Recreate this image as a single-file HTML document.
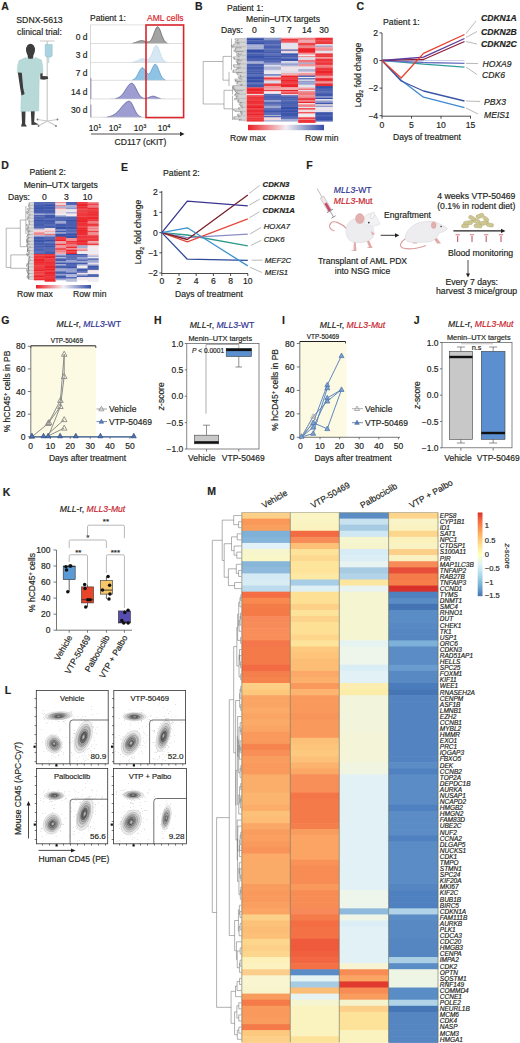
<!DOCTYPE html>
<html><head><meta charset="utf-8"><style>
html,body{margin:0;padding:0;background:#fff;width:520px;height:1043px;overflow:hidden}
svg{display:block;font-family:"Liberation Sans",sans-serif}
text{stroke-width:0.18px;paint-order:stroke}
</style></head><body>
<svg width="520" height="1043" viewBox="0 0 520 1043">
<text x="1.30" y="9.98" font-size="10.5" font-weight="bold" fill="#231f20" stroke="#231f20">A</text>
<text x="39.50" y="22.93" font-size="8.7" text-anchor="middle" fill="#231f20" stroke="#231f20">SDNX-5613</text>
<text x="39.50" y="34.63" font-size="8.7" text-anchor="middle" fill="#231f20" stroke="#231f20">clinical trial:</text>
<line x1="47.20" y1="41.00" x2="47.20" y2="121.00" stroke="#c9c9c9" stroke-width="1.2"/>
<line x1="40.00" y1="41.00" x2="54.50" y2="41.00" stroke="#c9c9c9" stroke-width="1.0"/>
<path d="M45.2,44.5 L52.2,44.5 L52.2,56 Q48.7,59 45.2,56 Z" fill="#a9d3e0" stroke="#8fbccb" stroke-width="0.5"/>
<line x1="48.70" y1="58.00" x2="48.70" y2="63.00" stroke="#9cc8d5" stroke-width="0.8"/>
<line x1="47.20" y1="121.00" x2="37.50" y2="119.50" stroke="#c9c9c9" stroke-width="1.1"/>
<circle cx="37.5" cy="119.5" r="0.9" fill="#777"/>
<line x1="47.20" y1="121.00" x2="57.50" y2="119.50" stroke="#c9c9c9" stroke-width="1.1"/>
<circle cx="57.5" cy="119.5" r="0.9" fill="#777"/>
<line x1="47.20" y1="121.00" x2="38.50" y2="126.00" stroke="#c9c9c9" stroke-width="1.1"/>
<circle cx="38.5" cy="126" r="0.9" fill="#777"/>
<line x1="47.20" y1="121.00" x2="56.00" y2="126.00" stroke="#c9c9c9" stroke-width="1.1"/>
<circle cx="56" cy="126" r="0.9" fill="#777"/>
<path d="M21.5,110 L25.5,110 L25.2,124 L27,126.5 L21,126.5 L22,123 Z" fill="#3d3d3d" stroke="none" stroke-width="0.8"/>
<path d="M30.8,110 L34.8,110 L34.2,122 L39,124.5 L31.5,125 Z" fill="#3d3d3d" stroke="none" stroke-width="0.8"/>
<path d="M27.5,54 L33.5,54 L33,59 L28,59 Z" fill="#3d3d3d" stroke="none" stroke-width="0.8"/>
<ellipse cx="30.5" cy="50" rx="4.5" ry="6.2" fill="#3d3d3d"/>
<path d="M25.5,57.5 Q30.5,60.5 35.5,57.5 L41.5,60 Q43.3,66 43,72.8 L39.8,73.5 L39.2,80 L38.8,111 L20.8,111.5 L21.5,80 L21.8,73 L17.3,72.5 Q16.8,66 19,60.5 Z" fill="#b7d9d8" stroke="#a5cccb" stroke-width="0.4"/>
<path d="M17.8,72.6 L21.8,72.8 L23.2,88 L24.6,94 L21.6,95.5 L20.3,89 Z" fill="#3d3d3d" stroke="none" stroke-width="0.8"/>
<path d="M40.2,73.5 L42.8,73.2 L42.5,76 L47.5,76.3 L48.3,78.8 L44,79.8 L40.3,79.2 Z" fill="#3d3d3d" stroke="none" stroke-width="0.8"/>
<text x="90.00" y="21.06" font-size="8.5" fill="#231f20" stroke="#231f20">Patient 1:</text>
<text x="147.00" y="21.06" font-size="8.5" fill="#d9262c" stroke="#d9262c">AML cells</text>
<text x="87.50" y="40.06" font-size="8.5" text-anchor="end" fill="#231f20" stroke="#231f20">0 d</text>
<text x="87.50" y="57.86" font-size="8.5" text-anchor="end" fill="#231f20" stroke="#231f20">3 d</text>
<text x="87.50" y="75.86" font-size="8.5" text-anchor="end" fill="#231f20" stroke="#231f20">7 d</text>
<text x="87.50" y="95.06" font-size="8.5" text-anchor="end" fill="#231f20" stroke="#231f20">14 d</text>
<text x="87.50" y="113.26" font-size="8.5" text-anchor="end" fill="#231f20" stroke="#231f20">30 d</text>
<line x1="90.50" y1="24.90" x2="183.60" y2="24.90" stroke="#cfcfcf" stroke-width="0.6"/>
<path d="M91,43.5 L91.00,43.50 L91.38,43.50 L91.77,43.50 L92.15,43.50 L92.53,43.50 L92.92,43.50 L93.30,43.50 L93.68,43.50 L94.07,43.50 L94.45,43.50 L94.83,43.50 L95.22,43.50 L95.60,43.50 L95.98,43.50 L96.37,43.50 L96.75,43.50 L97.13,43.50 L97.52,43.50 L97.90,43.50 L98.28,43.50 L98.67,43.50 L99.05,43.50 L99.43,43.50 L99.82,43.50 L100.20,43.50 L100.58,43.50 L100.97,43.50 L101.35,43.50 L101.73,43.50 L102.12,43.50 L102.50,43.50 L102.88,43.50 L103.27,43.50 L103.65,43.50 L104.03,43.50 L104.42,43.50 L104.80,43.50 L105.18,43.50 L105.57,43.50 L105.95,43.50 L106.33,43.50 L106.72,43.50 L107.10,43.50 L107.48,43.50 L107.87,43.50 L108.25,43.50 L108.63,43.50 L109.02,43.50 L109.40,43.50 L109.78,43.50 L110.17,43.50 L110.55,43.50 L110.93,43.50 L111.32,43.50 L111.70,43.50 L112.08,43.50 L112.47,43.50 L112.85,43.50 L113.23,43.50 L113.62,43.50 L114.00,43.50 L114.38,43.50 L114.77,43.50 L115.15,43.50 L115.53,43.50 L115.92,43.50 L116.30,43.50 L116.68,43.50 L117.07,43.50 L117.45,43.50 L117.83,43.50 L118.22,43.50 L118.60,43.50 L118.98,43.50 L119.37,43.50 L119.75,43.50 L120.13,43.50 L120.52,43.50 L120.90,43.50 L121.28,43.50 L121.67,43.50 L122.05,43.50 L122.43,43.50 L122.82,43.50 L123.20,43.50 L123.58,43.50 L123.97,43.50 L124.35,43.50 L124.73,43.50 L125.12,43.50 L125.50,43.50 L125.88,43.49 L126.27,43.49 L126.65,43.49 L127.03,43.49 L127.42,43.48 L127.80,43.48 L128.18,43.47 L128.57,43.46 L128.95,43.45 L129.33,43.44 L129.72,43.42 L130.10,43.40 L130.48,43.38 L130.87,43.35 L131.25,43.31 L131.63,43.27 L132.02,43.23 L132.40,43.17 L132.78,43.11 L133.17,43.04 L133.55,42.96 L133.93,42.87 L134.32,42.77 L134.70,42.66 L135.08,42.55 L135.47,42.42 L135.85,42.29 L136.23,42.15 L136.62,42.01 L137.00,41.86 L137.38,41.71 L137.77,41.56 L138.15,41.41 L138.53,41.27 L138.92,41.14 L139.30,41.01 L139.68,40.90 L140.07,40.81 L140.45,40.73 L140.83,40.67 L141.22,40.62 L141.60,40.60 L141.98,40.60 L142.37,40.62 L142.75,40.66 L143.13,40.72 L143.52,40.80 L143.90,40.89 L144.28,40.99 L144.67,41.11 L145.05,41.23 L145.43,41.35 L145.82,41.47 L146.20,41.59 L146.58,41.70 L146.97,41.79 L147.35,41.85 L147.73,41.89 L148.12,41.90 L148.50,41.86 L148.88,41.77 L149.27,41.62 L149.65,41.41 L150.03,41.12 L150.42,40.76 L150.80,40.30 L151.18,39.76 L151.57,39.12 L151.95,38.40 L152.33,37.59 L152.72,36.69 L153.10,35.73 L153.48,34.72 L153.87,33.67 L154.25,32.61 L154.63,31.56 L155.02,30.55 L155.40,29.61 L155.78,28.77 L156.17,28.05 L156.55,27.48 L156.93,27.07 L157.32,26.84 L157.70,26.80 L158.08,26.95 L158.47,27.27 L158.85,27.77 L159.23,28.43 L159.62,29.22 L160.00,30.13 L160.38,31.11 L160.77,32.16 L161.15,33.23 L161.53,34.31 L161.92,35.36 L162.30,36.38 L162.68,37.34 L163.07,38.23 L163.45,39.04 L163.83,39.77 L164.22,40.42 L164.60,40.98 L164.98,41.46 L165.37,41.87 L165.75,42.21 L166.13,42.49 L166.52,42.72 L166.90,42.91 L167.28,43.05 L167.67,43.17 L168.05,43.25 L168.43,43.32 L168.82,43.37 L169.20,43.41 L169.58,43.43 L169.97,43.45 L170.35,43.47 L170.73,43.48 L171.12,43.49 L171.50,43.49 L171.88,43.49 L172.27,43.50 L172.65,43.50 L173.03,43.50 L173.42,43.50 L173.80,43.50 L174.18,43.50 L174.57,43.50 L174.95,43.50 L175.33,43.50 L175.72,43.50 L176.10,43.50 L176.48,43.50 L176.87,43.50 L177.25,43.50 L177.63,43.50 L178.02,43.50 L178.40,43.50 L178.78,43.50 L179.17,43.50 L179.55,43.50 L179.93,43.50 L180.32,43.50 L180.70,43.50 L181.08,43.50 L181.47,43.50 L181.85,43.50 L182.23,43.50 L182.62,43.50 L183.00,43.50 L183,43.5 Z" fill="#a3a3a3" stroke="none" stroke-width="0.8"/>
<path d="M132.78,43.11 L133.17,43.04 L133.55,42.96 L133.93,42.87 L134.32,42.77 L134.70,42.66 L135.08,42.55 L135.47,42.42 L135.85,42.29 L136.23,42.15 L136.62,42.01 L137.00,41.86 L137.38,41.71 L137.77,41.56 L138.15,41.41 L138.53,41.27 L138.92,41.14 L139.30,41.01 L139.68,40.90 L140.07,40.81 L140.45,40.73 L140.83,40.67 L141.22,40.62 L141.60,40.60 L141.98,40.60 L142.37,40.62 L142.75,40.66 L143.13,40.72 L143.52,40.80 L143.90,40.89 L144.28,40.99 L144.67,41.11 L145.05,41.23 L145.43,41.35 L145.82,41.47 L146.20,41.59 L146.58,41.70 L146.97,41.79 L147.35,41.85 L147.73,41.89 L148.12,41.90 L148.50,41.86 L148.88,41.77 L149.27,41.62 L149.65,41.41 L150.03,41.12 L150.42,40.76 L150.80,40.30 L151.18,39.76 L151.57,39.12 L151.95,38.40 L152.33,37.59 L152.72,36.69 L153.10,35.73 L153.48,34.72 L153.87,33.67 L154.25,32.61 L154.63,31.56 L155.02,30.55 L155.40,29.61 L155.78,28.77 L156.17,28.05 L156.55,27.48 L156.93,27.07 L157.32,26.84 L157.70,26.80 L158.08,26.95 L158.47,27.27 L158.85,27.77 L159.23,28.43 L159.62,29.22 L160.00,30.13 L160.38,31.11 L160.77,32.16 L161.15,33.23 L161.53,34.31 L161.92,35.36 L162.30,36.38 L162.68,37.34 L163.07,38.23 L163.45,39.04 L163.83,39.77 L164.22,40.42 L164.60,40.98 L164.98,41.46 L165.37,41.87 L165.75,42.21 L166.13,42.49 L166.52,42.72 L166.90,42.91 L167.28,43.05" fill="none" stroke="#555555" stroke-width="0.7"/>
<line x1="90.50" y1="43.50" x2="183.60" y2="43.50" stroke="#c8c8c8" stroke-width="0.6"/>
<path d="M91,62.4 L91.00,62.40 L91.38,62.40 L91.77,62.40 L92.15,62.40 L92.53,62.40 L92.92,62.40 L93.30,62.40 L93.68,62.40 L94.07,62.40 L94.45,62.40 L94.83,62.40 L95.22,62.40 L95.60,62.40 L95.98,62.40 L96.37,62.40 L96.75,62.40 L97.13,62.40 L97.52,62.40 L97.90,62.40 L98.28,62.40 L98.67,62.40 L99.05,62.40 L99.43,62.40 L99.82,62.40 L100.20,62.40 L100.58,62.40 L100.97,62.40 L101.35,62.40 L101.73,62.40 L102.12,62.40 L102.50,62.40 L102.88,62.40 L103.27,62.40 L103.65,62.40 L104.03,62.40 L104.42,62.40 L104.80,62.40 L105.18,62.40 L105.57,62.40 L105.95,62.40 L106.33,62.40 L106.72,62.40 L107.10,62.40 L107.48,62.40 L107.87,62.40 L108.25,62.40 L108.63,62.40 L109.02,62.40 L109.40,62.40 L109.78,62.40 L110.17,62.40 L110.55,62.40 L110.93,62.40 L111.32,62.40 L111.70,62.40 L112.08,62.40 L112.47,62.40 L112.85,62.40 L113.23,62.40 L113.62,62.40 L114.00,62.40 L114.38,62.40 L114.77,62.40 L115.15,62.40 L115.53,62.40 L115.92,62.40 L116.30,62.40 L116.68,62.40 L117.07,62.40 L117.45,62.40 L117.83,62.40 L118.22,62.40 L118.60,62.40 L118.98,62.40 L119.37,62.40 L119.75,62.40 L120.13,62.40 L120.52,62.40 L120.90,62.40 L121.28,62.40 L121.67,62.40 L122.05,62.40 L122.43,62.40 L122.82,62.40 L123.20,62.40 L123.58,62.40 L123.97,62.40 L124.35,62.40 L124.73,62.40 L125.12,62.40 L125.50,62.40 L125.88,62.40 L126.27,62.40 L126.65,62.39 L127.03,62.39 L127.42,62.39 L127.80,62.39 L128.18,62.38 L128.57,62.38 L128.95,62.37 L129.33,62.36 L129.72,62.35 L130.10,62.33 L130.48,62.31 L130.87,62.29 L131.25,62.27 L131.63,62.23 L132.02,62.20 L132.40,62.15 L132.78,62.10 L133.17,62.04 L133.55,61.96 L133.93,61.88 L134.32,61.79 L134.70,61.69 L135.08,61.57 L135.47,61.45 L135.85,61.31 L136.23,61.16 L136.62,61.00 L137.00,60.83 L137.38,60.66 L137.77,60.47 L138.15,60.29 L138.53,60.10 L138.92,59.92 L139.30,59.74 L139.68,59.57 L140.07,59.41 L140.45,59.26 L140.83,59.13 L141.22,59.01 L141.60,58.92 L141.98,58.85 L142.37,58.81 L142.75,58.79 L143.13,58.79 L143.52,58.81 L143.90,58.86 L144.28,58.93 L144.67,59.01 L145.05,59.09 L145.43,59.19 L145.82,59.28 L146.20,59.36 L146.58,59.43 L146.97,59.47 L147.35,59.47 L147.73,59.43 L148.12,59.33 L148.50,59.17 L148.88,58.93 L149.27,58.61 L149.65,58.20 L150.03,57.70 L150.42,57.09 L150.80,56.40 L151.18,55.61 L151.57,54.74 L151.95,53.80 L152.33,52.81 L152.72,51.78 L153.10,50.75 L153.48,49.74 L153.87,48.78 L154.25,47.89 L154.63,47.10 L155.02,46.45 L155.40,45.95 L155.78,45.62 L156.17,45.47 L156.55,45.51 L156.93,45.73 L157.32,46.14 L157.70,46.72 L158.08,47.44 L158.47,48.29 L158.85,49.24 L159.23,50.27 L159.62,51.34 L160.00,52.43 L160.38,53.52 L160.77,54.57 L161.15,55.58 L161.53,56.52 L161.92,57.40 L162.30,58.19 L162.68,58.89 L163.07,59.51 L163.45,60.05 L163.83,60.51 L164.22,60.89 L164.60,61.22 L164.98,61.48 L165.37,61.69 L165.75,61.86 L166.13,61.99 L166.52,62.10 L166.90,62.18 L167.28,62.24 L167.67,62.28 L168.05,62.32 L168.43,62.34 L168.82,62.36 L169.20,62.37 L169.58,62.38 L169.97,62.39 L170.35,62.39 L170.73,62.39 L171.12,62.40 L171.50,62.40 L171.88,62.40 L172.27,62.40 L172.65,62.40 L173.03,62.40 L173.42,62.40 L173.80,62.40 L174.18,62.40 L174.57,62.40 L174.95,62.40 L175.33,62.40 L175.72,62.40 L176.10,62.40 L176.48,62.40 L176.87,62.40 L177.25,62.40 L177.63,62.40 L178.02,62.40 L178.40,62.40 L178.78,62.40 L179.17,62.40 L179.55,62.40 L179.93,62.40 L180.32,62.40 L180.70,62.40 L181.08,62.40 L181.47,62.40 L181.85,62.40 L182.23,62.40 L182.62,62.40 L183.00,62.40 L183,62.4 Z" fill="#d7e8f4" stroke="none" stroke-width="0.8"/>
<path d="M133.17,62.04 L133.55,61.96 L133.93,61.88 L134.32,61.79 L134.70,61.69 L135.08,61.57 L135.47,61.45 L135.85,61.31 L136.23,61.16 L136.62,61.00 L137.00,60.83 L137.38,60.66 L137.77,60.47 L138.15,60.29 L138.53,60.10 L138.92,59.92 L139.30,59.74 L139.68,59.57 L140.07,59.41 L140.45,59.26 L140.83,59.13 L141.22,59.01 L141.60,58.92 L141.98,58.85 L142.37,58.81 L142.75,58.79 L143.13,58.79 L143.52,58.81 L143.90,58.86 L144.28,58.93 L144.67,59.01 L145.05,59.09 L145.43,59.19 L145.82,59.28 L146.20,59.36 L146.58,59.43 L146.97,59.47 L147.35,59.47 L147.73,59.43 L148.12,59.33 L148.50,59.17 L148.88,58.93 L149.27,58.61 L149.65,58.20 L150.03,57.70 L150.42,57.09 L150.80,56.40 L151.18,55.61 L151.57,54.74 L151.95,53.80 L152.33,52.81 L152.72,51.78 L153.10,50.75 L153.48,49.74 L153.87,48.78 L154.25,47.89 L154.63,47.10 L155.02,46.45 L155.40,45.95 L155.78,45.62 L156.17,45.47 L156.55,45.51 L156.93,45.73 L157.32,46.14 L157.70,46.72 L158.08,47.44 L158.47,48.29 L158.85,49.24 L159.23,50.27 L159.62,51.34 L160.00,52.43 L160.38,53.52 L160.77,54.57 L161.15,55.58 L161.53,56.52 L161.92,57.40 L162.30,58.19 L162.68,58.89 L163.07,59.51 L163.45,60.05 L163.83,60.51 L164.22,60.89 L164.60,61.22 L164.98,61.48 L165.37,61.69 L165.75,61.86 L166.13,61.99" fill="none" stroke="#b9d4e8" stroke-width="0.7"/>
<line x1="90.50" y1="62.40" x2="183.60" y2="62.40" stroke="#c8c8c8" stroke-width="0.6"/>
<path d="M91,80.3 L91.00,80.30 L91.38,80.30 L91.77,80.30 L92.15,80.30 L92.53,80.30 L92.92,80.30 L93.30,80.30 L93.68,80.30 L94.07,80.30 L94.45,80.30 L94.83,80.30 L95.22,80.30 L95.60,80.30 L95.98,80.30 L96.37,80.30 L96.75,80.30 L97.13,80.30 L97.52,80.30 L97.90,80.30 L98.28,80.30 L98.67,80.30 L99.05,80.30 L99.43,80.30 L99.82,80.30 L100.20,80.30 L100.58,80.30 L100.97,80.30 L101.35,80.30 L101.73,80.30 L102.12,80.30 L102.50,80.30 L102.88,80.30 L103.27,80.30 L103.65,80.30 L104.03,80.30 L104.42,80.30 L104.80,80.30 L105.18,80.30 L105.57,80.30 L105.95,80.30 L106.33,80.30 L106.72,80.30 L107.10,80.30 L107.48,80.30 L107.87,80.30 L108.25,80.30 L108.63,80.30 L109.02,80.30 L109.40,80.30 L109.78,80.30 L110.17,80.30 L110.55,80.30 L110.93,80.30 L111.32,80.30 L111.70,80.30 L112.08,80.30 L112.47,80.30 L112.85,80.30 L113.23,80.30 L113.62,80.30 L114.00,80.30 L114.38,80.30 L114.77,80.30 L115.15,80.30 L115.53,80.30 L115.92,80.30 L116.30,80.30 L116.68,80.30 L117.07,80.30 L117.45,80.30 L117.83,80.30 L118.22,80.30 L118.60,80.30 L118.98,80.30 L119.37,80.30 L119.75,80.30 L120.13,80.30 L120.52,80.30 L120.90,80.30 L121.28,80.30 L121.67,80.30 L122.05,80.30 L122.43,80.30 L122.82,80.30 L123.20,80.30 L123.58,80.30 L123.97,80.30 L124.35,80.30 L124.73,80.30 L125.12,80.30 L125.50,80.30 L125.88,80.30 L126.27,80.30 L126.65,80.30 L127.03,80.30 L127.42,80.29 L127.80,80.29 L128.18,80.29 L128.57,80.28 L128.95,80.28 L129.33,80.27 L129.72,80.25 L130.10,80.23 L130.48,80.21 L130.87,80.18 L131.25,80.13 L131.63,80.07 L132.02,80.00 L132.40,79.91 L132.78,79.79 L133.17,79.65 L133.55,79.47 L133.93,79.26 L134.32,79.00 L134.70,78.70 L135.08,78.34 L135.47,77.93 L135.85,77.47 L136.23,76.95 L136.62,76.37 L137.00,75.75 L137.38,75.07 L137.77,74.36 L138.15,73.61 L138.53,72.85 L138.92,72.09 L139.30,71.34 L139.68,70.62 L140.07,69.94 L140.45,69.34 L140.83,68.81 L141.22,68.38 L141.60,68.06 L141.98,67.85 L142.37,67.76 L142.75,67.80 L143.13,67.96 L143.52,68.23 L143.90,68.60 L144.28,69.05 L144.67,69.58 L145.05,70.15 L145.43,70.75 L145.82,71.36 L146.20,71.94 L146.58,72.48 L146.97,72.96 L147.35,73.36 L147.73,73.65 L148.12,73.84 L148.50,73.90 L148.88,73.83 L149.27,73.62 L149.65,73.29 L150.03,72.83 L150.42,72.25 L150.80,71.58 L151.18,70.82 L151.57,70.00 L151.95,69.15 L152.33,68.29 L152.72,67.45 L153.10,66.66 L153.48,65.94 L153.87,65.32 L154.25,64.83 L154.63,64.49 L155.02,64.30 L155.40,64.27 L155.78,64.41 L156.17,64.72 L156.55,65.18 L156.93,65.78 L157.32,66.50 L157.70,67.33 L158.08,68.24 L158.47,69.21 L158.85,70.20 L159.23,71.21 L159.62,72.20 L160.00,73.16 L160.38,74.07 L160.77,74.93 L161.15,75.72 L161.53,76.43 L161.92,77.07 L162.30,77.63 L162.68,78.12 L163.07,78.53 L163.45,78.89 L163.83,79.18 L164.22,79.42 L164.60,79.62 L164.98,79.78 L165.37,79.90 L165.75,80.00 L166.13,80.08 L166.52,80.14 L166.90,80.18 L167.28,80.22 L167.67,80.24 L168.05,80.26 L168.43,80.27 L168.82,80.28 L169.20,80.29 L169.58,80.29 L169.97,80.29 L170.35,80.30 L170.73,80.30 L171.12,80.30 L171.50,80.30 L171.88,80.30 L172.27,80.30 L172.65,80.30 L173.03,80.30 L173.42,80.30 L173.80,80.30 L174.18,80.30 L174.57,80.30 L174.95,80.30 L175.33,80.30 L175.72,80.30 L176.10,80.30 L176.48,80.30 L176.87,80.30 L177.25,80.30 L177.63,80.30 L178.02,80.30 L178.40,80.30 L178.78,80.30 L179.17,80.30 L179.55,80.30 L179.93,80.30 L180.32,80.30 L180.70,80.30 L181.08,80.30 L181.47,80.30 L181.85,80.30 L182.23,80.30 L182.62,80.30 L183.00,80.30 L183,80.3 Z" fill="#8ec3e6" stroke="none" stroke-width="0.8"/>
<path d="M132.40,79.91 L132.78,79.79 L133.17,79.65 L133.55,79.47 L133.93,79.26 L134.32,79.00 L134.70,78.70 L135.08,78.34 L135.47,77.93 L135.85,77.47 L136.23,76.95 L136.62,76.37 L137.00,75.75 L137.38,75.07 L137.77,74.36 L138.15,73.61 L138.53,72.85 L138.92,72.09 L139.30,71.34 L139.68,70.62 L140.07,69.94 L140.45,69.34 L140.83,68.81 L141.22,68.38 L141.60,68.06 L141.98,67.85 L142.37,67.76 L142.75,67.80 L143.13,67.96 L143.52,68.23 L143.90,68.60 L144.28,69.05 L144.67,69.58 L145.05,70.15 L145.43,70.75 L145.82,71.36 L146.20,71.94 L146.58,72.48 L146.97,72.96 L147.35,73.36 L147.73,73.65 L148.12,73.84 L148.50,73.90 L148.88,73.83 L149.27,73.62 L149.65,73.29 L150.03,72.83 L150.42,72.25 L150.80,71.58 L151.18,70.82 L151.57,70.00 L151.95,69.15 L152.33,68.29 L152.72,67.45 L153.10,66.66 L153.48,65.94 L153.87,65.32 L154.25,64.83 L154.63,64.49 L155.02,64.30 L155.40,64.27 L155.78,64.41 L156.17,64.72 L156.55,65.18 L156.93,65.78 L157.32,66.50 L157.70,67.33 L158.08,68.24 L158.47,69.21 L158.85,70.20 L159.23,71.21 L159.62,72.20 L160.00,73.16 L160.38,74.07 L160.77,74.93 L161.15,75.72 L161.53,76.43 L161.92,77.07 L162.30,77.63 L162.68,78.12 L163.07,78.53 L163.45,78.89 L163.83,79.18 L164.22,79.42 L164.60,79.62 L164.98,79.78 L165.37,79.90" fill="none" stroke="#4f8fc0" stroke-width="0.7"/>
<line x1="90.50" y1="80.30" x2="183.60" y2="80.30" stroke="#c8c8c8" stroke-width="0.6"/>
<path d="M91,98.9 L91.00,98.90 L91.38,98.90 L91.77,98.90 L92.15,98.90 L92.53,98.90 L92.92,98.90 L93.30,98.90 L93.68,98.90 L94.07,98.90 L94.45,98.90 L94.83,98.90 L95.22,98.90 L95.60,98.90 L95.98,98.90 L96.37,98.90 L96.75,98.90 L97.13,98.90 L97.52,98.90 L97.90,98.90 L98.28,98.90 L98.67,98.90 L99.05,98.90 L99.43,98.90 L99.82,98.90 L100.20,98.90 L100.58,98.90 L100.97,98.90 L101.35,98.90 L101.73,98.90 L102.12,98.90 L102.50,98.90 L102.88,98.90 L103.27,98.90 L103.65,98.90 L104.03,98.90 L104.42,98.90 L104.80,98.90 L105.18,98.90 L105.57,98.90 L105.95,98.90 L106.33,98.90 L106.72,98.90 L107.10,98.90 L107.48,98.90 L107.87,98.89 L108.25,98.89 L108.63,98.89 L109.02,98.89 L109.40,98.89 L109.78,98.88 L110.17,98.88 L110.55,98.87 L110.93,98.86 L111.32,98.85 L111.70,98.84 L112.08,98.83 L112.47,98.81 L112.85,98.79 L113.23,98.77 L113.62,98.74 L114.00,98.71 L114.38,98.67 L114.77,98.62 L115.15,98.57 L115.53,98.50 L115.92,98.43 L116.30,98.34 L116.68,98.24 L117.07,98.13 L117.45,98.00 L117.83,97.85 L118.22,97.69 L118.60,97.50 L118.98,97.30 L119.37,97.07 L119.75,96.81 L120.13,96.53 L120.52,96.22 L120.90,95.89 L121.28,95.52 L121.67,95.13 L122.05,94.71 L122.43,94.26 L122.82,93.78 L123.20,93.28 L123.58,92.75 L123.97,92.20 L124.35,91.64 L124.73,91.05 L125.12,90.46 L125.50,89.85 L125.88,89.25 L126.27,88.64 L126.65,88.04 L127.03,87.45 L127.42,86.88 L127.80,86.33 L128.18,85.81 L128.57,85.32 L128.95,84.87 L129.33,84.47 L129.72,84.12 L130.10,83.82 L130.48,83.57 L130.87,83.39 L131.25,83.27 L131.63,83.21 L132.02,83.22 L132.40,83.33 L132.78,83.55 L133.17,83.88 L133.55,84.30 L133.93,84.80 L134.32,85.38 L134.70,86.03 L135.08,86.73 L135.47,87.47 L135.85,88.24 L136.23,89.03 L136.62,89.83 L137.00,90.61 L137.38,91.38 L137.77,92.13 L138.15,92.84 L138.53,93.52 L138.92,94.15 L139.30,94.74 L139.68,95.28 L140.07,95.77 L140.45,96.21 L140.83,96.60 L141.22,96.95 L141.60,97.25 L141.98,97.51 L142.37,97.72 L142.75,97.91 L143.13,98.05 L143.52,98.17 L143.90,98.25 L144.28,98.31 L144.67,98.34 L145.05,98.35 L145.43,98.33 L145.82,98.30 L146.20,98.24 L146.58,98.16 L146.97,98.07 L147.35,97.95 L147.73,97.83 L148.12,97.69 L148.50,97.54 L148.88,97.38 L149.27,97.22 L149.65,97.06 L150.03,96.90 L150.42,96.75 L150.80,96.61 L151.18,96.49 L151.57,96.38 L151.95,96.30 L152.33,96.24 L152.72,96.21 L153.10,96.20 L153.48,96.22 L153.87,96.27 L154.25,96.34 L154.63,96.44 L155.02,96.55 L155.40,96.69 L155.78,96.84 L156.17,96.99 L156.55,97.15 L156.93,97.32 L157.32,97.48 L157.70,97.64 L158.08,97.80 L158.47,97.94 L158.85,98.07 L159.23,98.20 L159.62,98.31 L160.00,98.41 L160.38,98.49 L160.77,98.57 L161.15,98.63 L161.53,98.68 L161.92,98.73 L162.30,98.76 L162.68,98.79 L163.07,98.82 L163.45,98.84 L163.83,98.85 L164.22,98.87 L164.60,98.87 L164.98,98.88 L165.37,98.89 L165.75,98.89 L166.13,98.89 L166.52,98.90 L166.90,98.90 L167.28,98.90 L167.67,98.90 L168.05,98.90 L168.43,98.90 L168.82,98.90 L169.20,98.90 L169.58,98.90 L169.97,98.90 L170.35,98.90 L170.73,98.90 L171.12,98.90 L171.50,98.90 L171.88,98.90 L172.27,98.90 L172.65,98.90 L173.03,98.90 L173.42,98.90 L173.80,98.90 L174.18,98.90 L174.57,98.90 L174.95,98.90 L175.33,98.90 L175.72,98.90 L176.10,98.90 L176.48,98.90 L176.87,98.90 L177.25,98.90 L177.63,98.90 L178.02,98.90 L178.40,98.90 L178.78,98.90 L179.17,98.90 L179.55,98.90 L179.93,98.90 L180.32,98.90 L180.70,98.90 L181.08,98.90 L181.47,98.90 L181.85,98.90 L182.23,98.90 L182.62,98.90 L183.00,98.90 L183,98.9 Z" fill="#9d9dd2" stroke="none" stroke-width="0.8"/>
<path d="M115.53,98.50 L115.92,98.43 L116.30,98.34 L116.68,98.24 L117.07,98.13 L117.45,98.00 L117.83,97.85 L118.22,97.69 L118.60,97.50 L118.98,97.30 L119.37,97.07 L119.75,96.81 L120.13,96.53 L120.52,96.22 L120.90,95.89 L121.28,95.52 L121.67,95.13 L122.05,94.71 L122.43,94.26 L122.82,93.78 L123.20,93.28 L123.58,92.75 L123.97,92.20 L124.35,91.64 L124.73,91.05 L125.12,90.46 L125.50,89.85 L125.88,89.25 L126.27,88.64 L126.65,88.04 L127.03,87.45 L127.42,86.88 L127.80,86.33 L128.18,85.81 L128.57,85.32 L128.95,84.87 L129.33,84.47 L129.72,84.12 L130.10,83.82 L130.48,83.57 L130.87,83.39 L131.25,83.27 L131.63,83.21 L132.02,83.22 L132.40,83.33 L132.78,83.55 L133.17,83.88 L133.55,84.30 L133.93,84.80 L134.32,85.38 L134.70,86.03 L135.08,86.73 L135.47,87.47 L135.85,88.24 L136.23,89.03 L136.62,89.83 L137.00,90.61 L137.38,91.38 L137.77,92.13 L138.15,92.84 L138.53,93.52 L138.92,94.15 L139.30,94.74 L139.68,95.28 L140.07,95.77 L140.45,96.21 L140.83,96.60 L141.22,96.95 L141.60,97.25 L141.98,97.51 L142.37,97.72 L142.75,97.91 L143.13,98.05 L143.52,98.17 L143.90,98.25 L144.28,98.31 L144.67,98.34 L145.05,98.35 L145.43,98.33 L145.82,98.30 L146.20,98.24 L146.58,98.16 L146.97,98.07 L147.35,97.95 L147.73,97.83 L148.12,97.69 L148.50,97.54 L148.88,97.38 L149.27,97.22 L149.65,97.06 L150.03,96.90 L150.42,96.75 L150.80,96.61 L151.18,96.49 L151.57,96.38 L151.95,96.30 L152.33,96.24 L152.72,96.21 L153.10,96.20 L153.48,96.22 L153.87,96.27 L154.25,96.34 L154.63,96.44 L155.02,96.55 L155.40,96.69 L155.78,96.84 L156.17,96.99 L156.55,97.15 L156.93,97.32 L157.32,97.48 L157.70,97.64 L158.08,97.80 L158.47,97.94 L158.85,98.07 L159.23,98.20 L159.62,98.31 L160.00,98.41 L160.38,98.49" fill="none" stroke="#4b4b8f" stroke-width="0.7"/>
<line x1="90.50" y1="98.90" x2="183.60" y2="98.90" stroke="#c8c8c8" stroke-width="0.6"/>
<path d="M91,117.2 L91.00,117.20 L91.38,117.20 L91.77,117.20 L92.15,117.20 L92.53,117.20 L92.92,117.20 L93.30,117.20 L93.68,117.20 L94.07,117.20 L94.45,117.20 L94.83,117.20 L95.22,117.20 L95.60,117.20 L95.98,117.20 L96.37,117.20 L96.75,117.20 L97.13,117.20 L97.52,117.19 L97.90,117.19 L98.28,117.19 L98.67,117.19 L99.05,117.19 L99.43,117.18 L99.82,117.18 L100.20,117.18 L100.58,117.17 L100.97,117.17 L101.35,117.16 L101.73,117.16 L102.12,117.15 L102.50,117.14 L102.88,117.13 L103.27,117.12 L103.65,117.11 L104.03,117.09 L104.42,117.07 L104.80,117.05 L105.18,117.03 L105.57,117.00 L105.95,116.97 L106.33,116.94 L106.72,116.90 L107.10,116.86 L107.48,116.81 L107.87,116.76 L108.25,116.70 L108.63,116.63 L109.02,116.56 L109.40,116.47 L109.78,116.38 L110.17,116.28 L110.55,116.17 L110.93,116.05 L111.32,115.92 L111.70,115.78 L112.08,115.62 L112.47,115.45 L112.85,115.27 L113.23,115.07 L113.62,114.86 L114.00,114.63 L114.38,114.39 L114.77,114.13 L115.15,113.85 L115.53,113.56 L115.92,113.25 L116.30,112.93 L116.68,112.59 L117.07,112.23 L117.45,111.86 L117.83,111.47 L118.22,111.07 L118.60,110.66 L118.98,110.23 L119.37,109.80 L119.75,109.35 L120.13,108.90 L120.52,108.44 L120.90,107.98 L121.28,107.52 L121.67,107.05 L122.05,106.59 L122.43,106.13 L122.82,105.68 L123.20,105.24 L123.58,104.81 L123.97,104.39 L124.35,103.99 L124.73,103.61 L125.12,103.24 L125.50,102.91 L125.88,102.59 L126.27,102.31 L126.65,102.05 L127.03,101.83 L127.42,101.64 L127.80,101.48 L128.18,101.36 L128.57,101.27 L128.95,101.22 L129.33,101.20 L129.72,101.27 L130.10,101.46 L130.48,101.77 L130.87,102.18 L131.25,102.70 L131.63,103.30 L132.02,103.98 L132.40,104.72 L132.78,105.50 L133.17,106.33 L133.55,107.16 L133.93,108.01 L134.32,108.85 L134.70,109.67 L135.08,110.46 L135.47,111.21 L135.85,111.92 L136.23,112.58 L136.62,113.19 L137.00,113.74 L137.38,114.24 L137.77,114.69 L138.15,115.08 L138.53,115.43 L138.92,115.73 L139.30,115.99 L139.68,116.21 L140.07,116.40 L140.45,116.55 L140.83,116.68 L141.22,116.79 L141.60,116.88 L141.98,116.95 L142.37,117.01 L142.75,117.05 L143.13,117.09 L143.52,117.11 L143.90,117.13 L144.28,117.15 L144.67,117.16 L145.05,117.17 L145.43,117.18 L145.82,117.19 L146.20,117.19 L146.58,117.19 L146.97,117.19 L147.35,117.20 L147.73,117.20 L148.12,117.20 L148.50,117.20 L148.88,117.20 L149.27,117.20 L149.65,117.20 L150.03,117.20 L150.42,117.20 L150.80,117.20 L151.18,117.20 L151.57,117.20 L151.95,117.20 L152.33,117.20 L152.72,117.20 L153.10,117.20 L153.48,117.20 L153.87,117.20 L154.25,117.20 L154.63,117.20 L155.02,117.20 L155.40,117.20 L155.78,117.20 L156.17,117.20 L156.55,117.20 L156.93,117.20 L157.32,117.20 L157.70,117.20 L158.08,117.20 L158.47,117.20 L158.85,117.20 L159.23,117.20 L159.62,117.20 L160.00,117.20 L160.38,117.20 L160.77,117.20 L161.15,117.20 L161.53,117.20 L161.92,117.20 L162.30,117.20 L162.68,117.20 L163.07,117.20 L163.45,117.20 L163.83,117.20 L164.22,117.20 L164.60,117.20 L164.98,117.20 L165.37,117.20 L165.75,117.20 L166.13,117.20 L166.52,117.20 L166.90,117.20 L167.28,117.20 L167.67,117.20 L168.05,117.20 L168.43,117.20 L168.82,117.20 L169.20,117.20 L169.58,117.20 L169.97,117.20 L170.35,117.20 L170.73,117.20 L171.12,117.20 L171.50,117.20 L171.88,117.20 L172.27,117.20 L172.65,117.20 L173.03,117.20 L173.42,117.20 L173.80,117.20 L174.18,117.20 L174.57,117.20 L174.95,117.20 L175.33,117.20 L175.72,117.20 L176.10,117.20 L176.48,117.20 L176.87,117.20 L177.25,117.20 L177.63,117.20 L178.02,117.20 L178.40,117.20 L178.78,117.20 L179.17,117.20 L179.55,117.20 L179.93,117.20 L180.32,117.20 L180.70,117.20 L181.08,117.20 L181.47,117.20 L181.85,117.20 L182.23,117.20 L182.62,117.20 L183.00,117.20 L183,117.2 Z" fill="#9d9dd2" stroke="none" stroke-width="0.8"/>
<path d="M107.48,116.81 L107.87,116.76 L108.25,116.70 L108.63,116.63 L109.02,116.56 L109.40,116.47 L109.78,116.38 L110.17,116.28 L110.55,116.17 L110.93,116.05 L111.32,115.92 L111.70,115.78 L112.08,115.62 L112.47,115.45 L112.85,115.27 L113.23,115.07 L113.62,114.86 L114.00,114.63 L114.38,114.39 L114.77,114.13 L115.15,113.85 L115.53,113.56 L115.92,113.25 L116.30,112.93 L116.68,112.59 L117.07,112.23 L117.45,111.86 L117.83,111.47 L118.22,111.07 L118.60,110.66 L118.98,110.23 L119.37,109.80 L119.75,109.35 L120.13,108.90 L120.52,108.44 L120.90,107.98 L121.28,107.52 L121.67,107.05 L122.05,106.59 L122.43,106.13 L122.82,105.68 L123.20,105.24 L123.58,104.81 L123.97,104.39 L124.35,103.99 L124.73,103.61 L125.12,103.24 L125.50,102.91 L125.88,102.59 L126.27,102.31 L126.65,102.05 L127.03,101.83 L127.42,101.64 L127.80,101.48 L128.18,101.36 L128.57,101.27 L128.95,101.22 L129.33,101.20 L129.72,101.27 L130.10,101.46 L130.48,101.77 L130.87,102.18 L131.25,102.70 L131.63,103.30 L132.02,103.98 L132.40,104.72 L132.78,105.50 L133.17,106.33 L133.55,107.16 L133.93,108.01 L134.32,108.85 L134.70,109.67 L135.08,110.46 L135.47,111.21 L135.85,111.92 L136.23,112.58 L136.62,113.19 L137.00,113.74 L137.38,114.24 L137.77,114.69 L138.15,115.08 L138.53,115.43 L138.92,115.73 L139.30,115.99 L139.68,116.21 L140.07,116.40 L140.45,116.55 L140.83,116.68 L141.22,116.79" fill="none" stroke="#4b4b8f" stroke-width="0.7"/>
<line x1="90.50" y1="117.20" x2="183.60" y2="117.20" stroke="#c8c8c8" stroke-width="0.6"/>
<rect x="90.20" y="78.00" width="1.10" height="20.90" fill="#6b6bb0" stroke="none" stroke-width="0.8"/>
<rect x="90.20" y="104.70" width="1.10" height="12.50" fill="#6b6bb0" stroke="none" stroke-width="0.8"/>
<line x1="90.50" y1="24.90" x2="90.50" y2="117.60" stroke="#bdbdbd" stroke-width="0.6"/>
<rect x="146.00" y="25.00" width="37.60" height="92.60" fill="none" stroke="#d9262c" stroke-width="1.6"/>
<text x="95.00" y="130.5" font-size="8.4" fill="#231f20" stroke="#231f20" text-anchor="middle">10<tspan font-size="5.5" dy="-3">1</tspan></text>
<text x="115.00" y="130.5" font-size="8.4" fill="#231f20" stroke="#231f20" text-anchor="middle">10<tspan font-size="5.5" dy="-3">2</tspan></text>
<text x="140.00" y="130.5" font-size="8.4" fill="#231f20" stroke="#231f20" text-anchor="middle">10<tspan font-size="5.5" dy="-3">3</tspan></text>
<text x="164.00" y="130.5" font-size="8.4" fill="#231f20" stroke="#231f20" text-anchor="middle">10<tspan font-size="5.5" dy="-3">4</tspan></text>
<line x1="91.00" y1="134.00" x2="181.00" y2="134.00" stroke="#231f20" stroke-width="0.8"/>
<path d="M184.5,134 L180,131.8 L180,136.2 Z" fill="#231f20" stroke="none" stroke-width="0.8"/>
<text x="140.50" y="144.60" font-size="8.6" text-anchor="middle" fill="#231f20" stroke="#231f20">CD117 (cKIT)</text>
<text x="195.00" y="9.58" font-size="10.5" font-weight="bold" fill="#231f20" stroke="#231f20">B</text>
<text x="227.00" y="10.60" font-size="8.6" fill="#231f20" stroke="#231f20">Patient 1:</text>
<text x="246.00" y="21.60" font-size="8.6" fill="#231f20" stroke="#231f20">Menin–UTX targets</text>
<text x="221.00" y="33.10" font-size="8.6" fill="#231f20" stroke="#231f20">Days:</text>
<text x="254.50" y="33.10" font-size="8.6" text-anchor="middle" fill="#231f20" stroke="#231f20">0</text>
<text x="272.50" y="33.10" font-size="8.6" text-anchor="middle" fill="#231f20" stroke="#231f20">3</text>
<text x="289.50" y="33.10" font-size="8.6" text-anchor="middle" fill="#231f20" stroke="#231f20">7</text>
<text x="306.80" y="33.10" font-size="8.6" text-anchor="middle" fill="#231f20" stroke="#231f20">14</text>
<text x="324.00" y="33.10" font-size="8.6" text-anchor="middle" fill="#231f20" stroke="#231f20">30</text>
<rect x="246.70" y="37.70" width="17.46" height="1.61" fill="#586cb6" stroke="none" stroke-width="0.8"/>
<rect x="246.70" y="39.01" width="17.46" height="1.61" fill="#3750a9" stroke="none" stroke-width="0.8"/>
<rect x="246.70" y="40.31" width="17.46" height="2.91" fill="#4a61b1" stroke="none" stroke-width="0.8"/>
<rect x="246.70" y="42.93" width="17.46" height="1.61" fill="#354fa9" stroke="none" stroke-width="0.8"/>
<rect x="246.70" y="44.23" width="17.46" height="1.61" fill="#8e9acb" stroke="none" stroke-width="0.8"/>
<rect x="246.70" y="45.54" width="17.46" height="1.61" fill="#afb6d8" stroke="none" stroke-width="0.8"/>
<rect x="246.70" y="46.84" width="17.46" height="1.61" fill="#a4acd4" stroke="none" stroke-width="0.8"/>
<rect x="246.70" y="48.15" width="17.46" height="1.61" fill="#a1aad2" stroke="none" stroke-width="0.8"/>
<rect x="246.70" y="49.46" width="17.46" height="2.91" fill="#364fa9" stroke="none" stroke-width="0.8"/>
<rect x="246.70" y="52.07" width="17.46" height="1.61" fill="#445bae" stroke="none" stroke-width="0.8"/>
<rect x="246.70" y="53.38" width="17.46" height="1.61" fill="#4960b0" stroke="none" stroke-width="0.8"/>
<rect x="246.70" y="54.68" width="17.46" height="1.61" fill="#4a61b1" stroke="none" stroke-width="0.8"/>
<rect x="246.70" y="55.99" width="17.46" height="2.91" fill="#3851a9" stroke="none" stroke-width="0.8"/>
<rect x="246.70" y="58.60" width="17.46" height="1.61" fill="#4c62b1" stroke="none" stroke-width="0.8"/>
<rect x="246.70" y="59.91" width="17.46" height="1.61" fill="#5267b4" stroke="none" stroke-width="0.8"/>
<rect x="246.70" y="61.21" width="17.46" height="1.61" fill="#959fce" stroke="none" stroke-width="0.8"/>
<rect x="246.70" y="62.52" width="17.46" height="1.61" fill="#a8b0d5" stroke="none" stroke-width="0.8"/>
<rect x="246.70" y="63.83" width="17.46" height="2.91" fill="#485fb0" stroke="none" stroke-width="0.8"/>
<rect x="246.70" y="66.44" width="17.46" height="2.91" fill="#3f57ac" stroke="none" stroke-width="0.8"/>
<rect x="246.70" y="69.05" width="17.46" height="1.61" fill="#475eb0" stroke="none" stroke-width="0.8"/>
<rect x="246.70" y="70.36" width="17.46" height="1.61" fill="#3a53aa" stroke="none" stroke-width="0.8"/>
<rect x="246.70" y="71.66" width="17.46" height="1.61" fill="#596db6" stroke="none" stroke-width="0.8"/>
<rect x="246.70" y="72.97" width="17.46" height="1.61" fill="#4159ad" stroke="none" stroke-width="0.8"/>
<rect x="246.70" y="74.28" width="17.46" height="1.61" fill="#4a61b1" stroke="none" stroke-width="0.8"/>
<rect x="246.70" y="75.58" width="17.46" height="1.61" fill="#586cb6" stroke="none" stroke-width="0.8"/>
<rect x="246.70" y="76.89" width="17.46" height="2.91" fill="#3650a9" stroke="none" stroke-width="0.8"/>
<rect x="246.70" y="79.50" width="17.46" height="1.61" fill="#3f57ac" stroke="none" stroke-width="0.8"/>
<rect x="246.70" y="80.81" width="17.46" height="1.61" fill="#354fa8" stroke="none" stroke-width="0.8"/>
<rect x="246.70" y="82.11" width="17.46" height="1.61" fill="#4b62b1" stroke="none" stroke-width="0.8"/>
<rect x="246.70" y="83.42" width="17.46" height="1.61" fill="#5167b3" stroke="none" stroke-width="0.8"/>
<rect x="246.70" y="84.72" width="17.46" height="2.91" fill="#435bae" stroke="none" stroke-width="0.8"/>
<rect x="246.70" y="87.34" width="17.46" height="1.61" fill="#ed4046" stroke="none" stroke-width="0.8"/>
<rect x="246.70" y="88.64" width="17.46" height="2.91" fill="#ec2228" stroke="none" stroke-width="0.8"/>
<rect x="246.70" y="91.26" width="17.46" height="2.91" fill="#ec292f" stroke="none" stroke-width="0.8"/>
<rect x="246.70" y="93.87" width="17.46" height="1.61" fill="#f1d7db" stroke="none" stroke-width="0.8"/>
<rect x="246.70" y="95.17" width="17.46" height="1.61" fill="#ed3e43" stroke="none" stroke-width="0.8"/>
<rect x="246.70" y="96.48" width="17.46" height="1.61" fill="#ed3137" stroke="none" stroke-width="0.8"/>
<rect x="246.70" y="97.79" width="17.46" height="1.61" fill="#ed393f" stroke="none" stroke-width="0.8"/>
<rect x="246.70" y="99.09" width="17.46" height="1.61" fill="#ec2d32" stroke="none" stroke-width="0.8"/>
<rect x="246.70" y="100.40" width="17.46" height="1.61" fill="#ec2a2f" stroke="none" stroke-width="0.8"/>
<rect x="246.70" y="101.71" width="17.46" height="2.91" fill="#ed3238" stroke="none" stroke-width="0.8"/>
<rect x="246.70" y="104.32" width="17.46" height="1.61" fill="#ed353a" stroke="none" stroke-width="0.8"/>
<rect x="246.70" y="105.62" width="17.46" height="1.61" fill="#ec2c32" stroke="none" stroke-width="0.8"/>
<rect x="246.70" y="106.93" width="17.46" height="1.61" fill="#ec1f25" stroke="none" stroke-width="0.8"/>
<rect x="246.70" y="108.24" width="17.46" height="1.61" fill="#ed373c" stroke="none" stroke-width="0.8"/>
<rect x="246.70" y="109.54" width="17.46" height="1.61" fill="#ec2e34" stroke="none" stroke-width="0.8"/>
<rect x="246.70" y="110.85" width="17.46" height="1.61" fill="#ec2c32" stroke="none" stroke-width="0.8"/>
<rect x="246.70" y="112.16" width="17.46" height="1.61" fill="#ec2c32" stroke="none" stroke-width="0.8"/>
<rect x="246.70" y="113.46" width="17.46" height="1.61" fill="#ec2026" stroke="none" stroke-width="0.8"/>
<rect x="246.70" y="114.77" width="17.46" height="2.91" fill="#ed3f45" stroke="none" stroke-width="0.8"/>
<rect x="246.70" y="117.38" width="17.46" height="1.61" fill="#ed3137" stroke="none" stroke-width="0.8"/>
<rect x="246.70" y="118.69" width="17.46" height="1.61" fill="#ed4045" stroke="none" stroke-width="0.8"/>
<rect x="246.70" y="119.99" width="17.46" height="1.61" fill="#ed3237" stroke="none" stroke-width="0.8"/>
<rect x="263.86" y="37.70" width="17.46" height="2.91" fill="#8c98ca" stroke="none" stroke-width="0.8"/>
<rect x="263.86" y="40.31" width="17.46" height="1.61" fill="#3a53aa" stroke="none" stroke-width="0.8"/>
<rect x="263.86" y="41.62" width="17.46" height="1.61" fill="#5166b3" stroke="none" stroke-width="0.8"/>
<rect x="263.86" y="42.93" width="17.46" height="1.61" fill="#4e64b2" stroke="none" stroke-width="0.8"/>
<rect x="263.86" y="44.23" width="17.46" height="1.61" fill="#576bb5" stroke="none" stroke-width="0.8"/>
<rect x="263.86" y="45.54" width="17.46" height="2.91" fill="#485fb0" stroke="none" stroke-width="0.8"/>
<rect x="263.86" y="48.15" width="17.46" height="1.61" fill="#4c62b1" stroke="none" stroke-width="0.8"/>
<rect x="263.86" y="49.46" width="17.46" height="2.91" fill="#5368b4" stroke="none" stroke-width="0.8"/>
<rect x="263.86" y="52.07" width="17.46" height="1.61" fill="#3c54ab" stroke="none" stroke-width="0.8"/>
<rect x="263.86" y="53.38" width="17.46" height="2.91" fill="#5a6eb7" stroke="none" stroke-width="0.8"/>
<rect x="263.86" y="55.99" width="17.46" height="1.61" fill="#3e56ac" stroke="none" stroke-width="0.8"/>
<rect x="263.86" y="57.29" width="17.46" height="2.91" fill="#455caf" stroke="none" stroke-width="0.8"/>
<rect x="263.86" y="59.91" width="17.46" height="1.61" fill="#586db6" stroke="none" stroke-width="0.8"/>
<rect x="263.86" y="61.21" width="17.46" height="1.61" fill="#3851aa" stroke="none" stroke-width="0.8"/>
<rect x="263.86" y="62.52" width="17.46" height="1.61" fill="#8c98ca" stroke="none" stroke-width="0.8"/>
<rect x="263.86" y="63.83" width="17.46" height="1.61" fill="#9ba5d0" stroke="none" stroke-width="0.8"/>
<rect x="263.86" y="65.13" width="17.46" height="1.61" fill="#dfdeeb" stroke="none" stroke-width="0.8"/>
<rect x="263.86" y="66.44" width="17.46" height="2.91" fill="#adb4d7" stroke="none" stroke-width="0.8"/>
<rect x="263.86" y="69.05" width="17.46" height="1.61" fill="#b3b9d9" stroke="none" stroke-width="0.8"/>
<rect x="263.86" y="70.36" width="17.46" height="2.91" fill="#eae8ef" stroke="none" stroke-width="0.8"/>
<rect x="263.86" y="72.97" width="17.46" height="1.61" fill="#edeaf0" stroke="none" stroke-width="0.8"/>
<rect x="263.86" y="74.28" width="17.46" height="1.61" fill="#5065b3" stroke="none" stroke-width="0.8"/>
<rect x="263.86" y="75.58" width="17.46" height="1.61" fill="#dcdcea" stroke="none" stroke-width="0.8"/>
<rect x="263.86" y="76.89" width="17.46" height="1.61" fill="#ef7d82" stroke="none" stroke-width="0.8"/>
<rect x="263.86" y="78.19" width="17.46" height="1.61" fill="#ec1f25" stroke="none" stroke-width="0.8"/>
<rect x="263.86" y="79.50" width="17.46" height="1.61" fill="#f0a6ab" stroke="none" stroke-width="0.8"/>
<rect x="263.86" y="80.81" width="17.46" height="2.91" fill="#dcdbe9" stroke="none" stroke-width="0.8"/>
<rect x="263.86" y="83.42" width="17.46" height="2.91" fill="#ed4045" stroke="none" stroke-width="0.8"/>
<rect x="263.86" y="86.03" width="17.46" height="2.91" fill="#ef9599" stroke="none" stroke-width="0.8"/>
<rect x="263.86" y="88.64" width="17.46" height="1.61" fill="#f0aeb2" stroke="none" stroke-width="0.8"/>
<rect x="263.86" y="89.95" width="17.46" height="1.61" fill="#ed3a40" stroke="none" stroke-width="0.8"/>
<rect x="263.86" y="91.26" width="17.46" height="2.91" fill="#f2ecf0" stroke="none" stroke-width="0.8"/>
<rect x="263.86" y="93.87" width="17.46" height="1.61" fill="#576bb5" stroke="none" stroke-width="0.8"/>
<rect x="263.86" y="95.17" width="17.46" height="2.91" fill="#4d63b2" stroke="none" stroke-width="0.8"/>
<rect x="263.86" y="97.79" width="17.46" height="2.91" fill="#5368b4" stroke="none" stroke-width="0.8"/>
<rect x="263.86" y="100.40" width="17.46" height="1.61" fill="#9ea8d1" stroke="none" stroke-width="0.8"/>
<rect x="263.86" y="101.71" width="17.46" height="2.91" fill="#556ab5" stroke="none" stroke-width="0.8"/>
<rect x="263.86" y="104.32" width="17.46" height="1.61" fill="#5167b3" stroke="none" stroke-width="0.8"/>
<rect x="263.86" y="105.62" width="17.46" height="2.91" fill="#9ba5d0" stroke="none" stroke-width="0.8"/>
<rect x="263.86" y="108.24" width="17.46" height="1.61" fill="#4058ad" stroke="none" stroke-width="0.8"/>
<rect x="263.86" y="109.54" width="17.46" height="1.61" fill="#5267b4" stroke="none" stroke-width="0.8"/>
<rect x="263.86" y="110.85" width="17.46" height="1.61" fill="#3d56ac" stroke="none" stroke-width="0.8"/>
<rect x="263.86" y="112.16" width="17.46" height="1.61" fill="#475eb0" stroke="none" stroke-width="0.8"/>
<rect x="263.86" y="113.46" width="17.46" height="1.61" fill="#455caf" stroke="none" stroke-width="0.8"/>
<rect x="263.86" y="114.77" width="17.46" height="1.61" fill="#a7afd5" stroke="none" stroke-width="0.8"/>
<rect x="263.86" y="116.08" width="17.46" height="1.61" fill="#475eb0" stroke="none" stroke-width="0.8"/>
<rect x="263.86" y="117.38" width="17.46" height="2.91" fill="#f1d9dd" stroke="none" stroke-width="0.8"/>
<rect x="263.86" y="119.99" width="17.46" height="1.61" fill="#b0b6d8" stroke="none" stroke-width="0.8"/>
<rect x="281.02" y="37.70" width="17.46" height="1.61" fill="#ef979c" stroke="none" stroke-width="0.8"/>
<rect x="281.02" y="39.01" width="17.46" height="1.61" fill="#ed3a40" stroke="none" stroke-width="0.8"/>
<rect x="281.02" y="40.31" width="17.46" height="1.61" fill="#ed383e" stroke="none" stroke-width="0.8"/>
<rect x="281.02" y="41.62" width="17.46" height="1.61" fill="#ef757a" stroke="none" stroke-width="0.8"/>
<rect x="281.02" y="42.93" width="17.46" height="2.91" fill="#e2e0ec" stroke="none" stroke-width="0.8"/>
<rect x="281.02" y="45.54" width="17.46" height="2.91" fill="#e5e3ed" stroke="none" stroke-width="0.8"/>
<rect x="281.02" y="48.15" width="17.46" height="1.61" fill="#f1dbdf" stroke="none" stroke-width="0.8"/>
<rect x="281.02" y="49.46" width="17.46" height="1.61" fill="#5469b4" stroke="none" stroke-width="0.8"/>
<rect x="281.02" y="50.76" width="17.46" height="1.61" fill="#f1d5da" stroke="none" stroke-width="0.8"/>
<rect x="281.02" y="52.07" width="17.46" height="1.61" fill="#e4e2ed" stroke="none" stroke-width="0.8"/>
<rect x="281.02" y="53.38" width="17.46" height="1.61" fill="#354fa8" stroke="none" stroke-width="0.8"/>
<rect x="281.02" y="54.68" width="17.46" height="1.61" fill="#4f65b2" stroke="none" stroke-width="0.8"/>
<rect x="281.02" y="55.99" width="17.46" height="1.61" fill="#475eb0" stroke="none" stroke-width="0.8"/>
<rect x="281.02" y="57.29" width="17.46" height="1.61" fill="#596db6" stroke="none" stroke-width="0.8"/>
<rect x="281.02" y="58.60" width="17.46" height="2.91" fill="#3e57ac" stroke="none" stroke-width="0.8"/>
<rect x="281.02" y="61.21" width="17.46" height="1.61" fill="#e8e5ee" stroke="none" stroke-width="0.8"/>
<rect x="281.02" y="62.52" width="17.46" height="1.61" fill="#b0b7d8" stroke="none" stroke-width="0.8"/>
<rect x="281.02" y="63.83" width="17.46" height="1.61" fill="#97a1cf" stroke="none" stroke-width="0.8"/>
<rect x="281.02" y="65.13" width="17.46" height="1.61" fill="#a8b0d5" stroke="none" stroke-width="0.8"/>
<rect x="281.02" y="66.44" width="17.46" height="1.61" fill="#f2dfe3" stroke="none" stroke-width="0.8"/>
<rect x="281.02" y="67.74" width="17.46" height="1.61" fill="#e7e5ee" stroke="none" stroke-width="0.8"/>
<rect x="281.02" y="69.05" width="17.46" height="1.61" fill="#f2dfe3" stroke="none" stroke-width="0.8"/>
<rect x="281.02" y="70.36" width="17.46" height="2.91" fill="#deddea" stroke="none" stroke-width="0.8"/>
<rect x="281.02" y="72.97" width="17.46" height="2.91" fill="#f0afb3" stroke="none" stroke-width="0.8"/>
<rect x="281.02" y="75.58" width="17.46" height="1.61" fill="#ec2127" stroke="none" stroke-width="0.8"/>
<rect x="281.02" y="76.89" width="17.46" height="2.91" fill="#ed4247" stroke="none" stroke-width="0.8"/>
<rect x="281.02" y="79.50" width="17.46" height="1.61" fill="#ec1f25" stroke="none" stroke-width="0.8"/>
<rect x="281.02" y="80.81" width="17.46" height="1.61" fill="#ed3c42" stroke="none" stroke-width="0.8"/>
<rect x="281.02" y="82.11" width="17.46" height="1.61" fill="#ed3035" stroke="none" stroke-width="0.8"/>
<rect x="281.02" y="83.42" width="17.46" height="1.61" fill="#ed3137" stroke="none" stroke-width="0.8"/>
<rect x="281.02" y="84.72" width="17.46" height="2.91" fill="#ec252b" stroke="none" stroke-width="0.8"/>
<rect x="281.02" y="87.34" width="17.46" height="2.91" fill="#f0afb3" stroke="none" stroke-width="0.8"/>
<rect x="281.02" y="89.95" width="17.46" height="1.61" fill="#ec1f25" stroke="none" stroke-width="0.8"/>
<rect x="281.02" y="91.26" width="17.46" height="1.61" fill="#ef757a" stroke="none" stroke-width="0.8"/>
<rect x="281.02" y="92.56" width="17.46" height="1.61" fill="#ed3339" stroke="none" stroke-width="0.8"/>
<rect x="281.02" y="93.87" width="17.46" height="1.61" fill="#f1d7db" stroke="none" stroke-width="0.8"/>
<rect x="281.02" y="95.17" width="17.46" height="1.61" fill="#596db7" stroke="none" stroke-width="0.8"/>
<rect x="281.02" y="96.48" width="17.46" height="1.61" fill="#435bae" stroke="none" stroke-width="0.8"/>
<rect x="281.02" y="97.79" width="17.46" height="1.61" fill="#5469b4" stroke="none" stroke-width="0.8"/>
<rect x="281.02" y="99.09" width="17.46" height="1.61" fill="#445cae" stroke="none" stroke-width="0.8"/>
<rect x="281.02" y="100.40" width="17.46" height="1.61" fill="#556ab5" stroke="none" stroke-width="0.8"/>
<rect x="281.02" y="101.71" width="17.46" height="1.61" fill="#4b61b1" stroke="none" stroke-width="0.8"/>
<rect x="281.02" y="103.01" width="17.46" height="1.61" fill="#455daf" stroke="none" stroke-width="0.8"/>
<rect x="281.02" y="104.32" width="17.46" height="1.61" fill="#344ea8" stroke="none" stroke-width="0.8"/>
<rect x="281.02" y="105.62" width="17.46" height="1.61" fill="#596db6" stroke="none" stroke-width="0.8"/>
<rect x="281.02" y="106.93" width="17.46" height="2.91" fill="#354fa9" stroke="none" stroke-width="0.8"/>
<rect x="281.02" y="109.54" width="17.46" height="1.61" fill="#4259ad" stroke="none" stroke-width="0.8"/>
<rect x="281.02" y="110.85" width="17.46" height="1.61" fill="#3751a9" stroke="none" stroke-width="0.8"/>
<rect x="281.02" y="112.16" width="17.46" height="2.91" fill="#3d56ac" stroke="none" stroke-width="0.8"/>
<rect x="281.02" y="114.77" width="17.46" height="1.61" fill="#3e56ac" stroke="none" stroke-width="0.8"/>
<rect x="281.02" y="116.08" width="17.46" height="1.61" fill="#4a61b1" stroke="none" stroke-width="0.8"/>
<rect x="281.02" y="117.38" width="17.46" height="1.61" fill="#4058ad" stroke="none" stroke-width="0.8"/>
<rect x="281.02" y="118.69" width="17.46" height="2.91" fill="#a5aed4" stroke="none" stroke-width="0.8"/>
<rect x="298.18" y="37.70" width="17.46" height="2.91" fill="#ef8085" stroke="none" stroke-width="0.8"/>
<rect x="298.18" y="40.31" width="17.46" height="2.91" fill="#f0a6ab" stroke="none" stroke-width="0.8"/>
<rect x="298.18" y="42.93" width="17.46" height="2.91" fill="#ed4247" stroke="none" stroke-width="0.8"/>
<rect x="298.18" y="45.54" width="17.46" height="2.91" fill="#ef8287" stroke="none" stroke-width="0.8"/>
<rect x="298.18" y="48.15" width="17.46" height="2.91" fill="#ec2127" stroke="none" stroke-width="0.8"/>
<rect x="298.18" y="50.76" width="17.46" height="1.61" fill="#ec242a" stroke="none" stroke-width="0.8"/>
<rect x="298.18" y="52.07" width="17.46" height="1.61" fill="#ed4046" stroke="none" stroke-width="0.8"/>
<rect x="298.18" y="53.38" width="17.46" height="1.61" fill="#f0999e" stroke="none" stroke-width="0.8"/>
<rect x="298.18" y="54.68" width="17.46" height="1.61" fill="#f2ebef" stroke="none" stroke-width="0.8"/>
<rect x="298.18" y="55.99" width="17.46" height="1.61" fill="#ef8e93" stroke="none" stroke-width="0.8"/>
<rect x="298.18" y="57.29" width="17.46" height="2.91" fill="#dbdbe9" stroke="none" stroke-width="0.8"/>
<rect x="298.18" y="59.91" width="17.46" height="2.91" fill="#ef757b" stroke="none" stroke-width="0.8"/>
<rect x="298.18" y="62.52" width="17.46" height="1.61" fill="#a6aed4" stroke="none" stroke-width="0.8"/>
<rect x="298.18" y="63.83" width="17.46" height="2.91" fill="#ef9297" stroke="none" stroke-width="0.8"/>
<rect x="298.18" y="66.44" width="17.46" height="2.91" fill="#e6e4ed" stroke="none" stroke-width="0.8"/>
<rect x="298.18" y="69.05" width="17.46" height="2.91" fill="#aab2d6" stroke="none" stroke-width="0.8"/>
<rect x="298.18" y="71.66" width="17.46" height="1.61" fill="#f2dde1" stroke="none" stroke-width="0.8"/>
<rect x="298.18" y="72.97" width="17.46" height="1.61" fill="#f09ea2" stroke="none" stroke-width="0.8"/>
<rect x="298.18" y="74.28" width="17.46" height="1.61" fill="#ef878c" stroke="none" stroke-width="0.8"/>
<rect x="298.18" y="75.58" width="17.46" height="1.61" fill="#4159ad" stroke="none" stroke-width="0.8"/>
<rect x="298.18" y="76.89" width="17.46" height="1.61" fill="#e9e6ef" stroke="none" stroke-width="0.8"/>
<rect x="298.18" y="78.19" width="17.46" height="1.61" fill="#465daf" stroke="none" stroke-width="0.8"/>
<rect x="298.18" y="79.50" width="17.46" height="1.61" fill="#e0dfeb" stroke="none" stroke-width="0.8"/>
<rect x="298.18" y="80.81" width="17.46" height="1.61" fill="#919ccc" stroke="none" stroke-width="0.8"/>
<rect x="298.18" y="82.11" width="17.46" height="2.91" fill="#9ba4d0" stroke="none" stroke-width="0.8"/>
<rect x="298.18" y="84.72" width="17.46" height="2.91" fill="#e4e2ed" stroke="none" stroke-width="0.8"/>
<rect x="298.18" y="87.34" width="17.46" height="1.61" fill="#f0afb3" stroke="none" stroke-width="0.8"/>
<rect x="298.18" y="88.64" width="17.46" height="1.61" fill="#ee7277" stroke="none" stroke-width="0.8"/>
<rect x="298.18" y="89.95" width="17.46" height="1.61" fill="#dfdeea" stroke="none" stroke-width="0.8"/>
<rect x="298.18" y="91.26" width="17.46" height="1.61" fill="#ee7479" stroke="none" stroke-width="0.8"/>
<rect x="298.18" y="92.56" width="17.46" height="2.91" fill="#ef787d" stroke="none" stroke-width="0.8"/>
<rect x="298.18" y="95.17" width="17.46" height="2.91" fill="#ef9195" stroke="none" stroke-width="0.8"/>
<rect x="298.18" y="97.79" width="17.46" height="1.61" fill="#ed4348" stroke="none" stroke-width="0.8"/>
<rect x="298.18" y="99.09" width="17.46" height="1.61" fill="#ec2a30" stroke="none" stroke-width="0.8"/>
<rect x="298.18" y="100.40" width="17.46" height="1.61" fill="#ef969a" stroke="none" stroke-width="0.8"/>
<rect x="298.18" y="101.71" width="17.46" height="1.61" fill="#ec242a" stroke="none" stroke-width="0.8"/>
<rect x="298.18" y="103.01" width="17.46" height="1.61" fill="#f2dde1" stroke="none" stroke-width="0.8"/>
<rect x="298.18" y="104.32" width="17.46" height="2.91" fill="#ef8388" stroke="none" stroke-width="0.8"/>
<rect x="298.18" y="106.93" width="17.46" height="1.61" fill="#e7e5ee" stroke="none" stroke-width="0.8"/>
<rect x="298.18" y="108.24" width="17.46" height="1.61" fill="#ec1e24" stroke="none" stroke-width="0.8"/>
<rect x="298.18" y="109.54" width="17.46" height="2.91" fill="#f1d9dd" stroke="none" stroke-width="0.8"/>
<rect x="298.18" y="112.16" width="17.46" height="1.61" fill="#ed393f" stroke="none" stroke-width="0.8"/>
<rect x="298.18" y="113.46" width="17.46" height="1.61" fill="#f2e7eb" stroke="none" stroke-width="0.8"/>
<rect x="298.18" y="114.77" width="17.46" height="1.61" fill="#efecf1" stroke="none" stroke-width="0.8"/>
<rect x="298.18" y="116.08" width="17.46" height="1.61" fill="#f2e0e4" stroke="none" stroke-width="0.8"/>
<rect x="298.18" y="117.38" width="17.46" height="1.61" fill="#ec252b" stroke="none" stroke-width="0.8"/>
<rect x="298.18" y="118.69" width="17.46" height="1.61" fill="#ef8388" stroke="none" stroke-width="0.8"/>
<rect x="298.18" y="119.99" width="17.46" height="2.91" fill="#ed3338" stroke="none" stroke-width="0.8"/>
<rect x="315.34" y="37.70" width="17.46" height="2.91" fill="#ed3137" stroke="none" stroke-width="0.8"/>
<rect x="315.34" y="40.31" width="17.46" height="1.61" fill="#ed3d43" stroke="none" stroke-width="0.8"/>
<rect x="315.34" y="41.62" width="17.46" height="2.91" fill="#ed383e" stroke="none" stroke-width="0.8"/>
<rect x="315.34" y="44.23" width="17.46" height="1.61" fill="#e7e5ee" stroke="none" stroke-width="0.8"/>
<rect x="315.34" y="45.54" width="17.46" height="1.61" fill="#9ca5d0" stroke="none" stroke-width="0.8"/>
<rect x="315.34" y="46.84" width="17.46" height="1.61" fill="#f0a5aa" stroke="none" stroke-width="0.8"/>
<rect x="315.34" y="48.15" width="17.46" height="2.91" fill="#ef9095" stroke="none" stroke-width="0.8"/>
<rect x="315.34" y="50.76" width="17.46" height="2.91" fill="#e5e3ed" stroke="none" stroke-width="0.8"/>
<rect x="315.34" y="53.38" width="17.46" height="1.61" fill="#ed3339" stroke="none" stroke-width="0.8"/>
<rect x="315.34" y="54.68" width="17.46" height="1.61" fill="#ed4046" stroke="none" stroke-width="0.8"/>
<rect x="315.34" y="55.99" width="17.46" height="1.61" fill="#ed373d" stroke="none" stroke-width="0.8"/>
<rect x="315.34" y="57.29" width="17.46" height="1.61" fill="#f0a3a8" stroke="none" stroke-width="0.8"/>
<rect x="315.34" y="58.60" width="17.46" height="2.91" fill="#ed353b" stroke="none" stroke-width="0.8"/>
<rect x="315.34" y="61.21" width="17.46" height="1.61" fill="#ed353b" stroke="none" stroke-width="0.8"/>
<rect x="315.34" y="62.52" width="17.46" height="1.61" fill="#ed3137" stroke="none" stroke-width="0.8"/>
<rect x="315.34" y="63.83" width="17.46" height="1.61" fill="#ed3f44" stroke="none" stroke-width="0.8"/>
<rect x="315.34" y="65.13" width="17.46" height="2.91" fill="#ef7e83" stroke="none" stroke-width="0.8"/>
<rect x="315.34" y="67.74" width="17.46" height="1.61" fill="#ed393f" stroke="none" stroke-width="0.8"/>
<rect x="315.34" y="69.05" width="17.46" height="1.61" fill="#ec2b31" stroke="none" stroke-width="0.8"/>
<rect x="315.34" y="70.36" width="17.46" height="2.91" fill="#ec242a" stroke="none" stroke-width="0.8"/>
<rect x="315.34" y="72.97" width="17.46" height="1.61" fill="#ed3f44" stroke="none" stroke-width="0.8"/>
<rect x="315.34" y="74.28" width="17.46" height="1.61" fill="#ec1f25" stroke="none" stroke-width="0.8"/>
<rect x="315.34" y="75.58" width="17.46" height="2.91" fill="#ef979c" stroke="none" stroke-width="0.8"/>
<rect x="315.34" y="78.19" width="17.46" height="2.91" fill="#ec2329" stroke="none" stroke-width="0.8"/>
<rect x="315.34" y="80.81" width="17.46" height="1.61" fill="#ef7f84" stroke="none" stroke-width="0.8"/>
<rect x="315.34" y="82.11" width="17.46" height="1.61" fill="#ef8f94" stroke="none" stroke-width="0.8"/>
<rect x="315.34" y="83.42" width="17.46" height="2.91" fill="#ec292f" stroke="none" stroke-width="0.8"/>
<rect x="315.34" y="86.03" width="17.46" height="2.91" fill="#3751a9" stroke="none" stroke-width="0.8"/>
<rect x="315.34" y="88.64" width="17.46" height="1.61" fill="#5267b4" stroke="none" stroke-width="0.8"/>
<rect x="315.34" y="89.95" width="17.46" height="1.61" fill="#4d63b2" stroke="none" stroke-width="0.8"/>
<rect x="315.34" y="91.26" width="17.46" height="1.61" fill="#4c62b1" stroke="none" stroke-width="0.8"/>
<rect x="315.34" y="92.56" width="17.46" height="1.61" fill="#4f64b2" stroke="none" stroke-width="0.8"/>
<rect x="315.34" y="93.87" width="17.46" height="2.91" fill="#3f58ac" stroke="none" stroke-width="0.8"/>
<rect x="315.34" y="96.48" width="17.46" height="1.61" fill="#96a1ce" stroke="none" stroke-width="0.8"/>
<rect x="315.34" y="97.79" width="17.46" height="1.61" fill="#344ea8" stroke="none" stroke-width="0.8"/>
<rect x="315.34" y="99.09" width="17.46" height="1.61" fill="#e8e5ee" stroke="none" stroke-width="0.8"/>
<rect x="315.34" y="100.40" width="17.46" height="1.61" fill="#9ba5d0" stroke="none" stroke-width="0.8"/>
<rect x="315.34" y="101.71" width="17.46" height="1.61" fill="#828fc6" stroke="none" stroke-width="0.8"/>
<rect x="315.34" y="103.01" width="17.46" height="1.61" fill="#4058ad" stroke="none" stroke-width="0.8"/>
<rect x="315.34" y="104.32" width="17.46" height="1.61" fill="#f1dbdf" stroke="none" stroke-width="0.8"/>
<rect x="315.34" y="105.62" width="17.46" height="1.61" fill="#8f9acb" stroke="none" stroke-width="0.8"/>
<rect x="315.34" y="106.93" width="17.46" height="1.61" fill="#e6e4ed" stroke="none" stroke-width="0.8"/>
<rect x="315.34" y="108.24" width="17.46" height="1.61" fill="#f2e3e7" stroke="none" stroke-width="0.8"/>
<rect x="315.34" y="109.54" width="17.46" height="2.91" fill="#e4e2ed" stroke="none" stroke-width="0.8"/>
<rect x="315.34" y="112.16" width="17.46" height="2.91" fill="#3c55ab" stroke="none" stroke-width="0.8"/>
<rect x="315.34" y="114.77" width="17.46" height="1.61" fill="#5167b3" stroke="none" stroke-width="0.8"/>
<rect x="315.34" y="116.08" width="17.46" height="2.91" fill="#3c55ab" stroke="none" stroke-width="0.8"/>
<rect x="315.34" y="118.69" width="17.46" height="1.61" fill="#3851aa" stroke="none" stroke-width="0.8"/>
<rect x="315.34" y="119.99" width="17.46" height="1.61" fill="#566bb5" stroke="none" stroke-width="0.8"/>
<defs><linearGradient id="cb1" x1="0" y1="0" x2="1" y2="0"><stop offset="0" stop-color="#ec1e24"/><stop offset="0.5" stop-color="#f2eef2"/><stop offset="1" stop-color="#344ea8"/></linearGradient></defs>
<rect x="248.00" y="124.80" width="76.00" height="5.40" fill="url(#cb1)" stroke="none" stroke-width="0.8"/>
<text x="230.00" y="140.60" font-size="8.6" fill="#231f20" stroke="#231f20">Row max</text>
<text x="305.00" y="140.60" font-size="8.6" fill="#231f20" stroke="#231f20">Row min</text>
<line x1="203.20" y1="61.50" x2="203.20" y2="104.00" stroke="#6d6d6d" stroke-width="0.5"/>
<line x1="203.20" y1="61.50" x2="223.00" y2="61.50" stroke="#6d6d6d" stroke-width="0.5"/>
<line x1="203.20" y1="104.00" x2="224.00" y2="104.00" stroke="#6d6d6d" stroke-width="0.5"/>
<line x1="223.00" y1="56.40" x2="223.00" y2="80.20" stroke="#6d6d6d" stroke-width="0.5"/>
<line x1="223.00" y1="56.40" x2="231.50" y2="56.40" stroke="#6d6d6d" stroke-width="0.5"/>
<line x1="223.00" y1="80.20" x2="229.00" y2="80.20" stroke="#6d6d6d" stroke-width="0.5"/>
<line x1="231.50" y1="38.50" x2="231.50" y2="70.00" stroke="#6d6d6d" stroke-width="0.5"/>
<line x1="229.00" y1="72.00" x2="229.00" y2="86.00" stroke="#6d6d6d" stroke-width="0.5"/>
<line x1="224.00" y1="90.30" x2="224.00" y2="108.80" stroke="#6d6d6d" stroke-width="0.5"/>
<line x1="224.00" y1="90.30" x2="232.50" y2="90.30" stroke="#6d6d6d" stroke-width="0.5"/>
<line x1="224.00" y1="108.80" x2="232.50" y2="108.80" stroke="#6d6d6d" stroke-width="0.5"/>
<line x1="232.50" y1="86.50" x2="232.50" y2="94.50" stroke="#6d6d6d" stroke-width="0.5"/>
<line x1="232.50" y1="95.60" x2="232.50" y2="120.00" stroke="#6d6d6d" stroke-width="0.5"/>
<line x1="235.86" y1="38.65" x2="246.40" y2="38.65" stroke="#707070" stroke-width="0.45"/>
<line x1="235.14" y1="38.65" x2="235.14" y2="39.95" stroke="#555" stroke-width="0.45"/>
<line x1="235.14" y1="38.65" x2="235.86" y2="38.65" stroke="#707070" stroke-width="0.45"/>
<line x1="235.14" y1="39.95" x2="238.89" y2="39.95" stroke="#707070" stroke-width="0.45"/>
<line x1="238.89" y1="39.95" x2="246.40" y2="39.95" stroke="#707070" stroke-width="0.45"/>
<line x1="237.00" y1="39.95" x2="237.00" y2="41.25" stroke="#555" stroke-width="0.45"/>
<line x1="237.00" y1="39.95" x2="238.89" y2="39.95" stroke="#707070" stroke-width="0.45"/>
<line x1="237.00" y1="41.25" x2="237.16" y2="41.25" stroke="#707070" stroke-width="0.45"/>
<line x1="237.16" y1="41.25" x2="246.40" y2="41.25" stroke="#707070" stroke-width="0.45"/>
<line x1="235.03" y1="41.25" x2="235.03" y2="42.56" stroke="#555" stroke-width="0.45"/>
<line x1="235.03" y1="41.25" x2="237.16" y2="41.25" stroke="#707070" stroke-width="0.45"/>
<line x1="235.03" y1="42.56" x2="239.48" y2="42.56" stroke="#707070" stroke-width="0.45"/>
<line x1="239.48" y1="42.56" x2="246.40" y2="42.56" stroke="#707070" stroke-width="0.45"/>
<line x1="237.00" y1="42.56" x2="237.00" y2="43.86" stroke="#555" stroke-width="0.45"/>
<line x1="237.00" y1="42.56" x2="239.48" y2="42.56" stroke="#707070" stroke-width="0.45"/>
<line x1="237.00" y1="43.86" x2="239.69" y2="43.86" stroke="#707070" stroke-width="0.45"/>
<line x1="239.69" y1="43.86" x2="246.40" y2="43.86" stroke="#707070" stroke-width="0.45"/>
<line x1="233.93" y1="43.86" x2="233.93" y2="45.16" stroke="#555" stroke-width="0.45"/>
<line x1="233.93" y1="43.86" x2="239.69" y2="43.86" stroke="#707070" stroke-width="0.45"/>
<line x1="233.93" y1="45.16" x2="234.15" y2="45.16" stroke="#707070" stroke-width="0.45"/>
<line x1="234.15" y1="45.16" x2="246.40" y2="45.16" stroke="#707070" stroke-width="0.45"/>
<line x1="231.63" y1="45.16" x2="231.63" y2="46.46" stroke="#555" stroke-width="0.45"/>
<line x1="231.63" y1="45.16" x2="234.15" y2="45.16" stroke="#707070" stroke-width="0.45"/>
<line x1="231.63" y1="46.46" x2="233.63" y2="46.46" stroke="#707070" stroke-width="0.45"/>
<line x1="233.63" y1="46.46" x2="246.40" y2="46.46" stroke="#707070" stroke-width="0.45"/>
<line x1="232.60" y1="46.46" x2="232.60" y2="47.76" stroke="#555" stroke-width="0.45"/>
<line x1="232.60" y1="46.46" x2="233.63" y2="46.46" stroke="#707070" stroke-width="0.45"/>
<line x1="232.60" y1="47.76" x2="241.79" y2="47.76" stroke="#707070" stroke-width="0.45"/>
<line x1="241.79" y1="47.76" x2="246.40" y2="47.76" stroke="#707070" stroke-width="0.45"/>
<line x1="235.69" y1="47.76" x2="235.69" y2="49.06" stroke="#555" stroke-width="0.45"/>
<line x1="235.69" y1="47.76" x2="241.79" y2="47.76" stroke="#707070" stroke-width="0.45"/>
<line x1="235.69" y1="49.06" x2="236.07" y2="49.06" stroke="#707070" stroke-width="0.45"/>
<line x1="236.07" y1="49.06" x2="246.40" y2="49.06" stroke="#707070" stroke-width="0.45"/>
<line x1="235.09" y1="49.06" x2="235.09" y2="50.36" stroke="#555" stroke-width="0.45"/>
<line x1="235.09" y1="49.06" x2="236.07" y2="49.06" stroke="#707070" stroke-width="0.45"/>
<line x1="235.09" y1="50.36" x2="235.82" y2="50.36" stroke="#707070" stroke-width="0.45"/>
<line x1="235.82" y1="50.36" x2="246.40" y2="50.36" stroke="#707070" stroke-width="0.45"/>
<line x1="233.90" y1="50.36" x2="233.90" y2="51.67" stroke="#555" stroke-width="0.45"/>
<line x1="233.90" y1="50.36" x2="235.82" y2="50.36" stroke="#707070" stroke-width="0.45"/>
<line x1="233.90" y1="51.67" x2="243.36" y2="51.67" stroke="#707070" stroke-width="0.45"/>
<line x1="243.36" y1="51.67" x2="246.40" y2="51.67" stroke="#707070" stroke-width="0.45"/>
<line x1="235.97" y1="51.67" x2="235.97" y2="52.97" stroke="#555" stroke-width="0.45"/>
<line x1="235.97" y1="51.67" x2="243.36" y2="51.67" stroke="#707070" stroke-width="0.45"/>
<line x1="235.97" y1="52.97" x2="238.16" y2="52.97" stroke="#707070" stroke-width="0.45"/>
<line x1="238.16" y1="52.97" x2="246.40" y2="52.97" stroke="#707070" stroke-width="0.45"/>
<line x1="238.05" y1="52.97" x2="238.05" y2="54.27" stroke="#555" stroke-width="0.45"/>
<line x1="238.05" y1="52.97" x2="238.16" y2="52.97" stroke="#707070" stroke-width="0.45"/>
<line x1="238.05" y1="54.27" x2="241.78" y2="54.27" stroke="#707070" stroke-width="0.45"/>
<line x1="241.78" y1="54.27" x2="246.40" y2="54.27" stroke="#707070" stroke-width="0.45"/>
<line x1="236.68" y1="54.27" x2="236.68" y2="55.57" stroke="#555" stroke-width="0.45"/>
<line x1="236.68" y1="54.27" x2="241.78" y2="54.27" stroke="#707070" stroke-width="0.45"/>
<line x1="236.68" y1="55.57" x2="238.22" y2="55.57" stroke="#707070" stroke-width="0.45"/>
<line x1="238.22" y1="55.57" x2="246.40" y2="55.57" stroke="#707070" stroke-width="0.45"/>
<line x1="238.10" y1="55.57" x2="238.10" y2="56.87" stroke="#555" stroke-width="0.45"/>
<line x1="238.10" y1="55.57" x2="238.22" y2="55.57" stroke="#707070" stroke-width="0.45"/>
<line x1="238.10" y1="56.87" x2="239.83" y2="56.87" stroke="#707070" stroke-width="0.45"/>
<line x1="239.83" y1="56.87" x2="246.40" y2="56.87" stroke="#707070" stroke-width="0.45"/>
<line x1="233.20" y1="56.87" x2="233.20" y2="58.17" stroke="#555" stroke-width="0.45"/>
<line x1="233.20" y1="56.87" x2="239.83" y2="56.87" stroke="#707070" stroke-width="0.45"/>
<line x1="233.20" y1="58.17" x2="234.99" y2="58.17" stroke="#707070" stroke-width="0.45"/>
<line x1="234.99" y1="58.17" x2="246.40" y2="58.17" stroke="#707070" stroke-width="0.45"/>
<line x1="234.16" y1="58.17" x2="234.16" y2="59.48" stroke="#555" stroke-width="0.45"/>
<line x1="234.16" y1="58.17" x2="234.99" y2="58.17" stroke="#707070" stroke-width="0.45"/>
<line x1="234.16" y1="59.48" x2="239.79" y2="59.48" stroke="#707070" stroke-width="0.45"/>
<line x1="239.79" y1="59.48" x2="246.40" y2="59.48" stroke="#707070" stroke-width="0.45"/>
<line x1="237.58" y1="59.48" x2="237.58" y2="60.78" stroke="#555" stroke-width="0.45"/>
<line x1="237.58" y1="59.48" x2="239.79" y2="59.48" stroke="#707070" stroke-width="0.45"/>
<line x1="237.58" y1="60.78" x2="242.09" y2="60.78" stroke="#707070" stroke-width="0.45"/>
<line x1="242.09" y1="60.78" x2="246.40" y2="60.78" stroke="#707070" stroke-width="0.45"/>
<line x1="236.23" y1="60.78" x2="236.23" y2="62.08" stroke="#555" stroke-width="0.45"/>
<line x1="236.23" y1="60.78" x2="242.09" y2="60.78" stroke="#707070" stroke-width="0.45"/>
<line x1="236.23" y1="62.08" x2="238.68" y2="62.08" stroke="#707070" stroke-width="0.45"/>
<line x1="238.68" y1="62.08" x2="246.40" y2="62.08" stroke="#707070" stroke-width="0.45"/>
<line x1="237.42" y1="62.08" x2="237.42" y2="63.38" stroke="#555" stroke-width="0.45"/>
<line x1="237.42" y1="62.08" x2="238.68" y2="62.08" stroke="#707070" stroke-width="0.45"/>
<line x1="237.42" y1="63.38" x2="240.84" y2="63.38" stroke="#707070" stroke-width="0.45"/>
<line x1="240.84" y1="63.38" x2="246.40" y2="63.38" stroke="#707070" stroke-width="0.45"/>
<line x1="237.65" y1="63.38" x2="237.65" y2="64.68" stroke="#555" stroke-width="0.45"/>
<line x1="237.65" y1="63.38" x2="240.84" y2="63.38" stroke="#707070" stroke-width="0.45"/>
<line x1="237.65" y1="64.68" x2="240.15" y2="64.68" stroke="#707070" stroke-width="0.45"/>
<line x1="240.15" y1="64.68" x2="246.40" y2="64.68" stroke="#707070" stroke-width="0.45"/>
<line x1="233.36" y1="64.68" x2="233.36" y2="65.98" stroke="#555" stroke-width="0.45"/>
<line x1="233.36" y1="64.68" x2="240.15" y2="64.68" stroke="#707070" stroke-width="0.45"/>
<line x1="233.36" y1="65.98" x2="234.13" y2="65.98" stroke="#707070" stroke-width="0.45"/>
<line x1="234.13" y1="65.98" x2="246.40" y2="65.98" stroke="#707070" stroke-width="0.45"/>
<line x1="233.94" y1="65.98" x2="233.94" y2="67.29" stroke="#555" stroke-width="0.45"/>
<line x1="233.94" y1="65.98" x2="234.13" y2="65.98" stroke="#707070" stroke-width="0.45"/>
<line x1="233.94" y1="67.29" x2="241.01" y2="67.29" stroke="#707070" stroke-width="0.45"/>
<line x1="241.01" y1="67.29" x2="246.40" y2="67.29" stroke="#707070" stroke-width="0.45"/>
<line x1="237.85" y1="67.29" x2="237.85" y2="68.59" stroke="#555" stroke-width="0.45"/>
<line x1="237.85" y1="67.29" x2="241.01" y2="67.29" stroke="#707070" stroke-width="0.45"/>
<line x1="237.85" y1="68.59" x2="239.35" y2="68.59" stroke="#707070" stroke-width="0.45"/>
<line x1="239.35" y1="68.59" x2="246.40" y2="68.59" stroke="#707070" stroke-width="0.45"/>
<line x1="236.40" y1="68.59" x2="236.40" y2="69.89" stroke="#555" stroke-width="0.45"/>
<line x1="236.40" y1="68.59" x2="239.35" y2="68.59" stroke="#707070" stroke-width="0.45"/>
<line x1="236.40" y1="69.89" x2="236.48" y2="69.89" stroke="#707070" stroke-width="0.45"/>
<line x1="236.48" y1="69.89" x2="246.40" y2="69.89" stroke="#707070" stroke-width="0.45"/>
<line x1="233.31" y1="69.89" x2="233.31" y2="71.19" stroke="#555" stroke-width="0.45"/>
<line x1="233.31" y1="69.89" x2="236.48" y2="69.89" stroke="#707070" stroke-width="0.45"/>
<line x1="233.31" y1="71.19" x2="233.81" y2="71.19" stroke="#707070" stroke-width="0.45"/>
<line x1="233.81" y1="71.19" x2="246.40" y2="71.19" stroke="#707070" stroke-width="0.45"/>
<line x1="232.79" y1="71.19" x2="232.79" y2="72.49" stroke="#555" stroke-width="0.45"/>
<line x1="232.79" y1="71.19" x2="233.81" y2="71.19" stroke="#707070" stroke-width="0.45"/>
<line x1="232.79" y1="72.49" x2="242.07" y2="72.49" stroke="#707070" stroke-width="0.45"/>
<line x1="242.07" y1="72.49" x2="246.40" y2="72.49" stroke="#707070" stroke-width="0.45"/>
<line x1="236.65" y1="72.49" x2="236.65" y2="73.79" stroke="#555" stroke-width="0.45"/>
<line x1="236.65" y1="72.49" x2="242.07" y2="72.49" stroke="#707070" stroke-width="0.45"/>
<line x1="236.65" y1="73.79" x2="238.18" y2="73.79" stroke="#707070" stroke-width="0.45"/>
<line x1="238.18" y1="73.79" x2="246.40" y2="73.79" stroke="#707070" stroke-width="0.45"/>
<line x1="237.79" y1="73.79" x2="237.79" y2="75.09" stroke="#555" stroke-width="0.45"/>
<line x1="237.79" y1="73.79" x2="238.18" y2="73.79" stroke="#707070" stroke-width="0.45"/>
<line x1="237.79" y1="75.09" x2="240.62" y2="75.09" stroke="#707070" stroke-width="0.45"/>
<line x1="240.62" y1="75.09" x2="246.40" y2="75.09" stroke="#707070" stroke-width="0.45"/>
<line x1="240.51" y1="75.09" x2="240.51" y2="76.40" stroke="#555" stroke-width="0.45"/>
<line x1="240.51" y1="75.09" x2="240.62" y2="75.09" stroke="#707070" stroke-width="0.45"/>
<line x1="240.51" y1="76.40" x2="242.20" y2="76.40" stroke="#707070" stroke-width="0.45"/>
<line x1="242.20" y1="76.40" x2="246.40" y2="76.40" stroke="#707070" stroke-width="0.45"/>
<line x1="238.40" y1="76.40" x2="238.40" y2="77.70" stroke="#555" stroke-width="0.45"/>
<line x1="238.40" y1="76.40" x2="242.20" y2="76.40" stroke="#707070" stroke-width="0.45"/>
<line x1="238.40" y1="77.70" x2="240.57" y2="77.70" stroke="#707070" stroke-width="0.45"/>
<line x1="240.57" y1="77.70" x2="246.40" y2="77.70" stroke="#707070" stroke-width="0.45"/>
<line x1="239.79" y1="77.70" x2="239.79" y2="79.00" stroke="#555" stroke-width="0.45"/>
<line x1="239.79" y1="77.70" x2="240.57" y2="77.70" stroke="#707070" stroke-width="0.45"/>
<line x1="239.79" y1="79.00" x2="242.62" y2="79.00" stroke="#707070" stroke-width="0.45"/>
<line x1="242.62" y1="79.00" x2="246.40" y2="79.00" stroke="#707070" stroke-width="0.45"/>
<line x1="235.01" y1="79.00" x2="235.01" y2="80.30" stroke="#555" stroke-width="0.45"/>
<line x1="235.01" y1="79.00" x2="242.62" y2="79.00" stroke="#707070" stroke-width="0.45"/>
<line x1="235.01" y1="80.30" x2="237.41" y2="80.30" stroke="#707070" stroke-width="0.45"/>
<line x1="237.41" y1="80.30" x2="246.40" y2="80.30" stroke="#707070" stroke-width="0.45"/>
<line x1="235.17" y1="80.30" x2="235.17" y2="81.60" stroke="#555" stroke-width="0.45"/>
<line x1="235.17" y1="80.30" x2="237.41" y2="80.30" stroke="#707070" stroke-width="0.45"/>
<line x1="235.17" y1="81.60" x2="241.43" y2="81.60" stroke="#707070" stroke-width="0.45"/>
<line x1="241.43" y1="81.60" x2="246.40" y2="81.60" stroke="#707070" stroke-width="0.45"/>
<line x1="236.96" y1="81.60" x2="236.96" y2="82.90" stroke="#555" stroke-width="0.45"/>
<line x1="236.96" y1="81.60" x2="241.43" y2="81.60" stroke="#707070" stroke-width="0.45"/>
<line x1="236.96" y1="82.90" x2="237.90" y2="82.90" stroke="#707070" stroke-width="0.45"/>
<line x1="237.90" y1="82.90" x2="246.40" y2="82.90" stroke="#707070" stroke-width="0.45"/>
<line x1="236.75" y1="82.90" x2="236.75" y2="84.21" stroke="#555" stroke-width="0.45"/>
<line x1="236.75" y1="82.90" x2="237.90" y2="82.90" stroke="#707070" stroke-width="0.45"/>
<line x1="236.75" y1="84.21" x2="242.76" y2="84.21" stroke="#707070" stroke-width="0.45"/>
<line x1="242.76" y1="84.21" x2="246.40" y2="84.21" stroke="#707070" stroke-width="0.45"/>
<line x1="240.90" y1="84.21" x2="240.90" y2="85.51" stroke="#555" stroke-width="0.45"/>
<line x1="240.90" y1="84.21" x2="242.76" y2="84.21" stroke="#707070" stroke-width="0.45"/>
<line x1="240.90" y1="85.51" x2="242.20" y2="85.51" stroke="#707070" stroke-width="0.45"/>
<line x1="242.20" y1="85.51" x2="246.40" y2="85.51" stroke="#707070" stroke-width="0.45"/>
<line x1="232.86" y1="85.51" x2="232.86" y2="86.81" stroke="#555" stroke-width="0.45"/>
<line x1="232.86" y1="85.51" x2="242.20" y2="85.51" stroke="#707070" stroke-width="0.45"/>
<line x1="232.86" y1="86.81" x2="234.46" y2="86.81" stroke="#707070" stroke-width="0.45"/>
<line x1="234.46" y1="86.81" x2="246.40" y2="86.81" stroke="#707070" stroke-width="0.45"/>
<line x1="232.98" y1="86.81" x2="232.98" y2="88.11" stroke="#555" stroke-width="0.45"/>
<line x1="232.98" y1="86.81" x2="234.46" y2="86.81" stroke="#707070" stroke-width="0.45"/>
<line x1="232.98" y1="88.11" x2="234.85" y2="88.11" stroke="#707070" stroke-width="0.45"/>
<line x1="234.85" y1="88.11" x2="246.40" y2="88.11" stroke="#707070" stroke-width="0.45"/>
<line x1="233.45" y1="88.11" x2="233.45" y2="89.41" stroke="#555" stroke-width="0.45"/>
<line x1="233.45" y1="88.11" x2="234.85" y2="88.11" stroke="#707070" stroke-width="0.45"/>
<line x1="233.45" y1="89.41" x2="235.65" y2="89.41" stroke="#707070" stroke-width="0.45"/>
<line x1="235.65" y1="89.41" x2="246.40" y2="89.41" stroke="#707070" stroke-width="0.45"/>
<line x1="234.10" y1="89.41" x2="234.10" y2="90.71" stroke="#555" stroke-width="0.45"/>
<line x1="234.10" y1="89.41" x2="235.65" y2="89.41" stroke="#707070" stroke-width="0.45"/>
<line x1="234.10" y1="90.71" x2="243.06" y2="90.71" stroke="#707070" stroke-width="0.45"/>
<line x1="243.06" y1="90.71" x2="246.40" y2="90.71" stroke="#707070" stroke-width="0.45"/>
<line x1="235.47" y1="90.71" x2="235.47" y2="92.01" stroke="#555" stroke-width="0.45"/>
<line x1="235.47" y1="90.71" x2="243.06" y2="90.71" stroke="#707070" stroke-width="0.45"/>
<line x1="235.47" y1="92.01" x2="237.82" y2="92.01" stroke="#707070" stroke-width="0.45"/>
<line x1="237.82" y1="92.01" x2="246.40" y2="92.01" stroke="#707070" stroke-width="0.45"/>
<line x1="236.55" y1="92.01" x2="236.55" y2="93.32" stroke="#555" stroke-width="0.45"/>
<line x1="236.55" y1="92.01" x2="237.82" y2="92.01" stroke="#707070" stroke-width="0.45"/>
<line x1="236.55" y1="93.32" x2="239.70" y2="93.32" stroke="#707070" stroke-width="0.45"/>
<line x1="239.70" y1="93.32" x2="246.40" y2="93.32" stroke="#707070" stroke-width="0.45"/>
<line x1="235.40" y1="93.32" x2="235.40" y2="94.62" stroke="#555" stroke-width="0.45"/>
<line x1="235.40" y1="93.32" x2="239.70" y2="93.32" stroke="#707070" stroke-width="0.45"/>
<line x1="235.40" y1="94.62" x2="236.48" y2="94.62" stroke="#707070" stroke-width="0.45"/>
<line x1="236.48" y1="94.62" x2="246.40" y2="94.62" stroke="#707070" stroke-width="0.45"/>
<line x1="234.68" y1="94.62" x2="234.68" y2="95.92" stroke="#555" stroke-width="0.45"/>
<line x1="234.68" y1="94.62" x2="236.48" y2="94.62" stroke="#707070" stroke-width="0.45"/>
<line x1="234.68" y1="95.92" x2="238.52" y2="95.92" stroke="#707070" stroke-width="0.45"/>
<line x1="238.52" y1="95.92" x2="246.40" y2="95.92" stroke="#707070" stroke-width="0.45"/>
<line x1="236.73" y1="95.92" x2="236.73" y2="97.22" stroke="#555" stroke-width="0.45"/>
<line x1="236.73" y1="95.92" x2="238.52" y2="95.92" stroke="#707070" stroke-width="0.45"/>
<line x1="236.73" y1="97.22" x2="237.32" y2="97.22" stroke="#707070" stroke-width="0.45"/>
<line x1="237.32" y1="97.22" x2="246.40" y2="97.22" stroke="#707070" stroke-width="0.45"/>
<line x1="236.22" y1="97.22" x2="236.22" y2="98.52" stroke="#555" stroke-width="0.45"/>
<line x1="236.22" y1="97.22" x2="237.32" y2="97.22" stroke="#707070" stroke-width="0.45"/>
<line x1="236.22" y1="98.52" x2="236.97" y2="98.52" stroke="#707070" stroke-width="0.45"/>
<line x1="236.97" y1="98.52" x2="246.40" y2="98.52" stroke="#707070" stroke-width="0.45"/>
<line x1="234.53" y1="98.52" x2="234.53" y2="99.82" stroke="#555" stroke-width="0.45"/>
<line x1="234.53" y1="98.52" x2="236.97" y2="98.52" stroke="#707070" stroke-width="0.45"/>
<line x1="234.53" y1="99.82" x2="239.29" y2="99.82" stroke="#707070" stroke-width="0.45"/>
<line x1="239.29" y1="99.82" x2="246.40" y2="99.82" stroke="#707070" stroke-width="0.45"/>
<line x1="237.98" y1="99.82" x2="237.98" y2="101.13" stroke="#555" stroke-width="0.45"/>
<line x1="237.98" y1="99.82" x2="239.29" y2="99.82" stroke="#707070" stroke-width="0.45"/>
<line x1="237.98" y1="101.13" x2="239.28" y2="101.13" stroke="#707070" stroke-width="0.45"/>
<line x1="239.28" y1="101.13" x2="246.40" y2="101.13" stroke="#707070" stroke-width="0.45"/>
<line x1="237.91" y1="101.13" x2="237.91" y2="102.43" stroke="#555" stroke-width="0.45"/>
<line x1="237.91" y1="101.13" x2="239.28" y2="101.13" stroke="#707070" stroke-width="0.45"/>
<line x1="237.91" y1="102.43" x2="242.45" y2="102.43" stroke="#707070" stroke-width="0.45"/>
<line x1="242.45" y1="102.43" x2="246.40" y2="102.43" stroke="#707070" stroke-width="0.45"/>
<line x1="240.22" y1="102.43" x2="240.22" y2="103.73" stroke="#555" stroke-width="0.45"/>
<line x1="240.22" y1="102.43" x2="242.45" y2="102.43" stroke="#707070" stroke-width="0.45"/>
<line x1="240.22" y1="103.73" x2="240.25" y2="103.73" stroke="#707070" stroke-width="0.45"/>
<line x1="240.25" y1="103.73" x2="246.40" y2="103.73" stroke="#707070" stroke-width="0.45"/>
<line x1="239.21" y1="103.73" x2="239.21" y2="105.03" stroke="#555" stroke-width="0.45"/>
<line x1="239.21" y1="103.73" x2="240.25" y2="103.73" stroke="#707070" stroke-width="0.45"/>
<line x1="239.21" y1="105.03" x2="242.70" y2="105.03" stroke="#707070" stroke-width="0.45"/>
<line x1="242.70" y1="105.03" x2="246.40" y2="105.03" stroke="#707070" stroke-width="0.45"/>
<line x1="240.53" y1="105.03" x2="240.53" y2="106.33" stroke="#555" stroke-width="0.45"/>
<line x1="240.53" y1="105.03" x2="242.70" y2="105.03" stroke="#707070" stroke-width="0.45"/>
<line x1="240.53" y1="106.33" x2="241.98" y2="106.33" stroke="#707070" stroke-width="0.45"/>
<line x1="241.98" y1="106.33" x2="246.40" y2="106.33" stroke="#707070" stroke-width="0.45"/>
<line x1="241.93" y1="106.33" x2="241.93" y2="107.63" stroke="#555" stroke-width="0.45"/>
<line x1="241.93" y1="106.33" x2="241.98" y2="106.33" stroke="#707070" stroke-width="0.45"/>
<line x1="241.93" y1="107.63" x2="243.31" y2="107.63" stroke="#707070" stroke-width="0.45"/>
<line x1="243.31" y1="107.63" x2="246.40" y2="107.63" stroke="#707070" stroke-width="0.45"/>
<line x1="238.61" y1="107.63" x2="238.61" y2="108.94" stroke="#555" stroke-width="0.45"/>
<line x1="238.61" y1="107.63" x2="243.31" y2="107.63" stroke="#707070" stroke-width="0.45"/>
<line x1="238.61" y1="108.94" x2="240.15" y2="108.94" stroke="#707070" stroke-width="0.45"/>
<line x1="240.15" y1="108.94" x2="246.40" y2="108.94" stroke="#707070" stroke-width="0.45"/>
<line x1="233.53" y1="108.94" x2="233.53" y2="110.24" stroke="#555" stroke-width="0.45"/>
<line x1="233.53" y1="108.94" x2="240.15" y2="108.94" stroke="#707070" stroke-width="0.45"/>
<line x1="233.53" y1="110.24" x2="235.11" y2="110.24" stroke="#707070" stroke-width="0.45"/>
<line x1="235.11" y1="110.24" x2="246.40" y2="110.24" stroke="#707070" stroke-width="0.45"/>
<line x1="234.96" y1="110.24" x2="234.96" y2="111.54" stroke="#555" stroke-width="0.45"/>
<line x1="234.96" y1="110.24" x2="235.11" y2="110.24" stroke="#707070" stroke-width="0.45"/>
<line x1="234.96" y1="111.54" x2="242.02" y2="111.54" stroke="#707070" stroke-width="0.45"/>
<line x1="242.02" y1="111.54" x2="246.40" y2="111.54" stroke="#707070" stroke-width="0.45"/>
<line x1="240.45" y1="111.54" x2="240.45" y2="112.84" stroke="#555" stroke-width="0.45"/>
<line x1="240.45" y1="111.54" x2="242.02" y2="111.54" stroke="#707070" stroke-width="0.45"/>
<line x1="240.45" y1="112.84" x2="243.05" y2="112.84" stroke="#707070" stroke-width="0.45"/>
<line x1="243.05" y1="112.84" x2="246.40" y2="112.84" stroke="#707070" stroke-width="0.45"/>
<line x1="241.29" y1="112.84" x2="241.29" y2="114.14" stroke="#555" stroke-width="0.45"/>
<line x1="241.29" y1="112.84" x2="243.05" y2="112.84" stroke="#707070" stroke-width="0.45"/>
<line x1="241.29" y1="114.14" x2="242.46" y2="114.14" stroke="#707070" stroke-width="0.45"/>
<line x1="242.46" y1="114.14" x2="246.40" y2="114.14" stroke="#707070" stroke-width="0.45"/>
<line x1="237.44" y1="114.14" x2="237.44" y2="115.44" stroke="#555" stroke-width="0.45"/>
<line x1="237.44" y1="114.14" x2="242.46" y2="114.14" stroke="#707070" stroke-width="0.45"/>
<line x1="237.44" y1="115.44" x2="239.13" y2="115.44" stroke="#707070" stroke-width="0.45"/>
<line x1="239.13" y1="115.44" x2="246.40" y2="115.44" stroke="#707070" stroke-width="0.45"/>
<line x1="238.25" y1="115.44" x2="238.25" y2="116.74" stroke="#555" stroke-width="0.45"/>
<line x1="238.25" y1="115.44" x2="239.13" y2="115.44" stroke="#707070" stroke-width="0.45"/>
<line x1="238.25" y1="116.74" x2="240.57" y2="116.74" stroke="#707070" stroke-width="0.45"/>
<line x1="240.57" y1="116.74" x2="246.40" y2="116.74" stroke="#707070" stroke-width="0.45"/>
<line x1="233.82" y1="116.74" x2="233.82" y2="118.05" stroke="#555" stroke-width="0.45"/>
<line x1="233.82" y1="116.74" x2="240.57" y2="116.74" stroke="#707070" stroke-width="0.45"/>
<line x1="233.82" y1="118.05" x2="235.59" y2="118.05" stroke="#707070" stroke-width="0.45"/>
<line x1="235.59" y1="118.05" x2="246.40" y2="118.05" stroke="#707070" stroke-width="0.45"/>
<line x1="233.75" y1="118.05" x2="233.75" y2="119.35" stroke="#555" stroke-width="0.45"/>
<line x1="233.75" y1="118.05" x2="235.59" y2="118.05" stroke="#707070" stroke-width="0.45"/>
<line x1="233.75" y1="119.35" x2="241.73" y2="119.35" stroke="#707070" stroke-width="0.45"/>
<line x1="241.73" y1="119.35" x2="246.40" y2="119.35" stroke="#707070" stroke-width="0.45"/>
<line x1="239.12" y1="119.35" x2="239.12" y2="120.65" stroke="#555" stroke-width="0.45"/>
<line x1="239.12" y1="119.35" x2="241.73" y2="119.35" stroke="#707070" stroke-width="0.45"/>
<line x1="239.12" y1="120.65" x2="239.18" y2="120.65" stroke="#707070" stroke-width="0.45"/>
<line x1="239.18" y1="120.65" x2="246.40" y2="120.65" stroke="#707070" stroke-width="0.45"/>
<text x="356.60" y="10.08" font-size="10.5" font-weight="bold" fill="#231f20" stroke="#231f20">C</text>
<text x="383.00" y="24.63" font-size="8.7" fill="#231f20" stroke="#231f20">Patient 1:</text>
<line x1="382.00" y1="33.00" x2="382.00" y2="116.20" stroke="#231f20" stroke-width="0.8"/>
<line x1="382.00" y1="116.20" x2="471.00" y2="116.20" stroke="#231f20" stroke-width="0.8"/>
<line x1="379.50" y1="32.90" x2="382.00" y2="32.90" stroke="#231f20" stroke-width="0.8"/>
<text x="378.00" y="36.00" font-size="8.6" text-anchor="end" fill="#231f20" stroke="#231f20">2</text>
<line x1="379.50" y1="60.50" x2="382.00" y2="60.50" stroke="#231f20" stroke-width="0.8"/>
<text x="378.00" y="63.60" font-size="8.6" text-anchor="end" fill="#231f20" stroke="#231f20">0</text>
<line x1="379.50" y1="88.10" x2="382.00" y2="88.10" stroke="#231f20" stroke-width="0.8"/>
<text x="378.00" y="91.20" font-size="8.6" text-anchor="end" fill="#231f20" stroke="#231f20">−2</text>
<line x1="379.50" y1="115.70" x2="382.00" y2="115.70" stroke="#231f20" stroke-width="0.8"/>
<text x="378.00" y="118.80" font-size="8.6" text-anchor="end" fill="#231f20" stroke="#231f20">−4</text>
<line x1="382.00" y1="116.20" x2="382.00" y2="118.70" stroke="#231f20" stroke-width="0.8"/>
<text x="382.00" y="128.10" font-size="8.6" text-anchor="middle" fill="#231f20" stroke="#231f20">0</text>
<line x1="411.50" y1="116.20" x2="411.50" y2="118.70" stroke="#231f20" stroke-width="0.8"/>
<text x="411.50" y="128.10" font-size="8.6" text-anchor="middle" fill="#231f20" stroke="#231f20">5</text>
<line x1="441.00" y1="116.20" x2="441.00" y2="118.70" stroke="#231f20" stroke-width="0.8"/>
<text x="441.00" y="128.10" font-size="8.6" text-anchor="middle" fill="#231f20" stroke="#231f20">10</text>
<line x1="470.50" y1="116.20" x2="470.50" y2="118.70" stroke="#231f20" stroke-width="0.8"/>
<text x="470.50" y="128.10" font-size="8.6" text-anchor="middle" fill="#231f20" stroke="#231f20">15</text>
<text x="427.00" y="140.10" font-size="8.6" text-anchor="middle" fill="#231f20" stroke="#231f20">Days of treatment</text>
<text transform="translate(357.5 75) rotate(-90)" font-size="8.6" fill="#231f20" stroke="#231f20" text-anchor="middle" y="3">Log<tspan font-size="6" dy="2.5">2</tspan><tspan dy="-2.5"> fold change</tspan></text>
<line x1="382.00" y1="60.50" x2="464.50" y2="60.50" stroke="#c9c9e6" stroke-width="0.9"/>
<polyline points="382.00,60.50 401.20,80.30 423.50,97.20 464.50,107.70" fill="none" stroke="#3f88d0" stroke-width="1.3" stroke-linejoin="round"/>
<polyline points="382.00,60.50 401.20,81.00 423.50,91.00 464.50,101.00" fill="none" stroke="#3a55a5" stroke-width="1.3" stroke-linejoin="round"/>
<polyline points="382.00,60.50 401.20,62.00 423.50,64.20 464.50,67.20" fill="none" stroke="#2e9c9c" stroke-width="1.3" stroke-linejoin="round"/>
<polyline points="382.00,60.50 401.20,61.50 423.50,62.50 464.50,63.40" fill="none" stroke="#6b74c0" stroke-width="1.3" stroke-linejoin="round"/>
<polyline points="382.00,60.50 401.20,59.80 423.50,59.50 464.50,41.50" fill="none" stroke="#8e1f3a" stroke-width="1.3" stroke-linejoin="round"/>
<polyline points="382.00,60.50 401.20,59.00 423.50,57.20 464.50,38.50" fill="none" stroke="#5a3a9a" stroke-width="1.3" stroke-linejoin="round"/>
<polyline points="382.00,60.50 401.20,78.00 423.50,53.40 464.50,34.50" fill="none" stroke="#e8402a" stroke-width="1.3" stroke-linejoin="round"/>
<line x1="466.00" y1="33.50" x2="476.00" y2="21.00" stroke="#8a8a8a" stroke-width="0.6"/>
<line x1="466.00" y1="37.50" x2="477.00" y2="31.50" stroke="#8a8a8a" stroke-width="0.6"/>
<line x1="466.00" y1="41.50" x2="477.00" y2="44.00" stroke="#8a8a8a" stroke-width="0.6"/>
<line x1="466.00" y1="63.40" x2="478.00" y2="63.50" stroke="#8a8a8a" stroke-width="0.6"/>
<line x1="466.00" y1="67.20" x2="477.00" y2="74.50" stroke="#8a8a8a" stroke-width="0.6"/>
<line x1="466.00" y1="101.00" x2="480.00" y2="101.50" stroke="#8a8a8a" stroke-width="0.6"/>
<line x1="466.00" y1="108.00" x2="478.00" y2="114.00" stroke="#8a8a8a" stroke-width="0.6"/>
<text x="481.00" y="20.60" font-size="8.6" font-weight="bold" font-style="italic" fill="#231f20" stroke="#231f20">CDKN1A</text>
<text x="481.00" y="34.60" font-size="8.6" font-weight="bold" font-style="italic" fill="#231f20" stroke="#231f20">CDKN2B</text>
<text x="481.00" y="47.30" font-size="8.6" font-weight="bold" font-style="italic" fill="#231f20" stroke="#231f20">CDKN2C</text>
<text x="482.50" y="66.90" font-size="8.6" font-style="italic" fill="#231f20" stroke="#231f20">HOXA9</text>
<text x="482.00" y="78.10" font-size="8.6" font-style="italic" fill="#231f20" stroke="#231f20">CDK6</text>
<text x="484.00" y="105.40" font-size="8.6" font-style="italic" fill="#231f20" stroke="#231f20">PBX3</text>
<text x="484.00" y="117.90" font-size="8.6" font-style="italic" fill="#231f20" stroke="#231f20">MEIS1</text>
<text x="1.30" y="169.48" font-size="10.5" font-weight="bold" fill="#231f20" stroke="#231f20">D</text>
<text x="29.50" y="174.60" font-size="8.6" fill="#231f20" stroke="#231f20">Patient 2:</text>
<text x="23.70" y="187.60" font-size="8.6" fill="#231f20" stroke="#231f20">Menin–UTX targets</text>
<text x="8.00" y="199.60" font-size="8.6" fill="#231f20" stroke="#231f20">Days:</text>
<text x="44.50" y="199.60" font-size="8.6" text-anchor="middle" fill="#231f20" stroke="#231f20">0</text>
<text x="66.50" y="199.60" font-size="8.6" text-anchor="middle" fill="#231f20" stroke="#231f20">3</text>
<text x="87.50" y="199.60" font-size="8.6" text-anchor="middle" fill="#231f20" stroke="#231f20">10</text>
<rect x="33.80" y="202.00" width="11.07" height="3.19" fill="#556ab5" stroke="none" stroke-width="0.8"/>
<rect x="33.80" y="204.89" width="11.07" height="3.19" fill="#455caf" stroke="none" stroke-width="0.8"/>
<rect x="33.80" y="207.78" width="11.07" height="1.74" fill="#3b54ab" stroke="none" stroke-width="0.8"/>
<rect x="33.80" y="209.22" width="11.07" height="1.74" fill="#3851a9" stroke="none" stroke-width="0.8"/>
<rect x="33.80" y="210.67" width="11.07" height="3.19" fill="#485fb0" stroke="none" stroke-width="0.8"/>
<rect x="33.80" y="213.56" width="11.07" height="1.74" fill="#a2abd3" stroke="none" stroke-width="0.8"/>
<rect x="33.80" y="215.00" width="11.07" height="1.74" fill="#4d63b2" stroke="none" stroke-width="0.8"/>
<rect x="33.80" y="216.44" width="11.07" height="3.19" fill="#4c62b1" stroke="none" stroke-width="0.8"/>
<rect x="33.80" y="219.33" width="11.07" height="1.74" fill="#3650a9" stroke="none" stroke-width="0.8"/>
<rect x="33.80" y="220.78" width="11.07" height="3.19" fill="#4b61b1" stroke="none" stroke-width="0.8"/>
<rect x="33.80" y="223.67" width="11.07" height="3.19" fill="#455caf" stroke="none" stroke-width="0.8"/>
<rect x="33.80" y="226.56" width="11.07" height="1.74" fill="#4c62b1" stroke="none" stroke-width="0.8"/>
<rect x="33.80" y="228.00" width="11.07" height="1.74" fill="#8592c7" stroke="none" stroke-width="0.8"/>
<rect x="33.80" y="229.44" width="11.07" height="3.19" fill="#f1d5d9" stroke="none" stroke-width="0.8"/>
<rect x="33.80" y="232.33" width="11.07" height="1.74" fill="#ef8388" stroke="none" stroke-width="0.8"/>
<rect x="33.80" y="233.78" width="11.07" height="1.74" fill="#ef9095" stroke="none" stroke-width="0.8"/>
<rect x="33.80" y="235.22" width="11.07" height="1.74" fill="#acb3d7" stroke="none" stroke-width="0.8"/>
<rect x="33.80" y="236.67" width="11.07" height="3.19" fill="#435aae" stroke="none" stroke-width="0.8"/>
<rect x="33.80" y="239.56" width="11.07" height="3.19" fill="#3c55ab" stroke="none" stroke-width="0.8"/>
<rect x="33.80" y="242.44" width="11.07" height="3.19" fill="#465daf" stroke="none" stroke-width="0.8"/>
<rect x="33.80" y="245.33" width="11.07" height="1.74" fill="#445bae" stroke="none" stroke-width="0.8"/>
<rect x="33.80" y="246.78" width="11.07" height="1.74" fill="#5267b4" stroke="none" stroke-width="0.8"/>
<rect x="33.80" y="248.22" width="11.07" height="1.74" fill="#4058ad" stroke="none" stroke-width="0.8"/>
<rect x="33.80" y="249.67" width="11.07" height="1.74" fill="#5166b3" stroke="none" stroke-width="0.8"/>
<rect x="33.80" y="251.11" width="11.07" height="1.74" fill="#4f65b2" stroke="none" stroke-width="0.8"/>
<rect x="33.80" y="252.56" width="11.07" height="1.74" fill="#5268b4" stroke="none" stroke-width="0.8"/>
<rect x="33.80" y="254.00" width="11.07" height="1.74" fill="#ed3338" stroke="none" stroke-width="0.8"/>
<rect x="33.80" y="255.44" width="11.07" height="1.74" fill="#ed343a" stroke="none" stroke-width="0.8"/>
<rect x="33.80" y="256.89" width="11.07" height="1.74" fill="#ed3439" stroke="none" stroke-width="0.8"/>
<rect x="33.80" y="258.33" width="11.07" height="3.19" fill="#ec2329" stroke="none" stroke-width="0.8"/>
<rect x="33.80" y="261.22" width="11.07" height="1.74" fill="#ec1e24" stroke="none" stroke-width="0.8"/>
<rect x="33.80" y="262.67" width="11.07" height="3.19" fill="#ed353a" stroke="none" stroke-width="0.8"/>
<rect x="33.80" y="265.56" width="11.07" height="1.74" fill="#ed4248" stroke="none" stroke-width="0.8"/>
<rect x="33.80" y="267.00" width="11.07" height="3.19" fill="#ed3a40" stroke="none" stroke-width="0.8"/>
<rect x="33.80" y="269.89" width="11.07" height="1.74" fill="#ec242a" stroke="none" stroke-width="0.8"/>
<rect x="33.80" y="271.33" width="11.07" height="1.74" fill="#ed4046" stroke="none" stroke-width="0.8"/>
<rect x="33.80" y="272.78" width="11.07" height="1.74" fill="#ed4349" stroke="none" stroke-width="0.8"/>
<rect x="33.80" y="274.22" width="11.07" height="1.74" fill="#ed3f44" stroke="none" stroke-width="0.8"/>
<rect x="33.80" y="275.67" width="11.07" height="1.74" fill="#ec2329" stroke="none" stroke-width="0.8"/>
<rect x="33.80" y="277.11" width="11.07" height="1.74" fill="#ed383e" stroke="none" stroke-width="0.8"/>
<rect x="33.80" y="278.56" width="11.07" height="1.74" fill="#ec282e" stroke="none" stroke-width="0.8"/>
<rect x="44.57" y="202.00" width="11.07" height="1.74" fill="#4e64b2" stroke="none" stroke-width="0.8"/>
<rect x="44.57" y="203.44" width="11.07" height="1.74" fill="#4b61b1" stroke="none" stroke-width="0.8"/>
<rect x="44.57" y="204.89" width="11.07" height="1.74" fill="#3851aa" stroke="none" stroke-width="0.8"/>
<rect x="44.57" y="206.33" width="11.07" height="3.19" fill="#3d56ac" stroke="none" stroke-width="0.8"/>
<rect x="44.57" y="209.22" width="11.07" height="3.19" fill="#445bae" stroke="none" stroke-width="0.8"/>
<rect x="44.57" y="212.11" width="11.07" height="1.74" fill="#3f57ac" stroke="none" stroke-width="0.8"/>
<rect x="44.57" y="213.56" width="11.07" height="1.74" fill="#8794c8" stroke="none" stroke-width="0.8"/>
<rect x="44.57" y="215.00" width="11.07" height="3.19" fill="#3f57ac" stroke="none" stroke-width="0.8"/>
<rect x="44.57" y="217.89" width="11.07" height="1.74" fill="#5066b3" stroke="none" stroke-width="0.8"/>
<rect x="44.57" y="219.33" width="11.07" height="1.74" fill="#455caf" stroke="none" stroke-width="0.8"/>
<rect x="44.57" y="220.78" width="11.07" height="1.74" fill="#3f57ac" stroke="none" stroke-width="0.8"/>
<rect x="44.57" y="222.22" width="11.07" height="1.74" fill="#3851a9" stroke="none" stroke-width="0.8"/>
<rect x="44.57" y="223.67" width="11.07" height="1.74" fill="#596db7" stroke="none" stroke-width="0.8"/>
<rect x="44.57" y="225.11" width="11.07" height="3.19" fill="#4a61b1" stroke="none" stroke-width="0.8"/>
<rect x="44.57" y="228.00" width="11.07" height="3.19" fill="#f1dade" stroke="none" stroke-width="0.8"/>
<rect x="44.57" y="230.89" width="11.07" height="1.74" fill="#f0aeb3" stroke="none" stroke-width="0.8"/>
<rect x="44.57" y="232.33" width="11.07" height="1.74" fill="#deddea" stroke="none" stroke-width="0.8"/>
<rect x="44.57" y="233.78" width="11.07" height="1.74" fill="#ee7176" stroke="none" stroke-width="0.8"/>
<rect x="44.57" y="235.22" width="11.07" height="1.74" fill="#95a0ce" stroke="none" stroke-width="0.8"/>
<rect x="44.57" y="236.67" width="11.07" height="3.19" fill="#5267b4" stroke="none" stroke-width="0.8"/>
<rect x="44.57" y="239.56" width="11.07" height="1.74" fill="#3751a9" stroke="none" stroke-width="0.8"/>
<rect x="44.57" y="241.00" width="11.07" height="1.74" fill="#556ab5" stroke="none" stroke-width="0.8"/>
<rect x="44.57" y="242.44" width="11.07" height="1.74" fill="#556ab5" stroke="none" stroke-width="0.8"/>
<rect x="44.57" y="243.89" width="11.07" height="1.74" fill="#425aae" stroke="none" stroke-width="0.8"/>
<rect x="44.57" y="245.33" width="11.07" height="1.74" fill="#3751a9" stroke="none" stroke-width="0.8"/>
<rect x="44.57" y="246.78" width="11.07" height="3.19" fill="#556ab5" stroke="none" stroke-width="0.8"/>
<rect x="44.57" y="249.67" width="11.07" height="1.74" fill="#586cb6" stroke="none" stroke-width="0.8"/>
<rect x="44.57" y="251.11" width="11.07" height="3.19" fill="#455caf" stroke="none" stroke-width="0.8"/>
<rect x="44.57" y="254.00" width="11.07" height="1.74" fill="#ed3036" stroke="none" stroke-width="0.8"/>
<rect x="44.57" y="255.44" width="11.07" height="1.74" fill="#ec2d33" stroke="none" stroke-width="0.8"/>
<rect x="44.57" y="256.89" width="11.07" height="1.74" fill="#ec2026" stroke="none" stroke-width="0.8"/>
<rect x="44.57" y="258.33" width="11.07" height="1.74" fill="#ed3a40" stroke="none" stroke-width="0.8"/>
<rect x="44.57" y="259.78" width="11.07" height="1.74" fill="#ed3e44" stroke="none" stroke-width="0.8"/>
<rect x="44.57" y="261.22" width="11.07" height="1.74" fill="#ec272d" stroke="none" stroke-width="0.8"/>
<rect x="44.57" y="262.67" width="11.07" height="1.74" fill="#ed3137" stroke="none" stroke-width="0.8"/>
<rect x="44.57" y="264.11" width="11.07" height="1.74" fill="#ec2b30" stroke="none" stroke-width="0.8"/>
<rect x="44.57" y="265.56" width="11.07" height="3.19" fill="#ec252b" stroke="none" stroke-width="0.8"/>
<rect x="44.57" y="268.44" width="11.07" height="1.74" fill="#ec2228" stroke="none" stroke-width="0.8"/>
<rect x="44.57" y="269.89" width="11.07" height="1.74" fill="#ed3c41" stroke="none" stroke-width="0.8"/>
<rect x="44.57" y="271.33" width="11.07" height="3.19" fill="#ec242a" stroke="none" stroke-width="0.8"/>
<rect x="44.57" y="274.22" width="11.07" height="1.74" fill="#ec2026" stroke="none" stroke-width="0.8"/>
<rect x="44.57" y="275.67" width="11.07" height="1.74" fill="#ed3f45" stroke="none" stroke-width="0.8"/>
<rect x="44.57" y="277.11" width="11.07" height="1.74" fill="#ec242a" stroke="none" stroke-width="0.8"/>
<rect x="44.57" y="278.56" width="11.07" height="3.19" fill="#ec2a30" stroke="none" stroke-width="0.8"/>
<rect x="55.33" y="202.00" width="11.07" height="1.74" fill="#ef9398" stroke="none" stroke-width="0.8"/>
<rect x="55.33" y="203.44" width="11.07" height="1.74" fill="#e8e5ee" stroke="none" stroke-width="0.8"/>
<rect x="55.33" y="204.89" width="11.07" height="1.74" fill="#ef8388" stroke="none" stroke-width="0.8"/>
<rect x="55.33" y="206.33" width="11.07" height="1.74" fill="#a5add4" stroke="none" stroke-width="0.8"/>
<rect x="55.33" y="207.78" width="11.07" height="1.74" fill="#f0a7ac" stroke="none" stroke-width="0.8"/>
<rect x="55.33" y="209.22" width="11.07" height="1.74" fill="#f2e1e5" stroke="none" stroke-width="0.8"/>
<rect x="55.33" y="210.67" width="11.07" height="3.19" fill="#f2dfe3" stroke="none" stroke-width="0.8"/>
<rect x="55.33" y="213.56" width="11.07" height="1.74" fill="#f0ecf1" stroke="none" stroke-width="0.8"/>
<rect x="55.33" y="215.00" width="11.07" height="1.74" fill="#b7bcdb" stroke="none" stroke-width="0.8"/>
<rect x="55.33" y="216.44" width="11.07" height="1.74" fill="#5368b4" stroke="none" stroke-width="0.8"/>
<rect x="55.33" y="217.89" width="11.07" height="1.74" fill="#5166b3" stroke="none" stroke-width="0.8"/>
<rect x="55.33" y="219.33" width="11.07" height="1.74" fill="#3b54ab" stroke="none" stroke-width="0.8"/>
<rect x="55.33" y="220.78" width="11.07" height="3.19" fill="#9fa8d2" stroke="none" stroke-width="0.8"/>
<rect x="55.33" y="223.67" width="11.07" height="3.19" fill="#435bae" stroke="none" stroke-width="0.8"/>
<rect x="55.33" y="226.56" width="11.07" height="3.19" fill="#3751a9" stroke="none" stroke-width="0.8"/>
<rect x="55.33" y="229.44" width="11.07" height="1.74" fill="#8794c8" stroke="none" stroke-width="0.8"/>
<rect x="55.33" y="230.89" width="11.07" height="1.74" fill="#425aae" stroke="none" stroke-width="0.8"/>
<rect x="55.33" y="232.33" width="11.07" height="1.74" fill="#9aa4d0" stroke="none" stroke-width="0.8"/>
<rect x="55.33" y="233.78" width="11.07" height="3.19" fill="#3851a9" stroke="none" stroke-width="0.8"/>
<rect x="55.33" y="236.67" width="11.07" height="3.19" fill="#ed3b41" stroke="none" stroke-width="0.8"/>
<rect x="55.33" y="239.56" width="11.07" height="1.74" fill="#ec1f25" stroke="none" stroke-width="0.8"/>
<rect x="55.33" y="241.00" width="11.07" height="3.19" fill="#f09fa4" stroke="none" stroke-width="0.8"/>
<rect x="55.33" y="243.89" width="11.07" height="1.74" fill="#ed363c" stroke="none" stroke-width="0.8"/>
<rect x="55.33" y="245.33" width="11.07" height="1.74" fill="#f09a9f" stroke="none" stroke-width="0.8"/>
<rect x="55.33" y="246.78" width="11.07" height="1.74" fill="#ef9196" stroke="none" stroke-width="0.8"/>
<rect x="55.33" y="248.22" width="11.07" height="1.74" fill="#ed3339" stroke="none" stroke-width="0.8"/>
<rect x="55.33" y="249.67" width="11.07" height="3.19" fill="#ef858a" stroke="none" stroke-width="0.8"/>
<rect x="55.33" y="252.56" width="11.07" height="1.74" fill="#f0a6ab" stroke="none" stroke-width="0.8"/>
<rect x="55.33" y="254.00" width="11.07" height="1.74" fill="#b6bbdb" stroke="none" stroke-width="0.8"/>
<rect x="55.33" y="255.44" width="11.07" height="1.74" fill="#5166b3" stroke="none" stroke-width="0.8"/>
<rect x="55.33" y="256.89" width="11.07" height="1.74" fill="#afb6d8" stroke="none" stroke-width="0.8"/>
<rect x="55.33" y="258.33" width="11.07" height="3.19" fill="#485fb0" stroke="none" stroke-width="0.8"/>
<rect x="55.33" y="261.22" width="11.07" height="1.74" fill="#929dcd" stroke="none" stroke-width="0.8"/>
<rect x="55.33" y="262.67" width="11.07" height="1.74" fill="#4058ad" stroke="none" stroke-width="0.8"/>
<rect x="55.33" y="264.11" width="11.07" height="1.74" fill="#a1aad2" stroke="none" stroke-width="0.8"/>
<rect x="55.33" y="265.56" width="11.07" height="1.74" fill="#475eaf" stroke="none" stroke-width="0.8"/>
<rect x="55.33" y="267.00" width="11.07" height="1.74" fill="#485fb0" stroke="none" stroke-width="0.8"/>
<rect x="55.33" y="268.44" width="11.07" height="3.19" fill="#9fa8d2" stroke="none" stroke-width="0.8"/>
<rect x="55.33" y="271.33" width="11.07" height="1.74" fill="#475eaf" stroke="none" stroke-width="0.8"/>
<rect x="55.33" y="272.78" width="11.07" height="1.74" fill="#576cb6" stroke="none" stroke-width="0.8"/>
<rect x="55.33" y="274.22" width="11.07" height="1.74" fill="#8f9bcc" stroke="none" stroke-width="0.8"/>
<rect x="55.33" y="275.67" width="11.07" height="3.19" fill="#4159ad" stroke="none" stroke-width="0.8"/>
<rect x="55.33" y="278.56" width="11.07" height="1.74" fill="#9ea7d1" stroke="none" stroke-width="0.8"/>
<rect x="66.10" y="202.00" width="11.07" height="3.19" fill="#4b62b1" stroke="none" stroke-width="0.8"/>
<rect x="66.10" y="204.89" width="11.07" height="3.19" fill="#a8b0d5" stroke="none" stroke-width="0.8"/>
<rect x="66.10" y="207.78" width="11.07" height="1.74" fill="#8b97ca" stroke="none" stroke-width="0.8"/>
<rect x="66.10" y="209.22" width="11.07" height="3.19" fill="#e8e6ee" stroke="none" stroke-width="0.8"/>
<rect x="66.10" y="212.11" width="11.07" height="1.74" fill="#a3acd3" stroke="none" stroke-width="0.8"/>
<rect x="66.10" y="213.56" width="11.07" height="3.19" fill="#f2eaee" stroke="none" stroke-width="0.8"/>
<rect x="66.10" y="216.44" width="11.07" height="3.19" fill="#4f65b3" stroke="none" stroke-width="0.8"/>
<rect x="66.10" y="219.33" width="11.07" height="1.74" fill="#354fa8" stroke="none" stroke-width="0.8"/>
<rect x="66.10" y="220.78" width="11.07" height="3.19" fill="#485fb0" stroke="none" stroke-width="0.8"/>
<rect x="66.10" y="223.67" width="11.07" height="3.19" fill="#485fb0" stroke="none" stroke-width="0.8"/>
<rect x="66.10" y="226.56" width="11.07" height="3.19" fill="#3d55ab" stroke="none" stroke-width="0.8"/>
<rect x="66.10" y="229.44" width="11.07" height="1.74" fill="#566bb5" stroke="none" stroke-width="0.8"/>
<rect x="66.10" y="230.89" width="11.07" height="1.74" fill="#566bb5" stroke="none" stroke-width="0.8"/>
<rect x="66.10" y="232.33" width="11.07" height="1.74" fill="#566ab5" stroke="none" stroke-width="0.8"/>
<rect x="66.10" y="233.78" width="11.07" height="1.74" fill="#3952aa" stroke="none" stroke-width="0.8"/>
<rect x="66.10" y="235.22" width="11.07" height="3.19" fill="#3851a9" stroke="none" stroke-width="0.8"/>
<rect x="66.10" y="238.11" width="11.07" height="3.19" fill="#ef8e93" stroke="none" stroke-width="0.8"/>
<rect x="66.10" y="241.00" width="11.07" height="1.74" fill="#ed343a" stroke="none" stroke-width="0.8"/>
<rect x="66.10" y="242.44" width="11.07" height="1.74" fill="#ed4046" stroke="none" stroke-width="0.8"/>
<rect x="66.10" y="243.89" width="11.07" height="3.19" fill="#ef777c" stroke="none" stroke-width="0.8"/>
<rect x="66.10" y="246.78" width="11.07" height="1.74" fill="#ec292f" stroke="none" stroke-width="0.8"/>
<rect x="66.10" y="248.22" width="11.07" height="1.74" fill="#ef9095" stroke="none" stroke-width="0.8"/>
<rect x="66.10" y="249.67" width="11.07" height="1.74" fill="#ec252b" stroke="none" stroke-width="0.8"/>
<rect x="66.10" y="251.11" width="11.07" height="1.74" fill="#ed4248" stroke="none" stroke-width="0.8"/>
<rect x="66.10" y="252.56" width="11.07" height="1.74" fill="#ec2228" stroke="none" stroke-width="0.8"/>
<rect x="66.10" y="254.00" width="11.07" height="1.74" fill="#3b54ab" stroke="none" stroke-width="0.8"/>
<rect x="66.10" y="255.44" width="11.07" height="3.19" fill="#5a6eb7" stroke="none" stroke-width="0.8"/>
<rect x="66.10" y="258.33" width="11.07" height="1.74" fill="#4a61b1" stroke="none" stroke-width="0.8"/>
<rect x="66.10" y="259.78" width="11.07" height="3.19" fill="#9aa4d0" stroke="none" stroke-width="0.8"/>
<rect x="66.10" y="262.67" width="11.07" height="1.74" fill="#435bae" stroke="none" stroke-width="0.8"/>
<rect x="66.10" y="264.11" width="11.07" height="1.74" fill="#445cae" stroke="none" stroke-width="0.8"/>
<rect x="66.10" y="265.56" width="11.07" height="1.74" fill="#4c62b1" stroke="none" stroke-width="0.8"/>
<rect x="66.10" y="267.00" width="11.07" height="1.74" fill="#3b54ab" stroke="none" stroke-width="0.8"/>
<rect x="66.10" y="268.44" width="11.07" height="3.19" fill="#95a0ce" stroke="none" stroke-width="0.8"/>
<rect x="66.10" y="271.33" width="11.07" height="1.74" fill="#8996c9" stroke="none" stroke-width="0.8"/>
<rect x="66.10" y="272.78" width="11.07" height="1.74" fill="#4058ad" stroke="none" stroke-width="0.8"/>
<rect x="66.10" y="274.22" width="11.07" height="3.19" fill="#b2b8d9" stroke="none" stroke-width="0.8"/>
<rect x="66.10" y="277.11" width="11.07" height="1.74" fill="#4a60b0" stroke="none" stroke-width="0.8"/>
<rect x="66.10" y="278.56" width="11.07" height="3.19" fill="#b8bddb" stroke="none" stroke-width="0.8"/>
<rect x="76.87" y="202.00" width="11.07" height="1.74" fill="#ed393f" stroke="none" stroke-width="0.8"/>
<rect x="76.87" y="203.44" width="11.07" height="1.74" fill="#ec252b" stroke="none" stroke-width="0.8"/>
<rect x="76.87" y="204.89" width="11.07" height="1.74" fill="#ec2228" stroke="none" stroke-width="0.8"/>
<rect x="76.87" y="206.33" width="11.07" height="1.74" fill="#ec272d" stroke="none" stroke-width="0.8"/>
<rect x="76.87" y="207.78" width="11.07" height="1.74" fill="#ed4146" stroke="none" stroke-width="0.8"/>
<rect x="76.87" y="209.22" width="11.07" height="3.19" fill="#ed4045" stroke="none" stroke-width="0.8"/>
<rect x="76.87" y="212.11" width="11.07" height="3.19" fill="#ed3b40" stroke="none" stroke-width="0.8"/>
<rect x="76.87" y="215.00" width="11.07" height="1.74" fill="#ed373d" stroke="none" stroke-width="0.8"/>
<rect x="76.87" y="216.44" width="11.07" height="1.74" fill="#ed2f35" stroke="none" stroke-width="0.8"/>
<rect x="76.87" y="217.89" width="11.07" height="3.19" fill="#ec2b31" stroke="none" stroke-width="0.8"/>
<rect x="76.87" y="220.78" width="11.07" height="1.74" fill="#ec1f25" stroke="none" stroke-width="0.8"/>
<rect x="76.87" y="222.22" width="11.07" height="1.74" fill="#ec282e" stroke="none" stroke-width="0.8"/>
<rect x="76.87" y="223.67" width="11.07" height="3.19" fill="#ed3136" stroke="none" stroke-width="0.8"/>
<rect x="76.87" y="226.56" width="11.07" height="1.74" fill="#ed4349" stroke="none" stroke-width="0.8"/>
<rect x="76.87" y="228.00" width="11.07" height="1.74" fill="#ec2227" stroke="none" stroke-width="0.8"/>
<rect x="76.87" y="229.44" width="11.07" height="1.74" fill="#ec1f25" stroke="none" stroke-width="0.8"/>
<rect x="76.87" y="230.89" width="11.07" height="3.19" fill="#ec2c31" stroke="none" stroke-width="0.8"/>
<rect x="76.87" y="233.78" width="11.07" height="1.74" fill="#ec2f35" stroke="none" stroke-width="0.8"/>
<rect x="76.87" y="235.22" width="11.07" height="3.19" fill="#ed353b" stroke="none" stroke-width="0.8"/>
<rect x="76.87" y="238.11" width="11.07" height="1.74" fill="#ed3238" stroke="none" stroke-width="0.8"/>
<rect x="76.87" y="239.56" width="11.07" height="1.74" fill="#ec2f35" stroke="none" stroke-width="0.8"/>
<rect x="76.87" y="241.00" width="11.07" height="1.74" fill="#ec2026" stroke="none" stroke-width="0.8"/>
<rect x="76.87" y="242.44" width="11.07" height="1.74" fill="#ec2d33" stroke="none" stroke-width="0.8"/>
<rect x="76.87" y="243.89" width="11.07" height="1.74" fill="#ed3137" stroke="none" stroke-width="0.8"/>
<rect x="76.87" y="245.33" width="11.07" height="3.19" fill="#a6aed4" stroke="none" stroke-width="0.8"/>
<rect x="76.87" y="248.22" width="11.07" height="1.74" fill="#f0afb3" stroke="none" stroke-width="0.8"/>
<rect x="76.87" y="249.67" width="11.07" height="1.74" fill="#ef888d" stroke="none" stroke-width="0.8"/>
<rect x="76.87" y="251.11" width="11.07" height="3.19" fill="#edeaf0" stroke="none" stroke-width="0.8"/>
<rect x="76.87" y="254.00" width="11.07" height="1.74" fill="#435bae" stroke="none" stroke-width="0.8"/>
<rect x="76.87" y="255.44" width="11.07" height="1.74" fill="#586cb6" stroke="none" stroke-width="0.8"/>
<rect x="76.87" y="256.89" width="11.07" height="1.74" fill="#98a3cf" stroke="none" stroke-width="0.8"/>
<rect x="76.87" y="258.33" width="11.07" height="1.74" fill="#8390c7" stroke="none" stroke-width="0.8"/>
<rect x="76.87" y="259.78" width="11.07" height="1.74" fill="#576bb5" stroke="none" stroke-width="0.8"/>
<rect x="76.87" y="261.22" width="11.07" height="1.74" fill="#a2abd3" stroke="none" stroke-width="0.8"/>
<rect x="76.87" y="262.67" width="11.07" height="1.74" fill="#445bae" stroke="none" stroke-width="0.8"/>
<rect x="76.87" y="264.11" width="11.07" height="1.74" fill="#949fce" stroke="none" stroke-width="0.8"/>
<rect x="76.87" y="265.56" width="11.07" height="1.74" fill="#efecf1" stroke="none" stroke-width="0.8"/>
<rect x="76.87" y="267.00" width="11.07" height="1.74" fill="#f2e9ed" stroke="none" stroke-width="0.8"/>
<rect x="76.87" y="268.44" width="11.07" height="3.19" fill="#445bae" stroke="none" stroke-width="0.8"/>
<rect x="76.87" y="271.33" width="11.07" height="1.74" fill="#5368b4" stroke="none" stroke-width="0.8"/>
<rect x="76.87" y="272.78" width="11.07" height="1.74" fill="#f2e2e6" stroke="none" stroke-width="0.8"/>
<rect x="76.87" y="274.22" width="11.07" height="1.74" fill="#9da6d1" stroke="none" stroke-width="0.8"/>
<rect x="76.87" y="275.67" width="11.07" height="1.74" fill="#4c62b1" stroke="none" stroke-width="0.8"/>
<rect x="76.87" y="277.11" width="11.07" height="3.19" fill="#f2e9ed" stroke="none" stroke-width="0.8"/>
<rect x="87.63" y="202.00" width="11.07" height="1.74" fill="#ef8b90" stroke="none" stroke-width="0.8"/>
<rect x="87.63" y="203.44" width="11.07" height="1.74" fill="#ed3c42" stroke="none" stroke-width="0.8"/>
<rect x="87.63" y="204.89" width="11.07" height="3.19" fill="#ef767c" stroke="none" stroke-width="0.8"/>
<rect x="87.63" y="207.78" width="11.07" height="1.74" fill="#ec2c32" stroke="none" stroke-width="0.8"/>
<rect x="87.63" y="209.22" width="11.07" height="1.74" fill="#ed3439" stroke="none" stroke-width="0.8"/>
<rect x="87.63" y="210.67" width="11.07" height="1.74" fill="#ed3b41" stroke="none" stroke-width="0.8"/>
<rect x="87.63" y="212.11" width="11.07" height="1.74" fill="#ec2127" stroke="none" stroke-width="0.8"/>
<rect x="87.63" y="213.56" width="11.07" height="1.74" fill="#ec2c32" stroke="none" stroke-width="0.8"/>
<rect x="87.63" y="215.00" width="11.07" height="1.74" fill="#ed363c" stroke="none" stroke-width="0.8"/>
<rect x="87.63" y="216.44" width="11.07" height="3.19" fill="#ec282d" stroke="none" stroke-width="0.8"/>
<rect x="87.63" y="219.33" width="11.07" height="1.74" fill="#ec252b" stroke="none" stroke-width="0.8"/>
<rect x="87.63" y="220.78" width="11.07" height="3.19" fill="#ef7b80" stroke="none" stroke-width="0.8"/>
<rect x="87.63" y="223.67" width="11.07" height="1.74" fill="#ed3439" stroke="none" stroke-width="0.8"/>
<rect x="87.63" y="225.11" width="11.07" height="1.74" fill="#ed363b" stroke="none" stroke-width="0.8"/>
<rect x="87.63" y="226.56" width="11.07" height="1.74" fill="#f09ba0" stroke="none" stroke-width="0.8"/>
<rect x="87.63" y="228.00" width="11.07" height="1.74" fill="#ef7c81" stroke="none" stroke-width="0.8"/>
<rect x="87.63" y="229.44" width="11.07" height="1.74" fill="#f0999d" stroke="none" stroke-width="0.8"/>
<rect x="87.63" y="230.89" width="11.07" height="1.74" fill="#ed4146" stroke="none" stroke-width="0.8"/>
<rect x="87.63" y="232.33" width="11.07" height="3.19" fill="#ef8c91" stroke="none" stroke-width="0.8"/>
<rect x="87.63" y="235.22" width="11.07" height="3.19" fill="#ed383e" stroke="none" stroke-width="0.8"/>
<rect x="87.63" y="238.11" width="11.07" height="3.19" fill="#ed383e" stroke="none" stroke-width="0.8"/>
<rect x="87.63" y="241.00" width="11.07" height="1.74" fill="#f0abaf" stroke="none" stroke-width="0.8"/>
<rect x="87.63" y="242.44" width="11.07" height="1.74" fill="#ef8085" stroke="none" stroke-width="0.8"/>
<rect x="87.63" y="243.89" width="11.07" height="1.74" fill="#ed3b41" stroke="none" stroke-width="0.8"/>
<rect x="87.63" y="245.33" width="11.07" height="1.74" fill="#ece9f0" stroke="none" stroke-width="0.8"/>
<rect x="87.63" y="246.78" width="11.07" height="3.19" fill="#f2ebef" stroke="none" stroke-width="0.8"/>
<rect x="87.63" y="249.67" width="11.07" height="3.19" fill="#efecf1" stroke="none" stroke-width="0.8"/>
<rect x="87.63" y="252.56" width="11.07" height="1.74" fill="#f0ecf1" stroke="none" stroke-width="0.8"/>
<rect x="87.63" y="254.00" width="11.07" height="1.74" fill="#f1dade" stroke="none" stroke-width="0.8"/>
<rect x="87.63" y="255.44" width="11.07" height="1.74" fill="#afb6d8" stroke="none" stroke-width="0.8"/>
<rect x="87.63" y="256.89" width="11.07" height="1.74" fill="#edeaf0" stroke="none" stroke-width="0.8"/>
<rect x="87.63" y="258.33" width="11.07" height="1.74" fill="#5066b3" stroke="none" stroke-width="0.8"/>
<rect x="87.63" y="259.78" width="11.07" height="3.19" fill="#9fa8d2" stroke="none" stroke-width="0.8"/>
<rect x="87.63" y="262.67" width="11.07" height="1.74" fill="#e3e2ec" stroke="none" stroke-width="0.8"/>
<rect x="87.63" y="264.11" width="11.07" height="1.74" fill="#b2b8d9" stroke="none" stroke-width="0.8"/>
<rect x="87.63" y="265.56" width="11.07" height="1.74" fill="#3c55ab" stroke="none" stroke-width="0.8"/>
<rect x="87.63" y="267.00" width="11.07" height="3.19" fill="#4a60b0" stroke="none" stroke-width="0.8"/>
<rect x="87.63" y="269.89" width="11.07" height="1.74" fill="#f2dde1" stroke="none" stroke-width="0.8"/>
<rect x="87.63" y="271.33" width="11.07" height="3.19" fill="#f2ecf0" stroke="none" stroke-width="0.8"/>
<rect x="87.63" y="274.22" width="11.07" height="1.74" fill="#4159ad" stroke="none" stroke-width="0.8"/>
<rect x="87.63" y="275.67" width="11.07" height="1.74" fill="#566bb5" stroke="none" stroke-width="0.8"/>
<rect x="87.63" y="277.11" width="11.07" height="1.74" fill="#f2e6ea" stroke="none" stroke-width="0.8"/>
<rect x="87.63" y="278.56" width="11.07" height="3.19" fill="#eeebf1" stroke="none" stroke-width="0.8"/>
<defs><linearGradient id="cb2" x1="0" y1="0" x2="1" y2="0"><stop offset="0" stop-color="#ec1e24"/><stop offset="0.5" stop-color="#f2eef2"/><stop offset="1" stop-color="#344ea8"/></linearGradient></defs>
<rect x="36.00" y="285.00" width="55.00" height="3.50" fill="url(#cb2)" stroke="none" stroke-width="0.8"/>
<text x="17.00" y="296.60" font-size="8.6" fill="#231f20" stroke="#231f20">Row max</text>
<text x="73.00" y="296.60" font-size="8.6" fill="#231f20" stroke="#231f20">Row min</text>
<line x1="6.20" y1="228.20" x2="6.20" y2="267.40" stroke="#6d6d6d" stroke-width="0.5"/>
<line x1="6.20" y1="228.20" x2="20.30" y2="228.20" stroke="#6d6d6d" stroke-width="0.5"/>
<line x1="6.20" y1="267.40" x2="10.80" y2="267.40" stroke="#6d6d6d" stroke-width="0.5"/>
<line x1="20.30" y1="220.00" x2="20.30" y2="246.70" stroke="#6d6d6d" stroke-width="0.5"/>
<line x1="20.30" y1="220.00" x2="25.90" y2="220.00" stroke="#6d6d6d" stroke-width="0.5"/>
<line x1="20.30" y1="246.70" x2="27.60" y2="246.70" stroke="#6d6d6d" stroke-width="0.5"/>
<line x1="25.90" y1="206.00" x2="25.90" y2="234.20" stroke="#6d6d6d" stroke-width="0.5"/>
<line x1="27.60" y1="238.00" x2="27.60" y2="252.00" stroke="#6d6d6d" stroke-width="0.5"/>
<line x1="10.80" y1="254.90" x2="10.80" y2="268.30" stroke="#6d6d6d" stroke-width="0.5"/>
<line x1="10.80" y1="254.90" x2="28.90" y2="254.90" stroke="#6d6d6d" stroke-width="0.5"/>
<line x1="10.80" y1="268.30" x2="28.40" y2="268.30" stroke="#6d6d6d" stroke-width="0.5"/>
<line x1="28.40" y1="258.00" x2="28.40" y2="279.00" stroke="#6d6d6d" stroke-width="0.5"/>
<line x1="29.81" y1="202.72" x2="33.60" y2="202.72" stroke="#707070" stroke-width="0.45"/>
<line x1="29.02" y1="202.72" x2="29.02" y2="204.17" stroke="#555" stroke-width="0.45"/>
<line x1="29.02" y1="202.72" x2="29.81" y2="202.72" stroke="#707070" stroke-width="0.45"/>
<line x1="29.02" y1="204.17" x2="30.06" y2="204.17" stroke="#707070" stroke-width="0.45"/>
<line x1="30.06" y1="204.17" x2="33.60" y2="204.17" stroke="#707070" stroke-width="0.45"/>
<line x1="28.85" y1="204.17" x2="28.85" y2="205.61" stroke="#555" stroke-width="0.45"/>
<line x1="28.85" y1="204.17" x2="30.06" y2="204.17" stroke="#707070" stroke-width="0.45"/>
<line x1="28.85" y1="205.61" x2="30.17" y2="205.61" stroke="#707070" stroke-width="0.45"/>
<line x1="30.17" y1="205.61" x2="33.60" y2="205.61" stroke="#707070" stroke-width="0.45"/>
<line x1="28.41" y1="205.61" x2="28.41" y2="207.06" stroke="#555" stroke-width="0.45"/>
<line x1="28.41" y1="205.61" x2="30.17" y2="205.61" stroke="#707070" stroke-width="0.45"/>
<line x1="28.41" y1="207.06" x2="30.48" y2="207.06" stroke="#707070" stroke-width="0.45"/>
<line x1="30.48" y1="207.06" x2="33.60" y2="207.06" stroke="#707070" stroke-width="0.45"/>
<line x1="29.91" y1="207.06" x2="29.91" y2="208.50" stroke="#555" stroke-width="0.45"/>
<line x1="29.91" y1="207.06" x2="30.48" y2="207.06" stroke="#707070" stroke-width="0.45"/>
<line x1="29.91" y1="208.50" x2="30.05" y2="208.50" stroke="#707070" stroke-width="0.45"/>
<line x1="30.05" y1="208.50" x2="33.60" y2="208.50" stroke="#707070" stroke-width="0.45"/>
<line x1="27.62" y1="208.50" x2="27.62" y2="209.94" stroke="#555" stroke-width="0.45"/>
<line x1="27.62" y1="208.50" x2="30.05" y2="208.50" stroke="#707070" stroke-width="0.45"/>
<line x1="27.62" y1="209.94" x2="30.44" y2="209.94" stroke="#707070" stroke-width="0.45"/>
<line x1="30.44" y1="209.94" x2="33.60" y2="209.94" stroke="#707070" stroke-width="0.45"/>
<line x1="28.50" y1="209.94" x2="28.50" y2="211.39" stroke="#555" stroke-width="0.45"/>
<line x1="28.50" y1="209.94" x2="30.44" y2="209.94" stroke="#707070" stroke-width="0.45"/>
<line x1="28.50" y1="211.39" x2="28.56" y2="211.39" stroke="#707070" stroke-width="0.45"/>
<line x1="28.56" y1="211.39" x2="33.60" y2="211.39" stroke="#707070" stroke-width="0.45"/>
<line x1="26.69" y1="211.39" x2="26.69" y2="212.83" stroke="#555" stroke-width="0.45"/>
<line x1="26.69" y1="211.39" x2="28.56" y2="211.39" stroke="#707070" stroke-width="0.45"/>
<line x1="26.69" y1="212.83" x2="29.48" y2="212.83" stroke="#707070" stroke-width="0.45"/>
<line x1="29.48" y1="212.83" x2="33.60" y2="212.83" stroke="#707070" stroke-width="0.45"/>
<line x1="27.37" y1="212.83" x2="27.37" y2="214.28" stroke="#555" stroke-width="0.45"/>
<line x1="27.37" y1="212.83" x2="29.48" y2="212.83" stroke="#707070" stroke-width="0.45"/>
<line x1="27.37" y1="214.28" x2="30.48" y2="214.28" stroke="#707070" stroke-width="0.45"/>
<line x1="30.48" y1="214.28" x2="33.60" y2="214.28" stroke="#707070" stroke-width="0.45"/>
<line x1="29.82" y1="214.28" x2="29.82" y2="215.72" stroke="#555" stroke-width="0.45"/>
<line x1="29.82" y1="214.28" x2="30.48" y2="214.28" stroke="#707070" stroke-width="0.45"/>
<line x1="29.82" y1="215.72" x2="29.86" y2="215.72" stroke="#707070" stroke-width="0.45"/>
<line x1="29.86" y1="215.72" x2="33.60" y2="215.72" stroke="#707070" stroke-width="0.45"/>
<line x1="27.89" y1="215.72" x2="27.89" y2="217.17" stroke="#555" stroke-width="0.45"/>
<line x1="27.89" y1="215.72" x2="29.86" y2="215.72" stroke="#707070" stroke-width="0.45"/>
<line x1="27.89" y1="217.17" x2="30.39" y2="217.17" stroke="#707070" stroke-width="0.45"/>
<line x1="30.39" y1="217.17" x2="33.60" y2="217.17" stroke="#707070" stroke-width="0.45"/>
<line x1="27.82" y1="217.17" x2="27.82" y2="218.61" stroke="#555" stroke-width="0.45"/>
<line x1="27.82" y1="217.17" x2="30.39" y2="217.17" stroke="#707070" stroke-width="0.45"/>
<line x1="27.82" y1="218.61" x2="28.74" y2="218.61" stroke="#707070" stroke-width="0.45"/>
<line x1="28.74" y1="218.61" x2="33.60" y2="218.61" stroke="#707070" stroke-width="0.45"/>
<line x1="27.29" y1="218.61" x2="27.29" y2="220.06" stroke="#555" stroke-width="0.45"/>
<line x1="27.29" y1="218.61" x2="28.74" y2="218.61" stroke="#707070" stroke-width="0.45"/>
<line x1="27.29" y1="220.06" x2="29.49" y2="220.06" stroke="#707070" stroke-width="0.45"/>
<line x1="29.49" y1="220.06" x2="33.60" y2="220.06" stroke="#707070" stroke-width="0.45"/>
<line x1="29.00" y1="220.06" x2="29.00" y2="221.50" stroke="#555" stroke-width="0.45"/>
<line x1="29.00" y1="220.06" x2="29.49" y2="220.06" stroke="#707070" stroke-width="0.45"/>
<line x1="29.00" y1="221.50" x2="29.02" y2="221.50" stroke="#707070" stroke-width="0.45"/>
<line x1="29.02" y1="221.50" x2="33.60" y2="221.50" stroke="#707070" stroke-width="0.45"/>
<line x1="28.90" y1="221.50" x2="28.90" y2="222.94" stroke="#555" stroke-width="0.45"/>
<line x1="28.90" y1="221.50" x2="29.02" y2="221.50" stroke="#707070" stroke-width="0.45"/>
<line x1="28.90" y1="222.94" x2="29.64" y2="222.94" stroke="#707070" stroke-width="0.45"/>
<line x1="29.64" y1="222.94" x2="33.60" y2="222.94" stroke="#707070" stroke-width="0.45"/>
<line x1="29.19" y1="222.94" x2="29.19" y2="224.39" stroke="#555" stroke-width="0.45"/>
<line x1="29.19" y1="222.94" x2="29.64" y2="222.94" stroke="#707070" stroke-width="0.45"/>
<line x1="29.19" y1="224.39" x2="29.71" y2="224.39" stroke="#707070" stroke-width="0.45"/>
<line x1="29.71" y1="224.39" x2="33.60" y2="224.39" stroke="#707070" stroke-width="0.45"/>
<line x1="26.50" y1="224.39" x2="26.50" y2="225.83" stroke="#555" stroke-width="0.45"/>
<line x1="26.50" y1="224.39" x2="29.71" y2="224.39" stroke="#707070" stroke-width="0.45"/>
<line x1="26.50" y1="225.83" x2="28.53" y2="225.83" stroke="#707070" stroke-width="0.45"/>
<line x1="28.53" y1="225.83" x2="33.60" y2="225.83" stroke="#707070" stroke-width="0.45"/>
<line x1="28.04" y1="225.83" x2="28.04" y2="227.28" stroke="#555" stroke-width="0.45"/>
<line x1="28.04" y1="225.83" x2="28.53" y2="225.83" stroke="#707070" stroke-width="0.45"/>
<line x1="28.04" y1="227.28" x2="28.96" y2="227.28" stroke="#707070" stroke-width="0.45"/>
<line x1="28.96" y1="227.28" x2="33.60" y2="227.28" stroke="#707070" stroke-width="0.45"/>
<line x1="27.07" y1="227.28" x2="27.07" y2="228.72" stroke="#555" stroke-width="0.45"/>
<line x1="27.07" y1="227.28" x2="28.96" y2="227.28" stroke="#707070" stroke-width="0.45"/>
<line x1="27.07" y1="228.72" x2="29.09" y2="228.72" stroke="#707070" stroke-width="0.45"/>
<line x1="29.09" y1="228.72" x2="33.60" y2="228.72" stroke="#707070" stroke-width="0.45"/>
<line x1="26.76" y1="228.72" x2="26.76" y2="230.17" stroke="#555" stroke-width="0.45"/>
<line x1="26.76" y1="228.72" x2="29.09" y2="228.72" stroke="#707070" stroke-width="0.45"/>
<line x1="26.76" y1="230.17" x2="30.42" y2="230.17" stroke="#707070" stroke-width="0.45"/>
<line x1="30.42" y1="230.17" x2="33.60" y2="230.17" stroke="#707070" stroke-width="0.45"/>
<line x1="27.75" y1="230.17" x2="27.75" y2="231.61" stroke="#555" stroke-width="0.45"/>
<line x1="27.75" y1="230.17" x2="30.42" y2="230.17" stroke="#707070" stroke-width="0.45"/>
<line x1="27.75" y1="231.61" x2="30.11" y2="231.61" stroke="#707070" stroke-width="0.45"/>
<line x1="30.11" y1="231.61" x2="33.60" y2="231.61" stroke="#707070" stroke-width="0.45"/>
<line x1="27.97" y1="231.61" x2="27.97" y2="233.06" stroke="#555" stroke-width="0.45"/>
<line x1="27.97" y1="231.61" x2="30.11" y2="231.61" stroke="#707070" stroke-width="0.45"/>
<line x1="27.97" y1="233.06" x2="28.84" y2="233.06" stroke="#707070" stroke-width="0.45"/>
<line x1="28.84" y1="233.06" x2="33.60" y2="233.06" stroke="#707070" stroke-width="0.45"/>
<line x1="27.95" y1="233.06" x2="27.95" y2="234.50" stroke="#555" stroke-width="0.45"/>
<line x1="27.95" y1="233.06" x2="28.84" y2="233.06" stroke="#707070" stroke-width="0.45"/>
<line x1="27.95" y1="234.50" x2="30.17" y2="234.50" stroke="#707070" stroke-width="0.45"/>
<line x1="30.17" y1="234.50" x2="33.60" y2="234.50" stroke="#707070" stroke-width="0.45"/>
<line x1="27.48" y1="234.50" x2="27.48" y2="235.94" stroke="#555" stroke-width="0.45"/>
<line x1="27.48" y1="234.50" x2="30.17" y2="234.50" stroke="#707070" stroke-width="0.45"/>
<line x1="27.48" y1="235.94" x2="28.79" y2="235.94" stroke="#707070" stroke-width="0.45"/>
<line x1="28.79" y1="235.94" x2="33.60" y2="235.94" stroke="#707070" stroke-width="0.45"/>
<line x1="26.85" y1="235.94" x2="26.85" y2="237.39" stroke="#555" stroke-width="0.45"/>
<line x1="26.85" y1="235.94" x2="28.79" y2="235.94" stroke="#707070" stroke-width="0.45"/>
<line x1="26.85" y1="237.39" x2="29.80" y2="237.39" stroke="#707070" stroke-width="0.45"/>
<line x1="29.80" y1="237.39" x2="33.60" y2="237.39" stroke="#707070" stroke-width="0.45"/>
<line x1="28.50" y1="237.39" x2="28.50" y2="238.83" stroke="#555" stroke-width="0.45"/>
<line x1="28.50" y1="237.39" x2="29.80" y2="237.39" stroke="#707070" stroke-width="0.45"/>
<line x1="28.50" y1="238.83" x2="28.77" y2="238.83" stroke="#707070" stroke-width="0.45"/>
<line x1="28.77" y1="238.83" x2="33.60" y2="238.83" stroke="#707070" stroke-width="0.45"/>
<line x1="26.63" y1="238.83" x2="26.63" y2="240.28" stroke="#555" stroke-width="0.45"/>
<line x1="26.63" y1="238.83" x2="28.77" y2="238.83" stroke="#707070" stroke-width="0.45"/>
<line x1="26.63" y1="240.28" x2="28.50" y2="240.28" stroke="#707070" stroke-width="0.45"/>
<line x1="28.50" y1="240.28" x2="33.60" y2="240.28" stroke="#707070" stroke-width="0.45"/>
<line x1="26.51" y1="240.28" x2="26.51" y2="241.72" stroke="#555" stroke-width="0.45"/>
<line x1="26.51" y1="240.28" x2="28.50" y2="240.28" stroke="#707070" stroke-width="0.45"/>
<line x1="26.51" y1="241.72" x2="30.33" y2="241.72" stroke="#707070" stroke-width="0.45"/>
<line x1="30.33" y1="241.72" x2="33.60" y2="241.72" stroke="#707070" stroke-width="0.45"/>
<line x1="26.79" y1="241.72" x2="26.79" y2="243.17" stroke="#555" stroke-width="0.45"/>
<line x1="26.79" y1="241.72" x2="30.33" y2="241.72" stroke="#707070" stroke-width="0.45"/>
<line x1="26.79" y1="243.17" x2="28.94" y2="243.17" stroke="#707070" stroke-width="0.45"/>
<line x1="28.94" y1="243.17" x2="33.60" y2="243.17" stroke="#707070" stroke-width="0.45"/>
<line x1="28.85" y1="243.17" x2="28.85" y2="244.61" stroke="#555" stroke-width="0.45"/>
<line x1="28.85" y1="243.17" x2="28.94" y2="243.17" stroke="#707070" stroke-width="0.45"/>
<line x1="28.85" y1="244.61" x2="28.95" y2="244.61" stroke="#707070" stroke-width="0.45"/>
<line x1="28.95" y1="244.61" x2="33.60" y2="244.61" stroke="#707070" stroke-width="0.45"/>
<line x1="26.59" y1="244.61" x2="26.59" y2="246.06" stroke="#555" stroke-width="0.45"/>
<line x1="26.59" y1="244.61" x2="28.95" y2="244.61" stroke="#707070" stroke-width="0.45"/>
<line x1="26.59" y1="246.06" x2="30.56" y2="246.06" stroke="#707070" stroke-width="0.45"/>
<line x1="30.56" y1="246.06" x2="33.60" y2="246.06" stroke="#707070" stroke-width="0.45"/>
<line x1="30.10" y1="246.06" x2="30.10" y2="247.50" stroke="#555" stroke-width="0.45"/>
<line x1="30.10" y1="246.06" x2="30.56" y2="246.06" stroke="#707070" stroke-width="0.45"/>
<line x1="30.10" y1="247.50" x2="30.33" y2="247.50" stroke="#707070" stroke-width="0.45"/>
<line x1="30.33" y1="247.50" x2="33.60" y2="247.50" stroke="#707070" stroke-width="0.45"/>
<line x1="28.26" y1="247.50" x2="28.26" y2="248.94" stroke="#555" stroke-width="0.45"/>
<line x1="28.26" y1="247.50" x2="30.33" y2="247.50" stroke="#707070" stroke-width="0.45"/>
<line x1="28.26" y1="248.94" x2="29.11" y2="248.94" stroke="#707070" stroke-width="0.45"/>
<line x1="29.11" y1="248.94" x2="33.60" y2="248.94" stroke="#707070" stroke-width="0.45"/>
<line x1="27.58" y1="248.94" x2="27.58" y2="250.39" stroke="#555" stroke-width="0.45"/>
<line x1="27.58" y1="248.94" x2="29.11" y2="248.94" stroke="#707070" stroke-width="0.45"/>
<line x1="27.58" y1="250.39" x2="30.52" y2="250.39" stroke="#707070" stroke-width="0.45"/>
<line x1="30.52" y1="250.39" x2="33.60" y2="250.39" stroke="#707070" stroke-width="0.45"/>
<line x1="27.34" y1="250.39" x2="27.34" y2="251.83" stroke="#555" stroke-width="0.45"/>
<line x1="27.34" y1="250.39" x2="30.52" y2="250.39" stroke="#707070" stroke-width="0.45"/>
<line x1="27.34" y1="251.83" x2="29.63" y2="251.83" stroke="#707070" stroke-width="0.45"/>
<line x1="29.63" y1="251.83" x2="33.60" y2="251.83" stroke="#707070" stroke-width="0.45"/>
<line x1="28.78" y1="251.83" x2="28.78" y2="253.28" stroke="#555" stroke-width="0.45"/>
<line x1="28.78" y1="251.83" x2="29.63" y2="251.83" stroke="#707070" stroke-width="0.45"/>
<line x1="28.78" y1="253.28" x2="29.92" y2="253.28" stroke="#707070" stroke-width="0.45"/>
<line x1="29.92" y1="253.28" x2="33.60" y2="253.28" stroke="#707070" stroke-width="0.45"/>
<line x1="26.62" y1="253.28" x2="26.62" y2="254.72" stroke="#555" stroke-width="0.45"/>
<line x1="26.62" y1="253.28" x2="29.92" y2="253.28" stroke="#707070" stroke-width="0.45"/>
<line x1="26.62" y1="254.72" x2="28.93" y2="254.72" stroke="#707070" stroke-width="0.45"/>
<line x1="28.93" y1="254.72" x2="33.60" y2="254.72" stroke="#707070" stroke-width="0.45"/>
<line x1="27.57" y1="254.72" x2="27.57" y2="256.17" stroke="#555" stroke-width="0.45"/>
<line x1="27.57" y1="254.72" x2="28.93" y2="254.72" stroke="#707070" stroke-width="0.45"/>
<line x1="27.57" y1="256.17" x2="30.48" y2="256.17" stroke="#707070" stroke-width="0.45"/>
<line x1="30.48" y1="256.17" x2="33.60" y2="256.17" stroke="#707070" stroke-width="0.45"/>
<line x1="29.17" y1="256.17" x2="29.17" y2="257.61" stroke="#555" stroke-width="0.45"/>
<line x1="29.17" y1="256.17" x2="30.48" y2="256.17" stroke="#707070" stroke-width="0.45"/>
<line x1="29.17" y1="257.61" x2="29.95" y2="257.61" stroke="#707070" stroke-width="0.45"/>
<line x1="29.95" y1="257.61" x2="33.60" y2="257.61" stroke="#707070" stroke-width="0.45"/>
<line x1="29.16" y1="257.61" x2="29.16" y2="259.06" stroke="#555" stroke-width="0.45"/>
<line x1="29.16" y1="257.61" x2="29.95" y2="257.61" stroke="#707070" stroke-width="0.45"/>
<line x1="29.16" y1="259.06" x2="30.53" y2="259.06" stroke="#707070" stroke-width="0.45"/>
<line x1="30.53" y1="259.06" x2="33.60" y2="259.06" stroke="#707070" stroke-width="0.45"/>
<line x1="29.93" y1="259.06" x2="29.93" y2="260.50" stroke="#555" stroke-width="0.45"/>
<line x1="29.93" y1="259.06" x2="30.53" y2="259.06" stroke="#707070" stroke-width="0.45"/>
<line x1="29.93" y1="260.50" x2="30.38" y2="260.50" stroke="#707070" stroke-width="0.45"/>
<line x1="30.38" y1="260.50" x2="33.60" y2="260.50" stroke="#707070" stroke-width="0.45"/>
<line x1="28.93" y1="260.50" x2="28.93" y2="261.94" stroke="#555" stroke-width="0.45"/>
<line x1="28.93" y1="260.50" x2="30.38" y2="260.50" stroke="#707070" stroke-width="0.45"/>
<line x1="28.93" y1="261.94" x2="29.13" y2="261.94" stroke="#707070" stroke-width="0.45"/>
<line x1="29.13" y1="261.94" x2="33.60" y2="261.94" stroke="#707070" stroke-width="0.45"/>
<line x1="28.76" y1="261.94" x2="28.76" y2="263.39" stroke="#555" stroke-width="0.45"/>
<line x1="28.76" y1="261.94" x2="29.13" y2="261.94" stroke="#707070" stroke-width="0.45"/>
<line x1="28.76" y1="263.39" x2="29.26" y2="263.39" stroke="#707070" stroke-width="0.45"/>
<line x1="29.26" y1="263.39" x2="33.60" y2="263.39" stroke="#707070" stroke-width="0.45"/>
<line x1="27.13" y1="263.39" x2="27.13" y2="264.83" stroke="#555" stroke-width="0.45"/>
<line x1="27.13" y1="263.39" x2="29.26" y2="263.39" stroke="#707070" stroke-width="0.45"/>
<line x1="27.13" y1="264.83" x2="28.85" y2="264.83" stroke="#707070" stroke-width="0.45"/>
<line x1="28.85" y1="264.83" x2="33.60" y2="264.83" stroke="#707070" stroke-width="0.45"/>
<line x1="26.50" y1="264.83" x2="26.50" y2="266.28" stroke="#555" stroke-width="0.45"/>
<line x1="26.50" y1="264.83" x2="28.85" y2="264.83" stroke="#707070" stroke-width="0.45"/>
<line x1="26.50" y1="266.28" x2="28.81" y2="266.28" stroke="#707070" stroke-width="0.45"/>
<line x1="28.81" y1="266.28" x2="33.60" y2="266.28" stroke="#707070" stroke-width="0.45"/>
<line x1="28.23" y1="266.28" x2="28.23" y2="267.72" stroke="#555" stroke-width="0.45"/>
<line x1="28.23" y1="266.28" x2="28.81" y2="266.28" stroke="#707070" stroke-width="0.45"/>
<line x1="28.23" y1="267.72" x2="28.64" y2="267.72" stroke="#707070" stroke-width="0.45"/>
<line x1="28.64" y1="267.72" x2="33.60" y2="267.72" stroke="#707070" stroke-width="0.45"/>
<line x1="28.52" y1="267.72" x2="28.52" y2="269.17" stroke="#555" stroke-width="0.45"/>
<line x1="28.52" y1="267.72" x2="28.64" y2="267.72" stroke="#707070" stroke-width="0.45"/>
<line x1="28.52" y1="269.17" x2="29.13" y2="269.17" stroke="#707070" stroke-width="0.45"/>
<line x1="29.13" y1="269.17" x2="33.60" y2="269.17" stroke="#707070" stroke-width="0.45"/>
<line x1="26.67" y1="269.17" x2="26.67" y2="270.61" stroke="#555" stroke-width="0.45"/>
<line x1="26.67" y1="269.17" x2="29.13" y2="269.17" stroke="#707070" stroke-width="0.45"/>
<line x1="26.67" y1="270.61" x2="29.77" y2="270.61" stroke="#707070" stroke-width="0.45"/>
<line x1="29.77" y1="270.61" x2="33.60" y2="270.61" stroke="#707070" stroke-width="0.45"/>
<line x1="27.17" y1="270.61" x2="27.17" y2="272.06" stroke="#555" stroke-width="0.45"/>
<line x1="27.17" y1="270.61" x2="29.77" y2="270.61" stroke="#707070" stroke-width="0.45"/>
<line x1="27.17" y1="272.06" x2="28.51" y2="272.06" stroke="#707070" stroke-width="0.45"/>
<line x1="28.51" y1="272.06" x2="33.60" y2="272.06" stroke="#707070" stroke-width="0.45"/>
<line x1="27.49" y1="272.06" x2="27.49" y2="273.50" stroke="#555" stroke-width="0.45"/>
<line x1="27.49" y1="272.06" x2="28.51" y2="272.06" stroke="#707070" stroke-width="0.45"/>
<line x1="27.49" y1="273.50" x2="29.92" y2="273.50" stroke="#707070" stroke-width="0.45"/>
<line x1="29.92" y1="273.50" x2="33.60" y2="273.50" stroke="#707070" stroke-width="0.45"/>
<line x1="28.62" y1="273.50" x2="28.62" y2="274.94" stroke="#555" stroke-width="0.45"/>
<line x1="28.62" y1="273.50" x2="29.92" y2="273.50" stroke="#707070" stroke-width="0.45"/>
<line x1="28.62" y1="274.94" x2="29.21" y2="274.94" stroke="#707070" stroke-width="0.45"/>
<line x1="29.21" y1="274.94" x2="33.60" y2="274.94" stroke="#707070" stroke-width="0.45"/>
<line x1="27.67" y1="274.94" x2="27.67" y2="276.39" stroke="#555" stroke-width="0.45"/>
<line x1="27.67" y1="274.94" x2="29.21" y2="274.94" stroke="#707070" stroke-width="0.45"/>
<line x1="27.67" y1="276.39" x2="29.15" y2="276.39" stroke="#707070" stroke-width="0.45"/>
<line x1="29.15" y1="276.39" x2="33.60" y2="276.39" stroke="#707070" stroke-width="0.45"/>
<line x1="27.09" y1="276.39" x2="27.09" y2="277.83" stroke="#555" stroke-width="0.45"/>
<line x1="27.09" y1="276.39" x2="29.15" y2="276.39" stroke="#707070" stroke-width="0.45"/>
<line x1="27.09" y1="277.83" x2="30.22" y2="277.83" stroke="#707070" stroke-width="0.45"/>
<line x1="30.22" y1="277.83" x2="33.60" y2="277.83" stroke="#707070" stroke-width="0.45"/>
<line x1="28.37" y1="277.83" x2="28.37" y2="279.28" stroke="#555" stroke-width="0.45"/>
<line x1="28.37" y1="277.83" x2="30.22" y2="277.83" stroke="#707070" stroke-width="0.45"/>
<line x1="28.37" y1="279.28" x2="29.51" y2="279.28" stroke="#707070" stroke-width="0.45"/>
<line x1="29.51" y1="279.28" x2="33.60" y2="279.28" stroke="#707070" stroke-width="0.45"/>
<text x="121.00" y="170.58" font-size="10.5" font-weight="bold" fill="#231f20" stroke="#231f20">E</text>
<text x="163.00" y="175.63" font-size="8.7" fill="#231f20" stroke="#231f20">Patient 2:</text>
<line x1="161.80" y1="191.00" x2="161.80" y2="273.50" stroke="#231f20" stroke-width="0.8"/>
<line x1="161.80" y1="273.50" x2="248.00" y2="273.50" stroke="#231f20" stroke-width="0.8"/>
<line x1="159.30" y1="192.20" x2="161.80" y2="192.20" stroke="#231f20" stroke-width="0.8"/>
<text x="157.80" y="195.30" font-size="8.6" text-anchor="end" fill="#231f20" stroke="#231f20">2</text>
<line x1="159.30" y1="212.40" x2="161.80" y2="212.40" stroke="#231f20" stroke-width="0.8"/>
<text x="157.80" y="215.50" font-size="8.6" text-anchor="end" fill="#231f20" stroke="#231f20">1</text>
<line x1="159.30" y1="232.60" x2="161.80" y2="232.60" stroke="#231f20" stroke-width="0.8"/>
<text x="157.80" y="235.70" font-size="8.6" text-anchor="end" fill="#231f20" stroke="#231f20">0</text>
<line x1="159.30" y1="252.80" x2="161.80" y2="252.80" stroke="#231f20" stroke-width="0.8"/>
<text x="157.80" y="255.90" font-size="8.6" text-anchor="end" fill="#231f20" stroke="#231f20">−1</text>
<line x1="159.30" y1="273.00" x2="161.80" y2="273.00" stroke="#231f20" stroke-width="0.8"/>
<text x="157.80" y="276.10" font-size="8.6" text-anchor="end" fill="#231f20" stroke="#231f20">−2</text>
<line x1="161.80" y1="273.50" x2="161.80" y2="276.00" stroke="#231f20" stroke-width="0.8"/>
<text x="161.80" y="284.10" font-size="8.6" text-anchor="middle" fill="#231f20" stroke="#231f20">0</text>
<line x1="179.00" y1="273.50" x2="179.00" y2="276.00" stroke="#231f20" stroke-width="0.8"/>
<text x="179.00" y="284.10" font-size="8.6" text-anchor="middle" fill="#231f20" stroke="#231f20">2</text>
<line x1="196.20" y1="273.50" x2="196.20" y2="276.00" stroke="#231f20" stroke-width="0.8"/>
<text x="196.20" y="284.10" font-size="8.6" text-anchor="middle" fill="#231f20" stroke="#231f20">4</text>
<line x1="213.40" y1="273.50" x2="213.40" y2="276.00" stroke="#231f20" stroke-width="0.8"/>
<text x="213.40" y="284.10" font-size="8.6" text-anchor="middle" fill="#231f20" stroke="#231f20">6</text>
<line x1="230.60" y1="273.50" x2="230.60" y2="276.00" stroke="#231f20" stroke-width="0.8"/>
<text x="230.60" y="284.10" font-size="8.6" text-anchor="middle" fill="#231f20" stroke="#231f20">8</text>
<line x1="247.80" y1="273.50" x2="247.80" y2="276.00" stroke="#231f20" stroke-width="0.8"/>
<text x="247.80" y="284.10" font-size="8.6" text-anchor="middle" fill="#231f20" stroke="#231f20">10</text>
<text x="209.00" y="296.90" font-size="8.6" text-anchor="middle" fill="#231f20" stroke="#231f20">Days of treatment</text>
<text transform="translate(138 232) rotate(-90)" font-size="8.6" fill="#231f20" stroke="#231f20" text-anchor="middle" y="3">Log<tspan font-size="6" dy="2.5">2</tspan><tspan dy="-2.5"> fold change</tspan></text>
<polyline points="161.80,232.60 187.30,235.00 247.80,245.80" fill="none" stroke="#2e9a8a" stroke-width="1.3" stroke-linejoin="round"/>
<polyline points="161.80,232.60 187.30,237.70 247.80,234.20" fill="none" stroke="#8c8cc8" stroke-width="1.3" stroke-linejoin="round"/>
<polyline points="161.80,232.60 187.30,241.80 247.80,218.80" fill="none" stroke="#e34a3c" stroke-width="1.3" stroke-linejoin="round"/>
<polyline points="161.80,232.60 187.30,239.50 247.80,195.00" fill="none" stroke="#7b1f2a" stroke-width="1.3" stroke-linejoin="round"/>
<polyline points="161.80,232.60 187.30,259.20 247.80,260.30" fill="none" stroke="#2d4a9a" stroke-width="1.3" stroke-linejoin="round"/>
<polyline points="161.80,232.60 187.30,227.80 247.80,265.90" fill="none" stroke="#3a93d0" stroke-width="1.3" stroke-linejoin="round"/>
<polyline points="161.80,232.60 187.30,201.20 247.80,205.80" fill="none" stroke="#3b3590" stroke-width="1.3" stroke-linejoin="round"/>
<line x1="249.20" y1="193.50" x2="259.60" y2="185.40" stroke="#8a8a8a" stroke-width="0.6"/>
<line x1="249.20" y1="205.20" x2="259.60" y2="199.20" stroke="#8a8a8a" stroke-width="0.6"/>
<line x1="249.20" y1="217.90" x2="259.60" y2="211.70" stroke="#8a8a8a" stroke-width="0.6"/>
<line x1="250.00" y1="234.00" x2="261.00" y2="227.50" stroke="#8a8a8a" stroke-width="0.6"/>
<line x1="251.00" y1="245.40" x2="261.50" y2="240.20" stroke="#8a8a8a" stroke-width="0.6"/>
<line x1="251.50" y1="260.20" x2="262.50" y2="260.20" stroke="#8a8a8a" stroke-width="0.6"/>
<line x1="250.00" y1="267.30" x2="262.00" y2="272.50" stroke="#8a8a8a" stroke-width="0.6"/>
<text x="262.50" y="186.51" font-size="7.8" font-weight="bold" font-style="italic" fill="#231f20" stroke="#231f20">CDKN3</text>
<text x="262.50" y="199.71" font-size="7.8" font-weight="bold" font-style="italic" fill="#231f20" stroke="#231f20">CDKN1B</text>
<text x="262.50" y="213.01" font-size="7.8" font-weight="bold" font-style="italic" fill="#231f20" stroke="#231f20">CDKN1A</text>
<text x="263.70" y="229.11" font-size="7.8" font-style="italic" fill="#231f20" stroke="#231f20">HOXA7</text>
<text x="263.70" y="241.81" font-size="7.8" font-style="italic" fill="#231f20" stroke="#231f20">CDK6</text>
<text x="264.80" y="263.21" font-size="7.8" font-style="italic" fill="#231f20" stroke="#231f20">MEF2C</text>
<text x="264.80" y="274.71" font-size="7.8" font-style="italic" fill="#231f20" stroke="#231f20">MEIS1</text>
<text x="306.30" y="168.58" font-size="10.5" font-weight="bold" fill="#231f20" stroke="#231f20">F</text>
<text x="333.8" y="193.2" font-size="8.6" font-style="italic" fill="#2e3192" stroke="#2e3192">MLL3<tspan font-style="normal">-WT</tspan></text>
<text x="333.8" y="204" font-size="8.6" font-style="italic" fill="#c8232c" stroke="#c8232c">MLL3<tspan font-style="normal">-Mut</tspan></text>
<g transform="rotate(-30 326 204)">
<line x1="326.00" y1="186.00" x2="326.00" y2="196.00" stroke="#9a9a9a" stroke-width="0.6"/>
<rect x="324.00" y="196.00" width="4.00" height="16.00" fill="#f0e6ea" stroke="#a0a0a0" stroke-width="0.4"/>
<rect x="324.60" y="203.00" width="2.80" height="9.00" fill="#c94a6a" stroke="none" stroke-width="0.8"/>
<line x1="322.50" y1="212.00" x2="329.50" y2="212.00" stroke="#888" stroke-width="0.8"/>
<line x1="326.00" y1="212.00" x2="326.00" y2="219.00" stroke="#aaa" stroke-width="1.0"/>
<line x1="323.50" y1="219.00" x2="328.50" y2="219.00" stroke="#888" stroke-width="0.8"/>
</g>
<path d="M347,229 C341,223 334,220 331,223 C328,226 330,230 334.5,231" fill="none" stroke="#dc9c9c" stroke-width="1.1"/>
<path d="M354,239 L353.5,250 L350.5,251 L356.5,251 L355.5,239Z" fill="#e4aaaa" stroke="none" stroke-width="0.8"/>
<path d="M366,239 L369,247 L366.5,248 L372.5,248 L368.5,239Z" fill="#e4aaaa" stroke="none" stroke-width="0.8"/>
<path d="M347,236 C344,228 348,220 356,218.5 L366,220 C372,222 375,230 373.5,236 C371.5,241 364,243 356,242.5 C351,242 348,240 347,236 Z" fill="#ededf0" stroke="#d2d2d8" stroke-width="0.5"/>
<path d="M364,222 C363,216 368,212.5 373,213.5 C376,215 378,219 380,224 C377,226 372,226.5 368,226 C366,225 364.5,224 364,222Z" fill="#f2f2f4" stroke="#d0d0d6" stroke-width="0.4"/>
<ellipse cx="372.5" cy="215.5" rx="2.0" ry="3.4" fill="#f5f5f7" stroke="#c8c8ce" stroke-width="0.4" transform="rotate(25 372.5 215.5)"/>
<ellipse cx="359.8" cy="218.6" rx="4.3" ry="5.0" fill="#e3b0ae" stroke="#d39a98" stroke-width="0.4"/>
<circle cx="368.8" cy="222.6" r="0.9" fill="#333"/>
<path d="M371,231 L375,234 L372,235Z" fill="#e4aaaa" stroke="none" stroke-width="0.8"/>
<line x1="380.70" y1="235.30" x2="396.00" y2="235.30" stroke="#231f20" stroke-width="0.9"/>
<path d="M399.4,235.3 L395,233.2 L395,237.4Z" fill="#231f20" stroke="none" stroke-width="0.8"/>
<text x="407.50" y="217.70" font-size="8.6" text-anchor="middle" fill="#231f20" stroke="#231f20">Engraftment</text>
<path d="M407,238 C401,241 398,246 403,248 C410,250 420,248 426,245.5" fill="none" stroke="#dc9c9c" stroke-width="1.1"/>
<path d="M412,240 L413,243.5 L417,243.5 L416,240Z" fill="#e4aaaa" stroke="none" stroke-width="0.8"/>
<path d="M434,239 L437,243.5 L441,243.5 L437,238Z" fill="#e4aaaa" stroke="none" stroke-width="0.8"/>
<path d="M405,238 C406,230 414,222.5 423,222 C428,221.5 431,221 434,221.5 L440,224 C444,226 447,227.5 447.5,229 C446,231 442,232 439,233 C437,238 434,241 428,242 L412,242.5 C408,242 405,240.5 405,238 Z" fill="#ededf0" stroke="#d2d2d8" stroke-width="0.5"/>
<ellipse cx="433.7" cy="225.2" rx="2.4" ry="3.3" fill="#e3b0ae" stroke="#d39a98" stroke-width="0.4"/>
<circle cx="441.1" cy="226.5" r="0.8" fill="#333"/>
<text x="362.50" y="263.90" font-size="8.6" text-anchor="middle" fill="#231f20" stroke="#231f20">Transplant of AML PDX</text>
<text x="362.50" y="273.90" font-size="8.6" text-anchor="middle" fill="#231f20" stroke="#231f20">into NSG mice</text>
<text x="476.30" y="198.53" font-size="8.7" text-anchor="middle" fill="#231f20" stroke="#231f20">4 weeks VTP-50469</text>
<text x="476.30" y="208.93" font-size="8.7" text-anchor="middle" fill="#231f20" stroke="#231f20">(0.1% in rodent diet)</text>
<rect x="463.5" y="221.0" width="9" height="4" rx="1.5" fill="#cdc690" stroke="#a9a36a" stroke-width="0.4" transform="rotate(-10 468 223)"/>
<rect x="472.0" y="219.0" width="8" height="4" rx="1.5" fill="#cdc690" stroke="#a9a36a" stroke-width="0.4" transform="rotate(20 476 221)"/>
<rect x="479.5" y="221.0" width="9" height="4" rx="1.5" fill="#cdc690" stroke="#a9a36a" stroke-width="0.4" transform="rotate(-15 484 223)"/>
<rect x="486.5" y="223.2" width="7" height="3.6" rx="1.5" fill="#cdc690" stroke="#a9a36a" stroke-width="0.4" transform="rotate(10 490 225)"/>
<rect x="468.5" y="216.2" width="7" height="3.6" rx="1.5" fill="#cdc690" stroke="#a9a36a" stroke-width="0.4" transform="rotate(30 472 218)"/>
<rect x="476.0" y="214.0" width="8" height="4" rx="1.5" fill="#cdc690" stroke="#a9a36a" stroke-width="0.4" transform="rotate(-20 480 216)"/>
<rect x="483.0" y="217.25" width="6" height="3.5" rx="1.5" fill="#cdc690" stroke="#a9a36a" stroke-width="0.4" transform="rotate(40 486 219)"/>
<rect x="461.5" y="224.3" width="7" height="3.4" rx="1.5" fill="#cdc690" stroke="#a9a36a" stroke-width="0.4" transform="rotate(0 465 226)"/>
<rect x="474.0" y="224.2" width="8" height="3.6" rx="1.5" fill="#cdc690" stroke="#a9a36a" stroke-width="0.4" transform="rotate(5 478 226)"/>
<line x1="453.40" y1="230.90" x2="502.00" y2="230.90" stroke="#231f20" stroke-width="1.2"/>
<path d="M505.5,230.9 L501,228.7 L501,233.1Z" fill="#231f20" stroke="none" stroke-width="0.8"/>
<line x1="455.50" y1="234.80" x2="459.90" y2="234.80" stroke="#d2707e" stroke-width="1.0"/>
<line x1="457.70" y1="236.00" x2="457.70" y2="242.00" stroke="#b8485c" stroke-width="1.0"/>
<line x1="469.80" y1="234.80" x2="474.20" y2="234.80" stroke="#d2707e" stroke-width="1.0"/>
<line x1="472.00" y1="236.00" x2="472.00" y2="242.00" stroke="#b8485c" stroke-width="1.0"/>
<line x1="484.00" y1="234.80" x2="488.40" y2="234.80" stroke="#d2707e" stroke-width="1.0"/>
<line x1="486.20" y1="236.00" x2="486.20" y2="242.00" stroke="#b8485c" stroke-width="1.0"/>
<line x1="498.80" y1="234.80" x2="503.20" y2="234.80" stroke="#d2707e" stroke-width="1.0"/>
<line x1="501.00" y1="236.00" x2="501.00" y2="242.00" stroke="#b8485c" stroke-width="1.0"/>
<text x="480.60" y="255.83" font-size="8.7" text-anchor="middle" fill="#231f20" stroke="#231f20">Blood monitoring</text>
<line x1="468.00" y1="260.00" x2="468.00" y2="274.50" stroke="#231f20" stroke-width="0.8"/>
<path d="M468,277.5 L466,273.5 L470,273.5Z" fill="#231f20" stroke="none" stroke-width="0.8"/>
<text x="471.70" y="285.33" font-size="8.7" text-anchor="middle" fill="#231f20" stroke="#231f20">Every 7 days:</text>
<text x="476.60" y="293.73" font-size="8.7" text-anchor="middle" fill="#231f20" stroke="#231f20">harvest 3 mice/group</text>
<text x="1.30" y="323.78" font-size="10.5" font-weight="bold" fill="#231f20" stroke="#231f20">G</text>
<text x="56.50" y="327.30" font-size="8.6" fill="#231f20" stroke="#231f20"><tspan font-style="italic">MLL</tspan>-r, <tspan font-style="italic" fill="#2e3192" stroke="#2e3192">MLL3</tspan><tspan fill="#2e3192" stroke="#2e3192" font-style="normal">-WT</tspan></text>
<rect x="30.80" y="345.80" width="65.00" height="91.00" fill="#fcfae3" stroke="none" stroke-width="0.8"/>
<line x1="30.80" y1="345.80" x2="95.80" y2="345.80" stroke="#231f20" stroke-width="1.0"/>
<line x1="30.80" y1="345.80" x2="30.80" y2="348.00" stroke="#231f20" stroke-width="0.8"/>
<line x1="95.80" y1="345.80" x2="95.80" y2="348.00" stroke="#231f20" stroke-width="0.8"/>
<text x="66.80" y="342.90" font-size="6.4" text-anchor="middle" fill="#231f20" stroke="#231f20">VTP-50469</text>
<line x1="30.80" y1="346.30" x2="30.80" y2="436.80" stroke="#555" stroke-width="0.8"/>
<line x1="30.80" y1="436.80" x2="134.00" y2="436.80" stroke="#555" stroke-width="0.8"/>
<line x1="27.80" y1="436.80" x2="30.80" y2="436.80" stroke="#555" stroke-width="0.8"/>
<text x="25.50" y="439.86" font-size="8.5" text-anchor="end" fill="#231f20" stroke="#231f20">0</text>
<line x1="27.80" y1="414.18" x2="30.80" y2="414.18" stroke="#555" stroke-width="0.8"/>
<text x="25.50" y="417.24" font-size="8.5" text-anchor="end" fill="#231f20" stroke="#231f20">20</text>
<line x1="27.80" y1="391.55" x2="30.80" y2="391.55" stroke="#555" stroke-width="0.8"/>
<text x="25.50" y="394.61" font-size="8.5" text-anchor="end" fill="#231f20" stroke="#231f20">40</text>
<line x1="27.80" y1="368.93" x2="30.80" y2="368.93" stroke="#555" stroke-width="0.8"/>
<text x="25.50" y="371.99" font-size="8.5" text-anchor="end" fill="#231f20" stroke="#231f20">60</text>
<line x1="27.80" y1="346.30" x2="30.80" y2="346.30" stroke="#555" stroke-width="0.8"/>
<text x="25.50" y="349.36" font-size="8.5" text-anchor="end" fill="#231f20" stroke="#231f20">80</text>
<line x1="30.50" y1="436.80" x2="30.50" y2="438.80" stroke="#555" stroke-width="0.8"/>
<text x="30.50" y="448.66" font-size="8.5" text-anchor="middle" fill="#231f20" stroke="#231f20">0</text>
<line x1="50.40" y1="436.80" x2="50.40" y2="438.80" stroke="#555" stroke-width="0.8"/>
<text x="50.40" y="448.66" font-size="8.5" text-anchor="middle" fill="#231f20" stroke="#231f20">10</text>
<line x1="70.30" y1="436.80" x2="70.30" y2="438.80" stroke="#555" stroke-width="0.8"/>
<text x="70.30" y="448.66" font-size="8.5" text-anchor="middle" fill="#231f20" stroke="#231f20">20</text>
<line x1="90.20" y1="436.80" x2="90.20" y2="438.80" stroke="#555" stroke-width="0.8"/>
<text x="90.20" y="448.66" font-size="8.5" text-anchor="middle" fill="#231f20" stroke="#231f20">30</text>
<line x1="110.10" y1="436.80" x2="110.10" y2="438.80" stroke="#555" stroke-width="0.8"/>
<text x="110.10" y="448.66" font-size="8.5" text-anchor="middle" fill="#231f20" stroke="#231f20">40</text>
<line x1="130.00" y1="436.80" x2="130.00" y2="438.80" stroke="#555" stroke-width="0.8"/>
<text x="130.00" y="448.66" font-size="8.5" text-anchor="middle" fill="#231f20" stroke="#231f20">50</text>
<text x="87.50" y="460.56" font-size="8.5" text-anchor="middle" fill="#231f20" stroke="#231f20">Days after treatment</text>
<text transform="translate(6.5 391.5) rotate(-90)" font-size="8.5" fill="#231f20" stroke="#231f20" text-anchor="middle" y="3">% hCD45<tspan font-size="5.5" dy="-3">+</tspan><tspan dy="3"> cells in PB</tspan></text>
<polyline points="31.90,436.80 48.10,423.50 60.40,400.40 64.20,354.20" fill="none" stroke="#8a8a8a" stroke-width="1.0" stroke-linejoin="round"/>
<polyline points="48.10,423.50 60.40,406.50 64.20,376.50 64.20,354.20" fill="none" stroke="#8a8a8a" stroke-width="1.0" stroke-linejoin="round"/>
<polyline points="48.10,436.80 60.40,406.50" fill="none" stroke="#8a8a8a" stroke-width="1.0" stroke-linejoin="round"/>
<polyline points="48.10,434.00 64.20,419.60" fill="none" stroke="#8a8a8a" stroke-width="1.0" stroke-linejoin="round"/>
<polyline points="48.10,436.00 64.20,428.10" fill="none" stroke="#8a8a8a" stroke-width="1.0" stroke-linejoin="round"/>
<path d="M31.90,433.28 L34.70,438.32 L29.10,438.32Z" fill="none" stroke="#8a8a8a" stroke-width="0.9"/>
<path d="M48.10,420.48 L50.90,425.52 L45.30,425.52Z" fill="none" stroke="#8a8a8a" stroke-width="0.9"/>
<path d="M49.00,419.48 L51.80,424.52 L46.20,424.52Z" fill="none" stroke="#8a8a8a" stroke-width="0.9"/>
<path d="M60.40,397.38 L63.20,402.42 L57.60,402.42Z" fill="none" stroke="#8a8a8a" stroke-width="0.9"/>
<path d="M60.40,403.48 L63.20,408.52 L57.60,408.52Z" fill="none" stroke="#8a8a8a" stroke-width="0.9"/>
<path d="M64.20,351.18 L67.00,356.22 L61.40,356.22Z" fill="none" stroke="#8a8a8a" stroke-width="0.9"/>
<path d="M64.20,373.48 L67.00,378.52 L61.40,378.52Z" fill="none" stroke="#8a8a8a" stroke-width="0.9"/>
<path d="M64.20,416.58 L67.00,421.62 L61.40,421.62Z" fill="none" stroke="#8a8a8a" stroke-width="0.9"/>
<path d="M64.20,425.08 L67.00,430.12 L61.40,430.12Z" fill="none" stroke="#8a8a8a" stroke-width="0.9"/>
<line x1="31.00" y1="436.80" x2="134.00" y2="436.80" stroke="#4a6fa5" stroke-width="1.3"/>
<path d="M31.90,433.30 L34.40,437.80 L29.40,437.80Z" fill="#4f70a8" stroke="#2f4f85" stroke-width="0.7"/>
<path d="M43.50,433.30 L46.00,437.80 L41.00,437.80Z" fill="#4f70a8" stroke="#2f4f85" stroke-width="0.7"/>
<path d="M48.10,433.30 L50.60,437.80 L45.60,437.80Z" fill="#4f70a8" stroke="#2f4f85" stroke-width="0.7"/>
<path d="M60.10,433.30 L62.60,437.80 L57.60,437.80Z" fill="#4f70a8" stroke="#2f4f85" stroke-width="0.7"/>
<path d="M75.80,433.30 L78.30,437.80 L73.30,437.80Z" fill="#4f70a8" stroke="#2f4f85" stroke-width="0.7"/>
<path d="M100.40,433.30 L102.90,437.80 L97.90,437.80Z" fill="#4f70a8" stroke="#2f4f85" stroke-width="0.7"/>
<path d="M133.80,433.30 L136.30,437.80 L131.30,437.80Z" fill="#4f70a8" stroke="#2f4f85" stroke-width="0.7"/>
<line x1="96.50" y1="409.00" x2="107.00" y2="409.00" stroke="#8a8a8a" stroke-width="0.8"/>
<path d="M101.40,406.30 L103.90,410.80 L98.90,410.80Z" fill="none" stroke="#8a8a8a" stroke-width="0.8"/>
<text x="109.00" y="412.06" font-size="8.5" fill="#231f20" stroke="#231f20">Vehicle</text>
<line x1="96.50" y1="421.60" x2="107.00" y2="421.60" stroke="#4a6fa5" stroke-width="0.8"/>
<path d="M101.40,419.17 L103.65,423.22 L99.15,423.22Z" fill="#5d80b8" stroke="#3f5f95" stroke-width="0.6"/>
<text x="109.00" y="424.66" font-size="8.5" fill="#231f20" stroke="#231f20">VTP-50469</text>
<text x="154.00" y="324.08" font-size="10.5" font-weight="bold" fill="#231f20" stroke="#231f20">H</text>
<text x="189.70" y="327.60" font-size="8.6" fill="#231f20" stroke="#231f20"><tspan font-style="italic">MLL</tspan>-r, <tspan font-style="italic" fill="#2e3192" stroke="#2e3192">MLL3</tspan><tspan fill="#2e3192" stroke="#2e3192" font-style="normal">-WT</tspan></text>
<rect x="186.80" y="343.50" width="72.20" height="105.50" fill="none" stroke="#555" stroke-width="0.7"/>
<line x1="184.80" y1="343.50" x2="186.80" y2="343.50" stroke="#555" stroke-width="0.8"/>
<text x="183.30" y="346.56" font-size="8.5" text-anchor="end" fill="#231f20" stroke="#231f20">1.0</text>
<line x1="184.80" y1="369.88" x2="186.80" y2="369.88" stroke="#555" stroke-width="0.8"/>
<text x="183.30" y="372.94" font-size="8.5" text-anchor="end" fill="#231f20" stroke="#231f20">0.5</text>
<line x1="184.80" y1="396.25" x2="186.80" y2="396.25" stroke="#555" stroke-width="0.8"/>
<text x="183.30" y="399.31" font-size="8.5" text-anchor="end" fill="#231f20" stroke="#231f20">0.0</text>
<line x1="184.80" y1="422.62" x2="186.80" y2="422.62" stroke="#555" stroke-width="0.8"/>
<text x="183.30" y="425.69" font-size="8.5" text-anchor="end" fill="#231f20" stroke="#231f20">−0.5</text>
<line x1="184.80" y1="449.00" x2="186.80" y2="449.00" stroke="#555" stroke-width="0.8"/>
<text x="183.30" y="452.06" font-size="8.5" text-anchor="end" fill="#231f20" stroke="#231f20">−1.0</text>
<text transform="translate(161.30 396.25) rotate(-90)" font-size="8.5" fill="#231f20" stroke="#231f20" text-anchor="middle" y="3"><tspan font-style="italic">z</tspan>-score</text>
<text x="220.30" y="340.96" font-size="7.4" text-anchor="middle" fill="#231f20" stroke="#231f20">Menin–UTX targets</text>
<line x1="206.00" y1="344.50" x2="238.80" y2="344.50" stroke="#777" stroke-width="0.6"/>
<line x1="206.00" y1="344.50" x2="206.00" y2="413.70" stroke="#777" stroke-width="0.6"/>
<line x1="238.80" y1="344.50" x2="238.80" y2="348.00" stroke="#777" stroke-width="0.6"/>
<text x="192" y="352.5" font-size="6.6" fill="#231f20" stroke="#231f20"><tspan font-style="italic">P</tspan> &lt; 0.0001</text>
<line x1="206.50" y1="425.20" x2="206.50" y2="435.20" stroke="#444" stroke-width="0.6"/>
<line x1="203.00" y1="425.20" x2="210.00" y2="425.20" stroke="#444" stroke-width="0.6"/>
<rect x="194.40" y="435.20" width="24.30" height="8.60" fill="#c8c8c8" stroke="#444" stroke-width="0.6"/>
<rect x="194.40" y="441.20" width="24.30" height="2.40" fill="#111" stroke="none" stroke-width="0.8"/>
<line x1="238.80" y1="356.60" x2="238.80" y2="367.00" stroke="#444" stroke-width="0.6"/>
<line x1="235.50" y1="367.00" x2="242.00" y2="367.00" stroke="#444" stroke-width="0.6"/>
<rect x="226.20" y="348.50" width="25.30" height="8.10" fill="#5b8fd0" stroke="#444" stroke-width="0.6"/>
<rect x="226.20" y="348.50" width="25.30" height="2.60" fill="#111" stroke="none" stroke-width="0.8"/>
<line x1="206.50" y1="449.20" x2="206.50" y2="451.50" stroke="#555" stroke-width="0.8"/>
<line x1="238.80" y1="449.20" x2="238.80" y2="451.50" stroke="#555" stroke-width="0.8"/>
<text x="201.80" y="460.56" font-size="8.5" text-anchor="middle" fill="#231f20" stroke="#231f20">Vehicle</text>
<text x="243.30" y="460.56" font-size="8.5" text-anchor="middle" fill="#231f20" stroke="#231f20">VTP-50469</text>
<text x="282.00" y="324.48" font-size="10.5" font-weight="bold" fill="#231f20" stroke="#231f20">I</text>
<text x="319.80" y="327.50" font-size="8.6" fill="#231f20" stroke="#231f20"><tspan font-style="italic">MLL</tspan>-r, <tspan font-style="italic" fill="#c8232c" stroke="#c8232c">MLL3</tspan><tspan fill="#c8232c" stroke="#c8232c" font-style="italic">-Mut</tspan></text>
<rect x="299.80" y="341.50" width="46.70" height="95.80" fill="#fcfae3" stroke="none" stroke-width="0.8"/>
<line x1="299.80" y1="341.50" x2="345.50" y2="341.50" stroke="#231f20" stroke-width="1.0"/>
<line x1="299.80" y1="341.50" x2="299.80" y2="343.50" stroke="#231f20" stroke-width="0.8"/>
<line x1="345.50" y1="341.50" x2="345.50" y2="343.50" stroke="#231f20" stroke-width="0.8"/>
<text x="323.00" y="339.10" font-size="6.4" text-anchor="middle" fill="#231f20" stroke="#231f20">VTP-50469</text>
<line x1="299.80" y1="343.50" x2="299.80" y2="437.30" stroke="#555" stroke-width="0.8"/>
<line x1="299.80" y1="437.30" x2="400.00" y2="437.30" stroke="#555" stroke-width="0.8"/>
<line x1="296.80" y1="437.30" x2="299.80" y2="437.30" stroke="#555" stroke-width="0.8"/>
<text x="294.50" y="440.36" font-size="8.5" text-anchor="end" fill="#231f20" stroke="#231f20">0</text>
<line x1="296.80" y1="413.85" x2="299.80" y2="413.85" stroke="#555" stroke-width="0.8"/>
<text x="294.50" y="416.91" font-size="8.5" text-anchor="end" fill="#231f20" stroke="#231f20">20</text>
<line x1="296.80" y1="390.40" x2="299.80" y2="390.40" stroke="#555" stroke-width="0.8"/>
<text x="294.50" y="393.46" font-size="8.5" text-anchor="end" fill="#231f20" stroke="#231f20">40</text>
<line x1="296.80" y1="366.95" x2="299.80" y2="366.95" stroke="#555" stroke-width="0.8"/>
<text x="294.50" y="370.01" font-size="8.5" text-anchor="end" fill="#231f20" stroke="#231f20">60</text>
<line x1="296.80" y1="343.50" x2="299.80" y2="343.50" stroke="#555" stroke-width="0.8"/>
<text x="294.50" y="346.56" font-size="8.5" text-anchor="end" fill="#231f20" stroke="#231f20">80</text>
<line x1="300.40" y1="437.30" x2="300.40" y2="439.30" stroke="#555" stroke-width="0.8"/>
<text x="300.40" y="449.46" font-size="8.5" text-anchor="middle" fill="#231f20" stroke="#231f20">0</text>
<line x1="320.00" y1="437.30" x2="320.00" y2="439.30" stroke="#555" stroke-width="0.8"/>
<text x="320.00" y="449.46" font-size="8.5" text-anchor="middle" fill="#231f20" stroke="#231f20">10</text>
<line x1="339.60" y1="437.30" x2="339.60" y2="439.30" stroke="#555" stroke-width="0.8"/>
<text x="339.60" y="449.46" font-size="8.5" text-anchor="middle" fill="#231f20" stroke="#231f20">20</text>
<line x1="359.20" y1="437.30" x2="359.20" y2="439.30" stroke="#555" stroke-width="0.8"/>
<text x="359.20" y="449.46" font-size="8.5" text-anchor="middle" fill="#231f20" stroke="#231f20">30</text>
<line x1="378.80" y1="437.30" x2="378.80" y2="439.30" stroke="#555" stroke-width="0.8"/>
<text x="378.80" y="449.46" font-size="8.5" text-anchor="middle" fill="#231f20" stroke="#231f20">40</text>
<line x1="398.40" y1="437.30" x2="398.40" y2="439.30" stroke="#555" stroke-width="0.8"/>
<text x="398.40" y="449.46" font-size="8.5" text-anchor="middle" fill="#231f20" stroke="#231f20">50</text>
<text x="353.00" y="461.06" font-size="8.5" text-anchor="middle" fill="#231f20" stroke="#231f20">Days after treatment</text>
<text transform="translate(275 389.8) rotate(-90)" font-size="8.5" fill="#231f20" stroke="#231f20" text-anchor="middle" y="3">% hCD45<tspan font-size="5.5" dy="-3">+</tspan><tspan dy="3"> cells in PB</tspan></text>
<polyline points="301.50,437.00 313.20,422.70 327.30,385.00 341.50,355.80" fill="none" stroke="#5f88c0" stroke-width="1.0" stroke-linejoin="round"/>
<polyline points="301.50,437.00 313.20,427.30 327.30,398.00 341.50,389.60" fill="none" stroke="#5f88c0" stroke-width="1.0" stroke-linejoin="round"/>
<polyline points="301.50,437.00 313.20,422.70 327.30,428.80 341.50,389.60" fill="none" stroke="#5f88c0" stroke-width="1.0" stroke-linejoin="round"/>
<polyline points="301.50,437.00 313.20,433.50 327.30,388.00" fill="none" stroke="#5f88c0" stroke-width="1.0" stroke-linejoin="round"/>
<polyline points="301.50,437.00 313.20,416.50 327.30,401.20 341.50,389.60" fill="none" stroke="#5f88c0" stroke-width="1.0" stroke-linejoin="round"/>
<polyline points="301.50,437.00 313.20,416.50 318.00,422.00" fill="none" stroke="#a0a0a0" stroke-width="0.8" stroke-linejoin="round"/>
<path d="M301.50,433.80 L304.00,438.30 L299.00,438.30Z" fill="#7ba1d0" stroke="#4a6fa5" stroke-width="0.7"/>
<path d="M313.20,420.00 L315.70,424.50 L310.70,424.50Z" fill="#7ba1d0" stroke="#4a6fa5" stroke-width="0.7"/>
<path d="M313.20,424.60 L315.70,429.10 L310.70,429.10Z" fill="#7ba1d0" stroke="#4a6fa5" stroke-width="0.7"/>
<path d="M313.20,430.80 L315.70,435.30 L310.70,435.30Z" fill="#7ba1d0" stroke="#4a6fa5" stroke-width="0.7"/>
<path d="M327.30,382.30 L329.80,386.80 L324.80,386.80Z" fill="#7ba1d0" stroke="#4a6fa5" stroke-width="0.7"/>
<path d="M327.30,385.30 L329.80,389.80 L324.80,389.80Z" fill="#7ba1d0" stroke="#4a6fa5" stroke-width="0.7"/>
<path d="M327.30,395.30 L329.80,399.80 L324.80,399.80Z" fill="#7ba1d0" stroke="#4a6fa5" stroke-width="0.7"/>
<path d="M327.30,398.50 L329.80,403.00 L324.80,403.00Z" fill="#7ba1d0" stroke="#4a6fa5" stroke-width="0.7"/>
<path d="M327.30,426.10 L329.80,430.60 L324.80,430.60Z" fill="#7ba1d0" stroke="#4a6fa5" stroke-width="0.7"/>
<path d="M341.50,353.10 L344.00,357.60 L339.00,357.60Z" fill="#7ba1d0" stroke="#4a6fa5" stroke-width="0.7"/>
<path d="M341.50,386.90 L344.00,391.40 L339.00,391.40Z" fill="#7ba1d0" stroke="#4a6fa5" stroke-width="0.7"/>
<path d="M313.20,413.80 L315.70,418.30 L310.70,418.30Z" fill="none" stroke="#a0a0a0" stroke-width="0.7"/>
<line x1="352.00" y1="408.70" x2="363.00" y2="408.70" stroke="#9a9a9a" stroke-width="0.8"/>
<path d="M357.00,406.00 L359.50,410.50 L354.50,410.50Z" fill="none" stroke="#9a9a9a" stroke-width="0.8"/>
<text x="365.00" y="411.76" font-size="8.5" fill="#231f20" stroke="#231f20">Vehicle</text>
<line x1="352.00" y1="422.70" x2="363.00" y2="422.70" stroke="#4a6fa5" stroke-width="0.8"/>
<path d="M357.00,420.27 L359.25,424.32 L354.75,424.32Z" fill="#5d80b8" stroke="#3f5f95" stroke-width="0.6"/>
<text x="365.00" y="425.76" font-size="8.5" fill="#231f20" stroke="#231f20">VTP-50469</text>
<text x="413.80" y="324.38" font-size="10.5" font-weight="bold" fill="#231f20" stroke="#231f20">J</text>
<text x="448.00" y="326.90" font-size="8.6" fill="#231f20" stroke="#231f20"><tspan font-style="italic">MLL</tspan>-r, <tspan font-style="italic" fill="#c8232c" stroke="#c8232c">MLL3</tspan><tspan fill="#c8232c" stroke="#c8232c" font-style="italic">-Mut</tspan></text>
<rect x="442.00" y="342.50" width="70.00" height="105.30" fill="none" stroke="#555" stroke-width="0.7"/>
<line x1="440.00" y1="342.50" x2="442.00" y2="342.50" stroke="#555" stroke-width="0.8"/>
<text x="438.50" y="345.56" font-size="8.5" text-anchor="end" fill="#231f20" stroke="#231f20">1.0</text>
<line x1="440.00" y1="368.82" x2="442.00" y2="368.82" stroke="#555" stroke-width="0.8"/>
<text x="438.50" y="371.88" font-size="8.5" text-anchor="end" fill="#231f20" stroke="#231f20">0.5</text>
<line x1="440.00" y1="395.15" x2="442.00" y2="395.15" stroke="#555" stroke-width="0.8"/>
<text x="438.50" y="398.21" font-size="8.5" text-anchor="end" fill="#231f20" stroke="#231f20">0.0</text>
<line x1="440.00" y1="421.48" x2="442.00" y2="421.48" stroke="#555" stroke-width="0.8"/>
<text x="438.50" y="424.54" font-size="8.5" text-anchor="end" fill="#231f20" stroke="#231f20">−0.5</text>
<line x1="440.00" y1="447.80" x2="442.00" y2="447.80" stroke="#555" stroke-width="0.8"/>
<text x="438.50" y="450.86" font-size="8.5" text-anchor="end" fill="#231f20" stroke="#231f20">−1.0</text>
<text transform="translate(416.50 395.15) rotate(-90)" font-size="8.5" fill="#231f20" stroke="#231f20" text-anchor="middle" y="3"><tspan font-style="italic">z</tspan>-score</text>
<text x="478.80" y="339.66" font-size="7.4" text-anchor="middle" fill="#231f20" stroke="#231f20">Menin–UTX targets</text>
<line x1="461.00" y1="343.80" x2="493.00" y2="343.80" stroke="#999" stroke-width="0.6"/>
<text x="476.60" y="350.46" font-size="7.4" text-anchor="middle" fill="#231f20" stroke="#231f20">n.s</text>
<line x1="460.90" y1="347.00" x2="460.90" y2="351.30" stroke="#444" stroke-width="0.6"/>
<line x1="456.90" y1="347.00" x2="464.90" y2="347.00" stroke="#444" stroke-width="0.6"/>
<line x1="460.90" y1="439.30" x2="460.90" y2="443.00" stroke="#444" stroke-width="0.6"/>
<line x1="456.90" y1="443.00" x2="464.90" y2="443.00" stroke="#444" stroke-width="0.6"/>
<rect x="449.30" y="351.30" width="23.20" height="88.00" fill="#c8c8c8" stroke="#444" stroke-width="0.6"/>
<rect x="449.30" y="355.80" width="23.20" height="2.40" fill="#111" stroke="none" stroke-width="0.8"/>
<line x1="460.90" y1="448.00" x2="460.90" y2="450.50" stroke="#555" stroke-width="0.8"/>
<line x1="493.15" y1="347.00" x2="493.15" y2="351.30" stroke="#444" stroke-width="0.6"/>
<line x1="489.15" y1="347.00" x2="497.15" y2="347.00" stroke="#444" stroke-width="0.6"/>
<line x1="493.15" y1="439.30" x2="493.15" y2="443.00" stroke="#444" stroke-width="0.6"/>
<line x1="489.15" y1="443.00" x2="497.15" y2="443.00" stroke="#444" stroke-width="0.6"/>
<rect x="481.30" y="351.30" width="23.70" height="88.00" fill="#5b8fd0" stroke="#444" stroke-width="0.6"/>
<rect x="481.30" y="431.80" width="23.70" height="2.40" fill="#111" stroke="none" stroke-width="0.8"/>
<line x1="493.15" y1="448.00" x2="493.15" y2="450.50" stroke="#555" stroke-width="0.8"/>
<text x="458.00" y="460.56" font-size="8.5" text-anchor="middle" fill="#231f20" stroke="#231f20">Vehicle</text>
<text x="498.30" y="460.56" font-size="8.5" text-anchor="middle" fill="#231f20" stroke="#231f20">VTP-50469</text>
<text x="2.70" y="495.78" font-size="10.5" font-weight="bold" fill="#231f20" stroke="#231f20">K</text>
<text x="59.80" y="512.10" font-size="8.6" fill="#231f20" stroke="#231f20"><tspan font-style="italic">MLL</tspan>-r, <tspan font-style="italic" fill="#c8232c" stroke="#c8232c">MLL3</tspan><tspan fill="#c8232c" stroke="#c8232c" font-style="italic">-Mut</tspan></text>
<line x1="56.50" y1="550.00" x2="56.50" y2="630.20" stroke="#555" stroke-width="0.8"/>
<line x1="56.50" y1="630.20" x2="132.00" y2="630.20" stroke="#555" stroke-width="0.8"/>
<line x1="53.50" y1="630.20" x2="56.50" y2="630.20" stroke="#555" stroke-width="0.8"/>
<text x="50.50" y="633.26" font-size="8.5" text-anchor="end" fill="#231f20" stroke="#231f20">0</text>
<line x1="53.50" y1="614.16" x2="56.50" y2="614.16" stroke="#555" stroke-width="0.8"/>
<text x="50.50" y="617.22" font-size="8.5" text-anchor="end" fill="#231f20" stroke="#231f20">20</text>
<line x1="53.50" y1="598.12" x2="56.50" y2="598.12" stroke="#555" stroke-width="0.8"/>
<text x="50.50" y="601.18" font-size="8.5" text-anchor="end" fill="#231f20" stroke="#231f20">40</text>
<line x1="53.50" y1="582.08" x2="56.50" y2="582.08" stroke="#555" stroke-width="0.8"/>
<text x="50.50" y="585.14" font-size="8.5" text-anchor="end" fill="#231f20" stroke="#231f20">60</text>
<line x1="53.50" y1="566.04" x2="56.50" y2="566.04" stroke="#555" stroke-width="0.8"/>
<text x="50.50" y="569.10" font-size="8.5" text-anchor="end" fill="#231f20" stroke="#231f20">80</text>
<line x1="53.50" y1="550.00" x2="56.50" y2="550.00" stroke="#555" stroke-width="0.8"/>
<text x="50.50" y="553.06" font-size="8.5" text-anchor="end" fill="#231f20" stroke="#231f20">100</text>
<text transform="translate(32 582.5) rotate(-90)" font-size="8.5" fill="#231f20" stroke="#231f20" text-anchor="middle" y="3">% hCD45<tspan font-size="5.5" dy="-3">+</tspan><tspan dy="3"> cells</tspan></text>
<line x1="69.20" y1="566.04" x2="69.20" y2="591.70" stroke="#222" stroke-width="0.7"/>
<rect x="63.20" y="566.04" width="12.00" height="13.63" fill="#5b9bd5" stroke="#333" stroke-width="0.6"/>
<line x1="63.20" y1="566.44" x2="75.20" y2="566.44" stroke="#222" stroke-width="0.8"/>
<circle cx="70.67" cy="566.04" r="1.75" fill="#111"/>
<circle cx="65.97" cy="566.84" r="1.75" fill="#111"/>
<circle cx="66.54" cy="570.05" r="1.75" fill="#111"/>
<circle cx="70.04" cy="566.04" r="1.75" fill="#111"/>
<circle cx="67.82" cy="591.70" r="1.75" fill="#111"/>
<line x1="69.20" y1="630.20" x2="69.20" y2="632.70" stroke="#555" stroke-width="0.8"/>
<line x1="87.50" y1="584.49" x2="87.50" y2="606.94" stroke="#222" stroke-width="0.7"/>
<rect x="81.50" y="586.89" width="12.00" height="16.04" fill="#e8452a" stroke="#333" stroke-width="0.6"/>
<line x1="81.50" y1="599.72" x2="93.50" y2="599.72" stroke="#222" stroke-width="0.8"/>
<circle cx="84.67" cy="584.49" r="1.75" fill="#111"/>
<circle cx="85.01" cy="588.50" r="1.75" fill="#111"/>
<circle cx="90.21" cy="599.72" r="1.75" fill="#111"/>
<circle cx="87.82" cy="599.72" r="1.75" fill="#111"/>
<circle cx="85.75" cy="606.94" r="1.75" fill="#111"/>
<line x1="87.50" y1="630.20" x2="87.50" y2="632.70" stroke="#555" stroke-width="0.8"/>
<line x1="106.40" y1="576.47" x2="106.40" y2="598.92" stroke="#222" stroke-width="0.7"/>
<rect x="100.40" y="580.48" width="12.00" height="13.63" fill="#f5c76a" stroke="#333" stroke-width="0.6"/>
<line x1="100.40" y1="590.10" x2="112.40" y2="590.10" stroke="#222" stroke-width="0.8"/>
<circle cx="108.09" cy="576.47" r="1.75" fill="#111"/>
<circle cx="109.61" cy="585.29" r="1.75" fill="#111"/>
<circle cx="102.53" cy="590.10" r="1.75" fill="#111"/>
<circle cx="109.94" cy="594.11" r="1.75" fill="#111"/>
<circle cx="108.97" cy="598.92" r="1.75" fill="#111"/>
<line x1="106.40" y1="630.20" x2="106.40" y2="632.70" stroke="#555" stroke-width="0.8"/>
<line x1="124.40" y1="610.15" x2="124.40" y2="623.78" stroke="#222" stroke-width="0.7"/>
<rect x="118.40" y="610.95" width="12.00" height="12.03" fill="#574caf" stroke="#333" stroke-width="0.6"/>
<line x1="118.40" y1="622.18" x2="130.40" y2="622.18" stroke="#222" stroke-width="0.8"/>
<circle cx="128.09" cy="610.15" r="1.75" fill="#111"/>
<circle cx="124.79" cy="612.56" r="1.75" fill="#111"/>
<circle cx="121.82" cy="620.58" r="1.75" fill="#111"/>
<circle cx="128.12" cy="622.98" r="1.75" fill="#111"/>
<circle cx="123.73" cy="622.98" r="1.75" fill="#111"/>
<line x1="124.40" y1="630.20" x2="124.40" y2="632.70" stroke="#555" stroke-width="0.8"/>
<path d="M69.2,562 L69.2,556.3 Q69.2,554.8 70.7,554.8 L86.0,554.8 Q87.5,554.8 87.5,556.3 L87.5,584" fill="none" stroke="#888" stroke-width="0.6"/>
<text x="78.35" y="554.88" font-size="8" text-anchor="middle" fill="#231f20" stroke="#231f20">**</text>
<path d="M106.4,573 L106.4,556.3 Q106.4,554.8 107.9,554.8 L122.9,554.8 Q124.4,554.8 124.4,556.3 L124.4,608" fill="none" stroke="#888" stroke-width="0.6"/>
<text x="115.40" y="554.88" font-size="8" text-anchor="middle" fill="#231f20" stroke="#231f20">***</text>
<path d="M69.2,548 L69.2,541.5 Q69.2,540 70.7,540 L104.9,540 Q106.4,540 106.4,541.5 L106.4,548" fill="none" stroke="#888" stroke-width="0.6"/>
<text x="87.80" y="539.88" font-size="8" text-anchor="middle" fill="#231f20" stroke="#231f20">*</text>
<path d="M87.5,538 L87.5,526.7 Q87.5,525.2 89.0,525.2 L122.9,525.2 Q124.4,525.2 124.4,526.7 L124.4,538" fill="none" stroke="#888" stroke-width="0.6"/>
<text x="105.95" y="524.38" font-size="8" text-anchor="middle" fill="#231f20" stroke="#231f20">**</text>
<text transform="translate(70.00 636.00) rotate(-60)" font-size="8.5" fill="#231f20" stroke="#231f20" text-anchor="end" y="3">Vehicle</text>
<text transform="translate(88.30 636.00) rotate(-60)" font-size="8.5" fill="#231f20" stroke="#231f20" text-anchor="end" y="3">VTP-50469</text>
<text transform="translate(107.20 636.00) rotate(-60)" font-size="8.5" fill="#231f20" stroke="#231f20" text-anchor="end" y="3">Palbociclib</text>
<text transform="translate(125.20 636.00) rotate(-60)" font-size="8.5" fill="#231f20" stroke="#231f20" text-anchor="end" y="3">VTP + Palbo</text>
<defs><filter id="fblur" x="-10%" y="-10%" width="120%" height="120%"><feGaussianBlur stdDeviation="0.45"/></filter></defs>
<text x="4.80" y="694.18" font-size="10.5" font-weight="bold" fill="#231f20" stroke="#231f20">L</text>
<rect x="36.30" y="690.60" width="71.90" height="73.20" fill="#ffffff" stroke="#333" stroke-width="0.8"/>
<text x="72.25" y="700.84" font-size="7.6" text-anchor="middle" fill="#231f20" stroke="#231f20">Vehicle</text>
<g filter="url(#fblur)">
<path fill="#8c8c8c" d="M60.5 716.1h.5v.5h-.5zM51.2 715.2h.5v.5h-.5zM58.6 715.9h.5v.5h-.5zM69.0 716.6h.5v.5h-.5zM59.1 715.3h.5v.5h-.5zM64.8 720.2h.5v.5h-.5zM58.0 716.6h.5v.5h-.5zM49.2 719.2h.5v.5h-.5zM58.2 715.4h.5v.5h-.5zM52.9 714.6h.5v.5h-.5zM56.3 716.3h.5v.5h-.5zM52.3 712.5h.5v.5h-.5zM54.9 713.7h.5v.5h-.5zM70.6 711.5h.5v.5h-.5zM64.7 715.6h.5v.5h-.5zM46.5 717.9h.5v.5h-.5zM64.8 718.6h.5v.5h-.5zM56.8 715.0h.5v.5h-.5zM57.3 719.1h.5v.5h-.5zM59.0 716.6h.5v.5h-.5zM51.5 717.5h.5v.5h-.5zM42.7 712.8h.5v.5h-.5zM47.6 718.2h.5v.5h-.5zM58.8 715.9h.5v.5h-.5zM56.9 715.4h.5v.5h-.5zM69.2 712.1h.5v.5h-.5zM47.2 718.8h.5v.5h-.5zM58.1 715.2h.5v.5h-.5zM67.4 715.1h.5v.5h-.5zM61.0 716.0h.5v.5h-.5zM61.3 715.4h.5v.5h-.5zM49.3 714.7h.5v.5h-.5zM59.4 715.8h.5v.5h-.5zM43.6 717.5h.5v.5h-.5zM47.9 719.7h.5v.5h-.5zM55.5 716.4h.5v.5h-.5zM60.0 714.7h.5v.5h-.5zM77.0 716.0h.5v.5h-.5zM58.0 716.3h.5v.5h-.5zM58.1 721.3h.5v.5h-.5zM60.3 714.2h.5v.5h-.5zM58.7 715.7h.5v.5h-.5zM50.9 714.2h.5v.5h-.5zM55.3 718.2h.5v.5h-.5zM70.4 714.5h.5v.5h-.5zM60.6 715.5h.5v.5h-.5zM73.6 718.2h.5v.5h-.5zM54.4 714.5h.5v.5h-.5zM73.6 716.6h.5v.5h-.5zM50.7 717.4h.5v.5h-.5zM60.1 718.4h.5v.5h-.5zM58.3 718.5h.5v.5h-.5zM67.5 712.7h.5v.5h-.5zM58.3 716.1h.5v.5h-.5zM48.7 715.3h.5v.5h-.5zM53.0 717.7h.5v.5h-.5zM61.0 718.2h.5v.5h-.5zM60.3 712.2h.5v.5h-.5zM43.9 719.4h.5v.5h-.5zM64.5 721.7h.5v.5h-.5zM50.4 714.4h.5v.5h-.5zM63.6 712.7h.5v.5h-.5zM51.7 713.1h.5v.5h-.5zM60.1 714.7h.5v.5h-.5zM62.2 715.1h.5v.5h-.5zM66.0 715.2h.5v.5h-.5zM63.4 715.3h.5v.5h-.5zM71.7 711.1h.5v.5h-.5zM44.4 718.4h.5v.5h-.5zM62.2 716.2h.5v.5h-.5zM71.3 712.0h.5v.5h-.5zM61.7 717.7h.5v.5h-.5zM43.1 710.2h.5v.5h-.5zM60.0 715.7h.5v.5h-.5zM46.1 723.6h.5v.5h-.5zM59.1 716.0h.5v.5h-.5zM58.7 717.2h.5v.5h-.5zM58.4 716.0h.5v.5h-.5zM65.7 722.9h.5v.5h-.5zM58.5 714.9h.5v.5h-.5zM60.6 714.4h.5v.5h-.5zM58.9 715.9h.5v.5h-.5zM54.8 718.0h.5v.5h-.5zM63.6 714.1h.5v.5h-.5zM61.9 714.2h.5v.5h-.5zM63.9 714.5h.5v.5h-.5zM64.3 717.9h.5v.5h-.5zM63.1 721.3h.5v.5h-.5zM55.7 716.1h.5v.5h-.5zM63.0 720.9h.5v.5h-.5zM44.7 713.4h.5v.5h-.5zM55.0 716.8h.5v.5h-.5zM49.8 714.9h.5v.5h-.5zM61.8 719.1h.5v.5h-.5zM57.9 715.0h.5v.5h-.5zM57.2 713.8h.5v.5h-.5zM58.1 716.2h.5v.5h-.5zM65.4 716.9h.5v.5h-.5zM57.9 713.5h.5v.5h-.5zM52.2 716.1h.5v.5h-.5zM66.0 716.8h.5v.5h-.5zM68.5 716.3h.5v.5h-.5zM43.3 714.5h.5v.5h-.5zM51.3 721.8h.5v.5h-.5zM84.3 719.5h.5v.5h-.5z"/>
<ellipse cx="58.72" cy="715.74" rx="13.75" ry="4.06" fill="#ececec" stroke="#b0b0b0" stroke-width="0.3" transform="rotate(-3 58.5 716)"/>
<ellipse cx="58.87" cy="716.14" rx="11.00" ry="3.25" fill="#d6d6d6" stroke="#8a8a8a" stroke-width="0.35" transform="rotate(-3 58.5 716)"/>
<ellipse cx="58.39" cy="715.84" rx="8.80" ry="2.60" fill="#bdbdbd" stroke="#707070" stroke-width="0.35" transform="rotate(-3 58.5 716)"/>
<ellipse cx="58.54" cy="715.82" rx="6.82" ry="2.02" fill="#a4a4a4" stroke="#5a5a5a" stroke-width="0.4" transform="rotate(-3 58.5 716)"/>
<ellipse cx="58.88" cy="716.23" rx="4.95" ry="1.46" fill="#8a8a8a" stroke="#444" stroke-width="0.4" transform="rotate(-3 58.5 716)"/>
<ellipse cx="58.72" cy="716.25" rx="3.30" ry="0.97" fill="#6a6a6a" stroke="#333" stroke-width="0.4" transform="rotate(-3 58.5 716)"/>
<ellipse cx="58.61" cy="716.21" rx="1.76" ry="0.52" fill="#b8b8b8" stroke="#777" stroke-width="0.3" transform="rotate(-3 58.5 716)"/>
<path fill="#8c8c8c" d="M51.6 755.5h.5v.5h-.5zM59.9 742.1h.5v.5h-.5zM53.7 735.3h.5v.5h-.5zM56.7 733.9h.5v.5h-.5zM52.8 746.3h.5v.5h-.5zM53.5 744.3h.5v.5h-.5zM54.2 741.1h.5v.5h-.5zM54.2 745.9h.5v.5h-.5zM47.8 747.9h.5v.5h-.5zM47.5 740.8h.5v.5h-.5zM54.5 750.1h.5v.5h-.5zM58.4 746.7h.5v.5h-.5zM52.2 743.2h.5v.5h-.5zM52.2 751.5h.5v.5h-.5zM60.3 742.3h.5v.5h-.5zM53.4 744.3h.5v.5h-.5zM60.4 746.6h.5v.5h-.5zM59.3 738.7h.5v.5h-.5zM49.7 747.0h.5v.5h-.5zM56.3 751.6h.5v.5h-.5zM52.3 741.1h.5v.5h-.5zM53.3 745.9h.5v.5h-.5zM58.6 736.3h.5v.5h-.5zM54.5 743.0h.5v.5h-.5zM52.8 746.8h.5v.5h-.5zM54.2 747.6h.5v.5h-.5zM61.2 751.1h.5v.5h-.5zM53.7 745.8h.5v.5h-.5zM52.9 743.4h.5v.5h-.5zM51.1 739.2h.5v.5h-.5zM53.1 752.7h.5v.5h-.5zM53.4 744.5h.5v.5h-.5zM53.8 741.0h.5v.5h-.5zM53.4 743.7h.5v.5h-.5zM55.2 747.0h.5v.5h-.5zM42.2 741.9h.5v.5h-.5zM50.6 742.0h.5v.5h-.5zM60.1 740.8h.5v.5h-.5zM51.0 758.6h.5v.5h-.5zM53.3 748.1h.5v.5h-.5zM55.9 744.8h.5v.5h-.5zM45.8 748.0h.5v.5h-.5zM51.7 734.6h.5v.5h-.5zM52.2 745.8h.5v.5h-.5zM54.1 744.8h.5v.5h-.5zM51.8 748.8h.5v.5h-.5zM57.5 742.2h.5v.5h-.5zM54.7 747.2h.5v.5h-.5zM49.0 740.7h.5v.5h-.5zM45.8 743.0h.5v.5h-.5zM52.6 739.5h.5v.5h-.5zM47.6 722.0h.5v.5h-.5zM50.4 751.6h.5v.5h-.5zM53.4 743.6h.5v.5h-.5zM62.9 753.9h.5v.5h-.5zM53.9 737.6h.5v.5h-.5zM63.0 752.4h.5v.5h-.5zM54.0 743.9h.5v.5h-.5zM62.3 736.8h.5v.5h-.5zM54.2 739.0h.5v.5h-.5zM59.0 730.2h.5v.5h-.5zM48.6 761.7h.5v.5h-.5zM52.7 743.5h.5v.5h-.5zM56.5 739.9h.5v.5h-.5zM53.6 736.2h.5v.5h-.5zM59.7 745.8h.5v.5h-.5zM58.3 754.7h.5v.5h-.5zM55.2 746.0h.5v.5h-.5zM72.0 737.4h.5v.5h-.5zM54.2 742.1h.5v.5h-.5zM60.9 742.5h.5v.5h-.5zM54.1 743.6h.5v.5h-.5zM51.5 742.4h.5v.5h-.5zM50.5 751.4h.5v.5h-.5zM55.6 757.5h.5v.5h-.5zM54.3 743.2h.5v.5h-.5zM43.7 751.0h.5v.5h-.5zM54.4 742.5h.5v.5h-.5zM47.7 750.8h.5v.5h-.5zM52.1 745.7h.5v.5h-.5zM54.8 743.8h.5v.5h-.5zM41.3 729.1h.5v.5h-.5zM55.9 745.7h.5v.5h-.5zM54.3 744.2h.5v.5h-.5zM46.8 747.0h.5v.5h-.5zM55.1 742.0h.5v.5h-.5zM52.0 741.7h.5v.5h-.5zM55.2 742.3h.5v.5h-.5zM53.8 744.3h.5v.5h-.5zM51.4 751.7h.5v.5h-.5zM58.1 755.3h.5v.5h-.5zM54.0 744.0h.5v.5h-.5zM53.4 744.8h.5v.5h-.5zM53.9 743.9h.5v.5h-.5zM47.5 740.8h.5v.5h-.5zM48.7 760.1h.5v.5h-.5zM59.2 743.9h.5v.5h-.5zM56.8 745.1h.5v.5h-.5zM53.8 747.1h.5v.5h-.5zM62.1 747.0h.5v.5h-.5zM49.9 743.0h.5v.5h-.5zM49.9 749.1h.5v.5h-.5zM55.9 751.9h.5v.5h-.5zM53.0 755.7h.5v.5h-.5zM62.7 742.2h.5v.5h-.5zM56.5 748.9h.5v.5h-.5zM55.4 744.0h.5v.5h-.5zM58.5 745.2h.5v.5h-.5zM49.7 743.0h.5v.5h-.5z"/>
<ellipse cx="53.64" cy="743.93" rx="8.12" ry="9.38" fill="#ececec" stroke="#b0b0b0" stroke-width="0.3" transform="rotate(-25 54 744)"/>
<ellipse cx="53.90" cy="743.96" rx="6.50" ry="7.50" fill="#d6d6d6" stroke="#8a8a8a" stroke-width="0.35" transform="rotate(-25 54 744)"/>
<ellipse cx="54.23" cy="744.37" rx="5.20" ry="6.00" fill="#bdbdbd" stroke="#707070" stroke-width="0.35" transform="rotate(-25 54 744)"/>
<ellipse cx="54.05" cy="744.38" rx="4.03" ry="4.65" fill="#a4a4a4" stroke="#5a5a5a" stroke-width="0.4" transform="rotate(-25 54 744)"/>
<ellipse cx="54.33" cy="743.90" rx="2.93" ry="3.38" fill="#9a9a9a" stroke="#444" stroke-width="0.4" transform="rotate(-25 54 744)"/>
<ellipse cx="54.10" cy="744.02" rx="1.95" ry="2.25" fill="#6a6a6a" stroke="#333" stroke-width="0.4" transform="rotate(-25 54 744)"/>
<ellipse cx="54.24" cy="743.73" rx="1.04" ry="1.20" fill="#b8b8b8" stroke="#777" stroke-width="0.3" transform="rotate(-25 54 744)"/>
<path fill="#8c8c8c" d="M89.4 729.5h.5v.5h-.5zM90.0 732.5h.5v.5h-.5zM82.6 748.8h.5v.5h-.5zM88.4 737.4h.5v.5h-.5zM77.0 760.0h.5v.5h-.5zM71.9 754.9h.5v.5h-.5zM82.1 738.0h.5v.5h-.5zM90.2 750.3h.5v.5h-.5zM91.5 752.4h.5v.5h-.5zM85.0 739.2h.5v.5h-.5zM74.6 733.0h.5v.5h-.5zM84.2 730.3h.5v.5h-.5zM91.3 709.6h.5v.5h-.5zM82.2 728.5h.5v.5h-.5zM79.1 747.8h.5v.5h-.5zM83.9 734.1h.5v.5h-.5zM71.2 751.9h.5v.5h-.5zM86.6 744.3h.5v.5h-.5zM80.8 735.7h.5v.5h-.5zM78.1 733.7h.5v.5h-.5zM76.6 758.1h.5v.5h-.5zM92.4 725.9h.5v.5h-.5zM92.1 730.2h.5v.5h-.5zM97.0 727.2h.5v.5h-.5zM89.2 728.5h.5v.5h-.5zM81.1 734.7h.5v.5h-.5zM84.8 733.8h.5v.5h-.5zM82.4 715.9h.5v.5h-.5zM91.7 734.9h.5v.5h-.5zM84.4 761.3h.5v.5h-.5zM93.5 727.0h.5v.5h-.5zM80.9 742.2h.5v.5h-.5zM90.4 734.5h.5v.5h-.5zM84.7 732.5h.5v.5h-.5zM84.2 752.2h.5v.5h-.5zM84.9 731.9h.5v.5h-.5zM84.6 735.8h.5v.5h-.5zM80.4 744.6h.5v.5h-.5zM88.1 740.2h.5v.5h-.5zM75.4 741.6h.5v.5h-.5zM94.4 740.5h.5v.5h-.5zM82.4 738.2h.5v.5h-.5zM87.2 738.4h.5v.5h-.5zM84.1 735.1h.5v.5h-.5zM87.0 736.1h.5v.5h-.5zM92.9 737.5h.5v.5h-.5zM83.7 738.3h.5v.5h-.5zM86.9 749.5h.5v.5h-.5zM80.9 739.2h.5v.5h-.5zM83.2 733.6h.5v.5h-.5zM74.2 730.5h.5v.5h-.5zM81.3 737.0h.5v.5h-.5zM78.8 737.7h.5v.5h-.5zM75.8 734.3h.5v.5h-.5zM80.9 718.6h.5v.5h-.5zM84.8 725.8h.5v.5h-.5zM95.9 744.1h.5v.5h-.5zM83.7 737.0h.5v.5h-.5zM86.0 757.7h.5v.5h-.5zM83.4 736.6h.5v.5h-.5zM78.7 736.4h.5v.5h-.5zM85.6 737.2h.5v.5h-.5zM83.4 736.8h.5v.5h-.5zM82.8 735.0h.5v.5h-.5zM83.6 731.6h.5v.5h-.5zM87.3 720.4h.5v.5h-.5zM82.6 751.3h.5v.5h-.5zM84.3 736.0h.5v.5h-.5zM91.5 746.2h.5v.5h-.5zM83.5 740.6h.5v.5h-.5zM83.7 736.7h.5v.5h-.5zM84.8 734.7h.5v.5h-.5zM90.9 736.2h.5v.5h-.5zM84.6 729.7h.5v.5h-.5zM84.4 739.6h.5v.5h-.5zM81.4 726.7h.5v.5h-.5zM83.4 738.6h.5v.5h-.5zM82.7 743.4h.5v.5h-.5zM85.0 736.4h.5v.5h-.5zM83.6 736.9h.5v.5h-.5zM91.7 744.7h.5v.5h-.5zM85.2 733.3h.5v.5h-.5zM80.7 740.6h.5v.5h-.5zM87.0 743.1h.5v.5h-.5zM84.2 734.7h.5v.5h-.5zM85.4 735.6h.5v.5h-.5zM79.1 722.7h.5v.5h-.5zM84.2 731.5h.5v.5h-.5zM82.3 755.8h.5v.5h-.5zM82.1 736.8h.5v.5h-.5zM94.3 732.5h.5v.5h-.5zM82.4 745.9h.5v.5h-.5zM83.7 737.3h.5v.5h-.5zM85.8 741.3h.5v.5h-.5zM81.9 741.1h.5v.5h-.5zM96.0 733.3h.5v.5h-.5zM81.5 747.6h.5v.5h-.5zM79.3 737.1h.5v.5h-.5zM81.7 762.3h.5v.5h-.5zM85.3 741.0h.5v.5h-.5zM85.1 736.3h.5v.5h-.5zM80.0 730.1h.5v.5h-.5zM80.6 749.3h.5v.5h-.5zM82.0 740.6h.5v.5h-.5zM85.8 735.6h.5v.5h-.5zM74.2 733.0h.5v.5h-.5zM78.6 736.7h.5v.5h-.5zM76.7 743.4h.5v.5h-.5zM79.1 732.6h.5v.5h-.5zM78.3 739.6h.5v.5h-.5zM90.1 726.8h.5v.5h-.5zM90.8 706.5h.5v.5h-.5zM89.3 732.3h.5v.5h-.5zM80.4 744.2h.5v.5h-.5zM83.8 735.2h.5v.5h-.5zM78.2 744.4h.5v.5h-.5zM84.0 730.5h.5v.5h-.5zM88.5 743.6h.5v.5h-.5zM81.1 720.1h.5v.5h-.5zM78.6 739.3h.5v.5h-.5zM83.4 736.6h.5v.5h-.5zM92.8 726.1h.5v.5h-.5zM83.4 741.2h.5v.5h-.5zM85.9 734.4h.5v.5h-.5zM88.7 754.6h.5v.5h-.5zM76.7 749.1h.5v.5h-.5zM66.0 737.3h.5v.5h-.5zM87.7 737.9h.5v.5h-.5zM80.3 732.3h.5v.5h-.5zM77.9 733.3h.5v.5h-.5zM85.5 742.5h.5v.5h-.5zM78.6 740.6h.5v.5h-.5zM89.3 726.2h.5v.5h-.5zM73.1 733.6h.5v.5h-.5zM84.8 737.9h.5v.5h-.5zM90.1 734.8h.5v.5h-.5zM90.0 731.6h.5v.5h-.5zM94.3 747.9h.5v.5h-.5zM84.9 750.7h.5v.5h-.5zM85.5 735.4h.5v.5h-.5zM82.1 728.5h.5v.5h-.5zM80.4 735.5h.5v.5h-.5zM84.5 720.6h.5v.5h-.5zM79.3 756.8h.5v.5h-.5zM85.6 720.0h.5v.5h-.5zM70.7 742.1h.5v.5h-.5zM83.5 737.0h.5v.5h-.5zM83.4 740.1h.5v.5h-.5zM89.5 740.6h.5v.5h-.5zM74.6 741.1h.5v.5h-.5zM83.7 728.7h.5v.5h-.5zM83.0 737.0h.5v.5h-.5zM83.5 736.8h.5v.5h-.5zM88.8 731.8h.5v.5h-.5zM81.0 736.0h.5v.5h-.5zM87.8 759.3h.5v.5h-.5zM84.7 755.3h.5v.5h-.5zM85.5 716.1h.5v.5h-.5zM95.2 729.5h.5v.5h-.5zM79.7 744.9h.5v.5h-.5zM72.7 741.3h.5v.5h-.5zM84.0 740.5h.5v.5h-.5zM91.6 724.6h.5v.5h-.5zM86.8 732.8h.5v.5h-.5zM85.0 727.9h.5v.5h-.5zM85.2 740.4h.5v.5h-.5zM87.2 722.4h.5v.5h-.5zM82.3 741.7h.5v.5h-.5zM76.2 732.8h.5v.5h-.5zM81.6 741.0h.5v.5h-.5zM85.0 760.3h.5v.5h-.5zM87.9 748.6h.5v.5h-.5zM84.0 727.8h.5v.5h-.5zM80.9 739.2h.5v.5h-.5zM84.9 722.4h.5v.5h-.5zM83.1 758.7h.5v.5h-.5zM80.1 740.5h.5v.5h-.5zM87.9 734.7h.5v.5h-.5zM82.7 741.7h.5v.5h-.5zM83.1 751.4h.5v.5h-.5zM92.2 721.9h.5v.5h-.5zM60.7 728.7h.5v.5h-.5zM89.1 748.3h.5v.5h-.5zM82.9 738.2h.5v.5h-.5zM87.1 744.4h.5v.5h-.5zM90.0 728.8h.5v.5h-.5zM86.7 745.7h.5v.5h-.5zM76.2 744.8h.5v.5h-.5zM83.5 737.3h.5v.5h-.5zM85.1 736.4h.5v.5h-.5zM87.5 735.0h.5v.5h-.5zM84.1 732.5h.5v.5h-.5zM81.8 738.7h.5v.5h-.5zM84.6 725.0h.5v.5h-.5zM78.4 747.2h.5v.5h-.5zM87.8 740.7h.5v.5h-.5zM97.3 712.9h.5v.5h-.5zM79.8 740.8h.5v.5h-.5zM88.4 741.7h.5v.5h-.5zM78.6 733.0h.5v.5h-.5zM85.2 731.5h.5v.5h-.5zM82.3 746.2h.5v.5h-.5zM85.7 730.7h.5v.5h-.5zM74.4 753.7h.5v.5h-.5zM91.2 733.0h.5v.5h-.5zM79.5 740.5h.5v.5h-.5zM91.2 736.6h.5v.5h-.5zM89.6 728.9h.5v.5h-.5zM85.1 732.2h.5v.5h-.5zM83.9 735.8h.5v.5h-.5zM79.2 743.7h.5v.5h-.5zM82.8 736.3h.5v.5h-.5zM83.2 737.3h.5v.5h-.5zM85.8 734.1h.5v.5h-.5zM78.8 733.3h.5v.5h-.5zM82.8 736.0h.5v.5h-.5zM92.0 714.1h.5v.5h-.5z"/>
<ellipse cx="83.20" cy="737.03" rx="8.12" ry="16.88" fill="#ececec" stroke="#b0b0b0" stroke-width="0.3" transform="rotate(18 83.5 737)"/>
<ellipse cx="83.16" cy="737.28" rx="6.50" ry="13.50" fill="#d6d6d6" stroke="#8a8a8a" stroke-width="0.35" transform="rotate(18 83.5 737)"/>
<ellipse cx="83.79" cy="736.63" rx="5.20" ry="10.80" fill="#bdbdbd" stroke="#707070" stroke-width="0.35" transform="rotate(18 83.5 737)"/>
<ellipse cx="83.47" cy="737.38" rx="4.03" ry="8.37" fill="#a4a4a4" stroke="#5a5a5a" stroke-width="0.4" transform="rotate(18 83.5 737)"/>
<ellipse cx="83.67" cy="737.23" rx="2.93" ry="6.08" fill="#6a6a6a" stroke="#444" stroke-width="0.4" transform="rotate(18 83.5 737)"/>
<ellipse cx="83.45" cy="736.66" rx="1.95" ry="4.05" fill="#6a6a6a" stroke="#333" stroke-width="0.4" transform="rotate(18 83.5 737)"/>
<ellipse cx="83.47" cy="737.19" rx="1.04" ry="2.16" fill="#b8b8b8" stroke="#777" stroke-width="0.3" transform="rotate(18 83.5 737)"/>
</g>
<path d="M69.8,763.8 L69.8,723 Q69.8,720 72.8,720 L108.2,720" fill="none" stroke="#333" stroke-width="0.7"/>
<text x="106.20" y="758.92" font-size="8.1" text-anchor="end" fill="#231f20" stroke="#231f20">80.9</text>
<line x1="34.50" y1="698.60" x2="36.30" y2="698.60" stroke="#222" stroke-width="0.6"/>
<line x1="34.50" y1="707.60" x2="36.30" y2="707.60" stroke="#222" stroke-width="0.6"/>
<line x1="34.50" y1="716.60" x2="36.30" y2="716.60" stroke="#222" stroke-width="0.6"/>
<line x1="34.50" y1="725.60" x2="36.30" y2="725.60" stroke="#222" stroke-width="0.6"/>
<line x1="34.50" y1="734.60" x2="36.30" y2="734.60" stroke="#222" stroke-width="0.6"/>
<line x1="34.50" y1="743.60" x2="36.30" y2="743.60" stroke="#222" stroke-width="0.6"/>
<line x1="34.50" y1="752.60" x2="36.30" y2="752.60" stroke="#222" stroke-width="0.6"/>
<line x1="34.50" y1="761.60" x2="36.30" y2="761.60" stroke="#222" stroke-width="0.6"/>
<rect x="33.50" y="745.60" width="2.20" height="2.20" fill="#111" stroke="none" stroke-width="0.8"/>
<line x1="42.30" y1="763.80" x2="42.30" y2="765.60" stroke="#222" stroke-width="0.6"/>
<line x1="49.30" y1="763.80" x2="49.30" y2="765.60" stroke="#222" stroke-width="0.6"/>
<line x1="56.30" y1="763.80" x2="56.30" y2="765.60" stroke="#222" stroke-width="0.6"/>
<line x1="63.30" y1="763.80" x2="63.30" y2="765.60" stroke="#222" stroke-width="0.6"/>
<line x1="70.30" y1="763.80" x2="70.30" y2="765.60" stroke="#222" stroke-width="0.6"/>
<line x1="77.30" y1="763.80" x2="77.30" y2="765.60" stroke="#222" stroke-width="0.6"/>
<line x1="84.30" y1="763.80" x2="84.30" y2="765.60" stroke="#222" stroke-width="0.6"/>
<line x1="91.30" y1="763.80" x2="91.30" y2="765.60" stroke="#222" stroke-width="0.6"/>
<line x1="98.30" y1="763.80" x2="98.30" y2="765.60" stroke="#222" stroke-width="0.6"/>
<line x1="105.30" y1="763.80" x2="105.30" y2="765.60" stroke="#222" stroke-width="0.6"/>
<rect x="55.30" y="764.30" width="2.20" height="2.20" fill="#111" stroke="none" stroke-width="0.8"/>
<rect x="113.80" y="690.60" width="71.80" height="73.20" fill="#ffffff" stroke="#333" stroke-width="0.8"/>
<text x="149.70" y="700.84" font-size="7.6" text-anchor="middle" fill="#231f20" stroke="#231f20">VTP-50469</text>
<g filter="url(#fblur)">
<path fill="#8c8c8c" d="M131.0 719.3h.5v.5h-.5zM137.7 720.3h.5v.5h-.5zM140.9 716.5h.5v.5h-.5zM134.5 716.7h.5v.5h-.5zM131.8 720.7h.5v.5h-.5zM140.8 712.3h.5v.5h-.5zM136.3 718.2h.5v.5h-.5zM133.3 713.6h.5v.5h-.5zM130.5 723.3h.5v.5h-.5zM131.0 716.7h.5v.5h-.5zM136.7 717.2h.5v.5h-.5zM133.0 717.1h.5v.5h-.5zM128.6 718.2h.5v.5h-.5zM130.1 717.2h.5v.5h-.5zM129.0 708.9h.5v.5h-.5zM137.7 718.1h.5v.5h-.5zM137.9 715.8h.5v.5h-.5zM132.6 717.9h.5v.5h-.5zM134.6 716.2h.5v.5h-.5zM141.4 720.3h.5v.5h-.5zM134.2 716.8h.5v.5h-.5zM132.3 714.0h.5v.5h-.5zM137.9 717.3h.5v.5h-.5zM139.5 717.5h.5v.5h-.5zM133.5 716.5h.5v.5h-.5zM131.6 717.9h.5v.5h-.5zM133.5 716.2h.5v.5h-.5zM132.7 717.5h.5v.5h-.5zM134.4 716.7h.5v.5h-.5zM142.1 710.3h.5v.5h-.5zM129.9 725.0h.5v.5h-.5zM131.8 716.5h.5v.5h-.5zM140.8 720.2h.5v.5h-.5zM147.4 717.6h.5v.5h-.5zM150.9 715.0h.5v.5h-.5zM134.8 716.7h.5v.5h-.5zM138.2 714.1h.5v.5h-.5zM132.9 716.6h.5v.5h-.5zM138.4 716.1h.5v.5h-.5zM118.9 718.1h.5v.5h-.5zM131.3 715.7h.5v.5h-.5zM127.7 716.8h.5v.5h-.5zM129.0 715.5h.5v.5h-.5zM137.6 720.3h.5v.5h-.5zM135.3 719.8h.5v.5h-.5zM139.0 716.8h.5v.5h-.5zM131.7 718.4h.5v.5h-.5zM129.6 716.3h.5v.5h-.5zM133.9 716.3h.5v.5h-.5zM138.6 714.2h.5v.5h-.5zM142.2 715.6h.5v.5h-.5zM134.1 717.4h.5v.5h-.5zM132.3 716.0h.5v.5h-.5zM133.1 717.0h.5v.5h-.5zM142.9 715.8h.5v.5h-.5zM134.6 716.7h.5v.5h-.5zM149.3 719.7h.5v.5h-.5zM130.9 717.6h.5v.5h-.5zM125.1 718.7h.5v.5h-.5zM138.4 722.0h.5v.5h-.5zM134.6 716.7h.5v.5h-.5zM149.0 719.0h.5v.5h-.5zM127.1 715.7h.5v.5h-.5zM132.9 718.7h.5v.5h-.5zM143.0 716.2h.5v.5h-.5zM135.4 717.1h.5v.5h-.5zM124.7 719.1h.5v.5h-.5zM140.3 717.6h.5v.5h-.5zM132.5 718.0h.5v.5h-.5zM156.5 717.1h.5v.5h-.5zM152.0 720.1h.5v.5h-.5zM134.4 716.8h.5v.5h-.5zM136.0 718.3h.5v.5h-.5zM137.3 717.5h.5v.5h-.5zM124.1 720.4h.5v.5h-.5zM143.0 718.8h.5v.5h-.5zM130.3 714.9h.5v.5h-.5zM133.6 718.7h.5v.5h-.5zM137.6 717.8h.5v.5h-.5zM134.6 716.7h.5v.5h-.5zM135.9 719.3h.5v.5h-.5zM132.7 712.2h.5v.5h-.5zM150.2 716.3h.5v.5h-.5zM141.4 721.4h.5v.5h-.5zM129.5 717.7h.5v.5h-.5zM134.5 716.7h.5v.5h-.5zM135.7 716.6h.5v.5h-.5zM140.3 717.5h.5v.5h-.5zM137.0 716.8h.5v.5h-.5zM137.3 716.8h.5v.5h-.5zM130.6 716.4h.5v.5h-.5zM133.1 716.9h.5v.5h-.5zM126.4 714.7h.5v.5h-.5zM147.8 719.5h.5v.5h-.5zM124.1 713.0h.5v.5h-.5zM142.2 717.8h.5v.5h-.5zM140.0 718.4h.5v.5h-.5zM132.8 717.1h.5v.5h-.5zM130.1 715.0h.5v.5h-.5zM143.6 717.5h.5v.5h-.5zM127.3 719.5h.5v.5h-.5zM129.4 715.2h.5v.5h-.5zM134.3 721.0h.5v.5h-.5zM141.3 712.3h.5v.5h-.5zM131.5 716.4h.5v.5h-.5zM129.4 717.2h.5v.5h-.5zM134.8 717.2h.5v.5h-.5zM147.8 724.2h.5v.5h-.5z"/>
<ellipse cx="134.55" cy="716.64" rx="11.88" ry="4.06" fill="#ececec" stroke="#b0b0b0" stroke-width="0.3" transform="rotate(0 134.6 716.7)"/>
<ellipse cx="134.33" cy="716.72" rx="9.50" ry="3.25" fill="#d6d6d6" stroke="#8a8a8a" stroke-width="0.35" transform="rotate(0 134.6 716.7)"/>
<ellipse cx="134.25" cy="716.38" rx="7.60" ry="2.60" fill="#bdbdbd" stroke="#707070" stroke-width="0.35" transform="rotate(0 134.6 716.7)"/>
<ellipse cx="134.29" cy="716.96" rx="5.89" ry="2.02" fill="#a4a4a4" stroke="#5a5a5a" stroke-width="0.4" transform="rotate(0 134.6 716.7)"/>
<ellipse cx="134.30" cy="716.61" rx="4.28" ry="1.46" fill="#6a6a6a" stroke="#444" stroke-width="0.4" transform="rotate(0 134.6 716.7)"/>
<ellipse cx="134.74" cy="717.08" rx="2.85" ry="0.97" fill="#6a6a6a" stroke="#333" stroke-width="0.4" transform="rotate(0 134.6 716.7)"/>
<ellipse cx="134.66" cy="716.68" rx="1.52" ry="0.52" fill="#b8b8b8" stroke="#777" stroke-width="0.3" transform="rotate(0 134.6 716.7)"/>
<path fill="#8c8c8c" d="M152.6 721.0h.5v.5h-.5zM126.8 748.6h.5v.5h-.5zM125.4 754.7h.5v.5h-.5zM136.1 731.5h.5v.5h-.5zM132.1 745.7h.5v.5h-.5zM129.7 742.9h.5v.5h-.5zM128.7 743.5h.5v.5h-.5zM133.1 748.4h.5v.5h-.5zM119.9 754.0h.5v.5h-.5zM125.6 747.2h.5v.5h-.5zM134.4 741.3h.5v.5h-.5zM131.1 742.8h.5v.5h-.5zM133.6 735.2h.5v.5h-.5zM134.4 756.0h.5v.5h-.5zM127.8 745.1h.5v.5h-.5zM136.0 744.0h.5v.5h-.5zM144.7 742.7h.5v.5h-.5zM131.1 748.3h.5v.5h-.5zM131.7 740.9h.5v.5h-.5zM137.9 734.7h.5v.5h-.5zM125.6 741.3h.5v.5h-.5zM130.5 740.6h.5v.5h-.5zM136.3 743.9h.5v.5h-.5zM143.1 741.1h.5v.5h-.5zM139.9 744.8h.5v.5h-.5zM135.3 748.8h.5v.5h-.5zM131.4 741.8h.5v.5h-.5zM130.5 742.1h.5v.5h-.5zM121.6 739.6h.5v.5h-.5zM134.2 742.8h.5v.5h-.5zM137.0 737.9h.5v.5h-.5zM124.2 742.0h.5v.5h-.5zM131.2 740.8h.5v.5h-.5zM134.6 737.5h.5v.5h-.5zM135.8 740.9h.5v.5h-.5zM126.8 739.6h.5v.5h-.5zM128.3 747.6h.5v.5h-.5zM132.5 743.3h.5v.5h-.5zM131.0 744.1h.5v.5h-.5zM128.0 760.5h.5v.5h-.5zM130.8 742.3h.5v.5h-.5zM129.0 748.8h.5v.5h-.5zM135.3 744.2h.5v.5h-.5zM118.4 752.5h.5v.5h-.5zM128.5 749.1h.5v.5h-.5zM120.1 739.2h.5v.5h-.5zM136.0 746.9h.5v.5h-.5zM128.3 745.8h.5v.5h-.5zM130.6 737.3h.5v.5h-.5zM134.0 742.7h.5v.5h-.5zM144.2 733.0h.5v.5h-.5zM134.4 735.3h.5v.5h-.5zM137.6 733.8h.5v.5h-.5zM130.9 743.0h.5v.5h-.5zM130.9 743.1h.5v.5h-.5zM131.6 748.7h.5v.5h-.5zM123.4 756.3h.5v.5h-.5zM146.5 741.1h.5v.5h-.5zM131.1 742.8h.5v.5h-.5zM133.8 742.3h.5v.5h-.5zM115.3 737.2h.5v.5h-.5zM126.0 745.4h.5v.5h-.5zM134.7 733.3h.5v.5h-.5zM133.2 757.8h.5v.5h-.5zM128.4 747.9h.5v.5h-.5zM130.0 745.5h.5v.5h-.5zM132.6 738.3h.5v.5h-.5zM129.9 750.9h.5v.5h-.5zM124.7 746.6h.5v.5h-.5zM130.6 740.5h.5v.5h-.5zM131.6 756.0h.5v.5h-.5zM143.1 731.9h.5v.5h-.5zM125.8 740.1h.5v.5h-.5zM139.5 735.8h.5v.5h-.5zM128.4 743.0h.5v.5h-.5zM129.5 740.4h.5v.5h-.5zM130.4 744.8h.5v.5h-.5zM129.7 743.2h.5v.5h-.5zM129.0 746.5h.5v.5h-.5zM130.7 747.4h.5v.5h-.5zM153.0 731.6h.5v.5h-.5zM131.5 741.2h.5v.5h-.5zM132.8 744.3h.5v.5h-.5zM127.3 755.7h.5v.5h-.5zM127.7 736.7h.5v.5h-.5zM122.2 752.7h.5v.5h-.5zM133.7 733.4h.5v.5h-.5zM132.1 741.6h.5v.5h-.5zM128.1 749.1h.5v.5h-.5zM130.8 742.9h.5v.5h-.5zM129.1 749.2h.5v.5h-.5zM142.3 726.2h.5v.5h-.5zM126.7 744.7h.5v.5h-.5zM134.3 739.4h.5v.5h-.5zM129.4 759.0h.5v.5h-.5zM142.9 737.8h.5v.5h-.5zM131.6 733.7h.5v.5h-.5zM132.5 741.6h.5v.5h-.5zM132.7 753.2h.5v.5h-.5zM134.2 742.5h.5v.5h-.5zM130.8 743.1h.5v.5h-.5zM135.3 743.4h.5v.5h-.5zM131.8 740.7h.5v.5h-.5zM140.7 746.9h.5v.5h-.5zM119.8 761.4h.5v.5h-.5zM130.2 744.0h.5v.5h-.5zM129.2 743.5h.5v.5h-.5zM131.7 739.6h.5v.5h-.5zM133.5 750.4h.5v.5h-.5zM131.9 742.6h.5v.5h-.5zM130.7 743.0h.5v.5h-.5zM129.6 746.3h.5v.5h-.5zM132.7 738.6h.5v.5h-.5zM139.7 745.6h.5v.5h-.5zM131.1 743.5h.5v.5h-.5zM126.7 735.5h.5v.5h-.5zM138.7 753.6h.5v.5h-.5zM134.6 735.8h.5v.5h-.5zM135.4 739.9h.5v.5h-.5zM133.1 742.4h.5v.5h-.5zM126.4 737.1h.5v.5h-.5zM131.1 742.9h.5v.5h-.5zM123.3 750.4h.5v.5h-.5zM148.8 739.3h.5v.5h-.5zM125.3 739.6h.5v.5h-.5zM130.1 751.4h.5v.5h-.5zM127.3 752.0h.5v.5h-.5zM132.2 757.8h.5v.5h-.5zM122.6 745.7h.5v.5h-.5zM139.5 728.4h.5v.5h-.5zM131.2 742.1h.5v.5h-.5zM142.3 745.1h.5v.5h-.5zM137.6 739.1h.5v.5h-.5zM118.7 735.4h.5v.5h-.5zM129.5 738.8h.5v.5h-.5zM130.3 746.0h.5v.5h-.5zM134.9 738.7h.5v.5h-.5zM128.9 739.5h.5v.5h-.5zM135.2 742.4h.5v.5h-.5zM133.2 746.0h.5v.5h-.5zM132.3 749.7h.5v.5h-.5zM135.0 738.2h.5v.5h-.5zM129.2 735.7h.5v.5h-.5zM146.5 726.3h.5v.5h-.5zM127.6 734.4h.5v.5h-.5zM133.5 742.2h.5v.5h-.5zM132.9 732.2h.5v.5h-.5zM125.6 744.3h.5v.5h-.5zM129.5 737.9h.5v.5h-.5zM121.2 723.7h.5v.5h-.5zM128.5 740.5h.5v.5h-.5zM139.2 733.0h.5v.5h-.5zM129.8 746.9h.5v.5h-.5zM120.2 754.1h.5v.5h-.5zM129.4 742.5h.5v.5h-.5zM125.8 739.9h.5v.5h-.5zM127.6 732.6h.5v.5h-.5zM129.5 747.3h.5v.5h-.5zM131.6 741.2h.5v.5h-.5zM127.7 748.4h.5v.5h-.5zM134.6 758.6h.5v.5h-.5zM132.4 744.6h.5v.5h-.5zM129.8 736.3h.5v.5h-.5zM129.1 745.4h.5v.5h-.5zM131.2 741.8h.5v.5h-.5zM126.4 754.3h.5v.5h-.5zM133.5 748.9h.5v.5h-.5zM131.5 747.2h.5v.5h-.5zM129.8 741.0h.5v.5h-.5zM131.6 750.7h.5v.5h-.5zM126.8 750.0h.5v.5h-.5zM126.0 738.7h.5v.5h-.5zM114.9 751.3h.5v.5h-.5zM122.7 737.8h.5v.5h-.5zM130.9 745.2h.5v.5h-.5zM145.2 746.7h.5v.5h-.5zM129.1 742.3h.5v.5h-.5zM139.4 734.1h.5v.5h-.5zM130.3 744.4h.5v.5h-.5zM136.8 730.1h.5v.5h-.5zM127.5 751.1h.5v.5h-.5zM131.0 747.4h.5v.5h-.5zM129.5 729.5h.5v.5h-.5zM121.1 742.9h.5v.5h-.5zM128.7 762.3h.5v.5h-.5zM132.2 743.0h.5v.5h-.5zM131.7 741.1h.5v.5h-.5zM133.8 739.8h.5v.5h-.5zM128.4 742.4h.5v.5h-.5zM129.3 739.5h.5v.5h-.5zM142.1 752.7h.5v.5h-.5zM131.8 748.3h.5v.5h-.5zM129.1 744.2h.5v.5h-.5zM123.6 736.4h.5v.5h-.5zM135.8 715.6h.5v.5h-.5zM127.0 750.1h.5v.5h-.5zM152.7 730.1h.5v.5h-.5zM154.0 730.0h.5v.5h-.5zM138.4 742.4h.5v.5h-.5zM131.5 740.4h.5v.5h-.5zM125.9 746.2h.5v.5h-.5zM146.7 735.5h.5v.5h-.5zM129.6 761.4h.5v.5h-.5zM130.8 757.3h.5v.5h-.5zM138.5 737.3h.5v.5h-.5zM132.1 743.9h.5v.5h-.5zM129.5 740.8h.5v.5h-.5zM125.8 753.0h.5v.5h-.5zM135.8 731.5h.5v.5h-.5zM130.6 743.3h.5v.5h-.5zM124.5 748.4h.5v.5h-.5zM130.8 743.7h.5v.5h-.5zM126.3 744.8h.5v.5h-.5zM141.1 751.1h.5v.5h-.5zM131.5 748.2h.5v.5h-.5z"/>
<ellipse cx="130.95" cy="742.91" rx="8.75" ry="13.12" fill="#ececec" stroke="#b0b0b0" stroke-width="0.3" transform="rotate(28 131 743)"/>
<ellipse cx="131.11" cy="743.39" rx="7.00" ry="10.50" fill="#d6d6d6" stroke="#8a8a8a" stroke-width="0.35" transform="rotate(28 131 743)"/>
<ellipse cx="131.38" cy="742.82" rx="5.60" ry="8.40" fill="#bdbdbd" stroke="#707070" stroke-width="0.35" transform="rotate(28 131 743)"/>
<ellipse cx="130.75" cy="742.93" rx="4.34" ry="6.51" fill="#a4a4a4" stroke="#5a5a5a" stroke-width="0.4" transform="rotate(28 131 743)"/>
<ellipse cx="130.62" cy="742.79" rx="3.15" ry="4.73" fill="#8a8a8a" stroke="#444" stroke-width="0.4" transform="rotate(28 131 743)"/>
<ellipse cx="131.27" cy="743.33" rx="2.10" ry="3.15" fill="#6a6a6a" stroke="#333" stroke-width="0.4" transform="rotate(28 131 743)"/>
<ellipse cx="131.04" cy="743.02" rx="1.12" ry="1.68" fill="#b8b8b8" stroke="#777" stroke-width="0.3" transform="rotate(28 131 743)"/>
<path fill="#8c8c8c" d="M157.5 742.8h.5v.5h-.5zM163.9 735.9h.5v.5h-.5zM162.0 739.6h.5v.5h-.5zM161.9 738.9h.5v.5h-.5zM162.6 734.7h.5v.5h-.5zM163.5 735.9h.5v.5h-.5zM166.9 722.6h.5v.5h-.5zM164.1 733.1h.5v.5h-.5zM163.1 736.9h.5v.5h-.5zM166.3 729.2h.5v.5h-.5zM159.8 734.3h.5v.5h-.5zM167.4 729.3h.5v.5h-.5zM160.9 737.4h.5v.5h-.5zM166.7 745.2h.5v.5h-.5zM160.9 748.7h.5v.5h-.5zM162.6 740.3h.5v.5h-.5zM163.4 732.6h.5v.5h-.5zM162.2 729.5h.5v.5h-.5zM163.4 734.0h.5v.5h-.5zM163.3 736.9h.5v.5h-.5zM161.3 724.2h.5v.5h-.5zM162.1 750.7h.5v.5h-.5zM163.0 734.3h.5v.5h-.5zM165.5 747.0h.5v.5h-.5zM166.3 734.8h.5v.5h-.5zM162.8 739.9h.5v.5h-.5zM174.5 735.0h.5v.5h-.5zM163.8 741.5h.5v.5h-.5zM156.2 752.6h.5v.5h-.5zM158.1 738.4h.5v.5h-.5zM163.6 734.6h.5v.5h-.5zM155.7 751.7h.5v.5h-.5zM162.0 742.2h.5v.5h-.5zM162.9 737.8h.5v.5h-.5zM156.0 739.6h.5v.5h-.5zM174.3 741.0h.5v.5h-.5zM168.2 746.6h.5v.5h-.5zM160.6 730.9h.5v.5h-.5zM163.4 735.8h.5v.5h-.5zM163.4 741.3h.5v.5h-.5zM158.2 704.7h.5v.5h-.5zM164.8 747.4h.5v.5h-.5zM170.9 742.4h.5v.5h-.5zM156.3 747.1h.5v.5h-.5zM162.7 731.0h.5v.5h-.5zM161.8 738.6h.5v.5h-.5zM163.5 736.2h.5v.5h-.5zM163.7 751.4h.5v.5h-.5zM164.3 756.6h.5v.5h-.5zM163.9 736.2h.5v.5h-.5zM164.1 735.8h.5v.5h-.5zM162.6 759.0h.5v.5h-.5zM166.4 754.6h.5v.5h-.5zM163.1 707.1h.5v.5h-.5zM169.2 721.8h.5v.5h-.5zM159.1 726.0h.5v.5h-.5zM161.7 736.0h.5v.5h-.5zM158.8 747.6h.5v.5h-.5zM163.9 733.1h.5v.5h-.5zM163.7 736.7h.5v.5h-.5zM153.8 742.3h.5v.5h-.5zM159.1 738.5h.5v.5h-.5zM165.3 730.6h.5v.5h-.5zM165.6 734.7h.5v.5h-.5zM163.3 735.9h.5v.5h-.5zM168.9 731.0h.5v.5h-.5zM163.3 742.8h.5v.5h-.5zM163.5 735.6h.5v.5h-.5zM169.3 735.4h.5v.5h-.5zM159.6 756.5h.5v.5h-.5zM161.9 736.5h.5v.5h-.5zM163.8 737.6h.5v.5h-.5zM164.9 727.3h.5v.5h-.5zM162.0 732.0h.5v.5h-.5zM164.3 731.3h.5v.5h-.5zM155.2 745.4h.5v.5h-.5zM165.9 717.9h.5v.5h-.5zM168.1 713.1h.5v.5h-.5zM159.0 702.7h.5v.5h-.5zM165.2 735.9h.5v.5h-.5zM161.6 744.3h.5v.5h-.5zM153.9 751.9h.5v.5h-.5zM167.4 733.6h.5v.5h-.5zM162.5 731.9h.5v.5h-.5zM159.4 741.7h.5v.5h-.5zM162.8 736.1h.5v.5h-.5zM163.2 736.0h.5v.5h-.5zM158.7 742.4h.5v.5h-.5zM168.2 733.0h.5v.5h-.5zM171.4 716.7h.5v.5h-.5zM168.5 718.1h.5v.5h-.5zM172.6 724.6h.5v.5h-.5zM170.7 723.4h.5v.5h-.5zM162.8 738.1h.5v.5h-.5zM160.2 737.1h.5v.5h-.5zM175.1 704.0h.5v.5h-.5zM154.7 759.4h.5v.5h-.5zM161.2 734.0h.5v.5h-.5zM156.0 743.5h.5v.5h-.5zM161.5 744.2h.5v.5h-.5zM158.1 741.8h.5v.5h-.5zM170.2 732.2h.5v.5h-.5zM167.4 744.9h.5v.5h-.5zM163.2 737.9h.5v.5h-.5zM169.8 735.2h.5v.5h-.5zM165.0 741.4h.5v.5h-.5zM163.6 729.6h.5v.5h-.5zM162.7 736.2h.5v.5h-.5zM162.5 749.6h.5v.5h-.5zM157.5 737.2h.5v.5h-.5zM157.6 732.1h.5v.5h-.5zM171.2 728.4h.5v.5h-.5zM155.8 741.0h.5v.5h-.5zM181.5 722.2h.5v.5h-.5zM169.1 729.7h.5v.5h-.5zM171.9 730.4h.5v.5h-.5zM164.9 733.0h.5v.5h-.5zM159.3 756.1h.5v.5h-.5zM163.9 736.0h.5v.5h-.5zM163.0 735.7h.5v.5h-.5zM169.4 743.3h.5v.5h-.5zM163.4 736.4h.5v.5h-.5zM167.0 732.0h.5v.5h-.5zM162.4 741.9h.5v.5h-.5zM163.7 734.5h.5v.5h-.5zM154.0 730.2h.5v.5h-.5zM164.0 731.7h.5v.5h-.5zM160.5 744.3h.5v.5h-.5zM162.6 729.3h.5v.5h-.5zM160.6 749.4h.5v.5h-.5zM167.3 729.6h.5v.5h-.5zM159.6 746.1h.5v.5h-.5zM162.7 730.7h.5v.5h-.5zM163.0 736.2h.5v.5h-.5zM164.1 716.4h.5v.5h-.5zM167.7 729.1h.5v.5h-.5zM154.4 731.8h.5v.5h-.5zM164.3 731.4h.5v.5h-.5zM151.9 742.0h.5v.5h-.5zM165.1 734.9h.5v.5h-.5zM163.0 744.0h.5v.5h-.5zM164.0 733.7h.5v.5h-.5zM175.7 716.4h.5v.5h-.5zM163.5 735.9h.5v.5h-.5zM168.3 728.6h.5v.5h-.5zM153.8 742.6h.5v.5h-.5zM173.1 722.3h.5v.5h-.5zM164.4 736.7h.5v.5h-.5zM172.2 722.5h.5v.5h-.5zM165.6 735.5h.5v.5h-.5zM163.7 728.0h.5v.5h-.5zM159.6 738.1h.5v.5h-.5zM169.1 739.1h.5v.5h-.5zM170.2 711.4h.5v.5h-.5zM170.2 727.5h.5v.5h-.5zM167.3 728.5h.5v.5h-.5zM163.4 732.8h.5v.5h-.5zM162.4 746.9h.5v.5h-.5zM161.1 738.8h.5v.5h-.5zM166.9 748.7h.5v.5h-.5zM165.6 718.6h.5v.5h-.5zM164.7 731.1h.5v.5h-.5zM163.5 736.1h.5v.5h-.5zM172.4 721.6h.5v.5h-.5zM169.2 730.5h.5v.5h-.5zM167.0 709.1h.5v.5h-.5zM163.5 735.7h.5v.5h-.5zM162.8 739.6h.5v.5h-.5zM157.8 727.9h.5v.5h-.5zM165.3 732.8h.5v.5h-.5zM164.7 732.4h.5v.5h-.5zM159.1 758.4h.5v.5h-.5zM156.3 739.1h.5v.5h-.5zM165.4 760.3h.5v.5h-.5zM158.2 737.4h.5v.5h-.5zM165.8 731.6h.5v.5h-.5zM157.4 751.4h.5v.5h-.5zM166.6 735.0h.5v.5h-.5zM163.0 744.5h.5v.5h-.5zM164.3 731.3h.5v.5h-.5zM160.9 738.5h.5v.5h-.5zM165.8 725.7h.5v.5h-.5zM168.3 747.2h.5v.5h-.5zM158.3 739.1h.5v.5h-.5zM162.7 754.6h.5v.5h-.5zM161.7 736.8h.5v.5h-.5zM163.5 735.7h.5v.5h-.5zM165.6 718.9h.5v.5h-.5zM162.9 744.3h.5v.5h-.5zM160.3 723.3h.5v.5h-.5zM160.8 733.7h.5v.5h-.5zM166.8 718.0h.5v.5h-.5zM168.1 752.2h.5v.5h-.5zM161.2 743.0h.5v.5h-.5zM164.6 732.8h.5v.5h-.5zM163.9 720.9h.5v.5h-.5zM163.2 726.7h.5v.5h-.5zM164.9 736.6h.5v.5h-.5zM157.3 735.3h.5v.5h-.5zM157.3 749.4h.5v.5h-.5zM170.6 736.2h.5v.5h-.5zM164.6 734.4h.5v.5h-.5zM167.7 752.0h.5v.5h-.5zM163.5 735.9h.5v.5h-.5zM163.7 730.4h.5v.5h-.5zM160.2 745.1h.5v.5h-.5zM163.5 735.3h.5v.5h-.5zM166.2 737.2h.5v.5h-.5zM159.4 745.1h.5v.5h-.5zM166.6 729.6h.5v.5h-.5zM157.1 758.8h.5v.5h-.5zM153.3 758.0h.5v.5h-.5zM171.4 723.5h.5v.5h-.5zM161.7 740.3h.5v.5h-.5zM164.7 736.2h.5v.5h-.5zM162.9 742.6h.5v.5h-.5zM165.1 729.7h.5v.5h-.5z"/>
<ellipse cx="163.24" cy="735.95" rx="6.25" ry="16.25" fill="#ececec" stroke="#b0b0b0" stroke-width="0.3" transform="rotate(15 163.5 736)"/>
<ellipse cx="163.62" cy="735.69" rx="5.00" ry="13.00" fill="#d6d6d6" stroke="#8a8a8a" stroke-width="0.35" transform="rotate(15 163.5 736)"/>
<ellipse cx="163.87" cy="736.04" rx="4.00" ry="10.40" fill="#bdbdbd" stroke="#707070" stroke-width="0.35" transform="rotate(15 163.5 736)"/>
<ellipse cx="163.75" cy="736.10" rx="3.10" ry="8.06" fill="#a4a4a4" stroke="#5a5a5a" stroke-width="0.4" transform="rotate(15 163.5 736)"/>
<ellipse cx="163.85" cy="736.31" rx="2.25" ry="5.85" fill="#6a6a6a" stroke="#444" stroke-width="0.4" transform="rotate(15 163.5 736)"/>
<ellipse cx="163.13" cy="736.33" rx="1.50" ry="3.90" fill="#6a6a6a" stroke="#333" stroke-width="0.4" transform="rotate(15 163.5 736)"/>
<ellipse cx="163.46" cy="735.73" rx="0.80" ry="2.08" fill="#b8b8b8" stroke="#777" stroke-width="0.3" transform="rotate(15 163.5 736)"/>
</g>
<path d="M149.6,763.8 L149.6,723 Q149.6,720 152.6,720 L185.6,720" fill="none" stroke="#333" stroke-width="0.7"/>
<text x="183.60" y="758.92" font-size="8.1" text-anchor="end" fill="#231f20" stroke="#231f20">52.0</text>
<line x1="112.00" y1="698.60" x2="113.80" y2="698.60" stroke="#222" stroke-width="0.6"/>
<line x1="112.00" y1="707.60" x2="113.80" y2="707.60" stroke="#222" stroke-width="0.6"/>
<line x1="112.00" y1="716.60" x2="113.80" y2="716.60" stroke="#222" stroke-width="0.6"/>
<line x1="112.00" y1="725.60" x2="113.80" y2="725.60" stroke="#222" stroke-width="0.6"/>
<line x1="112.00" y1="734.60" x2="113.80" y2="734.60" stroke="#222" stroke-width="0.6"/>
<line x1="112.00" y1="743.60" x2="113.80" y2="743.60" stroke="#222" stroke-width="0.6"/>
<line x1="112.00" y1="752.60" x2="113.80" y2="752.60" stroke="#222" stroke-width="0.6"/>
<line x1="112.00" y1="761.60" x2="113.80" y2="761.60" stroke="#222" stroke-width="0.6"/>
<rect x="111.00" y="745.60" width="2.20" height="2.20" fill="#111" stroke="none" stroke-width="0.8"/>
<line x1="119.80" y1="763.80" x2="119.80" y2="765.60" stroke="#222" stroke-width="0.6"/>
<line x1="126.80" y1="763.80" x2="126.80" y2="765.60" stroke="#222" stroke-width="0.6"/>
<line x1="133.80" y1="763.80" x2="133.80" y2="765.60" stroke="#222" stroke-width="0.6"/>
<line x1="140.80" y1="763.80" x2="140.80" y2="765.60" stroke="#222" stroke-width="0.6"/>
<line x1="147.80" y1="763.80" x2="147.80" y2="765.60" stroke="#222" stroke-width="0.6"/>
<line x1="154.80" y1="763.80" x2="154.80" y2="765.60" stroke="#222" stroke-width="0.6"/>
<line x1="161.80" y1="763.80" x2="161.80" y2="765.60" stroke="#222" stroke-width="0.6"/>
<line x1="168.80" y1="763.80" x2="168.80" y2="765.60" stroke="#222" stroke-width="0.6"/>
<line x1="175.80" y1="763.80" x2="175.80" y2="765.60" stroke="#222" stroke-width="0.6"/>
<line x1="182.80" y1="763.80" x2="182.80" y2="765.60" stroke="#222" stroke-width="0.6"/>
<rect x="132.80" y="764.30" width="2.20" height="2.20" fill="#111" stroke="none" stroke-width="0.8"/>
<rect x="36.50" y="768.50" width="71.20" height="75.30" fill="#ffffff" stroke="#333" stroke-width="0.8"/>
<text x="72.10" y="778.74" font-size="7.6" text-anchor="middle" fill="#231f20" stroke="#231f20">Palbociclib</text>
<g filter="url(#fblur)">
<path fill="#8c8c8c" d="M52.2 796.4h.5v.5h-.5zM59.3 792.0h.5v.5h-.5zM51.6 795.5h.5v.5h-.5zM57.4 795.3h.5v.5h-.5zM52.6 796.3h.5v.5h-.5zM68.7 795.0h.5v.5h-.5zM55.8 793.9h.5v.5h-.5zM68.9 800.0h.5v.5h-.5zM53.9 793.3h.5v.5h-.5zM59.2 792.7h.5v.5h-.5zM43.0 791.8h.5v.5h-.5zM75.1 797.5h.5v.5h-.5zM66.3 798.3h.5v.5h-.5zM49.4 798.0h.5v.5h-.5zM48.1 798.4h.5v.5h-.5zM49.5 801.8h.5v.5h-.5zM51.5 800.9h.5v.5h-.5zM64.6 791.0h.5v.5h-.5zM64.8 799.6h.5v.5h-.5zM50.7 792.2h.5v.5h-.5zM43.5 798.4h.5v.5h-.5zM59.8 795.9h.5v.5h-.5zM54.7 799.4h.5v.5h-.5zM68.8 791.3h.5v.5h-.5zM50.0 796.1h.5v.5h-.5zM49.3 793.8h.5v.5h-.5zM40.6 798.4h.5v.5h-.5zM59.3 795.1h.5v.5h-.5zM61.2 797.5h.5v.5h-.5zM51.4 794.7h.5v.5h-.5zM53.8 794.7h.5v.5h-.5zM56.7 797.8h.5v.5h-.5zM50.3 800.7h.5v.5h-.5zM54.3 795.6h.5v.5h-.5zM43.1 801.0h.5v.5h-.5zM54.4 796.3h.5v.5h-.5zM55.3 792.5h.5v.5h-.5zM58.5 790.0h.5v.5h-.5zM56.0 793.8h.5v.5h-.5zM49.9 799.3h.5v.5h-.5zM57.2 794.7h.5v.5h-.5zM54.7 795.2h.5v.5h-.5zM65.5 798.6h.5v.5h-.5zM54.8 799.8h.5v.5h-.5zM47.7 791.4h.5v.5h-.5zM50.2 795.5h.5v.5h-.5zM55.4 797.6h.5v.5h-.5zM54.3 795.7h.5v.5h-.5zM59.9 797.4h.5v.5h-.5zM49.5 798.8h.5v.5h-.5zM54.9 795.5h.5v.5h-.5zM53.4 796.3h.5v.5h-.5zM49.9 796.2h.5v.5h-.5zM54.8 796.2h.5v.5h-.5zM55.9 794.4h.5v.5h-.5zM50.5 795.1h.5v.5h-.5zM51.0 798.1h.5v.5h-.5zM44.6 795.9h.5v.5h-.5zM48.0 796.4h.5v.5h-.5zM57.6 793.5h.5v.5h-.5zM54.5 796.4h.5v.5h-.5zM49.2 799.2h.5v.5h-.5zM49.1 793.8h.5v.5h-.5zM55.8 795.4h.5v.5h-.5zM54.0 795.7h.5v.5h-.5zM55.9 795.2h.5v.5h-.5zM52.4 796.8h.5v.5h-.5zM47.1 795.0h.5v.5h-.5zM53.6 797.5h.5v.5h-.5zM54.9 795.6h.5v.5h-.5zM57.7 796.9h.5v.5h-.5zM57.1 797.4h.5v.5h-.5zM56.4 795.2h.5v.5h-.5zM55.8 798.8h.5v.5h-.5zM56.0 795.3h.5v.5h-.5zM58.4 795.0h.5v.5h-.5zM57.8 795.7h.5v.5h-.5zM53.8 795.7h.5v.5h-.5zM67.7 801.8h.5v.5h-.5zM55.9 795.6h.5v.5h-.5zM65.2 795.8h.5v.5h-.5zM50.0 792.6h.5v.5h-.5zM52.6 792.4h.5v.5h-.5zM49.4 795.2h.5v.5h-.5zM53.1 791.6h.5v.5h-.5zM55.7 795.0h.5v.5h-.5zM40.1 800.4h.5v.5h-.5zM53.1 793.9h.5v.5h-.5zM55.0 797.3h.5v.5h-.5zM54.2 793.8h.5v.5h-.5zM46.2 797.5h.5v.5h-.5zM49.0 796.3h.5v.5h-.5zM54.1 796.0h.5v.5h-.5zM54.2 795.5h.5v.5h-.5zM54.6 795.8h.5v.5h-.5zM54.0 798.3h.5v.5h-.5zM52.2 796.4h.5v.5h-.5zM59.3 794.9h.5v.5h-.5zM54.0 794.2h.5v.5h-.5zM57.5 796.4h.5v.5h-.5zM49.5 799.1h.5v.5h-.5zM61.8 800.0h.5v.5h-.5zM73.4 802.4h.5v.5h-.5zM51.8 799.5h.5v.5h-.5zM48.4 789.5h.5v.5h-.5zM64.6 792.7h.5v.5h-.5zM54.3 793.2h.5v.5h-.5zM44.2 790.0h.5v.5h-.5zM61.7 792.2h.5v.5h-.5zM53.0 793.9h.5v.5h-.5z"/>
<ellipse cx="54.19" cy="795.69" rx="10.00" ry="4.06" fill="#ececec" stroke="#b0b0b0" stroke-width="0.3" transform="rotate(0 54.5 795.6)"/>
<ellipse cx="54.88" cy="795.74" rx="8.00" ry="3.25" fill="#d6d6d6" stroke="#8a8a8a" stroke-width="0.35" transform="rotate(0 54.5 795.6)"/>
<ellipse cx="54.87" cy="795.94" rx="6.40" ry="2.60" fill="#bdbdbd" stroke="#707070" stroke-width="0.35" transform="rotate(0 54.5 795.6)"/>
<ellipse cx="54.27" cy="795.23" rx="4.96" ry="2.02" fill="#a4a4a4" stroke="#5a5a5a" stroke-width="0.4" transform="rotate(0 54.5 795.6)"/>
<ellipse cx="54.25" cy="795.54" rx="3.60" ry="1.46" fill="#777" stroke="#444" stroke-width="0.4" transform="rotate(0 54.5 795.6)"/>
<ellipse cx="54.89" cy="795.36" rx="2.40" ry="0.97" fill="#6a6a6a" stroke="#333" stroke-width="0.4" transform="rotate(0 54.5 795.6)"/>
<ellipse cx="54.84" cy="795.77" rx="1.28" ry="0.52" fill="#b8b8b8" stroke="#777" stroke-width="0.3" transform="rotate(0 54.5 795.6)"/>
<path fill="#8c8c8c" d="M49.4 830.6h.5v.5h-.5zM52.6 825.7h.5v.5h-.5zM65.1 818.1h.5v.5h-.5zM53.8 824.8h.5v.5h-.5zM57.9 825.0h.5v.5h-.5zM41.1 827.9h.5v.5h-.5zM52.2 818.8h.5v.5h-.5zM54.3 817.4h.5v.5h-.5zM60.2 827.6h.5v.5h-.5zM53.2 824.9h.5v.5h-.5zM55.7 822.1h.5v.5h-.5zM59.8 825.7h.5v.5h-.5zM57.9 826.6h.5v.5h-.5zM42.5 836.3h.5v.5h-.5zM53.8 822.7h.5v.5h-.5zM49.9 827.5h.5v.5h-.5zM40.0 830.9h.5v.5h-.5zM51.9 824.3h.5v.5h-.5zM44.5 830.2h.5v.5h-.5zM40.8 828.8h.5v.5h-.5zM53.0 825.1h.5v.5h-.5zM52.7 821.6h.5v.5h-.5zM50.8 825.5h.5v.5h-.5zM48.5 816.3h.5v.5h-.5zM49.4 824.8h.5v.5h-.5zM52.7 821.5h.5v.5h-.5zM51.9 823.6h.5v.5h-.5zM45.0 812.9h.5v.5h-.5zM55.9 824.4h.5v.5h-.5zM53.4 821.7h.5v.5h-.5zM51.9 829.8h.5v.5h-.5zM55.8 822.6h.5v.5h-.5zM55.9 835.7h.5v.5h-.5zM52.1 828.4h.5v.5h-.5zM51.2 831.6h.5v.5h-.5zM53.9 829.1h.5v.5h-.5zM46.5 826.0h.5v.5h-.5zM60.1 829.9h.5v.5h-.5zM48.7 825.5h.5v.5h-.5zM53.5 833.1h.5v.5h-.5zM47.9 818.0h.5v.5h-.5zM53.0 825.5h.5v.5h-.5zM47.6 828.5h.5v.5h-.5zM53.6 823.1h.5v.5h-.5zM53.4 823.6h.5v.5h-.5zM49.3 828.3h.5v.5h-.5zM51.9 821.7h.5v.5h-.5zM54.3 815.6h.5v.5h-.5zM60.5 825.7h.5v.5h-.5zM53.9 823.8h.5v.5h-.5zM51.6 822.0h.5v.5h-.5zM60.2 831.1h.5v.5h-.5zM43.9 820.5h.5v.5h-.5zM53.6 820.2h.5v.5h-.5zM53.4 808.2h.5v.5h-.5zM61.1 823.3h.5v.5h-.5zM54.2 826.3h.5v.5h-.5zM44.4 820.0h.5v.5h-.5zM44.2 829.2h.5v.5h-.5zM50.9 819.9h.5v.5h-.5zM47.6 819.8h.5v.5h-.5zM58.0 826.4h.5v.5h-.5zM53.2 822.9h.5v.5h-.5zM52.4 823.9h.5v.5h-.5zM56.3 824.6h.5v.5h-.5zM56.1 819.0h.5v.5h-.5zM52.3 805.1h.5v.5h-.5zM56.6 821.0h.5v.5h-.5zM58.2 820.7h.5v.5h-.5zM58.3 816.4h.5v.5h-.5zM45.8 817.8h.5v.5h-.5zM44.7 822.7h.5v.5h-.5zM48.1 821.0h.5v.5h-.5zM46.7 827.7h.5v.5h-.5zM56.1 823.6h.5v.5h-.5zM42.2 828.0h.5v.5h-.5zM63.0 823.9h.5v.5h-.5zM48.4 822.8h.5v.5h-.5zM60.2 822.4h.5v.5h-.5zM46.3 827.9h.5v.5h-.5zM51.8 824.4h.5v.5h-.5zM46.0 834.1h.5v.5h-.5zM52.4 812.5h.5v.5h-.5zM62.5 824.6h.5v.5h-.5zM51.9 801.5h.5v.5h-.5zM55.8 831.9h.5v.5h-.5zM52.8 824.9h.5v.5h-.5zM54.5 824.5h.5v.5h-.5zM54.9 822.2h.5v.5h-.5zM50.6 825.2h.5v.5h-.5zM61.3 824.6h.5v.5h-.5zM51.8 824.0h.5v.5h-.5zM51.9 813.9h.5v.5h-.5zM61.6 814.6h.5v.5h-.5zM48.4 827.3h.5v.5h-.5zM49.2 833.6h.5v.5h-.5zM57.9 820.1h.5v.5h-.5zM50.0 819.1h.5v.5h-.5zM45.3 826.5h.5v.5h-.5zM46.0 828.4h.5v.5h-.5zM53.9 807.9h.5v.5h-.5zM55.4 821.3h.5v.5h-.5zM53.8 815.9h.5v.5h-.5zM42.6 813.0h.5v.5h-.5zM52.9 824.0h.5v.5h-.5zM52.9 824.2h.5v.5h-.5zM54.7 804.5h.5v.5h-.5zM53.7 817.7h.5v.5h-.5zM47.1 827.8h.5v.5h-.5z"/>
<ellipse cx="52.10" cy="823.75" rx="8.75" ry="10.62" fill="#ececec" stroke="#b0b0b0" stroke-width="0.3" transform="rotate(20 52.4 824)"/>
<ellipse cx="52.14" cy="823.64" rx="7.00" ry="8.50" fill="#d6d6d6" stroke="#8a8a8a" stroke-width="0.35" transform="rotate(20 52.4 824)"/>
<ellipse cx="52.34" cy="823.65" rx="5.60" ry="6.80" fill="#bdbdbd" stroke="#707070" stroke-width="0.35" transform="rotate(20 52.4 824)"/>
<ellipse cx="52.67" cy="824.13" rx="4.34" ry="5.27" fill="#a4a4a4" stroke="#5a5a5a" stroke-width="0.4" transform="rotate(20 52.4 824)"/>
<ellipse cx="52.57" cy="824.31" rx="3.15" ry="3.83" fill="#8a8a8a" stroke="#444" stroke-width="0.4" transform="rotate(20 52.4 824)"/>
<ellipse cx="52.27" cy="823.99" rx="2.10" ry="2.55" fill="#6a6a6a" stroke="#333" stroke-width="0.4" transform="rotate(20 52.4 824)"/>
<ellipse cx="52.79" cy="823.74" rx="1.12" ry="1.36" fill="#b8b8b8" stroke="#777" stroke-width="0.3" transform="rotate(20 52.4 824)"/>
<path fill="#8c8c8c" d="M85.5 816.6h.5v.5h-.5zM102.0 796.5h.5v.5h-.5zM75.7 800.2h.5v.5h-.5zM102.4 797.6h.5v.5h-.5zM80.1 813.3h.5v.5h-.5zM90.6 812.0h.5v.5h-.5zM82.2 815.3h.5v.5h-.5zM81.5 807.0h.5v.5h-.5zM74.1 834.8h.5v.5h-.5zM70.6 826.8h.5v.5h-.5zM80.7 824.4h.5v.5h-.5zM85.1 809.0h.5v.5h-.5zM80.5 822.9h.5v.5h-.5zM84.7 814.0h.5v.5h-.5zM82.2 789.7h.5v.5h-.5zM95.4 804.2h.5v.5h-.5zM84.1 816.9h.5v.5h-.5zM88.2 799.2h.5v.5h-.5zM82.5 809.2h.5v.5h-.5zM84.3 807.8h.5v.5h-.5zM83.5 818.4h.5v.5h-.5zM85.6 815.3h.5v.5h-.5zM86.8 819.1h.5v.5h-.5zM84.0 813.4h.5v.5h-.5zM78.7 832.7h.5v.5h-.5zM88.1 805.5h.5v.5h-.5zM88.1 798.7h.5v.5h-.5zM88.4 826.6h.5v.5h-.5zM84.8 814.0h.5v.5h-.5zM84.8 815.3h.5v.5h-.5zM82.3 829.2h.5v.5h-.5zM79.3 822.1h.5v.5h-.5zM84.8 810.7h.5v.5h-.5zM88.3 824.9h.5v.5h-.5zM84.1 815.2h.5v.5h-.5zM81.8 803.2h.5v.5h-.5zM87.2 811.6h.5v.5h-.5zM84.7 805.6h.5v.5h-.5zM87.6 816.0h.5v.5h-.5zM89.2 819.1h.5v.5h-.5zM87.1 811.1h.5v.5h-.5zM87.5 826.3h.5v.5h-.5zM81.9 818.7h.5v.5h-.5zM83.2 800.1h.5v.5h-.5zM84.2 803.1h.5v.5h-.5zM91.1 808.7h.5v.5h-.5zM78.4 792.1h.5v.5h-.5zM86.7 812.5h.5v.5h-.5zM82.1 815.5h.5v.5h-.5zM88.6 802.7h.5v.5h-.5zM85.0 787.4h.5v.5h-.5zM89.7 803.4h.5v.5h-.5zM84.3 814.1h.5v.5h-.5zM83.8 805.5h.5v.5h-.5zM83.4 833.0h.5v.5h-.5zM86.2 810.2h.5v.5h-.5zM84.9 809.5h.5v.5h-.5zM81.8 812.9h.5v.5h-.5zM82.9 813.5h.5v.5h-.5zM101.6 798.0h.5v.5h-.5zM79.1 827.3h.5v.5h-.5zM92.7 798.6h.5v.5h-.5zM90.3 805.8h.5v.5h-.5zM79.8 821.4h.5v.5h-.5zM95.0 810.7h.5v.5h-.5zM84.9 817.9h.5v.5h-.5zM85.8 810.9h.5v.5h-.5zM78.3 816.2h.5v.5h-.5zM87.5 812.0h.5v.5h-.5zM84.8 824.6h.5v.5h-.5zM96.6 794.8h.5v.5h-.5zM85.0 813.3h.5v.5h-.5zM93.2 822.4h.5v.5h-.5zM84.2 815.1h.5v.5h-.5zM79.8 824.6h.5v.5h-.5zM83.4 815.6h.5v.5h-.5zM81.6 818.8h.5v.5h-.5zM88.1 828.2h.5v.5h-.5zM83.3 809.8h.5v.5h-.5zM79.2 826.2h.5v.5h-.5zM86.0 806.6h.5v.5h-.5zM88.6 830.1h.5v.5h-.5zM77.4 839.9h.5v.5h-.5zM98.2 802.8h.5v.5h-.5zM79.3 822.5h.5v.5h-.5zM88.9 796.0h.5v.5h-.5zM84.4 814.5h.5v.5h-.5zM93.4 812.2h.5v.5h-.5zM84.0 805.4h.5v.5h-.5zM69.5 835.3h.5v.5h-.5zM86.6 813.7h.5v.5h-.5zM82.7 810.8h.5v.5h-.5zM82.5 794.4h.5v.5h-.5zM80.9 804.8h.5v.5h-.5zM90.3 826.0h.5v.5h-.5zM80.0 801.7h.5v.5h-.5zM94.8 806.1h.5v.5h-.5zM86.9 809.9h.5v.5h-.5zM84.9 809.5h.5v.5h-.5zM80.7 814.0h.5v.5h-.5zM89.9 811.9h.5v.5h-.5zM80.1 808.4h.5v.5h-.5zM80.2 822.8h.5v.5h-.5zM89.3 817.2h.5v.5h-.5zM84.7 812.4h.5v.5h-.5zM85.1 828.7h.5v.5h-.5zM90.2 827.1h.5v.5h-.5zM82.9 806.6h.5v.5h-.5zM86.9 806.1h.5v.5h-.5zM96.7 790.8h.5v.5h-.5zM80.3 807.2h.5v.5h-.5zM84.6 817.7h.5v.5h-.5zM75.2 791.5h.5v.5h-.5zM91.6 790.6h.5v.5h-.5zM85.3 810.9h.5v.5h-.5zM75.8 813.9h.5v.5h-.5zM82.1 814.5h.5v.5h-.5zM85.3 813.9h.5v.5h-.5zM85.3 811.1h.5v.5h-.5zM90.7 814.0h.5v.5h-.5zM94.7 804.0h.5v.5h-.5zM86.9 810.0h.5v.5h-.5zM80.0 805.0h.5v.5h-.5zM92.6 799.1h.5v.5h-.5zM73.7 816.2h.5v.5h-.5zM83.3 820.4h.5v.5h-.5zM83.2 809.6h.5v.5h-.5zM90.7 815.9h.5v.5h-.5zM93.6 806.9h.5v.5h-.5zM90.8 795.9h.5v.5h-.5zM90.8 812.7h.5v.5h-.5zM81.6 796.0h.5v.5h-.5zM102.0 804.9h.5v.5h-.5zM87.6 811.4h.5v.5h-.5zM85.9 825.9h.5v.5h-.5zM87.5 802.8h.5v.5h-.5zM78.8 819.8h.5v.5h-.5zM84.1 813.8h.5v.5h-.5zM80.1 819.1h.5v.5h-.5zM86.1 802.6h.5v.5h-.5zM90.2 807.7h.5v.5h-.5zM90.6 807.6h.5v.5h-.5zM88.8 814.2h.5v.5h-.5zM91.7 817.4h.5v.5h-.5zM86.8 823.7h.5v.5h-.5zM86.2 811.3h.5v.5h-.5zM71.5 807.7h.5v.5h-.5zM84.8 813.4h.5v.5h-.5zM89.3 815.8h.5v.5h-.5zM82.6 819.8h.5v.5h-.5zM82.1 816.1h.5v.5h-.5zM82.7 820.2h.5v.5h-.5zM95.1 797.8h.5v.5h-.5zM78.9 840.5h.5v.5h-.5zM80.4 817.1h.5v.5h-.5zM87.0 780.7h.5v.5h-.5zM84.3 814.5h.5v.5h-.5zM86.0 812.9h.5v.5h-.5zM92.9 802.2h.5v.5h-.5zM77.6 797.3h.5v.5h-.5zM76.3 814.8h.5v.5h-.5zM80.5 802.7h.5v.5h-.5zM79.4 816.1h.5v.5h-.5zM84.3 812.7h.5v.5h-.5zM84.8 812.7h.5v.5h-.5zM87.8 797.9h.5v.5h-.5zM86.8 825.1h.5v.5h-.5zM79.3 824.9h.5v.5h-.5zM84.7 819.2h.5v.5h-.5zM92.4 809.7h.5v.5h-.5zM92.1 789.7h.5v.5h-.5zM84.9 783.6h.5v.5h-.5zM73.6 831.0h.5v.5h-.5zM86.4 812.7h.5v.5h-.5zM85.6 808.8h.5v.5h-.5zM86.1 813.3h.5v.5h-.5zM85.2 812.8h.5v.5h-.5zM87.3 814.9h.5v.5h-.5zM73.9 810.6h.5v.5h-.5zM85.8 803.8h.5v.5h-.5zM86.3 824.5h.5v.5h-.5zM84.4 813.9h.5v.5h-.5zM73.7 789.1h.5v.5h-.5zM81.6 814.0h.5v.5h-.5zM72.8 834.2h.5v.5h-.5zM83.3 808.9h.5v.5h-.5zM81.3 837.7h.5v.5h-.5zM79.5 822.1h.5v.5h-.5zM82.1 813.1h.5v.5h-.5zM84.2 811.6h.5v.5h-.5zM86.8 801.7h.5v.5h-.5zM84.5 815.3h.5v.5h-.5zM84.4 821.0h.5v.5h-.5zM90.2 838.1h.5v.5h-.5zM75.8 826.3h.5v.5h-.5zM88.9 810.7h.5v.5h-.5zM85.4 813.2h.5v.5h-.5zM86.9 818.4h.5v.5h-.5zM90.0 815.3h.5v.5h-.5zM85.2 813.5h.5v.5h-.5zM89.0 821.8h.5v.5h-.5zM82.5 822.5h.5v.5h-.5zM71.0 811.6h.5v.5h-.5zM84.3 814.1h.5v.5h-.5zM87.2 811.9h.5v.5h-.5zM79.5 802.3h.5v.5h-.5zM84.1 814.1h.5v.5h-.5zM84.5 815.0h.5v.5h-.5zM73.3 827.1h.5v.5h-.5zM76.4 828.4h.5v.5h-.5zM89.9 814.8h.5v.5h-.5zM85.8 814.3h.5v.5h-.5zM74.0 831.1h.5v.5h-.5zM79.5 828.5h.5v.5h-.5zM89.2 796.3h.5v.5h-.5zM94.4 828.3h.5v.5h-.5zM95.5 814.2h.5v.5h-.5z"/>
<ellipse cx="84.74" cy="814.01" rx="7.50" ry="16.88" fill="#ececec" stroke="#b0b0b0" stroke-width="0.3" transform="rotate(15 84.4 814)"/>
<ellipse cx="84.16" cy="814.34" rx="6.00" ry="13.50" fill="#d6d6d6" stroke="#8a8a8a" stroke-width="0.35" transform="rotate(15 84.4 814)"/>
<ellipse cx="84.31" cy="813.70" rx="4.80" ry="10.80" fill="#bdbdbd" stroke="#707070" stroke-width="0.35" transform="rotate(15 84.4 814)"/>
<ellipse cx="84.66" cy="813.63" rx="3.72" ry="8.37" fill="#a4a4a4" stroke="#5a5a5a" stroke-width="0.4" transform="rotate(15 84.4 814)"/>
<ellipse cx="84.21" cy="813.85" rx="2.70" ry="6.08" fill="#6a6a6a" stroke="#444" stroke-width="0.4" transform="rotate(15 84.4 814)"/>
<ellipse cx="84.37" cy="814.37" rx="1.80" ry="4.05" fill="#6a6a6a" stroke="#333" stroke-width="0.4" transform="rotate(15 84.4 814)"/>
<ellipse cx="84.74" cy="813.67" rx="0.96" ry="2.16" fill="#b8b8b8" stroke="#777" stroke-width="0.3" transform="rotate(15 84.4 814)"/>
</g>
<path d="M70.1,843.8 L70.1,802.2 Q70.1,799.2 73.1,799.2 L107.7,799.2" fill="none" stroke="#333" stroke-width="0.7"/>
<text x="105.70" y="838.92" font-size="8.1" text-anchor="end" fill="#231f20" stroke="#231f20">56.6</text>
<line x1="34.70" y1="776.50" x2="36.50" y2="776.50" stroke="#222" stroke-width="0.6"/>
<line x1="34.70" y1="785.50" x2="36.50" y2="785.50" stroke="#222" stroke-width="0.6"/>
<line x1="34.70" y1="794.50" x2="36.50" y2="794.50" stroke="#222" stroke-width="0.6"/>
<line x1="34.70" y1="803.50" x2="36.50" y2="803.50" stroke="#222" stroke-width="0.6"/>
<line x1="34.70" y1="812.50" x2="36.50" y2="812.50" stroke="#222" stroke-width="0.6"/>
<line x1="34.70" y1="821.50" x2="36.50" y2="821.50" stroke="#222" stroke-width="0.6"/>
<line x1="34.70" y1="830.50" x2="36.50" y2="830.50" stroke="#222" stroke-width="0.6"/>
<line x1="34.70" y1="839.50" x2="36.50" y2="839.50" stroke="#222" stroke-width="0.6"/>
<rect x="33.70" y="823.50" width="2.20" height="2.20" fill="#111" stroke="none" stroke-width="0.8"/>
<line x1="42.50" y1="843.80" x2="42.50" y2="845.60" stroke="#222" stroke-width="0.6"/>
<line x1="49.50" y1="843.80" x2="49.50" y2="845.60" stroke="#222" stroke-width="0.6"/>
<line x1="56.50" y1="843.80" x2="56.50" y2="845.60" stroke="#222" stroke-width="0.6"/>
<line x1="63.50" y1="843.80" x2="63.50" y2="845.60" stroke="#222" stroke-width="0.6"/>
<line x1="70.50" y1="843.80" x2="70.50" y2="845.60" stroke="#222" stroke-width="0.6"/>
<line x1="77.50" y1="843.80" x2="77.50" y2="845.60" stroke="#222" stroke-width="0.6"/>
<line x1="84.50" y1="843.80" x2="84.50" y2="845.60" stroke="#222" stroke-width="0.6"/>
<line x1="91.50" y1="843.80" x2="91.50" y2="845.60" stroke="#222" stroke-width="0.6"/>
<line x1="98.50" y1="843.80" x2="98.50" y2="845.60" stroke="#222" stroke-width="0.6"/>
<line x1="105.50" y1="843.80" x2="105.50" y2="845.60" stroke="#222" stroke-width="0.6"/>
<rect x="55.50" y="844.30" width="2.20" height="2.20" fill="#111" stroke="none" stroke-width="0.8"/>
<rect x="113.50" y="768.50" width="73.00" height="75.30" fill="#ffffff" stroke="#333" stroke-width="0.8"/>
<text x="150.00" y="778.74" font-size="7.6" text-anchor="middle" fill="#231f20" stroke="#231f20">VTP + Palbo</text>
<g filter="url(#fblur)">
<path fill="#8c8c8c" d="M119.9 790.3h.5v.5h-.5zM129.1 799.3h.5v.5h-.5zM116.4 791.6h.5v.5h-.5zM133.2 795.4h.5v.5h-.5zM132.8 792.6h.5v.5h-.5zM133.2 795.1h.5v.5h-.5zM130.5 795.2h.5v.5h-.5zM134.2 794.6h.5v.5h-.5zM144.3 801.0h.5v.5h-.5zM149.3 789.3h.5v.5h-.5zM116.2 794.2h.5v.5h-.5zM139.2 795.0h.5v.5h-.5zM131.0 794.4h.5v.5h-.5zM137.8 794.3h.5v.5h-.5zM127.6 792.1h.5v.5h-.5zM154.2 796.3h.5v.5h-.5zM145.7 797.8h.5v.5h-.5zM135.0 791.3h.5v.5h-.5zM131.0 800.0h.5v.5h-.5zM130.4 795.8h.5v.5h-.5zM138.4 791.8h.5v.5h-.5zM138.1 793.4h.5v.5h-.5zM132.4 794.2h.5v.5h-.5zM132.8 796.4h.5v.5h-.5zM124.8 794.0h.5v.5h-.5zM131.8 789.5h.5v.5h-.5zM143.9 796.6h.5v.5h-.5zM132.8 795.4h.5v.5h-.5zM137.8 790.4h.5v.5h-.5zM138.6 796.0h.5v.5h-.5zM133.1 795.0h.5v.5h-.5zM130.4 796.6h.5v.5h-.5zM132.3 794.0h.5v.5h-.5zM129.0 795.0h.5v.5h-.5zM133.0 794.9h.5v.5h-.5zM128.4 796.5h.5v.5h-.5zM138.9 797.3h.5v.5h-.5zM128.7 794.3h.5v.5h-.5zM132.7 795.2h.5v.5h-.5zM138.2 796.2h.5v.5h-.5zM135.7 794.8h.5v.5h-.5zM133.1 794.7h.5v.5h-.5zM129.4 794.8h.5v.5h-.5zM133.3 794.0h.5v.5h-.5zM131.1 801.9h.5v.5h-.5zM135.3 795.9h.5v.5h-.5zM124.5 795.7h.5v.5h-.5zM133.1 798.4h.5v.5h-.5zM132.1 797.3h.5v.5h-.5zM130.1 793.8h.5v.5h-.5zM147.1 792.6h.5v.5h-.5zM132.9 794.9h.5v.5h-.5zM131.8 796.0h.5v.5h-.5zM130.3 796.3h.5v.5h-.5zM135.5 793.1h.5v.5h-.5zM136.9 791.9h.5v.5h-.5zM133.6 796.8h.5v.5h-.5zM134.6 791.2h.5v.5h-.5zM133.5 790.8h.5v.5h-.5zM132.9 799.7h.5v.5h-.5zM128.8 795.3h.5v.5h-.5zM140.9 793.0h.5v.5h-.5zM130.4 799.6h.5v.5h-.5zM134.0 800.3h.5v.5h-.5zM127.6 790.9h.5v.5h-.5zM132.7 790.8h.5v.5h-.5zM133.1 795.0h.5v.5h-.5zM134.1 792.9h.5v.5h-.5zM127.6 793.5h.5v.5h-.5zM128.0 783.2h.5v.5h-.5zM137.2 793.8h.5v.5h-.5zM135.4 795.3h.5v.5h-.5zM133.5 791.4h.5v.5h-.5zM133.4 794.6h.5v.5h-.5zM116.1 792.0h.5v.5h-.5zM131.0 794.8h.5v.5h-.5zM142.7 794.6h.5v.5h-.5zM129.6 793.9h.5v.5h-.5zM121.9 790.2h.5v.5h-.5zM127.4 799.6h.5v.5h-.5zM135.5 790.2h.5v.5h-.5zM133.3 793.3h.5v.5h-.5zM137.5 795.1h.5v.5h-.5zM135.3 795.1h.5v.5h-.5zM128.2 794.2h.5v.5h-.5zM128.6 796.7h.5v.5h-.5zM148.6 793.5h.5v.5h-.5zM135.2 793.6h.5v.5h-.5zM152.8 798.6h.5v.5h-.5zM142.5 797.2h.5v.5h-.5zM125.4 788.9h.5v.5h-.5zM123.5 789.9h.5v.5h-.5zM127.9 797.6h.5v.5h-.5zM133.6 794.2h.5v.5h-.5zM126.3 794.3h.5v.5h-.5zM139.5 799.1h.5v.5h-.5zM137.8 795.2h.5v.5h-.5zM132.2 795.6h.5v.5h-.5zM138.2 794.8h.5v.5h-.5zM142.9 795.4h.5v.5h-.5zM137.2 795.8h.5v.5h-.5zM145.9 801.4h.5v.5h-.5zM133.4 794.9h.5v.5h-.5zM131.6 797.6h.5v.5h-.5zM121.8 794.6h.5v.5h-.5zM115.9 797.9h.5v.5h-.5zM132.8 795.4h.5v.5h-.5zM136.3 790.9h.5v.5h-.5zM122.9 794.6h.5v.5h-.5z"/>
<ellipse cx="133.26" cy="795.07" rx="10.62" ry="4.06" fill="#ececec" stroke="#b0b0b0" stroke-width="0.3" transform="rotate(0 133 795)"/>
<ellipse cx="132.63" cy="794.67" rx="8.50" ry="3.25" fill="#d6d6d6" stroke="#8a8a8a" stroke-width="0.35" transform="rotate(0 133 795)"/>
<ellipse cx="133.20" cy="795.33" rx="6.80" ry="2.60" fill="#bdbdbd" stroke="#707070" stroke-width="0.35" transform="rotate(0 133 795)"/>
<ellipse cx="132.90" cy="794.79" rx="5.27" ry="2.02" fill="#a4a4a4" stroke="#5a5a5a" stroke-width="0.4" transform="rotate(0 133 795)"/>
<ellipse cx="132.98" cy="795.19" rx="3.83" ry="1.46" fill="#777" stroke="#444" stroke-width="0.4" transform="rotate(0 133 795)"/>
<ellipse cx="133.06" cy="795.20" rx="2.55" ry="0.97" fill="#6a6a6a" stroke="#333" stroke-width="0.4" transform="rotate(0 133 795)"/>
<ellipse cx="133.11" cy="795.06" rx="1.36" ry="0.52" fill="#b8b8b8" stroke="#777" stroke-width="0.3" transform="rotate(0 133 795)"/>
<path fill="#8c8c8c" d="M125.8 833.5h.5v.5h-.5zM131.0 826.0h.5v.5h-.5zM133.3 824.1h.5v.5h-.5zM138.2 810.6h.5v.5h-.5zM131.1 821.6h.5v.5h-.5zM130.9 821.6h.5v.5h-.5zM146.5 819.0h.5v.5h-.5zM126.6 817.0h.5v.5h-.5zM115.9 825.8h.5v.5h-.5zM135.3 822.2h.5v.5h-.5zM131.2 821.7h.5v.5h-.5zM137.1 823.6h.5v.5h-.5zM129.7 830.4h.5v.5h-.5zM134.0 814.0h.5v.5h-.5zM131.7 819.9h.5v.5h-.5zM131.9 814.2h.5v.5h-.5zM132.7 822.1h.5v.5h-.5zM129.9 826.8h.5v.5h-.5zM122.9 806.6h.5v.5h-.5zM121.5 817.5h.5v.5h-.5zM133.2 827.6h.5v.5h-.5zM131.4 823.2h.5v.5h-.5zM132.9 818.1h.5v.5h-.5zM135.6 825.8h.5v.5h-.5zM130.9 820.9h.5v.5h-.5zM131.5 821.2h.5v.5h-.5zM129.7 820.7h.5v.5h-.5zM130.1 830.9h.5v.5h-.5zM120.8 824.4h.5v.5h-.5zM137.3 822.4h.5v.5h-.5zM136.6 811.7h.5v.5h-.5zM138.5 822.2h.5v.5h-.5zM138.2 828.2h.5v.5h-.5zM119.8 824.1h.5v.5h-.5zM143.5 822.1h.5v.5h-.5zM128.5 821.1h.5v.5h-.5zM121.8 825.9h.5v.5h-.5zM132.5 823.4h.5v.5h-.5zM130.3 829.1h.5v.5h-.5zM132.0 839.6h.5v.5h-.5zM140.0 812.1h.5v.5h-.5zM136.5 826.3h.5v.5h-.5zM145.7 810.1h.5v.5h-.5zM148.5 839.4h.5v.5h-.5zM127.2 821.7h.5v.5h-.5zM119.7 823.4h.5v.5h-.5zM132.6 820.7h.5v.5h-.5zM128.0 826.2h.5v.5h-.5zM138.2 832.9h.5v.5h-.5zM120.4 821.2h.5v.5h-.5zM143.8 828.7h.5v.5h-.5zM123.4 819.9h.5v.5h-.5zM138.2 813.0h.5v.5h-.5zM132.9 821.3h.5v.5h-.5zM130.3 821.8h.5v.5h-.5zM135.3 820.0h.5v.5h-.5zM153.1 822.7h.5v.5h-.5zM120.9 821.3h.5v.5h-.5zM132.4 817.6h.5v.5h-.5zM129.9 825.1h.5v.5h-.5zM128.3 824.4h.5v.5h-.5zM128.5 818.4h.5v.5h-.5zM126.8 821.7h.5v.5h-.5zM131.4 821.3h.5v.5h-.5zM133.1 814.2h.5v.5h-.5zM127.2 812.0h.5v.5h-.5zM139.5 823.6h.5v.5h-.5zM141.4 808.6h.5v.5h-.5zM135.9 826.5h.5v.5h-.5zM131.8 822.2h.5v.5h-.5zM134.5 823.4h.5v.5h-.5zM136.6 818.9h.5v.5h-.5zM134.9 819.1h.5v.5h-.5zM131.8 820.4h.5v.5h-.5zM121.8 829.5h.5v.5h-.5zM132.5 820.0h.5v.5h-.5zM130.4 821.6h.5v.5h-.5zM144.2 810.1h.5v.5h-.5zM135.6 824.2h.5v.5h-.5zM123.4 830.3h.5v.5h-.5zM128.0 822.9h.5v.5h-.5zM133.9 821.1h.5v.5h-.5zM130.1 835.7h.5v.5h-.5zM143.3 817.8h.5v.5h-.5zM123.6 837.9h.5v.5h-.5zM127.8 820.8h.5v.5h-.5zM125.3 818.8h.5v.5h-.5zM131.9 809.7h.5v.5h-.5zM124.3 811.1h.5v.5h-.5zM134.7 814.3h.5v.5h-.5zM130.6 833.7h.5v.5h-.5zM135.8 821.3h.5v.5h-.5zM128.2 827.3h.5v.5h-.5zM134.7 823.5h.5v.5h-.5zM129.7 810.6h.5v.5h-.5zM132.2 824.2h.5v.5h-.5zM119.9 841.2h.5v.5h-.5zM135.2 827.1h.5v.5h-.5zM121.9 826.0h.5v.5h-.5zM139.6 820.1h.5v.5h-.5zM130.1 817.7h.5v.5h-.5zM132.7 799.1h.5v.5h-.5zM139.8 802.5h.5v.5h-.5zM137.4 813.5h.5v.5h-.5zM132.8 826.8h.5v.5h-.5zM136.8 815.2h.5v.5h-.5zM128.5 810.4h.5v.5h-.5zM129.4 828.5h.5v.5h-.5zM141.0 831.1h.5v.5h-.5zM137.2 838.9h.5v.5h-.5zM134.0 818.4h.5v.5h-.5zM129.3 812.1h.5v.5h-.5zM128.4 822.9h.5v.5h-.5zM146.4 810.3h.5v.5h-.5zM130.9 812.3h.5v.5h-.5zM131.1 821.5h.5v.5h-.5zM134.0 830.3h.5v.5h-.5zM123.1 817.4h.5v.5h-.5zM131.9 820.1h.5v.5h-.5zM131.6 816.5h.5v.5h-.5zM132.5 822.3h.5v.5h-.5zM130.9 822.2h.5v.5h-.5zM134.7 837.8h.5v.5h-.5zM116.6 841.5h.5v.5h-.5zM134.2 823.5h.5v.5h-.5zM132.5 803.3h.5v.5h-.5zM131.0 816.1h.5v.5h-.5zM130.2 823.2h.5v.5h-.5zM134.2 821.5h.5v.5h-.5zM117.7 840.8h.5v.5h-.5zM121.1 821.6h.5v.5h-.5zM133.7 805.9h.5v.5h-.5zM129.2 826.0h.5v.5h-.5zM127.9 821.3h.5v.5h-.5zM127.6 825.0h.5v.5h-.5zM127.5 822.9h.5v.5h-.5zM134.6 825.2h.5v.5h-.5zM124.9 828.3h.5v.5h-.5zM125.6 826.3h.5v.5h-.5zM132.7 837.3h.5v.5h-.5zM122.1 827.0h.5v.5h-.5zM128.4 813.1h.5v.5h-.5zM131.6 821.4h.5v.5h-.5zM122.3 824.4h.5v.5h-.5zM122.9 815.7h.5v.5h-.5zM130.5 807.5h.5v.5h-.5zM131.4 822.2h.5v.5h-.5zM129.1 823.2h.5v.5h-.5zM127.3 825.5h.5v.5h-.5zM131.5 821.6h.5v.5h-.5zM131.1 821.5h.5v.5h-.5zM127.5 819.6h.5v.5h-.5zM127.8 829.0h.5v.5h-.5zM140.0 804.9h.5v.5h-.5zM126.0 821.2h.5v.5h-.5zM119.3 840.0h.5v.5h-.5zM119.0 828.1h.5v.5h-.5zM130.8 821.6h.5v.5h-.5zM129.2 823.3h.5v.5h-.5zM133.2 803.2h.5v.5h-.5zM137.2 810.7h.5v.5h-.5zM135.4 811.5h.5v.5h-.5zM129.4 826.4h.5v.5h-.5zM144.5 828.9h.5v.5h-.5zM117.9 824.1h.5v.5h-.5zM130.5 817.7h.5v.5h-.5zM126.1 833.2h.5v.5h-.5zM133.8 820.9h.5v.5h-.5zM133.5 825.7h.5v.5h-.5zM128.8 828.4h.5v.5h-.5zM121.5 825.1h.5v.5h-.5zM133.4 815.7h.5v.5h-.5zM133.3 814.0h.5v.5h-.5zM123.5 823.3h.5v.5h-.5zM131.8 833.8h.5v.5h-.5zM139.7 811.7h.5v.5h-.5zM120.8 823.0h.5v.5h-.5zM122.7 818.5h.5v.5h-.5zM127.0 820.8h.5v.5h-.5zM131.4 817.6h.5v.5h-.5zM133.5 809.9h.5v.5h-.5zM135.8 822.5h.5v.5h-.5zM126.2 833.1h.5v.5h-.5zM128.7 828.0h.5v.5h-.5zM138.0 817.1h.5v.5h-.5zM129.5 811.0h.5v.5h-.5zM142.5 813.2h.5v.5h-.5zM131.6 818.9h.5v.5h-.5zM134.2 819.3h.5v.5h-.5zM140.5 824.3h.5v.5h-.5zM131.7 820.3h.5v.5h-.5zM137.7 798.8h.5v.5h-.5zM130.6 803.5h.5v.5h-.5zM133.2 825.0h.5v.5h-.5zM132.4 811.2h.5v.5h-.5zM134.5 827.5h.5v.5h-.5zM131.3 822.1h.5v.5h-.5zM130.7 822.9h.5v.5h-.5zM132.9 824.5h.5v.5h-.5zM126.8 811.4h.5v.5h-.5zM128.1 820.3h.5v.5h-.5zM132.9 814.5h.5v.5h-.5zM132.2 816.1h.5v.5h-.5zM128.1 830.6h.5v.5h-.5zM125.9 824.1h.5v.5h-.5zM128.5 821.5h.5v.5h-.5zM124.9 831.3h.5v.5h-.5zM132.0 817.7h.5v.5h-.5zM128.0 824.7h.5v.5h-.5zM134.7 821.3h.5v.5h-.5zM142.4 811.2h.5v.5h-.5zM137.4 833.5h.5v.5h-.5zM131.0 819.1h.5v.5h-.5zM130.8 819.5h.5v.5h-.5zM132.1 821.9h.5v.5h-.5zM130.0 802.1h.5v.5h-.5zM127.4 825.3h.5v.5h-.5zM128.2 828.5h.5v.5h-.5z"/>
<ellipse cx="131.31" cy="822.26" rx="9.38" ry="13.12" fill="#ececec" stroke="#b0b0b0" stroke-width="0.3" transform="rotate(28 131 822)"/>
<ellipse cx="131.28" cy="822.17" rx="7.50" ry="10.50" fill="#d6d6d6" stroke="#8a8a8a" stroke-width="0.35" transform="rotate(28 131 822)"/>
<ellipse cx="131.10" cy="822.03" rx="6.00" ry="8.40" fill="#bdbdbd" stroke="#707070" stroke-width="0.35" transform="rotate(28 131 822)"/>
<ellipse cx="130.76" cy="821.91" rx="4.65" ry="6.51" fill="#a4a4a4" stroke="#5a5a5a" stroke-width="0.4" transform="rotate(28 131 822)"/>
<ellipse cx="130.72" cy="821.78" rx="3.38" ry="4.73" fill="#8a8a8a" stroke="#444" stroke-width="0.4" transform="rotate(28 131 822)"/>
<ellipse cx="130.67" cy="821.95" rx="2.25" ry="3.15" fill="#6a6a6a" stroke="#333" stroke-width="0.4" transform="rotate(28 131 822)"/>
<ellipse cx="131.39" cy="822.09" rx="1.20" ry="1.68" fill="#b8b8b8" stroke="#777" stroke-width="0.3" transform="rotate(28 131 822)"/>
<path fill="#8c8c8c" d="M169.0 810.5h.5v.5h-.5zM165.2 804.1h.5v.5h-.5zM164.1 808.9h.5v.5h-.5zM167.7 816.0h.5v.5h-.5zM165.7 815.1h.5v.5h-.5zM160.5 813.8h.5v.5h-.5zM170.5 803.1h.5v.5h-.5zM163.1 824.6h.5v.5h-.5zM168.1 819.2h.5v.5h-.5zM168.0 816.0h.5v.5h-.5zM165.3 828.3h.5v.5h-.5zM166.0 818.0h.5v.5h-.5zM157.0 816.8h.5v.5h-.5zM168.5 816.4h.5v.5h-.5zM166.3 816.5h.5v.5h-.5zM162.3 833.6h.5v.5h-.5zM166.5 815.1h.5v.5h-.5zM160.6 824.5h.5v.5h-.5zM166.9 816.9h.5v.5h-.5zM160.5 813.7h.5v.5h-.5zM163.3 837.7h.5v.5h-.5zM164.7 831.0h.5v.5h-.5zM159.7 805.4h.5v.5h-.5zM164.9 819.9h.5v.5h-.5zM164.2 819.0h.5v.5h-.5zM165.1 822.1h.5v.5h-.5zM165.5 817.8h.5v.5h-.5zM166.3 819.2h.5v.5h-.5zM167.6 819.9h.5v.5h-.5zM166.4 818.3h.5v.5h-.5zM162.0 825.9h.5v.5h-.5zM166.1 811.5h.5v.5h-.5zM167.3 820.8h.5v.5h-.5zM166.5 817.5h.5v.5h-.5zM166.2 817.6h.5v.5h-.5zM165.6 816.5h.5v.5h-.5zM164.9 815.5h.5v.5h-.5zM166.0 818.0h.5v.5h-.5zM167.5 816.3h.5v.5h-.5zM165.8 817.0h.5v.5h-.5zM164.1 813.7h.5v.5h-.5zM168.2 822.2h.5v.5h-.5zM166.1 817.9h.5v.5h-.5zM165.9 816.8h.5v.5h-.5zM171.3 813.6h.5v.5h-.5zM167.4 823.6h.5v.5h-.5zM165.6 826.0h.5v.5h-.5zM164.1 825.5h.5v.5h-.5zM166.9 821.2h.5v.5h-.5zM166.5 811.4h.5v.5h-.5zM167.7 813.9h.5v.5h-.5zM164.7 821.6h.5v.5h-.5zM168.3 814.5h.5v.5h-.5zM166.3 820.0h.5v.5h-.5zM166.4 818.0h.5v.5h-.5zM165.6 814.2h.5v.5h-.5zM169.1 811.7h.5v.5h-.5zM164.8 819.3h.5v.5h-.5zM166.5 815.8h.5v.5h-.5zM165.9 800.8h.5v.5h-.5zM166.3 818.8h.5v.5h-.5zM161.9 831.4h.5v.5h-.5zM168.2 819.5h.5v.5h-.5zM166.2 821.2h.5v.5h-.5zM165.4 818.7h.5v.5h-.5zM164.8 822.2h.5v.5h-.5zM165.3 823.8h.5v.5h-.5zM165.5 819.1h.5v.5h-.5zM166.9 803.6h.5v.5h-.5zM168.4 821.2h.5v.5h-.5zM166.8 821.1h.5v.5h-.5zM167.0 817.1h.5v.5h-.5zM170.8 811.8h.5v.5h-.5zM166.6 807.8h.5v.5h-.5zM165.5 818.4h.5v.5h-.5zM170.1 814.0h.5v.5h-.5zM170.2 812.5h.5v.5h-.5zM161.8 838.5h.5v.5h-.5zM165.3 818.1h.5v.5h-.5zM163.4 818.6h.5v.5h-.5zM166.8 816.8h.5v.5h-.5zM167.5 815.4h.5v.5h-.5zM165.8 818.0h.5v.5h-.5zM168.2 822.8h.5v.5h-.5zM166.0 817.8h.5v.5h-.5zM167.5 812.4h.5v.5h-.5zM165.6 815.1h.5v.5h-.5zM166.3 812.6h.5v.5h-.5zM166.9 816.7h.5v.5h-.5zM165.7 814.1h.5v.5h-.5zM164.7 811.2h.5v.5h-.5zM164.0 823.7h.5v.5h-.5zM166.1 823.0h.5v.5h-.5zM164.5 823.7h.5v.5h-.5zM164.3 824.5h.5v.5h-.5zM168.1 817.4h.5v.5h-.5zM166.5 828.4h.5v.5h-.5zM167.2 828.1h.5v.5h-.5zM166.6 817.9h.5v.5h-.5zM163.4 823.8h.5v.5h-.5zM165.8 814.4h.5v.5h-.5zM165.2 821.4h.5v.5h-.5zM165.1 821.4h.5v.5h-.5zM174.9 815.7h.5v.5h-.5zM168.1 815.5h.5v.5h-.5zM170.2 804.8h.5v.5h-.5zM172.9 828.0h.5v.5h-.5zM167.1 814.8h.5v.5h-.5zM166.9 813.2h.5v.5h-.5z"/>
<ellipse cx="166.24" cy="817.68" rx="4.38" ry="12.50" fill="#ececec" stroke="#b0b0b0" stroke-width="0.3" transform="rotate(10 166 818)"/>
<ellipse cx="165.86" cy="817.91" rx="3.50" ry="10.00" fill="#d6d6d6" stroke="#8a8a8a" stroke-width="0.35" transform="rotate(10 166 818)"/>
<ellipse cx="166.28" cy="818.07" rx="2.80" ry="8.00" fill="#bdbdbd" stroke="#707070" stroke-width="0.35" transform="rotate(10 166 818)"/>
<ellipse cx="165.69" cy="818.30" rx="2.17" ry="6.20" fill="#a4a4a4" stroke="#5a5a5a" stroke-width="0.4" transform="rotate(10 166 818)"/>
<ellipse cx="166.21" cy="817.83" rx="1.57" ry="4.50" fill="#c0c0c0" stroke="#444" stroke-width="0.4" transform="rotate(10 166 818)"/>
<ellipse cx="166.26" cy="818.34" rx="1.05" ry="3.00" fill="#6a6a6a" stroke="#333" stroke-width="0.4" transform="rotate(10 166 818)"/>
<ellipse cx="166.37" cy="818.10" rx="0.56" ry="1.60" fill="#b8b8b8" stroke="#777" stroke-width="0.3" transform="rotate(10 166 818)"/>
</g>
<path d="M153.8,843.8 L153.8,801.5 Q153.8,798.5 156.8,798.5 L186.5,798.5" fill="none" stroke="#333" stroke-width="0.7"/>
<text x="184.50" y="838.92" font-size="8.1" text-anchor="end" fill="#231f20" stroke="#231f20">9.28</text>
<line x1="111.70" y1="776.50" x2="113.50" y2="776.50" stroke="#222" stroke-width="0.6"/>
<line x1="111.70" y1="785.50" x2="113.50" y2="785.50" stroke="#222" stroke-width="0.6"/>
<line x1="111.70" y1="794.50" x2="113.50" y2="794.50" stroke="#222" stroke-width="0.6"/>
<line x1="111.70" y1="803.50" x2="113.50" y2="803.50" stroke="#222" stroke-width="0.6"/>
<line x1="111.70" y1="812.50" x2="113.50" y2="812.50" stroke="#222" stroke-width="0.6"/>
<line x1="111.70" y1="821.50" x2="113.50" y2="821.50" stroke="#222" stroke-width="0.6"/>
<line x1="111.70" y1="830.50" x2="113.50" y2="830.50" stroke="#222" stroke-width="0.6"/>
<line x1="111.70" y1="839.50" x2="113.50" y2="839.50" stroke="#222" stroke-width="0.6"/>
<rect x="110.70" y="823.50" width="2.20" height="2.20" fill="#111" stroke="none" stroke-width="0.8"/>
<line x1="119.50" y1="843.80" x2="119.50" y2="845.60" stroke="#222" stroke-width="0.6"/>
<line x1="126.50" y1="843.80" x2="126.50" y2="845.60" stroke="#222" stroke-width="0.6"/>
<line x1="133.50" y1="843.80" x2="133.50" y2="845.60" stroke="#222" stroke-width="0.6"/>
<line x1="140.50" y1="843.80" x2="140.50" y2="845.60" stroke="#222" stroke-width="0.6"/>
<line x1="147.50" y1="843.80" x2="147.50" y2="845.60" stroke="#222" stroke-width="0.6"/>
<line x1="154.50" y1="843.80" x2="154.50" y2="845.60" stroke="#222" stroke-width="0.6"/>
<line x1="161.50" y1="843.80" x2="161.50" y2="845.60" stroke="#222" stroke-width="0.6"/>
<line x1="168.50" y1="843.80" x2="168.50" y2="845.60" stroke="#222" stroke-width="0.6"/>
<line x1="175.50" y1="843.80" x2="175.50" y2="845.60" stroke="#222" stroke-width="0.6"/>
<line x1="182.50" y1="843.80" x2="182.50" y2="845.60" stroke="#222" stroke-width="0.6"/>
<rect x="132.50" y="844.30" width="2.20" height="2.20" fill="#111" stroke="none" stroke-width="0.8"/>
<text transform="translate(17.8 788.5) rotate(-90)" font-size="8.5" fill="#231f20" stroke="#231f20" text-anchor="middle" y="3">Mouse CD45 (APC-Cy7)</text>
<line x1="28.50" y1="838.50" x2="28.50" y2="804.50" stroke="#231f20" stroke-width="0.8"/>
<path d="M28.5,801 L26.5,805.5 L30.5,805.5Z" fill="#231f20" stroke="none" stroke-width="0.8"/>
<line x1="38.50" y1="850.40" x2="72.00" y2="850.40" stroke="#231f20" stroke-width="0.8"/>
<path d="M75.5,850.4 L71,848.4 L71,852.4Z" fill="#231f20" stroke="none" stroke-width="0.8"/>
<text x="38.50" y="862.46" font-size="8.5" fill="#231f20" stroke="#231f20">Human CD45 (PE)</text>
<text x="207.30" y="495.48" font-size="10.5" font-weight="bold" fill="#231f20" stroke="#231f20">M</text>
<rect x="241.80" y="512.50" width="48.70" height="6.69" fill="#fdd08a" stroke="none" stroke-width="0.8"/>
<rect x="241.80" y="518.59" width="48.70" height="6.69" fill="#f99858" stroke="none" stroke-width="0.8"/>
<rect x="241.80" y="524.68" width="48.70" height="6.69" fill="#f9a05e" stroke="none" stroke-width="0.8"/>
<rect x="241.80" y="530.77" width="48.70" height="6.69" fill="#7fb0d8" stroke="none" stroke-width="0.8"/>
<rect x="241.80" y="536.86" width="48.70" height="6.69" fill="#85b5da" stroke="none" stroke-width="0.8"/>
<rect x="241.80" y="542.95" width="48.70" height="6.69" fill="#e2f2f8" stroke="none" stroke-width="0.8"/>
<rect x="241.80" y="549.04" width="48.70" height="6.69" fill="#f7f5cc" stroke="none" stroke-width="0.8"/>
<rect x="241.80" y="555.13" width="48.70" height="6.69" fill="#f9f6c8" stroke="none" stroke-width="0.8"/>
<rect x="241.80" y="561.22" width="48.70" height="6.69" fill="#88b6d9" stroke="none" stroke-width="0.8"/>
<rect x="241.80" y="567.31" width="48.70" height="6.69" fill="#8fbadc" stroke="none" stroke-width="0.8"/>
<rect x="241.80" y="573.40" width="48.70" height="6.69" fill="#d4eaf4" stroke="none" stroke-width="0.8"/>
<rect x="241.80" y="579.49" width="48.70" height="6.69" fill="#d8ecf4" stroke="none" stroke-width="0.8"/>
<rect x="241.80" y="585.58" width="48.70" height="6.69" fill="#bcdced" stroke="none" stroke-width="0.8"/>
<rect x="241.80" y="591.67" width="48.70" height="6.69" fill="#f46d43" stroke="none" stroke-width="0.8"/>
<rect x="241.80" y="597.76" width="48.70" height="6.69" fill="#f8894f" stroke="none" stroke-width="0.8"/>
<rect x="241.80" y="603.85" width="48.70" height="6.69" fill="#f47c48" stroke="none" stroke-width="0.8"/>
<rect x="241.80" y="609.94" width="48.70" height="6.69" fill="#f47b48" stroke="none" stroke-width="0.8"/>
<rect x="241.80" y="616.03" width="48.70" height="6.69" fill="#f8895a" stroke="none" stroke-width="0.8"/>
<rect x="241.80" y="622.12" width="48.70" height="6.69" fill="#f88c58" stroke="none" stroke-width="0.8"/>
<rect x="241.80" y="628.21" width="48.70" height="6.69" fill="#f98e5a" stroke="none" stroke-width="0.8"/>
<rect x="241.80" y="634.30" width="48.70" height="6.69" fill="#f98e5a" stroke="none" stroke-width="0.8"/>
<rect x="241.80" y="640.39" width="48.70" height="6.69" fill="#f4764a" stroke="none" stroke-width="0.8"/>
<rect x="241.80" y="646.48" width="48.70" height="6.69" fill="#f47a4a" stroke="none" stroke-width="0.8"/>
<rect x="241.80" y="652.57" width="48.70" height="6.69" fill="#f47a4a" stroke="none" stroke-width="0.8"/>
<rect x="241.80" y="658.66" width="48.70" height="6.69" fill="#f47a4a" stroke="none" stroke-width="0.8"/>
<rect x="241.80" y="664.75" width="48.70" height="6.69" fill="#f26b43" stroke="none" stroke-width="0.8"/>
<rect x="241.80" y="670.84" width="48.70" height="6.69" fill="#f57f4c" stroke="none" stroke-width="0.8"/>
<rect x="241.80" y="676.93" width="48.70" height="6.69" fill="#f6844f" stroke="none" stroke-width="0.8"/>
<rect x="241.80" y="683.02" width="48.70" height="6.69" fill="#fdcf86" stroke="none" stroke-width="0.8"/>
<rect x="241.80" y="689.11" width="48.70" height="6.69" fill="#fdc87c" stroke="none" stroke-width="0.8"/>
<rect x="241.80" y="695.20" width="48.70" height="6.69" fill="#fba564" stroke="none" stroke-width="0.8"/>
<rect x="241.80" y="701.29" width="48.70" height="6.69" fill="#fba564" stroke="none" stroke-width="0.8"/>
<rect x="241.80" y="707.38" width="48.70" height="6.69" fill="#fbab67" stroke="none" stroke-width="0.8"/>
<rect x="241.80" y="713.47" width="48.70" height="6.69" fill="#fba564" stroke="none" stroke-width="0.8"/>
<rect x="241.80" y="719.56" width="48.70" height="6.69" fill="#fbab67" stroke="none" stroke-width="0.8"/>
<rect x="241.80" y="725.65" width="48.70" height="6.69" fill="#fba564" stroke="none" stroke-width="0.8"/>
<rect x="241.80" y="731.74" width="48.70" height="6.69" fill="#f99a5c" stroke="none" stroke-width="0.8"/>
<rect x="241.80" y="737.83" width="48.70" height="6.69" fill="#f99a5c" stroke="none" stroke-width="0.8"/>
<rect x="241.80" y="743.92" width="48.70" height="6.69" fill="#f6844f" stroke="none" stroke-width="0.8"/>
<rect x="241.80" y="750.01" width="48.70" height="6.69" fill="#f88f58" stroke="none" stroke-width="0.8"/>
<rect x="241.80" y="756.10" width="48.70" height="6.69" fill="#f99d5e" stroke="none" stroke-width="0.8"/>
<rect x="241.80" y="762.19" width="48.70" height="6.69" fill="#f99a5c" stroke="none" stroke-width="0.8"/>
<rect x="241.80" y="768.28" width="48.70" height="6.69" fill="#f99a5c" stroke="none" stroke-width="0.8"/>
<rect x="241.80" y="774.37" width="48.70" height="6.69" fill="#fbae6a" stroke="none" stroke-width="0.8"/>
<rect x="241.80" y="780.46" width="48.70" height="6.69" fill="#fbae6a" stroke="none" stroke-width="0.8"/>
<rect x="241.80" y="786.55" width="48.70" height="6.69" fill="#fbae6a" stroke="none" stroke-width="0.8"/>
<rect x="241.80" y="792.64" width="48.70" height="6.69" fill="#fcb56f" stroke="none" stroke-width="0.8"/>
<rect x="241.80" y="798.73" width="48.70" height="6.69" fill="#fcb56f" stroke="none" stroke-width="0.8"/>
<rect x="241.80" y="804.82" width="48.70" height="6.69" fill="#fbad69" stroke="none" stroke-width="0.8"/>
<rect x="241.80" y="810.91" width="48.70" height="6.69" fill="#fdc079" stroke="none" stroke-width="0.8"/>
<rect x="241.80" y="817.00" width="48.70" height="6.69" fill="#fdbd76" stroke="none" stroke-width="0.8"/>
<rect x="241.80" y="823.09" width="48.70" height="6.69" fill="#fba866" stroke="none" stroke-width="0.8"/>
<rect x="241.80" y="829.18" width="48.70" height="6.69" fill="#f99d5f" stroke="none" stroke-width="0.8"/>
<rect x="241.80" y="835.27" width="48.70" height="6.69" fill="#fa9f60" stroke="none" stroke-width="0.8"/>
<rect x="241.80" y="841.36" width="48.70" height="6.69" fill="#f99a5c" stroke="none" stroke-width="0.8"/>
<rect x="241.80" y="847.45" width="48.70" height="6.69" fill="#f8935a" stroke="none" stroke-width="0.8"/>
<rect x="241.80" y="853.54" width="48.70" height="6.69" fill="#fbaa68" stroke="none" stroke-width="0.8"/>
<rect x="241.80" y="859.63" width="48.70" height="6.69" fill="#fbab68" stroke="none" stroke-width="0.8"/>
<rect x="241.80" y="865.72" width="48.70" height="6.69" fill="#fbab68" stroke="none" stroke-width="0.8"/>
<rect x="241.80" y="871.81" width="48.70" height="6.69" fill="#fbab68" stroke="none" stroke-width="0.8"/>
<rect x="241.80" y="877.90" width="48.70" height="6.69" fill="#fbab68" stroke="none" stroke-width="0.8"/>
<rect x="241.80" y="883.99" width="48.70" height="6.69" fill="#f99d5f" stroke="none" stroke-width="0.8"/>
<rect x="241.80" y="890.08" width="48.70" height="6.69" fill="#f99a5c" stroke="none" stroke-width="0.8"/>
<rect x="241.80" y="896.17" width="48.70" height="6.69" fill="#f99a5c" stroke="none" stroke-width="0.8"/>
<rect x="241.80" y="902.26" width="48.70" height="6.69" fill="#f9a060" stroke="none" stroke-width="0.8"/>
<rect x="241.80" y="908.35" width="48.70" height="6.69" fill="#fba464" stroke="none" stroke-width="0.8"/>
<rect x="241.80" y="914.44" width="48.70" height="6.69" fill="#fdd08a" stroke="none" stroke-width="0.8"/>
<rect x="241.80" y="920.53" width="48.70" height="6.69" fill="#fcc27a" stroke="none" stroke-width="0.8"/>
<rect x="241.80" y="926.62" width="48.70" height="6.69" fill="#fcbd76" stroke="none" stroke-width="0.8"/>
<rect x="241.80" y="932.71" width="48.70" height="6.69" fill="#fcc078" stroke="none" stroke-width="0.8"/>
<rect x="241.80" y="938.80" width="48.70" height="6.69" fill="#fdd68e" stroke="none" stroke-width="0.8"/>
<rect x="241.80" y="944.89" width="48.70" height="6.69" fill="#fdd08a" stroke="none" stroke-width="0.8"/>
<rect x="241.80" y="950.98" width="48.70" height="6.69" fill="#fdd68e" stroke="none" stroke-width="0.8"/>
<rect x="241.80" y="957.07" width="48.70" height="6.69" fill="#fdf0b8" stroke="none" stroke-width="0.8"/>
<rect x="241.80" y="963.16" width="48.70" height="6.69" fill="#fbf2c0" stroke="none" stroke-width="0.8"/>
<rect x="241.80" y="969.25" width="48.70" height="6.69" fill="#fbce8c" stroke="none" stroke-width="0.8"/>
<rect x="241.80" y="975.34" width="48.70" height="6.69" fill="#f8f5d0" stroke="none" stroke-width="0.8"/>
<rect x="241.80" y="981.43" width="48.70" height="6.69" fill="#f8f5d0" stroke="none" stroke-width="0.8"/>
<rect x="241.80" y="987.52" width="48.70" height="6.69" fill="#f8f4cc" stroke="none" stroke-width="0.8"/>
<rect x="241.80" y="993.61" width="48.70" height="6.69" fill="#f99d5f" stroke="none" stroke-width="0.8"/>
<rect x="241.80" y="999.70" width="48.70" height="6.69" fill="#f47a4a" stroke="none" stroke-width="0.8"/>
<rect x="241.80" y="1005.79" width="48.70" height="6.69" fill="#f99a5c" stroke="none" stroke-width="0.8"/>
<rect x="241.80" y="1011.88" width="48.70" height="6.69" fill="#f99a5c" stroke="none" stroke-width="0.8"/>
<rect x="241.80" y="1017.97" width="48.70" height="6.69" fill="#f99d5f" stroke="none" stroke-width="0.8"/>
<rect x="241.80" y="1024.06" width="48.70" height="6.69" fill="#f47a4a" stroke="none" stroke-width="0.8"/>
<rect x="241.80" y="1030.15" width="48.70" height="6.69" fill="#fdc97e" stroke="none" stroke-width="0.8"/>
<rect x="241.80" y="1036.24" width="48.70" height="6.69" fill="#fdd08a" stroke="none" stroke-width="0.8"/>
<rect x="290.30" y="512.50" width="49.20" height="6.69" fill="#fbf5c6" stroke="none" stroke-width="0.8"/>
<rect x="290.30" y="518.59" width="49.20" height="6.69" fill="#faf3c2" stroke="none" stroke-width="0.8"/>
<rect x="290.30" y="524.68" width="49.20" height="6.69" fill="#faf3c0" stroke="none" stroke-width="0.8"/>
<rect x="290.30" y="530.77" width="49.20" height="6.69" fill="#f26b43" stroke="none" stroke-width="0.8"/>
<rect x="290.30" y="536.86" width="49.20" height="6.69" fill="#f88c58" stroke="none" stroke-width="0.8"/>
<rect x="290.30" y="542.95" width="49.20" height="6.69" fill="#fcc077" stroke="none" stroke-width="0.8"/>
<rect x="290.30" y="549.04" width="49.20" height="6.69" fill="#fde39a" stroke="none" stroke-width="0.8"/>
<rect x="290.30" y="555.13" width="49.20" height="6.69" fill="#fdd88f" stroke="none" stroke-width="0.8"/>
<rect x="290.30" y="561.22" width="49.20" height="6.69" fill="#fde59c" stroke="none" stroke-width="0.8"/>
<rect x="290.30" y="567.31" width="49.20" height="6.69" fill="#fde49a" stroke="none" stroke-width="0.8"/>
<rect x="290.30" y="573.40" width="49.20" height="6.69" fill="#fde8a4" stroke="none" stroke-width="0.8"/>
<rect x="290.30" y="579.49" width="49.20" height="6.69" fill="#a8cde6" stroke="none" stroke-width="0.8"/>
<rect x="290.30" y="585.58" width="49.20" height="6.69" fill="#dff0f5" stroke="none" stroke-width="0.8"/>
<rect x="290.30" y="591.67" width="49.20" height="6.69" fill="#fde094" stroke="none" stroke-width="0.8"/>
<rect x="290.30" y="597.76" width="49.20" height="6.69" fill="#fde094" stroke="none" stroke-width="0.8"/>
<rect x="290.30" y="603.85" width="49.20" height="6.69" fill="#fdd087" stroke="none" stroke-width="0.8"/>
<rect x="290.30" y="609.94" width="49.20" height="6.69" fill="#fde39a" stroke="none" stroke-width="0.8"/>
<rect x="290.30" y="616.03" width="49.20" height="6.69" fill="#fdd28a" stroke="none" stroke-width="0.8"/>
<rect x="290.30" y="622.12" width="49.20" height="6.69" fill="#fde094" stroke="none" stroke-width="0.8"/>
<rect x="290.30" y="628.21" width="49.20" height="6.69" fill="#fde094" stroke="none" stroke-width="0.8"/>
<rect x="290.30" y="634.30" width="49.20" height="6.69" fill="#fdd68b" stroke="none" stroke-width="0.8"/>
<rect x="290.30" y="640.39" width="49.20" height="6.69" fill="#fde49a" stroke="none" stroke-width="0.8"/>
<rect x="290.30" y="646.48" width="49.20" height="6.69" fill="#fdc97e" stroke="none" stroke-width="0.8"/>
<rect x="290.30" y="652.57" width="49.20" height="6.69" fill="#fdc47a" stroke="none" stroke-width="0.8"/>
<rect x="290.30" y="658.66" width="49.20" height="6.69" fill="#fcbd74" stroke="none" stroke-width="0.8"/>
<rect x="290.30" y="664.75" width="49.20" height="6.69" fill="#fcbd74" stroke="none" stroke-width="0.8"/>
<rect x="290.30" y="670.84" width="49.20" height="6.69" fill="#fba868" stroke="none" stroke-width="0.8"/>
<rect x="290.30" y="676.93" width="49.20" height="6.69" fill="#fbb06c" stroke="none" stroke-width="0.8"/>
<rect x="290.30" y="683.02" width="49.20" height="6.69" fill="#f99a5c" stroke="none" stroke-width="0.8"/>
<rect x="290.30" y="689.11" width="49.20" height="6.69" fill="#fcb46f" stroke="none" stroke-width="0.8"/>
<rect x="290.30" y="695.20" width="49.20" height="6.69" fill="#f99a5c" stroke="none" stroke-width="0.8"/>
<rect x="290.30" y="701.29" width="49.20" height="6.69" fill="#f99a5c" stroke="none" stroke-width="0.8"/>
<rect x="290.30" y="707.38" width="49.20" height="6.69" fill="#f99a5c" stroke="none" stroke-width="0.8"/>
<rect x="290.30" y="713.47" width="49.20" height="6.69" fill="#f8955a" stroke="none" stroke-width="0.8"/>
<rect x="290.30" y="719.56" width="49.20" height="6.69" fill="#f99a5c" stroke="none" stroke-width="0.8"/>
<rect x="290.30" y="725.65" width="49.20" height="6.69" fill="#f99a5c" stroke="none" stroke-width="0.8"/>
<rect x="290.30" y="731.74" width="49.20" height="6.69" fill="#f99a5c" stroke="none" stroke-width="0.8"/>
<rect x="290.30" y="737.83" width="49.20" height="6.69" fill="#fcc079" stroke="none" stroke-width="0.8"/>
<rect x="290.30" y="743.92" width="49.20" height="6.69" fill="#fcc57a" stroke="none" stroke-width="0.8"/>
<rect x="290.30" y="750.01" width="49.20" height="6.69" fill="#fdc97e" stroke="none" stroke-width="0.8"/>
<rect x="290.30" y="756.10" width="49.20" height="6.69" fill="#fcc079" stroke="none" stroke-width="0.8"/>
<rect x="290.30" y="762.19" width="49.20" height="6.69" fill="#fcb36e" stroke="none" stroke-width="0.8"/>
<rect x="290.30" y="768.28" width="49.20" height="6.69" fill="#fba866" stroke="none" stroke-width="0.8"/>
<rect x="290.30" y="774.37" width="49.20" height="6.69" fill="#f88e58" stroke="none" stroke-width="0.8"/>
<rect x="290.30" y="780.46" width="49.20" height="6.69" fill="#f88e58" stroke="none" stroke-width="0.8"/>
<rect x="290.30" y="786.55" width="49.20" height="6.69" fill="#f98f58" stroke="none" stroke-width="0.8"/>
<rect x="290.30" y="792.64" width="49.20" height="6.69" fill="#f47547" stroke="none" stroke-width="0.8"/>
<rect x="290.30" y="798.73" width="49.20" height="6.69" fill="#f47a4a" stroke="none" stroke-width="0.8"/>
<rect x="290.30" y="804.82" width="49.20" height="6.69" fill="#f47a4a" stroke="none" stroke-width="0.8"/>
<rect x="290.30" y="810.91" width="49.20" height="6.69" fill="#f47a4a" stroke="none" stroke-width="0.8"/>
<rect x="290.30" y="817.00" width="49.20" height="6.69" fill="#f47a4a" stroke="none" stroke-width="0.8"/>
<rect x="290.30" y="823.09" width="49.20" height="6.69" fill="#f57f4c" stroke="none" stroke-width="0.8"/>
<rect x="290.30" y="829.18" width="49.20" height="6.69" fill="#f99d5f" stroke="none" stroke-width="0.8"/>
<rect x="290.30" y="835.27" width="49.20" height="6.69" fill="#fba464" stroke="none" stroke-width="0.8"/>
<rect x="290.30" y="841.36" width="49.20" height="6.69" fill="#fba464" stroke="none" stroke-width="0.8"/>
<rect x="290.30" y="847.45" width="49.20" height="6.69" fill="#fba464" stroke="none" stroke-width="0.8"/>
<rect x="290.30" y="853.54" width="49.20" height="6.69" fill="#fba464" stroke="none" stroke-width="0.8"/>
<rect x="290.30" y="859.63" width="49.20" height="6.69" fill="#f99257" stroke="none" stroke-width="0.8"/>
<rect x="290.30" y="865.72" width="49.20" height="6.69" fill="#f88c55" stroke="none" stroke-width="0.8"/>
<rect x="290.30" y="871.81" width="49.20" height="6.69" fill="#f88c55" stroke="none" stroke-width="0.8"/>
<rect x="290.30" y="877.90" width="49.20" height="6.69" fill="#f88c55" stroke="none" stroke-width="0.8"/>
<rect x="290.30" y="883.99" width="49.20" height="6.69" fill="#f99a5c" stroke="none" stroke-width="0.8"/>
<rect x="290.30" y="890.08" width="49.20" height="6.69" fill="#f88c55" stroke="none" stroke-width="0.8"/>
<rect x="290.30" y="896.17" width="49.20" height="6.69" fill="#f88c55" stroke="none" stroke-width="0.8"/>
<rect x="290.30" y="902.26" width="49.20" height="6.69" fill="#f88c55" stroke="none" stroke-width="0.8"/>
<rect x="290.30" y="908.35" width="49.20" height="6.69" fill="#f8895a" stroke="none" stroke-width="0.8"/>
<rect x="290.30" y="914.44" width="49.20" height="6.69" fill="#f67b4b" stroke="none" stroke-width="0.8"/>
<rect x="290.30" y="920.53" width="49.20" height="6.69" fill="#f46d43" stroke="none" stroke-width="0.8"/>
<rect x="290.30" y="926.62" width="49.20" height="6.69" fill="#f47045" stroke="none" stroke-width="0.8"/>
<rect x="290.30" y="932.71" width="49.20" height="6.69" fill="#f47045" stroke="none" stroke-width="0.8"/>
<rect x="290.30" y="938.80" width="49.20" height="6.69" fill="#ef5a3c" stroke="none" stroke-width="0.8"/>
<rect x="290.30" y="944.89" width="49.20" height="6.69" fill="#ef5a3c" stroke="none" stroke-width="0.8"/>
<rect x="290.30" y="950.98" width="49.20" height="6.69" fill="#f0603e" stroke="none" stroke-width="0.8"/>
<rect x="290.30" y="957.07" width="49.20" height="6.69" fill="#f26642" stroke="none" stroke-width="0.8"/>
<rect x="290.30" y="963.16" width="49.20" height="6.69" fill="#f47045" stroke="none" stroke-width="0.8"/>
<rect x="290.30" y="969.25" width="49.20" height="6.69" fill="#5b8cc5" stroke="none" stroke-width="0.8"/>
<rect x="290.30" y="975.34" width="49.20" height="6.69" fill="#e6f3f3" stroke="none" stroke-width="0.8"/>
<rect x="290.30" y="981.43" width="49.20" height="6.69" fill="#a6cbe3" stroke="none" stroke-width="0.8"/>
<rect x="290.30" y="987.52" width="49.20" height="6.69" fill="#fcbd76" stroke="none" stroke-width="0.8"/>
<rect x="290.30" y="993.61" width="49.20" height="6.69" fill="#e6f3f0" stroke="none" stroke-width="0.8"/>
<rect x="290.30" y="999.70" width="49.20" height="6.69" fill="#f5f5d0" stroke="none" stroke-width="0.8"/>
<rect x="290.30" y="1005.79" width="49.20" height="6.69" fill="#faf3c0" stroke="none" stroke-width="0.8"/>
<rect x="290.30" y="1011.88" width="49.20" height="6.69" fill="#faf3c0" stroke="none" stroke-width="0.8"/>
<rect x="290.30" y="1017.97" width="49.20" height="6.69" fill="#faf3c0" stroke="none" stroke-width="0.8"/>
<rect x="290.30" y="1024.06" width="49.20" height="6.69" fill="#faf3c0" stroke="none" stroke-width="0.8"/>
<rect x="290.30" y="1030.15" width="49.20" height="6.69" fill="#faf3c0" stroke="none" stroke-width="0.8"/>
<rect x="290.30" y="1036.24" width="49.20" height="6.69" fill="#fde39a" stroke="none" stroke-width="0.8"/>
<rect x="339.30" y="512.50" width="49.50" height="6.69" fill="#5b8cc4" stroke="none" stroke-width="0.8"/>
<rect x="339.30" y="518.59" width="49.50" height="6.69" fill="#c8e2f0" stroke="none" stroke-width="0.8"/>
<rect x="339.30" y="524.68" width="49.50" height="6.69" fill="#a6cbe3" stroke="none" stroke-width="0.8"/>
<rect x="339.30" y="530.77" width="49.50" height="6.69" fill="#cfe7f2" stroke="none" stroke-width="0.8"/>
<rect x="339.30" y="536.86" width="49.50" height="6.69" fill="#f5f5cf" stroke="none" stroke-width="0.8"/>
<rect x="339.30" y="542.95" width="49.50" height="6.69" fill="#f6f4cc" stroke="none" stroke-width="0.8"/>
<rect x="339.30" y="549.04" width="49.50" height="6.69" fill="#d8ecf5" stroke="none" stroke-width="0.8"/>
<rect x="339.30" y="555.13" width="49.50" height="6.69" fill="#dbeef5" stroke="none" stroke-width="0.8"/>
<rect x="339.30" y="561.22" width="49.50" height="6.69" fill="#e8f4f2" stroke="none" stroke-width="0.8"/>
<rect x="339.30" y="567.31" width="49.50" height="6.69" fill="#a7cbe3" stroke="none" stroke-width="0.8"/>
<rect x="339.30" y="573.40" width="49.50" height="6.69" fill="#b3d4e8" stroke="none" stroke-width="0.8"/>
<rect x="339.30" y="579.49" width="49.50" height="6.69" fill="#fbe59f" stroke="none" stroke-width="0.8"/>
<rect x="339.30" y="585.58" width="49.50" height="6.69" fill="#e9f4f0" stroke="none" stroke-width="0.8"/>
<rect x="339.30" y="591.67" width="49.50" height="6.69" fill="#f5f5d2" stroke="none" stroke-width="0.8"/>
<rect x="339.30" y="597.76" width="49.50" height="6.69" fill="#f5f5d2" stroke="none" stroke-width="0.8"/>
<rect x="339.30" y="603.85" width="49.50" height="6.69" fill="#f5f5d2" stroke="none" stroke-width="0.8"/>
<rect x="339.30" y="609.94" width="49.50" height="6.69" fill="#f5f5d2" stroke="none" stroke-width="0.8"/>
<rect x="339.30" y="616.03" width="49.50" height="6.69" fill="#f5f5d2" stroke="none" stroke-width="0.8"/>
<rect x="339.30" y="622.12" width="49.50" height="6.69" fill="#f5f5d2" stroke="none" stroke-width="0.8"/>
<rect x="339.30" y="628.21" width="49.50" height="6.69" fill="#f5f5d2" stroke="none" stroke-width="0.8"/>
<rect x="339.30" y="634.30" width="49.50" height="6.69" fill="#f5f5d2" stroke="none" stroke-width="0.8"/>
<rect x="339.30" y="640.39" width="49.50" height="6.69" fill="#e6f3f3" stroke="none" stroke-width="0.8"/>
<rect x="339.30" y="646.48" width="49.50" height="6.69" fill="#eef5ea" stroke="none" stroke-width="0.8"/>
<rect x="339.30" y="652.57" width="49.50" height="6.69" fill="#eef5ea" stroke="none" stroke-width="0.8"/>
<rect x="339.30" y="658.66" width="49.50" height="6.69" fill="#eef5ea" stroke="none" stroke-width="0.8"/>
<rect x="339.30" y="664.75" width="49.50" height="6.69" fill="#d9edf5" stroke="none" stroke-width="0.8"/>
<rect x="339.30" y="670.84" width="49.50" height="6.69" fill="#e2f1f5" stroke="none" stroke-width="0.8"/>
<rect x="339.30" y="676.93" width="49.50" height="6.69" fill="#e2f1f5" stroke="none" stroke-width="0.8"/>
<rect x="339.30" y="683.02" width="49.50" height="6.69" fill="#fbeeb0" stroke="none" stroke-width="0.8"/>
<rect x="339.30" y="689.11" width="49.50" height="6.69" fill="#fbeca8" stroke="none" stroke-width="0.8"/>
<rect x="339.30" y="695.20" width="49.50" height="6.69" fill="#f2f5dc" stroke="none" stroke-width="0.8"/>
<rect x="339.30" y="701.29" width="49.50" height="6.69" fill="#f2f5dc" stroke="none" stroke-width="0.8"/>
<rect x="339.30" y="707.38" width="49.50" height="6.69" fill="#f2f5dc" stroke="none" stroke-width="0.8"/>
<rect x="339.30" y="713.47" width="49.50" height="6.69" fill="#f2f5dc" stroke="none" stroke-width="0.8"/>
<rect x="339.30" y="719.56" width="49.50" height="6.69" fill="#f2f5dc" stroke="none" stroke-width="0.8"/>
<rect x="339.30" y="725.65" width="49.50" height="6.69" fill="#f2f5dc" stroke="none" stroke-width="0.8"/>
<rect x="339.30" y="731.74" width="49.50" height="6.69" fill="#f4f5d8" stroke="none" stroke-width="0.8"/>
<rect x="339.30" y="737.83" width="49.50" height="6.69" fill="#f4f5d8" stroke="none" stroke-width="0.8"/>
<rect x="339.30" y="743.92" width="49.50" height="6.69" fill="#f4f5d8" stroke="none" stroke-width="0.8"/>
<rect x="339.30" y="750.01" width="49.50" height="6.69" fill="#f4f5d8" stroke="none" stroke-width="0.8"/>
<rect x="339.30" y="756.10" width="49.50" height="6.69" fill="#f4f5d8" stroke="none" stroke-width="0.8"/>
<rect x="339.30" y="762.19" width="49.50" height="6.69" fill="#f0f5e2" stroke="none" stroke-width="0.8"/>
<rect x="339.30" y="768.28" width="49.50" height="6.69" fill="#f0f5e2" stroke="none" stroke-width="0.8"/>
<rect x="339.30" y="774.37" width="49.50" height="6.69" fill="#e2f1f5" stroke="none" stroke-width="0.8"/>
<rect x="339.30" y="780.46" width="49.50" height="6.69" fill="#e2f1f5" stroke="none" stroke-width="0.8"/>
<rect x="339.30" y="786.55" width="49.50" height="6.69" fill="#e2f1f5" stroke="none" stroke-width="0.8"/>
<rect x="339.30" y="792.64" width="49.50" height="6.69" fill="#e2f1f5" stroke="none" stroke-width="0.8"/>
<rect x="339.30" y="798.73" width="49.50" height="6.69" fill="#e2f1f5" stroke="none" stroke-width="0.8"/>
<rect x="339.30" y="804.82" width="49.50" height="6.69" fill="#e2f1f5" stroke="none" stroke-width="0.8"/>
<rect x="339.30" y="810.91" width="49.50" height="6.69" fill="#e2f1f5" stroke="none" stroke-width="0.8"/>
<rect x="339.30" y="817.00" width="49.50" height="6.69" fill="#e2f1f5" stroke="none" stroke-width="0.8"/>
<rect x="339.30" y="823.09" width="49.50" height="6.69" fill="#e2f1f5" stroke="none" stroke-width="0.8"/>
<rect x="339.30" y="829.18" width="49.50" height="6.69" fill="#e2f1f5" stroke="none" stroke-width="0.8"/>
<rect x="339.30" y="835.27" width="49.50" height="6.69" fill="#e2f1f5" stroke="none" stroke-width="0.8"/>
<rect x="339.30" y="841.36" width="49.50" height="6.69" fill="#e2f1f5" stroke="none" stroke-width="0.8"/>
<rect x="339.30" y="847.45" width="49.50" height="6.69" fill="#e2f1f5" stroke="none" stroke-width="0.8"/>
<rect x="339.30" y="853.54" width="49.50" height="6.69" fill="#e2f1f5" stroke="none" stroke-width="0.8"/>
<rect x="339.30" y="859.63" width="49.50" height="6.69" fill="#e2f1f5" stroke="none" stroke-width="0.8"/>
<rect x="339.30" y="865.72" width="49.50" height="6.69" fill="#e2f1f5" stroke="none" stroke-width="0.8"/>
<rect x="339.30" y="871.81" width="49.50" height="6.69" fill="#e2f1f5" stroke="none" stroke-width="0.8"/>
<rect x="339.30" y="877.90" width="49.50" height="6.69" fill="#e2f1f5" stroke="none" stroke-width="0.8"/>
<rect x="339.30" y="883.99" width="49.50" height="6.69" fill="#e2f1f5" stroke="none" stroke-width="0.8"/>
<rect x="339.30" y="890.08" width="49.50" height="6.69" fill="#eef5ea" stroke="none" stroke-width="0.8"/>
<rect x="339.30" y="896.17" width="49.50" height="6.69" fill="#eef5ea" stroke="none" stroke-width="0.8"/>
<rect x="339.30" y="902.26" width="49.50" height="6.69" fill="#eef5ea" stroke="none" stroke-width="0.8"/>
<rect x="339.30" y="908.35" width="49.50" height="6.69" fill="#8fbadc" stroke="none" stroke-width="0.8"/>
<rect x="339.30" y="914.44" width="49.50" height="6.69" fill="#eef5e6" stroke="none" stroke-width="0.8"/>
<rect x="339.30" y="920.53" width="49.50" height="6.69" fill="#dbeef5" stroke="none" stroke-width="0.8"/>
<rect x="339.30" y="926.62" width="49.50" height="6.69" fill="#e2f1f5" stroke="none" stroke-width="0.8"/>
<rect x="339.30" y="932.71" width="49.50" height="6.69" fill="#e2f1f5" stroke="none" stroke-width="0.8"/>
<rect x="339.30" y="938.80" width="49.50" height="6.69" fill="#e2f1f5" stroke="none" stroke-width="0.8"/>
<rect x="339.30" y="944.89" width="49.50" height="6.69" fill="#e2f1f5" stroke="none" stroke-width="0.8"/>
<rect x="339.30" y="950.98" width="49.50" height="6.69" fill="#e2f1f5" stroke="none" stroke-width="0.8"/>
<rect x="339.30" y="957.07" width="49.50" height="6.69" fill="#e2f1f5" stroke="none" stroke-width="0.8"/>
<rect x="339.30" y="963.16" width="49.50" height="6.69" fill="#f6f4d2" stroke="none" stroke-width="0.8"/>
<rect x="339.30" y="969.25" width="49.50" height="6.69" fill="#f88c55" stroke="none" stroke-width="0.8"/>
<rect x="339.30" y="975.34" width="49.50" height="6.69" fill="#fba464" stroke="none" stroke-width="0.8"/>
<rect x="339.30" y="981.43" width="49.50" height="6.69" fill="#e03a2e" stroke="none" stroke-width="0.8"/>
<rect x="339.30" y="987.52" width="49.50" height="6.69" fill="#f88c55" stroke="none" stroke-width="0.8"/>
<rect x="339.30" y="993.61" width="49.50" height="6.69" fill="#f99d5f" stroke="none" stroke-width="0.8"/>
<rect x="339.30" y="999.70" width="49.50" height="6.69" fill="#f5f3cc" stroke="none" stroke-width="0.8"/>
<rect x="339.30" y="1005.79" width="49.50" height="6.69" fill="#fdd08a" stroke="none" stroke-width="0.8"/>
<rect x="339.30" y="1011.88" width="49.50" height="6.69" fill="#fde39a" stroke="none" stroke-width="0.8"/>
<rect x="339.30" y="1017.97" width="49.50" height="6.69" fill="#fde39a" stroke="none" stroke-width="0.8"/>
<rect x="339.30" y="1024.06" width="49.50" height="6.69" fill="#fde39a" stroke="none" stroke-width="0.8"/>
<rect x="339.30" y="1030.15" width="49.50" height="6.69" fill="#faf3c0" stroke="none" stroke-width="0.8"/>
<rect x="339.30" y="1036.24" width="49.50" height="6.69" fill="#faf3c0" stroke="none" stroke-width="0.8"/>
<rect x="388.60" y="512.50" width="49.60" height="6.69" fill="#fdd58c" stroke="none" stroke-width="0.8"/>
<rect x="388.60" y="518.59" width="49.60" height="6.69" fill="#f8f4c8" stroke="none" stroke-width="0.8"/>
<rect x="388.60" y="524.68" width="49.60" height="6.69" fill="#faf2c0" stroke="none" stroke-width="0.8"/>
<rect x="388.60" y="530.77" width="49.60" height="6.69" fill="#fdd68e" stroke="none" stroke-width="0.8"/>
<rect x="388.60" y="536.86" width="49.60" height="6.69" fill="#fbf1bd" stroke="none" stroke-width="0.8"/>
<rect x="388.60" y="542.95" width="49.60" height="6.69" fill="#f9f3c4" stroke="none" stroke-width="0.8"/>
<rect x="388.60" y="549.04" width="49.60" height="6.69" fill="#fdd08a" stroke="none" stroke-width="0.8"/>
<rect x="388.60" y="555.13" width="49.60" height="6.69" fill="#faf1c0" stroke="none" stroke-width="0.8"/>
<rect x="388.60" y="561.22" width="49.60" height="6.69" fill="#f88c58" stroke="none" stroke-width="0.8"/>
<rect x="388.60" y="567.31" width="49.60" height="6.69" fill="#e64e3a" stroke="none" stroke-width="0.8"/>
<rect x="388.60" y="573.40" width="49.60" height="6.69" fill="#f47b4a" stroke="none" stroke-width="0.8"/>
<rect x="388.60" y="579.49" width="49.60" height="6.69" fill="#f67e4b" stroke="none" stroke-width="0.8"/>
<rect x="388.60" y="585.58" width="49.60" height="6.69" fill="#d8302a" stroke="none" stroke-width="0.8"/>
<rect x="388.60" y="591.67" width="49.60" height="6.69" fill="#4f80bf" stroke="none" stroke-width="0.8"/>
<rect x="388.60" y="597.76" width="49.60" height="6.69" fill="#5a8cc5" stroke="none" stroke-width="0.8"/>
<rect x="388.60" y="603.85" width="49.60" height="6.69" fill="#4474b4" stroke="none" stroke-width="0.8"/>
<rect x="388.60" y="609.94" width="49.60" height="6.69" fill="#5a8cc5" stroke="none" stroke-width="0.8"/>
<rect x="388.60" y="616.03" width="49.60" height="6.69" fill="#5a8cc5" stroke="none" stroke-width="0.8"/>
<rect x="388.60" y="622.12" width="49.60" height="6.69" fill="#5889c4" stroke="none" stroke-width="0.8"/>
<rect x="388.60" y="628.21" width="49.60" height="6.69" fill="#5586c2" stroke="none" stroke-width="0.8"/>
<rect x="388.60" y="634.30" width="49.60" height="6.69" fill="#5586c2" stroke="none" stroke-width="0.8"/>
<rect x="388.60" y="640.39" width="49.60" height="6.69" fill="#7eb1d9" stroke="none" stroke-width="0.8"/>
<rect x="388.60" y="646.48" width="49.60" height="6.69" fill="#5b8cc5" stroke="none" stroke-width="0.8"/>
<rect x="388.60" y="652.57" width="49.60" height="6.69" fill="#5b8cc5" stroke="none" stroke-width="0.8"/>
<rect x="388.60" y="658.66" width="49.60" height="6.69" fill="#5b8cc5" stroke="none" stroke-width="0.8"/>
<rect x="388.60" y="664.75" width="49.60" height="6.69" fill="#6a9ccf" stroke="none" stroke-width="0.8"/>
<rect x="388.60" y="670.84" width="49.60" height="6.69" fill="#5889c3" stroke="none" stroke-width="0.8"/>
<rect x="388.60" y="676.93" width="49.60" height="6.69" fill="#5889c3" stroke="none" stroke-width="0.8"/>
<rect x="388.60" y="683.02" width="49.60" height="6.69" fill="#4a7bbb" stroke="none" stroke-width="0.8"/>
<rect x="388.60" y="689.11" width="49.60" height="6.69" fill="#4575b4" stroke="none" stroke-width="0.8"/>
<rect x="388.60" y="695.20" width="49.60" height="6.69" fill="#5384c1" stroke="none" stroke-width="0.8"/>
<rect x="388.60" y="701.29" width="49.60" height="6.69" fill="#5384c1" stroke="none" stroke-width="0.8"/>
<rect x="388.60" y="707.38" width="49.60" height="6.69" fill="#5384c1" stroke="none" stroke-width="0.8"/>
<rect x="388.60" y="713.47" width="49.60" height="6.69" fill="#5384c1" stroke="none" stroke-width="0.8"/>
<rect x="388.60" y="719.56" width="49.60" height="6.69" fill="#5384c1" stroke="none" stroke-width="0.8"/>
<rect x="388.60" y="725.65" width="49.60" height="6.69" fill="#5384c1" stroke="none" stroke-width="0.8"/>
<rect x="388.60" y="731.74" width="49.60" height="6.69" fill="#5384c1" stroke="none" stroke-width="0.8"/>
<rect x="388.60" y="737.83" width="49.60" height="6.69" fill="#5384c1" stroke="none" stroke-width="0.8"/>
<rect x="388.60" y="743.92" width="49.60" height="6.69" fill="#5384c1" stroke="none" stroke-width="0.8"/>
<rect x="388.60" y="750.01" width="49.60" height="6.69" fill="#5384c1" stroke="none" stroke-width="0.8"/>
<rect x="388.60" y="756.10" width="49.60" height="6.69" fill="#5384c1" stroke="none" stroke-width="0.8"/>
<rect x="388.60" y="762.19" width="49.60" height="6.69" fill="#5b8cc5" stroke="none" stroke-width="0.8"/>
<rect x="388.60" y="768.28" width="49.60" height="6.69" fill="#4f80bf" stroke="none" stroke-width="0.8"/>
<rect x="388.60" y="774.37" width="49.60" height="6.69" fill="#5b8cc5" stroke="none" stroke-width="0.8"/>
<rect x="388.60" y="780.46" width="49.60" height="6.69" fill="#5b8cc5" stroke="none" stroke-width="0.8"/>
<rect x="388.60" y="786.55" width="49.60" height="6.69" fill="#5b8cc5" stroke="none" stroke-width="0.8"/>
<rect x="388.60" y="792.64" width="49.60" height="6.69" fill="#5b8cc5" stroke="none" stroke-width="0.8"/>
<rect x="388.60" y="798.73" width="49.60" height="6.69" fill="#5b8cc5" stroke="none" stroke-width="0.8"/>
<rect x="388.60" y="804.82" width="49.60" height="6.69" fill="#4f80bf" stroke="none" stroke-width="0.8"/>
<rect x="388.60" y="810.91" width="49.60" height="6.69" fill="#5b8cc5" stroke="none" stroke-width="0.8"/>
<rect x="388.60" y="817.00" width="49.60" height="6.69" fill="#5b8cc5" stroke="none" stroke-width="0.8"/>
<rect x="388.60" y="823.09" width="49.60" height="6.69" fill="#5b8cc5" stroke="none" stroke-width="0.8"/>
<rect x="388.60" y="829.18" width="49.60" height="6.69" fill="#5b8cc5" stroke="none" stroke-width="0.8"/>
<rect x="388.60" y="835.27" width="49.60" height="6.69" fill="#4f80bf" stroke="none" stroke-width="0.8"/>
<rect x="388.60" y="841.36" width="49.60" height="6.69" fill="#5b8cc5" stroke="none" stroke-width="0.8"/>
<rect x="388.60" y="847.45" width="49.60" height="6.69" fill="#5b8cc5" stroke="none" stroke-width="0.8"/>
<rect x="388.60" y="853.54" width="49.60" height="6.69" fill="#5b8cc5" stroke="none" stroke-width="0.8"/>
<rect x="388.60" y="859.63" width="49.60" height="6.69" fill="#5b8cc5" stroke="none" stroke-width="0.8"/>
<rect x="388.60" y="865.72" width="49.60" height="6.69" fill="#5b8cc5" stroke="none" stroke-width="0.8"/>
<rect x="388.60" y="871.81" width="49.60" height="6.69" fill="#5b8cc5" stroke="none" stroke-width="0.8"/>
<rect x="388.60" y="877.90" width="49.60" height="6.69" fill="#5b8cc5" stroke="none" stroke-width="0.8"/>
<rect x="388.60" y="883.99" width="49.60" height="6.69" fill="#5586c2" stroke="none" stroke-width="0.8"/>
<rect x="388.60" y="890.08" width="49.60" height="6.69" fill="#4f80bf" stroke="none" stroke-width="0.8"/>
<rect x="388.60" y="896.17" width="49.60" height="6.69" fill="#4f80bf" stroke="none" stroke-width="0.8"/>
<rect x="388.60" y="902.26" width="49.60" height="6.69" fill="#4f80bf" stroke="none" stroke-width="0.8"/>
<rect x="388.60" y="908.35" width="49.60" height="6.69" fill="#b0d3e8" stroke="none" stroke-width="0.8"/>
<rect x="388.60" y="914.44" width="49.60" height="6.69" fill="#5b8cc5" stroke="none" stroke-width="0.8"/>
<rect x="388.60" y="920.53" width="49.60" height="6.69" fill="#5889c3" stroke="none" stroke-width="0.8"/>
<rect x="388.60" y="926.62" width="49.60" height="6.69" fill="#5889c3" stroke="none" stroke-width="0.8"/>
<rect x="388.60" y="932.71" width="49.60" height="6.69" fill="#5889c3" stroke="none" stroke-width="0.8"/>
<rect x="388.60" y="938.80" width="49.60" height="6.69" fill="#5586c2" stroke="none" stroke-width="0.8"/>
<rect x="388.60" y="944.89" width="49.60" height="6.69" fill="#5586c2" stroke="none" stroke-width="0.8"/>
<rect x="388.60" y="950.98" width="49.60" height="6.69" fill="#5586c2" stroke="none" stroke-width="0.8"/>
<rect x="388.60" y="957.07" width="49.60" height="6.69" fill="#abd0e6" stroke="none" stroke-width="0.8"/>
<rect x="388.60" y="963.16" width="49.60" height="6.69" fill="#5a8cc5" stroke="none" stroke-width="0.8"/>
<rect x="388.60" y="969.25" width="49.60" height="6.69" fill="#eef5e4" stroke="none" stroke-width="0.8"/>
<rect x="388.60" y="975.34" width="49.60" height="6.69" fill="#eef5e4" stroke="none" stroke-width="0.8"/>
<rect x="388.60" y="981.43" width="49.60" height="6.69" fill="#eef5e4" stroke="none" stroke-width="0.8"/>
<rect x="388.60" y="987.52" width="49.60" height="6.69" fill="#5a8cc5" stroke="none" stroke-width="0.8"/>
<rect x="388.60" y="993.61" width="49.60" height="6.69" fill="#5a8cc5" stroke="none" stroke-width="0.8"/>
<rect x="388.60" y="999.70" width="49.60" height="6.69" fill="#b0d3e8" stroke="none" stroke-width="0.8"/>
<rect x="388.60" y="1005.79" width="49.60" height="6.69" fill="#4575b4" stroke="none" stroke-width="0.8"/>
<rect x="388.60" y="1011.88" width="49.60" height="6.69" fill="#5586c2" stroke="none" stroke-width="0.8"/>
<rect x="388.60" y="1017.97" width="49.60" height="6.69" fill="#5586c2" stroke="none" stroke-width="0.8"/>
<rect x="388.60" y="1024.06" width="49.60" height="6.69" fill="#5586c2" stroke="none" stroke-width="0.8"/>
<rect x="388.60" y="1030.15" width="49.60" height="6.69" fill="#5586c2" stroke="none" stroke-width="0.8"/>
<rect x="388.60" y="1036.24" width="49.60" height="6.69" fill="#5586c2" stroke="none" stroke-width="0.8"/>
<line x1="241.80" y1="512.50" x2="241.80" y2="1042.33" stroke="#6b6b55" stroke-width="0.6"/>
<line x1="290.30" y1="512.50" x2="290.30" y2="1042.33" stroke="#6b6b55" stroke-width="0.6"/>
<line x1="339.30" y1="512.50" x2="339.30" y2="1042.33" stroke="#6b6b55" stroke-width="0.6"/>
<line x1="388.60" y1="512.50" x2="388.60" y2="1042.33" stroke="#6b6b55" stroke-width="0.6"/>
<line x1="438.00" y1="512.50" x2="438.00" y2="1042.33" stroke="#6b6b55" stroke-width="0.6"/>
<line x1="241.80" y1="512.50" x2="438.00" y2="512.50" stroke="#8a8a70" stroke-width="0.5"/>
<text x="439.80" y="517.88" font-size="6.5" font-style="italic" fill="#231f20" stroke="#231f20">EPS8</text>
<text x="439.80" y="523.98" font-size="6.5" font-style="italic" fill="#231f20" stroke="#231f20">CYP1B1</text>
<text x="439.80" y="530.07" font-size="6.5" font-style="italic" fill="#231f20" stroke="#231f20">ID1</text>
<text x="439.80" y="536.16" font-size="6.5" font-style="italic" fill="#231f20" stroke="#231f20">SAT1</text>
<text x="439.80" y="542.25" font-size="6.5" font-style="italic" fill="#231f20" stroke="#231f20">NPC1</text>
<text x="439.80" y="548.34" font-size="6.5" font-style="italic" fill="#231f20" stroke="#231f20">CTDSP1</text>
<text x="439.80" y="554.43" font-size="6.5" font-style="italic" fill="#231f20" stroke="#231f20">S100A11</text>
<text x="439.80" y="560.51" font-size="6.5" font-style="italic" fill="#231f20" stroke="#231f20">PIR</text>
<text x="439.80" y="566.61" font-size="6.5" font-style="italic" fill="#231f20" stroke="#231f20">MAP1LC3B</text>
<text x="439.80" y="572.70" font-size="6.5" font-style="italic" fill="#231f20" stroke="#231f20">TNFAIP2</text>
<text x="439.80" y="578.79" font-size="6.5" font-style="italic" fill="#231f20" stroke="#231f20">RAB27B</text>
<text x="439.80" y="584.88" font-size="6.5" font-style="italic" fill="#231f20" stroke="#231f20">TNFAIP3</text>
<text x="439.80" y="590.97" font-size="6.5" font-style="italic" fill="#231f20" stroke="#231f20">CCND1</text>
<text x="439.80" y="597.06" font-size="6.5" font-style="italic" fill="#231f20" stroke="#231f20">TYMS</text>
<text x="439.80" y="603.14" font-size="6.5" font-style="italic" fill="#231f20" stroke="#231f20">DNMT1</text>
<text x="439.80" y="609.24" font-size="6.5" font-style="italic" fill="#231f20" stroke="#231f20">SMC4</text>
<text x="439.80" y="615.33" font-size="6.5" font-style="italic" fill="#231f20" stroke="#231f20">RHNO1</text>
<text x="439.80" y="621.42" font-size="6.5" font-style="italic" fill="#231f20" stroke="#231f20">DUT</text>
<text x="439.80" y="627.50" font-size="6.5" font-style="italic" fill="#231f20" stroke="#231f20">CHEK1</text>
<text x="439.80" y="633.60" font-size="6.5" font-style="italic" fill="#231f20" stroke="#231f20">TK1</text>
<text x="439.80" y="639.69" font-size="6.5" font-style="italic" fill="#231f20" stroke="#231f20">USP1</text>
<text x="439.80" y="645.77" font-size="6.5" font-style="italic" fill="#231f20" stroke="#231f20">ORC6</text>
<text x="439.80" y="651.87" font-size="6.5" font-style="italic" fill="#231f20" stroke="#231f20">CDKN3</text>
<text x="439.80" y="657.96" font-size="6.5" font-style="italic" fill="#231f20" stroke="#231f20">RAD51AP1</text>
<text x="439.80" y="664.04" font-size="6.5" font-style="italic" fill="#231f20" stroke="#231f20">HELLS</text>
<text x="439.80" y="670.13" font-size="6.5" font-style="italic" fill="#231f20" stroke="#231f20">SPC25</text>
<text x="439.80" y="676.23" font-size="6.5" font-style="italic" fill="#231f20" stroke="#231f20">FOXM1</text>
<text x="439.80" y="682.32" font-size="6.5" font-style="italic" fill="#231f20" stroke="#231f20">KIF11</text>
<text x="439.80" y="688.41" font-size="6.5" font-style="italic" fill="#231f20" stroke="#231f20">WEE1</text>
<text x="439.80" y="694.50" font-size="6.5" font-style="italic" fill="#231f20" stroke="#231f20">RNASEH2A</text>
<text x="439.80" y="700.59" font-size="6.5" font-style="italic" fill="#231f20" stroke="#231f20">CENPM</text>
<text x="439.80" y="706.68" font-size="6.5" font-style="italic" fill="#231f20" stroke="#231f20">ASF1B</text>
<text x="439.80" y="712.76" font-size="6.5" font-style="italic" fill="#231f20" stroke="#231f20">LMNB1</text>
<text x="439.80" y="718.86" font-size="6.5" font-style="italic" fill="#231f20" stroke="#231f20">EZH2</text>
<text x="439.80" y="724.95" font-size="6.5" font-style="italic" fill="#231f20" stroke="#231f20">CCNB1</text>
<text x="439.80" y="731.03" font-size="6.5" font-style="italic" fill="#231f20" stroke="#231f20">MYBL2</text>
<text x="439.80" y="737.12" font-size="6.5" font-style="italic" fill="#231f20" stroke="#231f20">HMMR</text>
<text x="439.80" y="743.22" font-size="6.5" font-style="italic" fill="#231f20" stroke="#231f20">EXO1</text>
<text x="439.80" y="749.31" font-size="6.5" font-style="italic" fill="#231f20" stroke="#231f20">PRC1</text>
<text x="439.80" y="755.40" font-size="6.5" font-style="italic" fill="#231f20" stroke="#231f20">IQGAP3</text>
<text x="439.80" y="761.49" font-size="6.5" font-style="italic" fill="#231f20" stroke="#231f20">FBXO5</text>
<text x="439.80" y="767.58" font-size="6.5" font-style="italic" fill="#231f20" stroke="#231f20">DEK</text>
<text x="439.80" y="773.67" font-size="6.5" font-style="italic" fill="#231f20" stroke="#231f20">CCNB2</text>
<text x="439.80" y="779.75" font-size="6.5" font-style="italic" fill="#231f20" stroke="#231f20">TOP2A</text>
<text x="439.80" y="785.85" font-size="6.5" font-style="italic" fill="#231f20" stroke="#231f20">DEPDC1B</text>
<text x="439.80" y="791.94" font-size="6.5" font-style="italic" fill="#231f20" stroke="#231f20">AURKA</text>
<text x="439.80" y="798.02" font-size="6.5" font-style="italic" fill="#231f20" stroke="#231f20">NUSAP1</text>
<text x="439.80" y="804.12" font-size="6.5" font-style="italic" fill="#231f20" stroke="#231f20">NCAPD2</text>
<text x="439.80" y="810.21" font-size="6.5" font-style="italic" fill="#231f20" stroke="#231f20">HMGB2</text>
<text x="439.80" y="816.29" font-size="6.5" font-style="italic" fill="#231f20" stroke="#231f20">HMGN2</text>
<text x="439.80" y="822.39" font-size="6.5" font-style="italic" fill="#231f20" stroke="#231f20">FAM83D</text>
<text x="439.80" y="828.48" font-size="6.5" font-style="italic" fill="#231f20" stroke="#231f20">UBE2C</text>
<text x="439.80" y="834.56" font-size="6.5" font-style="italic" fill="#231f20" stroke="#231f20">NUF2</text>
<text x="439.80" y="840.66" font-size="6.5" font-style="italic" fill="#231f20" stroke="#231f20">CCNA2</text>
<text x="439.80" y="846.75" font-size="6.5" font-style="italic" fill="#231f20" stroke="#231f20">DLGAP5</text>
<text x="439.80" y="852.84" font-size="6.5" font-style="italic" fill="#231f20" stroke="#231f20">NUCKS1</text>
<text x="439.80" y="858.93" font-size="6.5" font-style="italic" fill="#231f20" stroke="#231f20">CDK1</text>
<text x="439.80" y="865.01" font-size="6.5" font-style="italic" fill="#231f20" stroke="#231f20">TMPO</text>
<text x="439.80" y="871.11" font-size="6.5" font-style="italic" fill="#231f20" stroke="#231f20">STMN1</text>
<text x="439.80" y="877.20" font-size="6.5" font-style="italic" fill="#231f20" stroke="#231f20">SPC24</text>
<text x="439.80" y="883.28" font-size="6.5" font-style="italic" fill="#231f20" stroke="#231f20">KIF20A</text>
<text x="439.80" y="889.38" font-size="6.5" font-style="italic" fill="#231f20" stroke="#231f20">MKI67</text>
<text x="439.80" y="895.47" font-size="6.5" font-style="italic" fill="#231f20" stroke="#231f20">KIF2C</text>
<text x="439.80" y="901.55" font-size="6.5" font-style="italic" fill="#231f20" stroke="#231f20">BUB1B</text>
<text x="439.80" y="907.65" font-size="6.5" font-style="italic" fill="#231f20" stroke="#231f20">BIRC5</text>
<text x="439.80" y="913.74" font-size="6.5" font-style="italic" fill="#231f20" stroke="#231f20">CDKN1A</text>
<text x="439.80" y="919.83" font-size="6.5" font-style="italic" fill="#231f20" stroke="#231f20">FAM111B</text>
<text x="439.80" y="925.92" font-size="6.5" font-style="italic" fill="#231f20" stroke="#231f20">AURKB</text>
<text x="439.80" y="932.00" font-size="6.5" font-style="italic" fill="#231f20" stroke="#231f20">PLK1</text>
<text x="439.80" y="938.10" font-size="6.5" font-style="italic" fill="#231f20" stroke="#231f20">CDCA3</text>
<text x="439.80" y="944.19" font-size="6.5" font-style="italic" fill="#231f20" stroke="#231f20">CDC20</text>
<text x="439.80" y="950.27" font-size="6.5" font-style="italic" fill="#231f20" stroke="#231f20">HMGB3</text>
<text x="439.80" y="956.37" font-size="6.5" font-style="italic" fill="#231f20" stroke="#231f20">CENPA</text>
<text x="439.80" y="962.46" font-size="6.5" font-style="italic" fill="#231f20" stroke="#231f20">IMPA2</text>
<text x="439.80" y="968.54" font-size="6.5" font-style="italic" fill="#231f20" stroke="#231f20">CDK2</text>
<text x="439.80" y="974.64" font-size="6.5" font-style="italic" fill="#231f20" stroke="#231f20">OPTN</text>
<text x="439.80" y="980.73" font-size="6.5" font-style="italic" fill="#231f20" stroke="#231f20">SQSTM1</text>
<text x="439.80" y="986.81" font-size="6.5" font-style="italic" fill="#231f20" stroke="#231f20">RNF149</text>
<text x="439.80" y="992.91" font-size="6.5" font-style="italic" fill="#231f20" stroke="#231f20">COMMD4</text>
<text x="439.80" y="999.00" font-size="6.5" font-style="italic" fill="#231f20" stroke="#231f20">CCNE1</text>
<text x="439.80" y="1005.09" font-size="6.5" font-style="italic" fill="#231f20" stroke="#231f20">POLE2</text>
<text x="439.80" y="1011.18" font-size="6.5" font-style="italic" fill="#231f20" stroke="#231f20">NEURL1B</text>
<text x="439.80" y="1017.26" font-size="6.5" font-style="italic" fill="#231f20" stroke="#231f20">MCM6</text>
<text x="439.80" y="1023.36" font-size="6.5" font-style="italic" fill="#231f20" stroke="#231f20">CDK4</text>
<text x="439.80" y="1029.44" font-size="6.5" font-style="italic" fill="#231f20" stroke="#231f20">NASP</text>
<text x="439.80" y="1035.53" font-size="6.5" font-style="italic" fill="#231f20" stroke="#231f20">MCM3</text>
<text x="439.80" y="1041.62" font-size="6.5" font-style="italic" fill="#231f20" stroke="#231f20">HMGA1</text>
<text transform="translate(264.10 508.5) rotate(-30)" font-size="8.6" fill="#231f20" stroke="#231f20">Vehicle</text>
<text transform="translate(312.90 508.5) rotate(-30)" font-size="8.6" fill="#231f20" stroke="#231f20">VTP-50469</text>
<text transform="translate(362.30 508.5) rotate(-30)" font-size="8.6" fill="#231f20" stroke="#231f20">Palbociclib</text>
<text transform="translate(411.60 508.5) rotate(-30)" font-size="8.6" fill="#231f20" stroke="#231f20">VTP + Palbo</text>
<defs><linearGradient id="zg" x1="0" y1="0" x2="0" y2="1"><stop offset="0" stop-color="#d73027"/><stop offset="0.1" stop-color="#f46d43"/><stop offset="0.25" stop-color="#fdae61"/><stop offset="0.38" stop-color="#fee090"/><stop offset="0.5" stop-color="#ffffbf"/><stop offset="0.62" stop-color="#e0f3f8"/><stop offset="0.75" stop-color="#abd9e9"/><stop offset="0.88" stop-color="#74add1"/><stop offset="1.0" stop-color="#4575b4"/></linearGradient></defs>
<rect x="477.70" y="512.50" width="4.80" height="83.70" fill="url(#zg)" stroke="none" stroke-width="0.8"/>
<text x="484.80" y="528.14" font-size="7.6" fill="#231f20" stroke="#231f20">1</text>
<text x="484.80" y="542.74" font-size="7.6" fill="#231f20" stroke="#231f20">0.5</text>
<text x="484.80" y="556.54" font-size="7.6" fill="#231f20" stroke="#231f20">0</text>
<text x="484.80" y="571.04" font-size="7.6" fill="#231f20" stroke="#231f20">−0.5</text>
<text x="484.80" y="585.04" font-size="7.6" fill="#231f20" stroke="#231f20">−1</text>
<text x="484.80" y="597.94" font-size="7.6" fill="#231f20" stroke="#231f20">−1.5</text>
<text transform="translate(507.5 556) rotate(90)" font-size="7.6" fill="#231f20" stroke="#231f20" text-anchor="middle" y="2.7"><tspan font-style="italic">z</tspan>-score</text>
<line x1="238.60" y1="521.63" x2="238.60" y2="527.73" stroke="#6f6f6f" stroke-width="0.55"/>
<line x1="238.60" y1="521.63" x2="241.40" y2="521.63" stroke="#6f6f6f" stroke-width="0.55"/>
<line x1="238.60" y1="527.73" x2="241.40" y2="527.73" stroke="#6f6f6f" stroke-width="0.55"/>
<line x1="233.70" y1="515.54" x2="233.70" y2="524.68" stroke="#6f6f6f" stroke-width="0.55"/>
<line x1="233.70" y1="515.54" x2="241.40" y2="515.54" stroke="#6f6f6f" stroke-width="0.55"/>
<line x1="233.70" y1="524.68" x2="238.60" y2="524.68" stroke="#6f6f6f" stroke-width="0.55"/>
<line x1="237.20" y1="533.82" x2="237.20" y2="539.90" stroke="#6f6f6f" stroke-width="0.55"/>
<line x1="237.20" y1="533.82" x2="241.40" y2="533.82" stroke="#6f6f6f" stroke-width="0.55"/>
<line x1="237.20" y1="539.90" x2="241.40" y2="539.90" stroke="#6f6f6f" stroke-width="0.55"/>
<line x1="236.80" y1="552.09" x2="236.80" y2="558.17" stroke="#6f6f6f" stroke-width="0.55"/>
<line x1="236.80" y1="552.09" x2="241.40" y2="552.09" stroke="#6f6f6f" stroke-width="0.55"/>
<line x1="236.80" y1="558.17" x2="241.40" y2="558.17" stroke="#6f6f6f" stroke-width="0.55"/>
<line x1="234.10" y1="546.00" x2="234.10" y2="555.13" stroke="#6f6f6f" stroke-width="0.55"/>
<line x1="234.10" y1="546.00" x2="241.40" y2="546.00" stroke="#6f6f6f" stroke-width="0.55"/>
<line x1="234.10" y1="555.13" x2="236.80" y2="555.13" stroke="#6f6f6f" stroke-width="0.55"/>
<line x1="231.50" y1="536.86" x2="231.50" y2="550.56" stroke="#6f6f6f" stroke-width="0.55"/>
<line x1="231.50" y1="536.86" x2="237.20" y2="536.86" stroke="#6f6f6f" stroke-width="0.55"/>
<line x1="231.50" y1="550.56" x2="234.10" y2="550.56" stroke="#6f6f6f" stroke-width="0.55"/>
<line x1="238.60" y1="570.36" x2="238.60" y2="576.45" stroke="#6f6f6f" stroke-width="0.55"/>
<line x1="238.60" y1="570.36" x2="241.40" y2="570.36" stroke="#6f6f6f" stroke-width="0.55"/>
<line x1="238.60" y1="576.45" x2="241.40" y2="576.45" stroke="#6f6f6f" stroke-width="0.55"/>
<line x1="236.30" y1="564.26" x2="236.30" y2="573.40" stroke="#6f6f6f" stroke-width="0.55"/>
<line x1="236.30" y1="564.26" x2="241.40" y2="564.26" stroke="#6f6f6f" stroke-width="0.55"/>
<line x1="236.30" y1="573.40" x2="238.60" y2="573.40" stroke="#6f6f6f" stroke-width="0.55"/>
<line x1="234.60" y1="582.53" x2="234.60" y2="588.62" stroke="#6f6f6f" stroke-width="0.55"/>
<line x1="234.60" y1="582.53" x2="241.40" y2="582.53" stroke="#6f6f6f" stroke-width="0.55"/>
<line x1="234.60" y1="588.62" x2="241.40" y2="588.62" stroke="#6f6f6f" stroke-width="0.55"/>
<line x1="228.40" y1="568.83" x2="228.40" y2="585.58" stroke="#6f6f6f" stroke-width="0.55"/>
<line x1="228.40" y1="568.83" x2="236.30" y2="568.83" stroke="#6f6f6f" stroke-width="0.55"/>
<line x1="228.40" y1="585.58" x2="234.60" y2="585.58" stroke="#6f6f6f" stroke-width="0.55"/>
<line x1="224.20" y1="543.71" x2="224.20" y2="577.21" stroke="#6f6f6f" stroke-width="0.55"/>
<line x1="224.20" y1="543.71" x2="231.50" y2="543.71" stroke="#6f6f6f" stroke-width="0.55"/>
<line x1="224.20" y1="577.21" x2="228.40" y2="577.21" stroke="#6f6f6f" stroke-width="0.55"/>
<line x1="222.20" y1="520.11" x2="222.20" y2="560.46" stroke="#6f6f6f" stroke-width="0.55"/>
<line x1="222.20" y1="520.11" x2="233.70" y2="520.11" stroke="#6f6f6f" stroke-width="0.55"/>
<line x1="222.20" y1="560.46" x2="224.20" y2="560.46" stroke="#6f6f6f" stroke-width="0.55"/>
<line x1="240.79" y1="594.72" x2="240.79" y2="600.80" stroke="#6f6f6f" stroke-width="0.55"/>
<line x1="240.79" y1="594.72" x2="241.40" y2="594.72" stroke="#6f6f6f" stroke-width="0.55"/>
<line x1="240.79" y1="600.80" x2="241.40" y2="600.80" stroke="#6f6f6f" stroke-width="0.55"/>
<line x1="239.89" y1="597.76" x2="239.89" y2="606.89" stroke="#6f6f6f" stroke-width="0.55"/>
<line x1="239.89" y1="597.76" x2="240.79" y2="597.76" stroke="#6f6f6f" stroke-width="0.55"/>
<line x1="239.89" y1="606.89" x2="241.40" y2="606.89" stroke="#6f6f6f" stroke-width="0.55"/>
<line x1="240.58" y1="612.99" x2="240.58" y2="619.08" stroke="#6f6f6f" stroke-width="0.55"/>
<line x1="240.58" y1="612.99" x2="241.40" y2="612.99" stroke="#6f6f6f" stroke-width="0.55"/>
<line x1="240.58" y1="619.08" x2="241.40" y2="619.08" stroke="#6f6f6f" stroke-width="0.55"/>
<line x1="240.14" y1="616.03" x2="240.14" y2="625.16" stroke="#6f6f6f" stroke-width="0.55"/>
<line x1="240.14" y1="616.03" x2="240.58" y2="616.03" stroke="#6f6f6f" stroke-width="0.55"/>
<line x1="240.14" y1="625.16" x2="241.40" y2="625.16" stroke="#6f6f6f" stroke-width="0.55"/>
<line x1="239.04" y1="620.60" x2="239.04" y2="631.25" stroke="#6f6f6f" stroke-width="0.55"/>
<line x1="239.04" y1="620.60" x2="240.14" y2="620.60" stroke="#6f6f6f" stroke-width="0.55"/>
<line x1="239.04" y1="631.25" x2="241.40" y2="631.25" stroke="#6f6f6f" stroke-width="0.55"/>
<line x1="238.69" y1="602.33" x2="238.69" y2="625.93" stroke="#6f6f6f" stroke-width="0.55"/>
<line x1="238.69" y1="602.33" x2="239.89" y2="602.33" stroke="#6f6f6f" stroke-width="0.55"/>
<line x1="238.69" y1="625.93" x2="239.04" y2="625.93" stroke="#6f6f6f" stroke-width="0.55"/>
<line x1="240.66" y1="637.35" x2="240.66" y2="643.43" stroke="#6f6f6f" stroke-width="0.55"/>
<line x1="240.66" y1="637.35" x2="241.40" y2="637.35" stroke="#6f6f6f" stroke-width="0.55"/>
<line x1="240.66" y1="643.43" x2="241.40" y2="643.43" stroke="#6f6f6f" stroke-width="0.55"/>
<line x1="237.64" y1="614.13" x2="237.64" y2="640.39" stroke="#6f6f6f" stroke-width="0.55"/>
<line x1="237.64" y1="614.13" x2="238.69" y2="614.13" stroke="#6f6f6f" stroke-width="0.55"/>
<line x1="237.64" y1="640.39" x2="240.66" y2="640.39" stroke="#6f6f6f" stroke-width="0.55"/>
<line x1="240.61" y1="661.70" x2="240.61" y2="667.79" stroke="#6f6f6f" stroke-width="0.55"/>
<line x1="240.61" y1="661.70" x2="241.40" y2="661.70" stroke="#6f6f6f" stroke-width="0.55"/>
<line x1="240.61" y1="667.79" x2="241.40" y2="667.79" stroke="#6f6f6f" stroke-width="0.55"/>
<line x1="239.79" y1="655.62" x2="239.79" y2="664.75" stroke="#6f6f6f" stroke-width="0.55"/>
<line x1="239.79" y1="655.62" x2="241.40" y2="655.62" stroke="#6f6f6f" stroke-width="0.55"/>
<line x1="239.79" y1="664.75" x2="240.61" y2="664.75" stroke="#6f6f6f" stroke-width="0.55"/>
<line x1="239.49" y1="649.52" x2="239.49" y2="660.18" stroke="#6f6f6f" stroke-width="0.55"/>
<line x1="239.49" y1="649.52" x2="241.40" y2="649.52" stroke="#6f6f6f" stroke-width="0.55"/>
<line x1="239.49" y1="660.18" x2="239.79" y2="660.18" stroke="#6f6f6f" stroke-width="0.55"/>
<line x1="240.75" y1="673.88" x2="240.75" y2="679.98" stroke="#6f6f6f" stroke-width="0.55"/>
<line x1="240.75" y1="673.88" x2="241.40" y2="673.88" stroke="#6f6f6f" stroke-width="0.55"/>
<line x1="240.75" y1="679.98" x2="241.40" y2="679.98" stroke="#6f6f6f" stroke-width="0.55"/>
<line x1="239.02" y1="654.85" x2="239.02" y2="676.93" stroke="#6f6f6f" stroke-width="0.55"/>
<line x1="239.02" y1="654.85" x2="239.49" y2="654.85" stroke="#6f6f6f" stroke-width="0.55"/>
<line x1="239.02" y1="676.93" x2="240.75" y2="676.93" stroke="#6f6f6f" stroke-width="0.55"/>
<line x1="236.84" y1="627.26" x2="236.84" y2="665.89" stroke="#6f6f6f" stroke-width="0.55"/>
<line x1="236.84" y1="627.26" x2="237.64" y2="627.26" stroke="#6f6f6f" stroke-width="0.55"/>
<line x1="236.84" y1="665.89" x2="239.02" y2="665.89" stroke="#6f6f6f" stroke-width="0.55"/>
<line x1="240.80" y1="686.07" x2="240.80" y2="692.15" stroke="#6f6f6f" stroke-width="0.55"/>
<line x1="240.80" y1="686.07" x2="241.40" y2="686.07" stroke="#6f6f6f" stroke-width="0.55"/>
<line x1="240.80" y1="692.15" x2="241.40" y2="692.15" stroke="#6f6f6f" stroke-width="0.55"/>
<line x1="240.03" y1="689.11" x2="240.03" y2="698.25" stroke="#6f6f6f" stroke-width="0.55"/>
<line x1="240.03" y1="689.11" x2="240.80" y2="689.11" stroke="#6f6f6f" stroke-width="0.55"/>
<line x1="240.03" y1="698.25" x2="241.40" y2="698.25" stroke="#6f6f6f" stroke-width="0.55"/>
<line x1="240.76" y1="704.34" x2="240.76" y2="710.42" stroke="#6f6f6f" stroke-width="0.55"/>
<line x1="240.76" y1="704.34" x2="241.40" y2="704.34" stroke="#6f6f6f" stroke-width="0.55"/>
<line x1="240.76" y1="710.42" x2="241.40" y2="710.42" stroke="#6f6f6f" stroke-width="0.55"/>
<line x1="239.67" y1="693.68" x2="239.67" y2="707.38" stroke="#6f6f6f" stroke-width="0.55"/>
<line x1="239.67" y1="693.68" x2="240.03" y2="693.68" stroke="#6f6f6f" stroke-width="0.55"/>
<line x1="239.67" y1="707.38" x2="240.76" y2="707.38" stroke="#6f6f6f" stroke-width="0.55"/>
<line x1="240.91" y1="728.69" x2="240.91" y2="734.78" stroke="#6f6f6f" stroke-width="0.55"/>
<line x1="240.91" y1="728.69" x2="241.40" y2="728.69" stroke="#6f6f6f" stroke-width="0.55"/>
<line x1="240.91" y1="734.78" x2="241.40" y2="734.78" stroke="#6f6f6f" stroke-width="0.55"/>
<line x1="240.21" y1="722.61" x2="240.21" y2="731.74" stroke="#6f6f6f" stroke-width="0.55"/>
<line x1="240.21" y1="722.61" x2="241.40" y2="722.61" stroke="#6f6f6f" stroke-width="0.55"/>
<line x1="240.21" y1="731.74" x2="240.91" y2="731.74" stroke="#6f6f6f" stroke-width="0.55"/>
<line x1="240.86" y1="746.97" x2="240.86" y2="753.06" stroke="#6f6f6f" stroke-width="0.55"/>
<line x1="240.86" y1="746.97" x2="241.40" y2="746.97" stroke="#6f6f6f" stroke-width="0.55"/>
<line x1="240.86" y1="753.06" x2="241.40" y2="753.06" stroke="#6f6f6f" stroke-width="0.55"/>
<line x1="240.17" y1="740.88" x2="240.17" y2="750.01" stroke="#6f6f6f" stroke-width="0.55"/>
<line x1="240.17" y1="740.88" x2="241.40" y2="740.88" stroke="#6f6f6f" stroke-width="0.55"/>
<line x1="240.17" y1="750.01" x2="240.86" y2="750.01" stroke="#6f6f6f" stroke-width="0.55"/>
<line x1="239.27" y1="745.44" x2="239.27" y2="759.14" stroke="#6f6f6f" stroke-width="0.55"/>
<line x1="239.27" y1="745.44" x2="240.17" y2="745.44" stroke="#6f6f6f" stroke-width="0.55"/>
<line x1="239.27" y1="759.14" x2="241.40" y2="759.14" stroke="#6f6f6f" stroke-width="0.55"/>
<line x1="238.97" y1="727.17" x2="238.97" y2="752.29" stroke="#6f6f6f" stroke-width="0.55"/>
<line x1="238.97" y1="727.17" x2="240.21" y2="727.17" stroke="#6f6f6f" stroke-width="0.55"/>
<line x1="238.97" y1="752.29" x2="239.27" y2="752.29" stroke="#6f6f6f" stroke-width="0.55"/>
<line x1="240.86" y1="765.24" x2="240.86" y2="771.33" stroke="#6f6f6f" stroke-width="0.55"/>
<line x1="240.86" y1="765.24" x2="241.40" y2="765.24" stroke="#6f6f6f" stroke-width="0.55"/>
<line x1="240.86" y1="771.33" x2="241.40" y2="771.33" stroke="#6f6f6f" stroke-width="0.55"/>
<line x1="240.06" y1="768.28" x2="240.06" y2="777.41" stroke="#6f6f6f" stroke-width="0.55"/>
<line x1="240.06" y1="768.28" x2="240.86" y2="768.28" stroke="#6f6f6f" stroke-width="0.55"/>
<line x1="240.06" y1="777.41" x2="241.40" y2="777.41" stroke="#6f6f6f" stroke-width="0.55"/>
<line x1="238.67" y1="739.73" x2="238.67" y2="772.85" stroke="#6f6f6f" stroke-width="0.55"/>
<line x1="238.67" y1="739.73" x2="238.97" y2="739.73" stroke="#6f6f6f" stroke-width="0.55"/>
<line x1="238.67" y1="772.85" x2="240.06" y2="772.85" stroke="#6f6f6f" stroke-width="0.55"/>
<line x1="237.65" y1="716.51" x2="237.65" y2="756.29" stroke="#6f6f6f" stroke-width="0.55"/>
<line x1="237.65" y1="716.51" x2="241.40" y2="716.51" stroke="#6f6f6f" stroke-width="0.55"/>
<line x1="237.65" y1="756.29" x2="238.67" y2="756.29" stroke="#6f6f6f" stroke-width="0.55"/>
<line x1="240.76" y1="783.50" x2="240.76" y2="789.60" stroke="#6f6f6f" stroke-width="0.55"/>
<line x1="240.76" y1="783.50" x2="241.40" y2="783.50" stroke="#6f6f6f" stroke-width="0.55"/>
<line x1="240.76" y1="789.60" x2="241.40" y2="789.60" stroke="#6f6f6f" stroke-width="0.55"/>
<line x1="240.88" y1="795.68" x2="240.88" y2="801.77" stroke="#6f6f6f" stroke-width="0.55"/>
<line x1="240.88" y1="795.68" x2="241.40" y2="795.68" stroke="#6f6f6f" stroke-width="0.55"/>
<line x1="240.88" y1="801.77" x2="241.40" y2="801.77" stroke="#6f6f6f" stroke-width="0.55"/>
<line x1="240.39" y1="798.73" x2="240.39" y2="807.87" stroke="#6f6f6f" stroke-width="0.55"/>
<line x1="240.39" y1="798.73" x2="240.88" y2="798.73" stroke="#6f6f6f" stroke-width="0.55"/>
<line x1="240.39" y1="807.87" x2="241.40" y2="807.87" stroke="#6f6f6f" stroke-width="0.55"/>
<line x1="239.55" y1="786.55" x2="239.55" y2="803.30" stroke="#6f6f6f" stroke-width="0.55"/>
<line x1="239.55" y1="786.55" x2="240.76" y2="786.55" stroke="#6f6f6f" stroke-width="0.55"/>
<line x1="239.55" y1="803.30" x2="240.39" y2="803.30" stroke="#6f6f6f" stroke-width="0.55"/>
<line x1="238.73" y1="794.92" x2="238.73" y2="813.95" stroke="#6f6f6f" stroke-width="0.55"/>
<line x1="238.73" y1="794.92" x2="239.55" y2="794.92" stroke="#6f6f6f" stroke-width="0.55"/>
<line x1="238.73" y1="813.95" x2="241.40" y2="813.95" stroke="#6f6f6f" stroke-width="0.55"/>
<line x1="237.35" y1="736.40" x2="237.35" y2="804.44" stroke="#6f6f6f" stroke-width="0.55"/>
<line x1="237.35" y1="736.40" x2="237.65" y2="736.40" stroke="#6f6f6f" stroke-width="0.55"/>
<line x1="237.35" y1="804.44" x2="238.73" y2="804.44" stroke="#6f6f6f" stroke-width="0.55"/>
<line x1="240.77" y1="832.22" x2="240.77" y2="838.32" stroke="#6f6f6f" stroke-width="0.55"/>
<line x1="240.77" y1="832.22" x2="241.40" y2="832.22" stroke="#6f6f6f" stroke-width="0.55"/>
<line x1="240.77" y1="838.32" x2="241.40" y2="838.32" stroke="#6f6f6f" stroke-width="0.55"/>
<line x1="240.09" y1="835.27" x2="240.09" y2="844.40" stroke="#6f6f6f" stroke-width="0.55"/>
<line x1="240.09" y1="835.27" x2="240.77" y2="835.27" stroke="#6f6f6f" stroke-width="0.55"/>
<line x1="240.09" y1="844.40" x2="241.40" y2="844.40" stroke="#6f6f6f" stroke-width="0.55"/>
<line x1="239.74" y1="839.84" x2="239.74" y2="850.50" stroke="#6f6f6f" stroke-width="0.55"/>
<line x1="239.74" y1="839.84" x2="240.09" y2="839.84" stroke="#6f6f6f" stroke-width="0.55"/>
<line x1="239.74" y1="850.50" x2="241.40" y2="850.50" stroke="#6f6f6f" stroke-width="0.55"/>
<line x1="239.41" y1="845.17" x2="239.41" y2="856.59" stroke="#6f6f6f" stroke-width="0.55"/>
<line x1="239.41" y1="845.17" x2="239.74" y2="845.17" stroke="#6f6f6f" stroke-width="0.55"/>
<line x1="239.41" y1="856.59" x2="241.40" y2="856.59" stroke="#6f6f6f" stroke-width="0.55"/>
<line x1="237.82" y1="826.13" x2="237.82" y2="850.88" stroke="#6f6f6f" stroke-width="0.55"/>
<line x1="237.82" y1="826.13" x2="241.40" y2="826.13" stroke="#6f6f6f" stroke-width="0.55"/>
<line x1="237.82" y1="850.88" x2="239.41" y2="850.88" stroke="#6f6f6f" stroke-width="0.55"/>
<line x1="240.80" y1="874.86" x2="240.80" y2="880.94" stroke="#6f6f6f" stroke-width="0.55"/>
<line x1="240.80" y1="874.86" x2="241.40" y2="874.86" stroke="#6f6f6f" stroke-width="0.55"/>
<line x1="240.80" y1="880.94" x2="241.40" y2="880.94" stroke="#6f6f6f" stroke-width="0.55"/>
<line x1="239.98" y1="868.76" x2="239.98" y2="877.90" stroke="#6f6f6f" stroke-width="0.55"/>
<line x1="239.98" y1="868.76" x2="241.40" y2="868.76" stroke="#6f6f6f" stroke-width="0.55"/>
<line x1="239.98" y1="877.90" x2="240.80" y2="877.90" stroke="#6f6f6f" stroke-width="0.55"/>
<line x1="239.26" y1="862.67" x2="239.26" y2="873.33" stroke="#6f6f6f" stroke-width="0.55"/>
<line x1="239.26" y1="862.67" x2="241.40" y2="862.67" stroke="#6f6f6f" stroke-width="0.55"/>
<line x1="239.26" y1="873.33" x2="239.98" y2="873.33" stroke="#6f6f6f" stroke-width="0.55"/>
<line x1="240.87" y1="887.03" x2="240.87" y2="893.12" stroke="#6f6f6f" stroke-width="0.55"/>
<line x1="240.87" y1="887.03" x2="241.40" y2="887.03" stroke="#6f6f6f" stroke-width="0.55"/>
<line x1="240.87" y1="893.12" x2="241.40" y2="893.12" stroke="#6f6f6f" stroke-width="0.55"/>
<line x1="240.32" y1="890.08" x2="240.32" y2="899.21" stroke="#6f6f6f" stroke-width="0.55"/>
<line x1="240.32" y1="890.08" x2="240.87" y2="890.08" stroke="#6f6f6f" stroke-width="0.55"/>
<line x1="240.32" y1="899.21" x2="241.40" y2="899.21" stroke="#6f6f6f" stroke-width="0.55"/>
<line x1="238.96" y1="868.00" x2="238.96" y2="894.65" stroke="#6f6f6f" stroke-width="0.55"/>
<line x1="238.96" y1="868.00" x2="239.26" y2="868.00" stroke="#6f6f6f" stroke-width="0.55"/>
<line x1="238.96" y1="894.65" x2="240.32" y2="894.65" stroke="#6f6f6f" stroke-width="0.55"/>
<line x1="237.52" y1="838.51" x2="237.52" y2="881.33" stroke="#6f6f6f" stroke-width="0.55"/>
<line x1="237.52" y1="838.51" x2="237.82" y2="838.51" stroke="#6f6f6f" stroke-width="0.55"/>
<line x1="237.52" y1="881.33" x2="238.96" y2="881.33" stroke="#6f6f6f" stroke-width="0.55"/>
<line x1="237.22" y1="820.05" x2="237.22" y2="859.92" stroke="#6f6f6f" stroke-width="0.55"/>
<line x1="237.22" y1="820.05" x2="241.40" y2="820.05" stroke="#6f6f6f" stroke-width="0.55"/>
<line x1="237.22" y1="859.92" x2="237.52" y2="859.92" stroke="#6f6f6f" stroke-width="0.55"/>
<line x1="235.94" y1="770.42" x2="235.94" y2="839.98" stroke="#6f6f6f" stroke-width="0.55"/>
<line x1="235.94" y1="770.42" x2="237.35" y2="770.42" stroke="#6f6f6f" stroke-width="0.55"/>
<line x1="235.94" y1="839.98" x2="237.22" y2="839.98" stroke="#6f6f6f" stroke-width="0.55"/>
<line x1="235.64" y1="700.53" x2="235.64" y2="805.20" stroke="#6f6f6f" stroke-width="0.55"/>
<line x1="235.64" y1="700.53" x2="239.67" y2="700.53" stroke="#6f6f6f" stroke-width="0.55"/>
<line x1="235.64" y1="805.20" x2="235.94" y2="805.20" stroke="#6f6f6f" stroke-width="0.55"/>
<line x1="233.70" y1="646.58" x2="233.70" y2="752.86" stroke="#6f6f6f" stroke-width="0.55"/>
<line x1="233.70" y1="646.58" x2="236.84" y2="646.58" stroke="#6f6f6f" stroke-width="0.55"/>
<line x1="233.70" y1="752.86" x2="235.64" y2="752.86" stroke="#6f6f6f" stroke-width="0.55"/>
<line x1="240.00" y1="911.39" x2="240.00" y2="917.49" stroke="#6f6f6f" stroke-width="0.55"/>
<line x1="240.00" y1="911.39" x2="241.40" y2="911.39" stroke="#6f6f6f" stroke-width="0.55"/>
<line x1="240.00" y1="917.49" x2="241.40" y2="917.49" stroke="#6f6f6f" stroke-width="0.55"/>
<line x1="239.39" y1="905.31" x2="239.39" y2="914.44" stroke="#6f6f6f" stroke-width="0.55"/>
<line x1="239.39" y1="905.31" x2="241.40" y2="905.31" stroke="#6f6f6f" stroke-width="0.55"/>
<line x1="239.39" y1="914.44" x2="240.00" y2="914.44" stroke="#6f6f6f" stroke-width="0.55"/>
<line x1="240.12" y1="923.58" x2="240.12" y2="929.66" stroke="#6f6f6f" stroke-width="0.55"/>
<line x1="240.12" y1="923.58" x2="241.40" y2="923.58" stroke="#6f6f6f" stroke-width="0.55"/>
<line x1="240.12" y1="929.66" x2="241.40" y2="929.66" stroke="#6f6f6f" stroke-width="0.55"/>
<line x1="239.09" y1="926.62" x2="239.09" y2="935.75" stroke="#6f6f6f" stroke-width="0.55"/>
<line x1="239.09" y1="926.62" x2="240.12" y2="926.62" stroke="#6f6f6f" stroke-width="0.55"/>
<line x1="239.09" y1="935.75" x2="241.40" y2="935.75" stroke="#6f6f6f" stroke-width="0.55"/>
<line x1="238.41" y1="909.87" x2="238.41" y2="931.19" stroke="#6f6f6f" stroke-width="0.55"/>
<line x1="238.41" y1="909.87" x2="239.39" y2="909.87" stroke="#6f6f6f" stroke-width="0.55"/>
<line x1="238.41" y1="931.19" x2="239.09" y2="931.19" stroke="#6f6f6f" stroke-width="0.55"/>
<line x1="240.18" y1="947.93" x2="240.18" y2="954.02" stroke="#6f6f6f" stroke-width="0.55"/>
<line x1="240.18" y1="947.93" x2="241.40" y2="947.93" stroke="#6f6f6f" stroke-width="0.55"/>
<line x1="240.18" y1="954.02" x2="241.40" y2="954.02" stroke="#6f6f6f" stroke-width="0.55"/>
<line x1="240.06" y1="960.12" x2="240.06" y2="966.20" stroke="#6f6f6f" stroke-width="0.55"/>
<line x1="240.06" y1="960.12" x2="241.40" y2="960.12" stroke="#6f6f6f" stroke-width="0.55"/>
<line x1="240.06" y1="966.20" x2="241.40" y2="966.20" stroke="#6f6f6f" stroke-width="0.55"/>
<line x1="239.43" y1="963.16" x2="239.43" y2="972.30" stroke="#6f6f6f" stroke-width="0.55"/>
<line x1="239.43" y1="963.16" x2="240.06" y2="963.16" stroke="#6f6f6f" stroke-width="0.55"/>
<line x1="239.43" y1="972.30" x2="241.40" y2="972.30" stroke="#6f6f6f" stroke-width="0.55"/>
<line x1="237.24" y1="950.98" x2="237.24" y2="967.73" stroke="#6f6f6f" stroke-width="0.55"/>
<line x1="237.24" y1="950.98" x2="240.18" y2="950.98" stroke="#6f6f6f" stroke-width="0.55"/>
<line x1="237.24" y1="967.73" x2="239.43" y2="967.73" stroke="#6f6f6f" stroke-width="0.55"/>
<line x1="236.43" y1="941.85" x2="236.43" y2="959.35" stroke="#6f6f6f" stroke-width="0.55"/>
<line x1="236.43" y1="941.85" x2="241.40" y2="941.85" stroke="#6f6f6f" stroke-width="0.55"/>
<line x1="236.43" y1="959.35" x2="237.24" y2="959.35" stroke="#6f6f6f" stroke-width="0.55"/>
<line x1="234.62" y1="920.53" x2="234.62" y2="950.60" stroke="#6f6f6f" stroke-width="0.55"/>
<line x1="234.62" y1="920.53" x2="238.41" y2="920.53" stroke="#6f6f6f" stroke-width="0.55"/>
<line x1="234.62" y1="950.60" x2="236.43" y2="950.60" stroke="#6f6f6f" stroke-width="0.55"/>
<line x1="229.30" y1="699.72" x2="229.30" y2="935.56" stroke="#6f6f6f" stroke-width="0.55"/>
<line x1="229.30" y1="699.72" x2="233.70" y2="699.72" stroke="#6f6f6f" stroke-width="0.55"/>
<line x1="229.30" y1="935.56" x2="234.62" y2="935.56" stroke="#6f6f6f" stroke-width="0.55"/>
<line x1="239.57" y1="978.38" x2="239.57" y2="984.47" stroke="#6f6f6f" stroke-width="0.55"/>
<line x1="239.57" y1="978.38" x2="241.40" y2="978.38" stroke="#6f6f6f" stroke-width="0.55"/>
<line x1="239.57" y1="984.47" x2="241.40" y2="984.47" stroke="#6f6f6f" stroke-width="0.55"/>
<line x1="237.07" y1="981.43" x2="237.07" y2="990.57" stroke="#6f6f6f" stroke-width="0.55"/>
<line x1="237.07" y1="981.43" x2="239.57" y2="981.43" stroke="#6f6f6f" stroke-width="0.55"/>
<line x1="237.07" y1="990.57" x2="241.40" y2="990.57" stroke="#6f6f6f" stroke-width="0.55"/>
<line x1="235.54" y1="986.00" x2="235.54" y2="996.65" stroke="#6f6f6f" stroke-width="0.55"/>
<line x1="235.54" y1="986.00" x2="237.07" y2="986.00" stroke="#6f6f6f" stroke-width="0.55"/>
<line x1="235.54" y1="996.65" x2="241.40" y2="996.65" stroke="#6f6f6f" stroke-width="0.55"/>
<line x1="238.79" y1="1002.75" x2="238.79" y2="1008.84" stroke="#6f6f6f" stroke-width="0.55"/>
<line x1="238.79" y1="1002.75" x2="241.40" y2="1002.75" stroke="#6f6f6f" stroke-width="0.55"/>
<line x1="238.79" y1="1008.84" x2="241.40" y2="1008.84" stroke="#6f6f6f" stroke-width="0.55"/>
<line x1="238.79" y1="1014.92" x2="238.79" y2="1021.01" stroke="#6f6f6f" stroke-width="0.55"/>
<line x1="238.79" y1="1014.92" x2="241.40" y2="1014.92" stroke="#6f6f6f" stroke-width="0.55"/>
<line x1="238.79" y1="1021.01" x2="241.40" y2="1021.01" stroke="#6f6f6f" stroke-width="0.55"/>
<line x1="236.86" y1="1005.79" x2="236.86" y2="1017.97" stroke="#6f6f6f" stroke-width="0.55"/>
<line x1="236.86" y1="1005.79" x2="238.79" y2="1005.79" stroke="#6f6f6f" stroke-width="0.55"/>
<line x1="236.86" y1="1017.97" x2="238.79" y2="1017.97" stroke="#6f6f6f" stroke-width="0.55"/>
<line x1="238.85" y1="1027.11" x2="238.85" y2="1033.19" stroke="#6f6f6f" stroke-width="0.55"/>
<line x1="238.85" y1="1027.11" x2="241.40" y2="1027.11" stroke="#6f6f6f" stroke-width="0.55"/>
<line x1="238.85" y1="1033.19" x2="241.40" y2="1033.19" stroke="#6f6f6f" stroke-width="0.55"/>
<line x1="237.30" y1="1030.15" x2="237.30" y2="1039.28" stroke="#6f6f6f" stroke-width="0.55"/>
<line x1="237.30" y1="1030.15" x2="238.85" y2="1030.15" stroke="#6f6f6f" stroke-width="0.55"/>
<line x1="237.30" y1="1039.28" x2="241.40" y2="1039.28" stroke="#6f6f6f" stroke-width="0.55"/>
<line x1="234.59" y1="1011.88" x2="234.59" y2="1034.72" stroke="#6f6f6f" stroke-width="0.55"/>
<line x1="234.59" y1="1011.88" x2="236.86" y2="1011.88" stroke="#6f6f6f" stroke-width="0.55"/>
<line x1="234.59" y1="1034.72" x2="237.30" y2="1034.72" stroke="#6f6f6f" stroke-width="0.55"/>
<line x1="231.09" y1="991.33" x2="231.09" y2="1023.30" stroke="#6f6f6f" stroke-width="0.55"/>
<line x1="231.09" y1="991.33" x2="235.54" y2="991.33" stroke="#6f6f6f" stroke-width="0.55"/>
<line x1="231.09" y1="1023.30" x2="234.59" y2="1023.30" stroke="#6f6f6f" stroke-width="0.55"/>
<line x1="216.60" y1="817.64" x2="216.60" y2="1007.31" stroke="#6f6f6f" stroke-width="0.55"/>
<line x1="216.60" y1="817.64" x2="229.30" y2="817.64" stroke="#6f6f6f" stroke-width="0.55"/>
<line x1="216.60" y1="1007.31" x2="231.09" y2="1007.31" stroke="#6f6f6f" stroke-width="0.55"/>
<line x1="212.30" y1="540.29" x2="212.30" y2="912.48" stroke="#6f6f6f" stroke-width="0.55"/>
<line x1="212.30" y1="540.29" x2="222.20" y2="540.29" stroke="#6f6f6f" stroke-width="0.55"/>
<line x1="212.30" y1="912.48" x2="216.60" y2="912.48" stroke="#6f6f6f" stroke-width="0.55"/>
</svg></body></html>
